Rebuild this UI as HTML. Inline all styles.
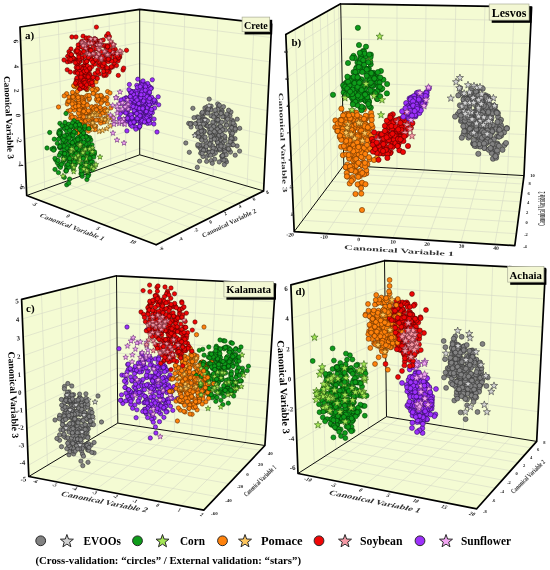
<!DOCTYPE html>
<html><head><meta charset="utf-8"><title>Canonical variable plots</title>
<style>
html,body{margin:0;padding:0;background:#fff}
svg{display:block}
text{font-family:"Liberation Serif",serif;font-weight:bold;fill:#000}
.w{fill:#f4fbd3;stroke:none}
.g{fill:none;stroke:#d5d9c6;stroke-width:.6}
.e{fill:none;stroke:#000;stroke-width:1.7;stroke-linecap:round}
.et{fill:none;stroke:#000;stroke-width:.95}
circle{stroke-width:.6}polygon{stroke-width:.6}
.gy{fill:#828282;stroke:#333}
.gn{fill:#0e9c1a;stroke:#023a05}
.or{fill:#ff820c;stroke:#663000}
.rd{fill:#f00606;stroke:#560000}
.pu{fill:#9d30fb;stroke:#2e0860}
.gys{fill:#d2d2d2;stroke:#3a3a3a}
.gns{fill:#a4e655;stroke:#2f5f12}
.ors{fill:#ffc65c;stroke:#7a4a08}
.rds{fill:#f79aa6;stroke:#7a2a38}
.pus{fill:#f2a6f2;stroke:#6a2a7a}
.pl{font-size:11px}
.ax{fill:#000}
.ax2{fill:#333}
.tk{fill:#222}
.L{stroke-width:1;stroke:#2a2a2a}
</style></head><body>
<svg width="550" height="570" viewBox="0 0 550 570">
<rect width="550" height="570" fill="#fff"/>
<polygon class="w" points="20,27 139.7,9.4 139.7,154.8 26.7,195.5"/>
<path class="g" d="M39 24.2L44.7 189M58.3 21.4L62.9 182.5M76 18.8L79.6 176.5M93 16.3L95.6 170.7M109.1 13.9L110.8 165.2M125 11.6L125.8 159.8M20.5 40.6L139.7 21.2M21.5 65.2L139.7 42.4M22.5 89.9L139.7 63.6M23.5 114.5L139.7 84.9M24.5 139.1L139.7 106.1M25.4 163.7L139.7 127.3M26.4 188.3L139.7 148.5"/>
<polygon class="w" points="139.7,9.4 271.6,24 263.6,190.9 139.7,154.8"/>
<path class="g" d="M153.9 11L153.1 158.7M184.7 14.4L181.9 167.1M217.8 18L213 176.2M254.1 22.1L247.1 186.1M139.7 21.2L271 37.5M139.7 42.4L269.8 61.9M139.7 63.6L268.6 86.3M139.7 84.9L267.4 110.6M139.7 106.1L266.3 135M139.7 127.3L265.1 159.4M139.7 148.5L263.9 183.7"/>
<polygon class="w" points="26.7,195.5 139.7,154.8 263.6,190.9 156.2,244.8"/>
<path class="g" d="M44.7 189L173.3 236.2M62.9 182.5L190.6 227.6M79.6 176.5L206.5 219.6M95.6 170.7L221.7 211.9M110.8 165.2L236.1 204.7M125.8 159.8L250.4 197.5M40.7 200.8L153.1 158.7M70.9 212.3L181.9 167.1M103.4 224.7L213 176.2M139 238.2L247.1 186.1"/>
<path class="et" d="M139.7 9.4L139.7 154.8M26.7 195.5L139.7 154.8M139.7 154.8L263.6 190.9"/>
<path class="e" d="M20 27L139.7 9.4M139.7 9.4L271.6 24M20 27L26.7 195.5M26.7 195.5L156.2 244.8M156.2 244.8L263.6 190.9M271.6 24L263.6 190.9"/>
<circle class="gy" cx="197.3" cy="167.4" r="2.15"/>
<circle class="gy" cx="200.4" cy="135.3" r="2.15"/>
<circle class="gy" cx="206.1" cy="125.5" r="2.15"/>
<circle class="gy" cx="231" cy="126.9" r="2.15"/>
<circle class="gy" cx="206" cy="150.9" r="2.15"/>
<circle class="gy" cx="188.7" cy="123.4" r="2.15"/>
<circle class="gy" cx="222.1" cy="127.7" r="2.15"/>
<circle class="gy" cx="201.3" cy="139.3" r="2.15"/>
<circle class="gy" cx="233.6" cy="125.2" r="2.15"/>
<circle class="gy" cx="228.2" cy="114.7" r="2.15"/>
<circle class="gy" cx="210.8" cy="142.4" r="2.15"/>
<circle class="gy" cx="237.1" cy="146" r="2.15"/>
<circle class="gy" cx="197.9" cy="146.1" r="2.15"/>
<circle class="gy" cx="221.7" cy="156" r="2.15"/>
<circle class="gy" cx="205.9" cy="121.7" r="2.15"/>
<circle class="gy" cx="201.6" cy="133.8" r="2.15"/>
<circle class="gy" cx="218.2" cy="144.3" r="2.15"/>
<circle class="gy" cx="206.6" cy="161.4" r="2.15"/>
<circle class="gy" cx="202.7" cy="144.8" r="2.15"/>
<circle class="gy" cx="218.6" cy="127.5" r="2.15"/>
<circle class="gy" cx="199.8" cy="126.9" r="2.15"/>
<circle class="gy" cx="230" cy="115.6" r="2.15"/>
<circle class="gy" cx="235.2" cy="155.2" r="2.15"/>
<circle class="gy" cx="204" cy="149.5" r="2.15"/>
<circle class="gy" cx="235" cy="138.7" r="2.15"/>
<circle class="gy" cx="235.1" cy="130.7" r="2.15"/>
<circle class="gy" cx="217" cy="120.9" r="2.15"/>
<circle class="gy" cx="217.9" cy="115.9" r="2.15"/>
<circle class="gy" cx="198.4" cy="136.6" r="2.15"/>
<circle class="gy" cx="191.2" cy="123.4" r="2.15"/>
<circle class="gy" cx="234.7" cy="125.1" r="2.15"/>
<circle class="gy" cx="231.1" cy="132.8" r="2.15"/>
<circle class="gy" cx="231.9" cy="141.1" r="2.15"/>
<circle class="gy" cx="214.5" cy="123.9" r="2.15"/>
<circle class="gy" cx="208.8" cy="152.2" r="2.15"/>
<circle class="gy" cx="222" cy="110.4" r="2.15"/>
<circle class="gy" cx="232.4" cy="138.8" r="2.15"/>
<circle class="gy" cx="212.2" cy="115.9" r="2.15"/>
<circle class="gy" cx="232.6" cy="144.8" r="2.15"/>
<circle class="gy" cx="219.8" cy="143.9" r="2.15"/>
<circle class="gy" cx="209.5" cy="133" r="2.15"/>
<circle class="gy" cx="223.5" cy="106.7" r="2.15"/>
<circle class="gy" cx="220.7" cy="145.8" r="2.15"/>
<circle class="gy" cx="222.8" cy="142.5" r="2.15"/>
<circle class="gy" cx="219.9" cy="141" r="2.15"/>
<circle class="gy" cx="204.5" cy="131.5" r="2.15"/>
<circle class="gy" cx="200.2" cy="147.9" r="2.15"/>
<circle class="gy" cx="224.2" cy="116.5" r="2.15"/>
<circle class="gy" cx="211.6" cy="138.2" r="2.15"/>
<circle class="gy" cx="220.4" cy="134.5" r="2.15"/>
<circle class="gy" cx="230.5" cy="152.1" r="2.15"/>
<circle class="gy" cx="202.6" cy="138.1" r="2.15"/>
<circle class="gy" cx="206.5" cy="156.6" r="2.15"/>
<circle class="gy" cx="226.8" cy="149.2" r="2.15"/>
<circle class="gy" cx="212.3" cy="134.7" r="2.15"/>
<circle class="gy" cx="218.4" cy="107.3" r="2.15"/>
<circle class="gy" cx="223.8" cy="155.4" r="2.15"/>
<circle class="gy" cx="216.3" cy="119.4" r="2.15"/>
<circle class="gy" cx="231.4" cy="135.3" r="2.15"/>
<circle class="gy" cx="205.6" cy="124.2" r="2.15"/>
<circle class="gy" cx="185.8" cy="143" r="2.15"/>
<circle class="gy" cx="204.9" cy="108" r="2.15"/>
<circle class="gy" cx="199.3" cy="145.3" r="2.15"/>
<circle class="gy" cx="220.3" cy="139.5" r="2.15"/>
<circle class="gy" cx="211.1" cy="106.1" r="2.15"/>
<circle class="gy" cx="226.2" cy="125.1" r="2.15"/>
<circle class="gy" cx="209.2" cy="99.1" r="2.15"/>
<circle class="gy" cx="230.8" cy="138" r="2.15"/>
<circle class="gy" cx="224.5" cy="152.2" r="2.15"/>
<circle class="gy" cx="218.1" cy="119.8" r="2.15"/>
<circle class="gy" cx="192.9" cy="108.3" r="2.15"/>
<circle class="gy" cx="231.8" cy="120" r="2.15"/>
<circle class="gy" cx="231.1" cy="144.5" r="2.15"/>
<circle class="gy" cx="219.1" cy="148.9" r="2.15"/>
<circle class="gy" cx="216.5" cy="127.8" r="2.15"/>
<circle class="gy" cx="225.4" cy="130.1" r="2.15"/>
<circle class="gy" cx="211" cy="115.8" r="2.15"/>
<circle class="gy" cx="214.3" cy="152.4" r="2.15"/>
<circle class="gy" cx="205.3" cy="112" r="2.15"/>
<circle class="gy" cx="226.5" cy="161.9" r="2.15"/>
<circle class="gy" cx="230.7" cy="139.4" r="2.15"/>
<circle class="gy" cx="226.1" cy="117.1" r="2.15"/>
<circle class="gy" cx="215.6" cy="129" r="2.15"/>
<circle class="gy" cx="210.3" cy="108.8" r="2.15"/>
<circle class="gy" cx="207" cy="107.1" r="2.15"/>
<circle class="gy" cx="200.7" cy="153.2" r="2.15"/>
<circle class="gy" cx="202.7" cy="116.8" r="2.15"/>
<circle class="gy" cx="216.2" cy="114.1" r="2.15"/>
<circle class="gy" cx="233.1" cy="121.5" r="2.15"/>
<circle class="gy" cx="218.1" cy="149.8" r="2.15"/>
<circle class="gy" cx="211" cy="110" r="2.15"/>
<circle class="gy" cx="198.7" cy="131.8" r="2.15"/>
<circle class="gy" cx="225.1" cy="140.7" r="2.15"/>
<circle class="gy" cx="209.1" cy="128.8" r="2.15"/>
<circle class="gy" cx="237.2" cy="119.2" r="2.15"/>
<circle class="gy" cx="202.4" cy="114" r="2.15"/>
<circle class="gy" cx="202.6" cy="129.9" r="2.15"/>
<circle class="gy" cx="228.1" cy="144.9" r="2.15"/>
<circle class="gy" cx="217.7" cy="129.1" r="2.15"/>
<circle class="gy" cx="202.1" cy="119.3" r="2.15"/>
<circle class="gy" cx="207.1" cy="112.5" r="2.15"/>
<circle class="gy" cx="191.1" cy="127" r="2.15"/>
<circle class="gy" cx="214.7" cy="159.2" r="2.15"/>
<circle class="gy" cx="218.2" cy="147.6" r="2.15"/>
<circle class="gy" cx="207.7" cy="110.3" r="2.15"/>
<circle class="gy" cx="229.8" cy="130.2" r="2.15"/>
<circle class="gy" cx="216.7" cy="148.2" r="2.15"/>
<circle class="gy" cx="215.5" cy="137.5" r="2.15"/>
<circle class="gy" cx="209.1" cy="107" r="2.15"/>
<circle class="gy" cx="217.8" cy="109.5" r="2.15"/>
<circle class="gy" cx="223.7" cy="149" r="2.15"/>
<circle class="gy" cx="196" cy="134.2" r="2.15"/>
<circle class="gy" cx="219.2" cy="147.3" r="2.15"/>
<circle class="gy" cx="205.5" cy="123" r="2.15"/>
<circle class="gy" cx="203.8" cy="131.1" r="2.15"/>
<circle class="gy" cx="231.8" cy="127.8" r="2.15"/>
<circle class="gy" cx="210.8" cy="146.3" r="2.15"/>
<circle class="gy" cx="211" cy="160.6" r="2.15"/>
<circle class="gy" cx="202.7" cy="120.2" r="2.15"/>
<circle class="gy" cx="214.2" cy="114.2" r="2.15"/>
<circle class="gy" cx="222.1" cy="111.9" r="2.15"/>
<circle class="gy" cx="215.5" cy="149" r="2.15"/>
<circle class="gy" cx="223.8" cy="148.7" r="2.15"/>
<circle class="gy" cx="219.9" cy="123.8" r="2.15"/>
<circle class="gy" cx="204.8" cy="113.1" r="2.15"/>
<circle class="gy" cx="199.1" cy="125.1" r="2.15"/>
<circle class="gy" cx="211" cy="139.5" r="2.15"/>
<circle class="gy" cx="215.4" cy="153.1" r="2.15"/>
<circle class="gy" cx="211" cy="151.6" r="2.15"/>
<circle class="gy" cx="212.7" cy="145.9" r="2.15"/>
<circle class="gy" cx="213.1" cy="154.3" r="2.15"/>
<circle class="gy" cx="201.7" cy="113.4" r="2.15"/>
<circle class="gy" cx="209.7" cy="144.1" r="2.15"/>
<circle class="gy" cx="210.1" cy="132.3" r="2.15"/>
<circle class="gy" cx="227.2" cy="116.2" r="2.15"/>
<circle class="gy" cx="231" cy="112" r="2.15"/>
<circle class="gy" cx="212.8" cy="122.1" r="2.15"/>
<circle class="gy" cx="225" cy="137.6" r="2.15"/>
<circle class="gy" cx="220.9" cy="132.7" r="2.15"/>
<circle class="gy" cx="216.6" cy="140.1" r="2.15"/>
<circle class="gy" cx="197.4" cy="122.9" r="2.15"/>
<circle class="gy" cx="228.6" cy="110.2" r="2.15"/>
<circle class="gy" cx="221.9" cy="147.1" r="2.15"/>
<circle class="gy" cx="205.2" cy="119.4" r="2.15"/>
<circle class="gy" cx="218.1" cy="133.9" r="2.15"/>
<circle class="gy" cx="231.7" cy="135.1" r="2.15"/>
<circle class="gy" cx="219.9" cy="136.9" r="2.15"/>
<circle class="gy" cx="230.9" cy="122.9" r="2.15"/>
<circle class="gy" cx="202.4" cy="112.3" r="2.15"/>
<circle class="gy" cx="217.8" cy="133.7" r="2.15"/>
<circle class="gy" cx="189.3" cy="152.3" r="2.15"/>
<circle class="gy" cx="217.5" cy="142.1" r="2.15"/>
<circle class="gy" cx="212.3" cy="163.3" r="2.15"/>
<circle class="gy" cx="212.1" cy="135.7" r="2.15"/>
<circle class="gy" cx="197.4" cy="116.9" r="2.15"/>
<circle class="gy" cx="198.2" cy="132.9" r="2.15"/>
<circle class="gy" cx="205.4" cy="148.2" r="2.15"/>
<circle class="gy" cx="205.2" cy="122.7" r="2.15"/>
<circle class="gy" cx="222.7" cy="116.8" r="2.15"/>
<circle class="gy" cx="215.5" cy="132.5" r="2.15"/>
<circle class="gy" cx="190.3" cy="124" r="2.15"/>
<circle class="gy" cx="223.9" cy="146.4" r="2.15"/>
<circle class="gy" cx="218.5" cy="146.7" r="2.15"/>
<circle class="gy" cx="203.4" cy="124.1" r="2.15"/>
<circle class="gy" cx="208.2" cy="109" r="2.15"/>
<circle class="gy" cx="200.3" cy="120" r="2.15"/>
<circle class="gy" cx="201.4" cy="128.7" r="2.15"/>
<circle class="gy" cx="225.6" cy="160.1" r="2.15"/>
<circle class="gy" cx="200.4" cy="120.7" r="2.15"/>
<circle class="gy" cx="218.9" cy="136.3" r="2.15"/>
<circle class="gy" cx="231.1" cy="132.8" r="2.15"/>
<circle class="gy" cx="208" cy="125.9" r="2.15"/>
<circle class="gy" cx="205.6" cy="149.5" r="2.15"/>
<circle class="gy" cx="201.1" cy="149.3" r="2.15"/>
<circle class="gy" cx="229.1" cy="149.6" r="2.15"/>
<circle class="gy" cx="235.4" cy="128.4" r="2.15"/>
<circle class="gy" cx="206.4" cy="142.1" r="2.15"/>
<circle class="gy" cx="216.8" cy="137.8" r="2.15"/>
<circle class="gy" cx="235.2" cy="129" r="2.15"/>
<circle class="gy" cx="232.5" cy="133.3" r="2.15"/>
<circle class="gy" cx="217.6" cy="142.3" r="2.15"/>
<circle class="gy" cx="218.1" cy="137.5" r="2.15"/>
<circle class="gy" cx="221.2" cy="112.6" r="2.15"/>
<circle class="gy" cx="204" cy="136.6" r="2.15"/>
<circle class="gy" cx="239.6" cy="151.1" r="2.15"/>
<circle class="gy" cx="198.6" cy="117.6" r="2.15"/>
<circle class="gy" cx="206.4" cy="146.5" r="2.15"/>
<circle class="gy" cx="211" cy="125.7" r="2.15"/>
<circle class="gy" cx="205.4" cy="140.2" r="2.15"/>
<circle class="gy" cx="225.1" cy="151.8" r="2.15"/>
<circle class="gy" cx="203" cy="156.5" r="2.15"/>
<circle class="gy" cx="231.3" cy="138.5" r="2.15"/>
<circle class="gy" cx="202.1" cy="151.8" r="2.15"/>
<circle class="gy" cx="216.3" cy="113.9" r="2.15"/>
<circle class="gy" cx="210.2" cy="126.7" r="2.15"/>
<circle class="gy" cx="220.2" cy="150.2" r="2.15"/>
<circle class="gy" cx="239.7" cy="128.3" r="2.15"/>
<circle class="gy" cx="224" cy="154.9" r="2.15"/>
<circle class="gy" cx="219.9" cy="148.8" r="2.15"/>
<circle class="gy" cx="220.8" cy="144.8" r="2.15"/>
<circle class="gy" cx="197.5" cy="127.1" r="2.15"/>
<circle class="gy" cx="226.6" cy="125.1" r="2.15"/>
<circle class="gy" cx="195.3" cy="123.6" r="2.15"/>
<circle class="gy" cx="210.7" cy="136.4" r="2.15"/>
<circle class="gy" cx="222" cy="160" r="2.15"/>
<circle class="gy" cx="207.4" cy="113.1" r="2.15"/>
<circle class="gy" cx="207.5" cy="120.8" r="2.15"/>
<circle class="gy" cx="213.6" cy="126.6" r="2.15"/>
<circle class="gy" cx="226.2" cy="154.8" r="2.15"/>
<circle class="gy" cx="201.8" cy="130.5" r="2.15"/>
<circle class="gy" cx="228.4" cy="148.8" r="2.15"/>
<circle class="gy" cx="216.6" cy="139" r="2.15"/>
<circle class="gy" cx="226.8" cy="114.1" r="2.15"/>
<circle class="gy" cx="221.1" cy="146.1" r="2.15"/>
<circle class="gy" cx="214.3" cy="131.6" r="2.15"/>
<circle class="gy" cx="194" cy="117.7" r="2.15"/>
<circle class="gy" cx="201.2" cy="131.1" r="2.15"/>
<circle class="gy" cx="203.5" cy="150.2" r="2.15"/>
<circle class="gy" cx="220.5" cy="126.6" r="2.15"/>
<circle class="gy" cx="197.8" cy="144.7" r="2.15"/>
<circle class="gy" cx="199.6" cy="161.2" r="2.15"/>
<circle class="gy" cx="202.2" cy="153.4" r="2.15"/>
<circle class="gy" cx="217.9" cy="119.8" r="2.15"/>
<circle class="gy" cx="226" cy="120.8" r="2.15"/>
<circle class="gy" cx="230.1" cy="141.8" r="2.15"/>
<circle class="gy" cx="217.7" cy="103.9" r="2.15"/>
<circle class="gy" cx="201.8" cy="140.1" r="2.15"/>
<circle class="gy" cx="208.9" cy="154.9" r="2.15"/>
<circle class="gy" cx="224.6" cy="136.2" r="2.15"/>
<circle class="gy" cx="213.7" cy="117" r="2.15"/>
<polygon class="gys" points="199.4,120.5 200.1,122.4 202.2,122.5 200.6,123.8 201.1,125.7 199.4,124.6 197.7,125.7 198.2,123.8 196.6,122.5 198.7,122.4"/>
<circle class="gy" cx="219.4" cy="105.2" r="2.15"/>
<circle class="gy" cx="222.5" cy="129.8" r="2.15"/>
<circle class="gy" cx="219" cy="135.2" r="2.15"/>
<circle class="gy" cx="211.2" cy="129" r="2.15"/>
<circle class="gy" cx="221" cy="113.5" r="2.15"/>
<polygon class="gys" points="209,102.9 209.7,104.8 211.8,104.9 210.2,106.2 210.7,108.1 209,107 207.3,108.1 207.8,106.2 206.2,104.9 208.3,104.8"/>
<circle class="gy" cx="222.1" cy="134.5" r="2.15"/>
<circle class="gy" cx="224.3" cy="164.7" r="2.15"/>
<circle class="gy" cx="219.9" cy="131.6" r="2.15"/>
<circle class="gy" cx="223.9" cy="160.1" r="2.15"/>
<circle class="gy" cx="215.2" cy="110.1" r="2.15"/>
<circle class="gy" cx="214.4" cy="139.1" r="2.15"/>
<circle class="gy" cx="209.6" cy="152.6" r="2.15"/>
<circle class="gy" cx="221.6" cy="122.2" r="2.15"/>
<circle class="gy" cx="200.4" cy="127.2" r="2.15"/>
<polygon class="gys" points="205,117.1 205.7,119 207.8,119.1 206.2,120.4 206.7,122.3 205,121.2 203.3,122.3 203.8,120.4 202.2,119.1 204.3,119"/>
<circle class="gy" cx="222.2" cy="156.3" r="2.15"/>
<circle class="gy" cx="213.2" cy="148.2" r="2.15"/>
<polygon class="gys" points="194.7,132.6 195.4,134.5 197.5,134.6 195.9,135.9 196.4,137.8 194.7,136.7 193,137.8 193.5,135.9 191.9,134.6 194,134.5"/>
<circle class="gy" cx="227.6" cy="119.1" r="2.15"/>
<circle class="gy" cx="219.2" cy="162" r="2.15"/>
<circle class="gy" cx="212.3" cy="151.8" r="2.15"/>
<circle class="gy" cx="222.6" cy="155.6" r="2.15"/>
<circle class="gy" cx="233.3" cy="144.7" r="2.15"/>
<circle class="gy" cx="210.7" cy="155.3" r="2.15"/>
<circle class="gy" cx="233.1" cy="123.1" r="2.15"/>
<circle class="gy" cx="205.2" cy="137.2" r="2.15"/>
<circle class="gy" cx="198.9" cy="121.1" r="2.15"/>
<circle class="or" cx="100.9" cy="102.1" r="2.15"/>
<circle class="or" cx="98.2" cy="113.4" r="2.15"/>
<circle class="or" cx="76.1" cy="124.1" r="2.15"/>
<circle class="or" cx="97" cy="114.6" r="2.15"/>
<circle class="or" cx="97.3" cy="89.4" r="2.15"/>
<circle class="or" cx="97.9" cy="99.1" r="2.15"/>
<circle class="or" cx="85.1" cy="113.2" r="2.15"/>
<circle class="or" cx="92" cy="119.2" r="2.15"/>
<circle class="or" cx="82.6" cy="111.2" r="2.15"/>
<circle class="or" cx="78.8" cy="109.2" r="2.15"/>
<circle class="or" cx="98.2" cy="120" r="2.15"/>
<circle class="or" cx="83.1" cy="100.1" r="2.15"/>
<circle class="or" cx="75.1" cy="96.2" r="2.15"/>
<circle class="or" cx="79.8" cy="100.8" r="2.15"/>
<circle class="or" cx="84.6" cy="97.3" r="2.15"/>
<circle class="or" cx="95.7" cy="126.6" r="2.15"/>
<circle class="or" cx="93.6" cy="88" r="2.15"/>
<circle class="or" cx="67.3" cy="104" r="2.15"/>
<circle class="or" cx="72.4" cy="96.2" r="2.15"/>
<circle class="or" cx="86.8" cy="89.7" r="2.15"/>
<circle class="or" cx="99.1" cy="107.8" r="2.15"/>
<circle class="or" cx="92" cy="119.2" r="2.15"/>
<circle class="or" cx="108.4" cy="116.6" r="2.15"/>
<circle class="or" cx="82.4" cy="118.2" r="2.15"/>
<circle class="or" cx="77.8" cy="128.4" r="2.15"/>
<circle class="or" cx="67.9" cy="101.4" r="2.15"/>
<circle class="or" cx="70" cy="100" r="2.15"/>
<circle class="or" cx="71.1" cy="101" r="2.15"/>
<circle class="or" cx="79" cy="105.6" r="2.15"/>
<circle class="or" cx="107.5" cy="103.9" r="2.15"/>
<circle class="or" cx="76" cy="129.8" r="2.15"/>
<circle class="or" cx="73.5" cy="97.5" r="2.15"/>
<circle class="or" cx="81.8" cy="117" r="2.15"/>
<circle class="or" cx="68.9" cy="101.1" r="2.15"/>
<circle class="or" cx="88.1" cy="128.2" r="2.15"/>
<circle class="or" cx="83.8" cy="101.1" r="2.15"/>
<circle class="or" cx="89" cy="99.6" r="2.15"/>
<circle class="or" cx="87.4" cy="111.8" r="2.15"/>
<circle class="or" cx="100" cy="114.9" r="2.15"/>
<circle class="or" cx="79.9" cy="87.9" r="2.15"/>
<circle class="or" cx="85.4" cy="120.7" r="2.15"/>
<circle class="or" cx="84.4" cy="128.7" r="2.15"/>
<circle class="or" cx="80.2" cy="104.6" r="2.15"/>
<circle class="or" cx="93.6" cy="93.1" r="2.15"/>
<circle class="or" cx="81.2" cy="100.4" r="2.15"/>
<circle class="or" cx="95.3" cy="129.5" r="2.15"/>
<circle class="or" cx="82.2" cy="106.7" r="2.15"/>
<circle class="or" cx="92.3" cy="124.5" r="2.15"/>
<circle class="or" cx="96.9" cy="89.1" r="2.15"/>
<circle class="or" cx="82.7" cy="122.6" r="2.15"/>
<circle class="or" cx="77.8" cy="109.2" r="2.15"/>
<circle class="or" cx="95.1" cy="90.9" r="2.15"/>
<circle class="or" cx="89.7" cy="114.7" r="2.15"/>
<circle class="or" cx="103" cy="101.2" r="2.15"/>
<circle class="or" cx="99.3" cy="95.8" r="2.15"/>
<circle class="or" cx="76.8" cy="107" r="2.15"/>
<circle class="or" cx="75.3" cy="125.5" r="2.15"/>
<circle class="or" cx="82.2" cy="110.6" r="2.15"/>
<circle class="or" cx="81.1" cy="106.7" r="2.15"/>
<circle class="or" cx="91.7" cy="127.8" r="2.15"/>
<circle class="or" cx="96.5" cy="99.5" r="2.15"/>
<circle class="or" cx="89.4" cy="98.3" r="2.15"/>
<circle class="or" cx="83.9" cy="123.8" r="2.15"/>
<circle class="or" cx="74" cy="121.3" r="2.15"/>
<circle class="or" cx="67.9" cy="111.2" r="2.15"/>
<circle class="or" cx="75.3" cy="94.3" r="2.15"/>
<circle class="or" cx="75.3" cy="95.9" r="2.15"/>
<circle class="or" cx="78.9" cy="119.3" r="2.15"/>
<circle class="or" cx="76.1" cy="119.3" r="2.15"/>
<circle class="or" cx="75.3" cy="105.5" r="2.15"/>
<circle class="or" cx="96.2" cy="120.1" r="2.15"/>
<circle class="or" cx="68.9" cy="96.9" r="2.15"/>
<circle class="or" cx="70.7" cy="117.9" r="2.15"/>
<circle class="or" cx="84.9" cy="125.2" r="2.15"/>
<circle class="or" cx="81" cy="121.8" r="2.15"/>
<circle class="or" cx="106.3" cy="100.3" r="2.15"/>
<circle class="or" cx="82.4" cy="115.1" r="2.15"/>
<circle class="or" cx="81.7" cy="125" r="2.15"/>
<circle class="or" cx="79.9" cy="130.6" r="2.15"/>
<circle class="or" cx="83.4" cy="104.3" r="2.15"/>
<circle class="or" cx="77.6" cy="103.1" r="2.15"/>
<circle class="or" cx="79.8" cy="115.6" r="2.15"/>
<circle class="or" cx="96.2" cy="106.2" r="2.15"/>
<circle class="or" cx="102.5" cy="97.8" r="2.15"/>
<circle class="or" cx="84.6" cy="106.3" r="2.15"/>
<circle class="or" cx="81.2" cy="112.3" r="2.15"/>
<circle class="or" cx="75" cy="102.9" r="2.15"/>
<circle class="or" cx="75" cy="117.5" r="2.15"/>
<circle class="or" cx="83.1" cy="99.6" r="2.15"/>
<circle class="or" cx="78.5" cy="113.2" r="2.15"/>
<circle class="or" cx="76.8" cy="86.9" r="2.15"/>
<circle class="or" cx="102.6" cy="111.9" r="2.15"/>
<circle class="or" cx="102.2" cy="100.9" r="2.15"/>
<circle class="or" cx="74.4" cy="110.1" r="2.15"/>
<circle class="or" cx="71.3" cy="115.2" r="2.15"/>
<circle class="or" cx="106.1" cy="109.8" r="2.15"/>
<circle class="or" cx="81.6" cy="100.4" r="2.15"/>
<circle class="or" cx="101.4" cy="96.3" r="2.15"/>
<circle class="or" cx="92.3" cy="110.2" r="2.15"/>
<circle class="or" cx="72.9" cy="107.7" r="2.15"/>
<circle class="or" cx="105.2" cy="113" r="2.15"/>
<circle class="or" cx="72.7" cy="97.2" r="2.15"/>
<circle class="or" cx="96.9" cy="96" r="2.15"/>
<circle class="or" cx="88.4" cy="131.1" r="2.15"/>
<circle class="or" cx="79.3" cy="109.9" r="2.15"/>
<circle class="or" cx="92.1" cy="107" r="2.15"/>
<circle class="or" cx="103.8" cy="122" r="2.15"/>
<circle class="or" cx="72.9" cy="101.4" r="2.15"/>
<circle class="or" cx="74" cy="98.3" r="2.15"/>
<circle class="or" cx="82.5" cy="105.1" r="2.15"/>
<circle class="or" cx="83.3" cy="105.2" r="2.15"/>
<circle class="or" cx="86.8" cy="104.2" r="2.15"/>
<circle class="or" cx="104.4" cy="109.8" r="2.15"/>
<circle class="or" cx="85.7" cy="121" r="2.15"/>
<circle class="or" cx="107.6" cy="91.6" r="2.15"/>
<circle class="or" cx="93.1" cy="108" r="2.15"/>
<circle class="or" cx="81.5" cy="97.8" r="2.15"/>
<circle class="or" cx="87" cy="89.5" r="2.15"/>
<circle class="or" cx="91.5" cy="106.9" r="2.15"/>
<circle class="or" cx="66.6" cy="93.7" r="2.15"/>
<circle class="or" cx="82.6" cy="125.7" r="2.15"/>
<circle class="or" cx="88.4" cy="86.2" r="2.15"/>
<circle class="or" cx="83.5" cy="112.4" r="2.15"/>
<circle class="or" cx="64.2" cy="95.9" r="2.15"/>
<circle class="or" cx="84.8" cy="109.9" r="2.15"/>
<circle class="or" cx="74.4" cy="86.5" r="2.15"/>
<circle class="or" cx="100.7" cy="123.1" r="2.15"/>
<circle class="or" cx="76.6" cy="123.4" r="2.15"/>
<circle class="or" cx="110.9" cy="107.9" r="2.15"/>
<circle class="or" cx="72.1" cy="117.1" r="2.15"/>
<circle class="or" cx="79.2" cy="97.8" r="2.15"/>
<circle class="or" cx="74.6" cy="103.9" r="2.15"/>
<circle class="or" cx="72.2" cy="103.9" r="2.15"/>
<circle class="or" cx="110" cy="93" r="2.15"/>
<circle class="or" cx="81.2" cy="97.2" r="2.15"/>
<circle class="or" cx="78.7" cy="101.5" r="2.15"/>
<circle class="or" cx="91.7" cy="118.5" r="2.15"/>
<circle class="or" cx="90.3" cy="118.5" r="2.15"/>
<circle class="or" cx="89.2" cy="120.8" r="2.15"/>
<circle class="or" cx="75.8" cy="130.4" r="2.15"/>
<circle class="or" cx="97.6" cy="101.1" r="2.15"/>
<circle class="or" cx="82" cy="98" r="2.15"/>
<circle class="or" cx="98.4" cy="99.1" r="2.15"/>
<circle class="or" cx="75.6" cy="106.6" r="2.15"/>
<circle class="or" cx="75.8" cy="127.8" r="2.15"/>
<circle class="or" cx="77.4" cy="91.4" r="2.15"/>
<circle class="or" cx="78.5" cy="133.6" r="2.15"/>
<circle class="or" cx="104.5" cy="119.2" r="2.15"/>
<circle class="or" cx="102.9" cy="113" r="2.15"/>
<circle class="or" cx="88.6" cy="126" r="2.15"/>
<circle class="or" cx="87.8" cy="112.8" r="2.15"/>
<circle class="or" cx="92.2" cy="89.6" r="2.15"/>
<circle class="or" cx="85.4" cy="110.3" r="2.15"/>
<circle class="or" cx="88.3" cy="112.7" r="2.15"/>
<circle class="or" cx="72.5" cy="92.4" r="2.15"/>
<circle class="or" cx="94.6" cy="125.8" r="2.15"/>
<circle class="or" cx="87.8" cy="125.8" r="2.15"/>
<circle class="or" cx="86" cy="112.6" r="2.15"/>
<circle class="or" cx="79.7" cy="100" r="2.15"/>
<circle class="or" cx="101.1" cy="103.1" r="2.15"/>
<circle class="or" cx="106.9" cy="97.5" r="2.15"/>
<circle class="or" cx="94.8" cy="107.2" r="2.15"/>
<circle class="or" cx="82.1" cy="99.9" r="2.15"/>
<circle class="or" cx="96" cy="81.9" r="2.15"/>
<circle class="or" cx="93.4" cy="108.7" r="2.15"/>
<circle class="or" cx="70.2" cy="110.4" r="2.15"/>
<circle class="or" cx="73.6" cy="85.7" r="2.15"/>
<circle class="or" cx="97.5" cy="112.3" r="2.15"/>
<circle class="or" cx="83" cy="116" r="2.15"/>
<circle class="or" cx="94.7" cy="110.4" r="2.15"/>
<circle class="or" cx="87.1" cy="95.6" r="2.15"/>
<circle class="or" cx="78" cy="82.2" r="2.15"/>
<circle class="or" cx="89.5" cy="111.5" r="2.15"/>
<circle class="or" cx="88.4" cy="110.8" r="2.15"/>
<circle class="or" cx="101.2" cy="109.1" r="2.15"/>
<circle class="or" cx="100" cy="107.5" r="2.15"/>
<circle class="or" cx="89.1" cy="95.4" r="2.15"/>
<circle class="or" cx="88.2" cy="119.3" r="2.15"/>
<circle class="or" cx="100.9" cy="95.4" r="2.15"/>
<circle class="or" cx="93.3" cy="93.4" r="2.15"/>
<circle class="or" cx="58.5" cy="107" r="2.15"/>
<circle class="or" cx="83.4" cy="131.8" r="2.15"/>
<circle class="or" cx="79.3" cy="102.7" r="2.15"/>
<circle class="or" cx="105" cy="99.5" r="2.15"/>
<circle class="or" cx="77.6" cy="96" r="2.15"/>
<polygon class="ors" points="106.7,125.9 107.4,127.8 109.5,127.9 107.9,129.1 108.4,131.1 106.7,130 105,131.1 105.6,129.1 104,127.9 106,127.8"/>
<circle class="or" cx="82.5" cy="101.7" r="2.15"/>
<polygon class="ors" points="88.6,113.6 89.3,115.5 91.3,115.6 89.7,116.9 90.3,118.9 88.6,117.7 86.8,118.9 87.4,116.9 85.8,115.6 87.8,115.5"/>
<circle class="or" cx="82.5" cy="132.2" r="2.15"/>
<circle class="or" cx="96.5" cy="109.8" r="2.15"/>
<polygon class="ors" points="94.8,122.8 95.5,124.8 97.6,124.8 96,126.1 96.5,128.1 94.8,127 93.1,128.1 93.7,126.1 92.1,124.8 94.1,124.8"/>
<polygon class="ors" points="99.2,128.6 99.9,130.5 102,130.6 100.4,131.9 100.9,133.8 99.2,132.7 97.5,133.8 98,131.9 96.4,130.6 98.5,130.5"/>
<circle class="or" cx="78.3" cy="99.7" r="2.15"/>
<polygon class="ors" points="92.5,126.8 93.3,128.7 95.3,128.8 93.7,130.1 94.3,132 92.5,130.9 90.8,132 91.4,130.1 89.8,128.8 91.8,128.7"/>
<polygon class="ors" points="104.8,116.2 105.5,118.1 107.6,118.2 106,119.5 106.5,121.5 104.8,120.3 103.1,121.5 103.7,119.5 102.1,118.2 104.1,118.1"/>
<circle class="or" cx="104.8" cy="108.6" r="2.15"/>
<circle class="or" cx="78.7" cy="105.9" r="2.15"/>
<circle class="or" cx="105.2" cy="110.8" r="2.15"/>
<circle class="or" cx="100.9" cy="120.3" r="2.15"/>
<circle class="or" cx="73" cy="96.9" r="2.15"/>
<circle class="or" cx="89.8" cy="116.3" r="2.15"/>
<polygon class="ors" points="112.8,116.7 113.5,118.6 115.6,118.7 114,120 114.5,122 112.8,120.8 111.1,122 111.6,120 110,118.7 112.1,118.6"/>
<polygon class="ors" points="112,114.2 112.7,116.1 114.8,116.2 113.2,117.5 113.7,119.4 112,118.3 110.3,119.4 110.9,117.5 109.3,116.2 111.3,116.1"/>
<polygon class="ors" points="89.5,114.2 90.2,116.1 92.2,116.2 90.6,117.5 91.2,119.5 89.5,118.3 87.7,119.5 88.3,117.5 86.7,116.2 88.7,116.1"/>
<circle class="or" cx="83.6" cy="116.9" r="2.15"/>
<circle class="or" cx="97.2" cy="96" r="2.15"/>
<polygon class="ors" points="107.1,118.7 107.8,120.7 109.8,120.8 108.2,122 108.8,124 107.1,122.9 105.4,124 105.9,122 104.3,120.8 106.4,120.7"/>
<circle class="or" cx="83.8" cy="102.7" r="2.15"/>
<polygon class="ors" points="102.5,127.5 103.2,129.5 105.3,129.6 103.7,130.8 104.2,132.8 102.5,131.7 100.8,132.8 101.4,130.8 99.8,129.6 101.8,129.5"/>
<polygon class="ors" points="94.3,109.9 95,111.8 97.1,111.9 95.5,113.2 96,115.1 94.3,114 92.6,115.1 93.2,113.2 91.6,111.9 93.6,111.8"/>
<circle class="or" cx="83.7" cy="111.3" r="2.15"/>
<polygon class="ors" points="97.1,111.6 97.8,113.5 99.9,113.6 98.3,114.9 98.8,116.9 97.1,115.7 95.4,116.9 95.9,114.9 94.3,113.6 96.4,113.5"/>
<polygon class="ors" points="94.8,112.2 95.5,114.1 97.6,114.2 96,115.4 96.5,117.4 94.8,116.3 93.1,117.4 93.7,115.4 92.1,114.2 94.1,114.1"/>
<polygon class="ors" points="107.3,107.8 108,109.7 110,109.8 108.4,111.1 109,113.1 107.3,111.9 105.5,113.1 106.1,111.1 104.5,109.8 106.5,109.7"/>
<polygon class="ors" points="102,115.8 102.8,117.7 104.8,117.8 103.2,119 103.7,121 102,119.9 100.3,121 100.9,119 99.3,117.8 101.3,117.7"/>
<polygon class="ors" points="105.1,116.7 105.8,118.6 107.9,118.7 106.3,120 106.8,121.9 105.1,120.8 103.4,121.9 103.9,120 102.3,118.7 104.4,118.6"/>
<polygon class="ors" points="110.3,123 111,124.9 113.1,125 111.5,126.3 112,128.3 110.3,127.1 108.6,128.3 109.1,126.3 107.5,125 109.6,124.9"/>
<circle class="or" cx="87.1" cy="89.1" r="2.15"/>
<polygon class="ors" points="92.4,119.8 93.1,121.7 95.1,121.8 93.5,123.1 94.1,125 92.4,123.9 90.7,125 91.2,123.1 89.6,121.8 91.6,121.7"/>
<polygon class="ors" points="108.6,114.7 109.3,116.6 111.4,116.7 109.8,118 110.3,120 108.6,118.9 106.9,120 107.4,118 105.8,116.7 107.9,116.6"/>
<polygon class="ors" points="92.6,120.2 93.3,122.1 95.4,122.2 93.8,123.5 94.3,125.4 92.6,124.3 90.9,125.4 91.5,123.5 89.9,122.2 91.9,122.1"/>
<circle class="or" cx="78.1" cy="97.4" r="2.15"/>
<polygon class="ors" points="92.5,112.4 93.2,114.3 95.2,114.4 93.6,115.7 94.2,117.7 92.5,116.5 90.8,117.7 91.3,115.7 89.7,114.4 91.8,114.3"/>
<circle class="or" cx="87.3" cy="105.2" r="2.15"/>
<circle class="rd" cx="99" cy="65.3" r="2.15"/>
<circle class="rd" cx="105" cy="57.6" r="2.15"/>
<circle class="rd" cx="78.6" cy="59.9" r="2.15"/>
<circle class="rd" cx="101.1" cy="56.3" r="2.15"/>
<circle class="rd" cx="71.2" cy="61.1" r="2.15"/>
<circle class="rd" cx="102.4" cy="45.4" r="2.15"/>
<circle class="rd" cx="85.8" cy="76.1" r="2.15"/>
<circle class="rd" cx="100" cy="63.2" r="2.15"/>
<circle class="rd" cx="90.1" cy="58.4" r="2.15"/>
<circle class="rd" cx="88.3" cy="78.8" r="2.15"/>
<circle class="rd" cx="82.5" cy="87.9" r="2.15"/>
<circle class="rd" cx="90.5" cy="49.5" r="2.15"/>
<circle class="rd" cx="98.5" cy="59.9" r="2.15"/>
<circle class="rd" cx="79.8" cy="88.5" r="2.15"/>
<circle class="rd" cx="70.9" cy="49" r="2.15"/>
<circle class="rd" cx="86.2" cy="88.5" r="2.15"/>
<circle class="rd" cx="77.6" cy="63.6" r="2.15"/>
<circle class="rd" cx="123" cy="70" r="2.15"/>
<circle class="rd" cx="82.4" cy="57.9" r="2.15"/>
<circle class="rd" cx="85.1" cy="56.4" r="2.15"/>
<circle class="rd" cx="98.5" cy="49.5" r="2.15"/>
<circle class="rd" cx="90.5" cy="84.2" r="2.15"/>
<circle class="rd" cx="80.8" cy="42.9" r="2.15"/>
<circle class="rd" cx="83.7" cy="75.4" r="2.15"/>
<circle class="rd" cx="112.7" cy="52.5" r="2.15"/>
<circle class="rd" cx="74.7" cy="59.2" r="2.15"/>
<circle class="rd" cx="94.9" cy="43.7" r="2.15"/>
<circle class="rd" cx="68.9" cy="61.3" r="2.15"/>
<circle class="rd" cx="103.6" cy="65.6" r="2.15"/>
<circle class="rd" cx="96.9" cy="41.2" r="2.15"/>
<circle class="rd" cx="89.7" cy="74.2" r="2.15"/>
<circle class="rd" cx="75.7" cy="50.9" r="2.15"/>
<circle class="rd" cx="83.6" cy="72.1" r="2.15"/>
<circle class="rd" cx="67.3" cy="61.8" r="2.15"/>
<circle class="rd" cx="106.2" cy="48.4" r="2.15"/>
<circle class="rd" cx="93.2" cy="42" r="2.15"/>
<circle class="rd" cx="107.7" cy="46.5" r="2.15"/>
<circle class="rd" cx="76.3" cy="80" r="2.15"/>
<circle class="rd" cx="88.1" cy="49" r="2.15"/>
<circle class="rd" cx="76.2" cy="52" r="2.15"/>
<circle class="rd" cx="94.6" cy="38.6" r="2.15"/>
<circle class="rd" cx="79.7" cy="71.6" r="2.15"/>
<circle class="rd" cx="114.7" cy="59.6" r="2.15"/>
<circle class="rd" cx="79.9" cy="89" r="2.15"/>
<circle class="rd" cx="75" cy="72.3" r="2.15"/>
<circle class="rd" cx="97" cy="46.7" r="2.15"/>
<circle class="rd" cx="85.3" cy="80.2" r="2.15"/>
<circle class="rd" cx="114.5" cy="53.5" r="2.15"/>
<circle class="rd" cx="106.5" cy="36" r="2.15"/>
<circle class="rd" cx="89.9" cy="38.9" r="2.15"/>
<circle class="rd" cx="76.9" cy="63.5" r="2.15"/>
<circle class="rd" cx="109.1" cy="71.1" r="2.15"/>
<circle class="rd" cx="67.7" cy="56.3" r="2.15"/>
<circle class="rd" cx="109.4" cy="36.5" r="2.15"/>
<circle class="rd" cx="104.8" cy="65.9" r="2.15"/>
<circle class="rd" cx="78.1" cy="60" r="2.15"/>
<circle class="rd" cx="105" cy="61.2" r="2.15"/>
<circle class="rd" cx="91.7" cy="77.1" r="2.15"/>
<circle class="rd" cx="108.8" cy="60.5" r="2.15"/>
<circle class="rd" cx="108.5" cy="57.2" r="2.15"/>
<circle class="rd" cx="85.6" cy="75.9" r="2.15"/>
<circle class="rd" cx="112.8" cy="66.7" r="2.15"/>
<circle class="rd" cx="98" cy="69.8" r="2.15"/>
<circle class="rd" cx="93" cy="42.7" r="2.15"/>
<circle class="rd" cx="91.8" cy="43.7" r="2.15"/>
<circle class="rd" cx="93.5" cy="54.6" r="2.15"/>
<circle class="rd" cx="89.8" cy="69.6" r="2.15"/>
<circle class="rd" cx="89.5" cy="53.6" r="2.15"/>
<circle class="rd" cx="81.4" cy="83.1" r="2.15"/>
<circle class="rd" cx="86" cy="41" r="2.15"/>
<circle class="rd" cx="87.1" cy="73.1" r="2.15"/>
<circle class="rd" cx="84" cy="67.7" r="2.15"/>
<circle class="rd" cx="97.3" cy="58" r="2.15"/>
<circle class="rd" cx="78.2" cy="45" r="2.15"/>
<circle class="rd" cx="89.1" cy="57.4" r="2.15"/>
<circle class="rd" cx="80" cy="61.1" r="2.15"/>
<circle class="rd" cx="123.7" cy="68.1" r="2.15"/>
<circle class="rd" cx="104.9" cy="45.7" r="2.15"/>
<circle class="rd" cx="81.7" cy="46.2" r="2.15"/>
<circle class="rd" cx="106.1" cy="75.3" r="2.15"/>
<circle class="rd" cx="106.7" cy="47.2" r="2.15"/>
<circle class="rd" cx="79.6" cy="79.7" r="2.15"/>
<circle class="rd" cx="81.6" cy="47" r="2.15"/>
<circle class="rd" cx="116.5" cy="65.5" r="2.15"/>
<circle class="rd" cx="71.5" cy="55.1" r="2.15"/>
<circle class="rd" cx="76.8" cy="71.8" r="2.15"/>
<circle class="rd" cx="95.6" cy="47.8" r="2.15"/>
<circle class="rd" cx="118.1" cy="60.8" r="2.15"/>
<circle class="rd" cx="71.9" cy="37" r="2.15"/>
<circle class="rd" cx="69" cy="51.7" r="2.15"/>
<circle class="rd" cx="103.8" cy="75.6" r="2.15"/>
<circle class="rd" cx="90.3" cy="51.8" r="2.15"/>
<circle class="rd" cx="113" cy="53.8" r="2.15"/>
<circle class="rd" cx="111.1" cy="43.1" r="2.15"/>
<circle class="rd" cx="69.8" cy="61" r="2.15"/>
<circle class="rd" cx="94.9" cy="60.2" r="2.15"/>
<circle class="rd" cx="94.7" cy="64.2" r="2.15"/>
<circle class="rd" cx="79.2" cy="59" r="2.15"/>
<circle class="rd" cx="103.7" cy="59.2" r="2.15"/>
<circle class="rd" cx="77.8" cy="48.5" r="2.15"/>
<circle class="rd" cx="109.1" cy="55.2" r="2.15"/>
<circle class="rd" cx="76.2" cy="84.2" r="2.15"/>
<circle class="rd" cx="85.3" cy="72.6" r="2.15"/>
<circle class="rd" cx="99.7" cy="44.5" r="2.15"/>
<circle class="rd" cx="81.9" cy="43.4" r="2.15"/>
<circle class="rd" cx="96.4" cy="77.7" r="2.15"/>
<circle class="rd" cx="77.3" cy="65.1" r="2.15"/>
<circle class="rd" cx="64" cy="60" r="2.15"/>
<circle class="rd" cx="91.7" cy="66.8" r="2.15"/>
<circle class="rd" cx="110.8" cy="67.7" r="2.15"/>
<circle class="rd" cx="107.5" cy="56.9" r="2.15"/>
<circle class="rd" cx="88.3" cy="69.7" r="2.15"/>
<circle class="rd" cx="105.8" cy="70" r="2.15"/>
<circle class="rd" cx="81.6" cy="58.1" r="2.15"/>
<circle class="rd" cx="87.1" cy="48.8" r="2.15"/>
<circle class="rd" cx="101.4" cy="51.8" r="2.15"/>
<circle class="rd" cx="96.1" cy="40.2" r="2.15"/>
<circle class="rd" cx="83.4" cy="46" r="2.15"/>
<circle class="rd" cx="83.1" cy="36.2" r="2.15"/>
<circle class="rd" cx="104.8" cy="58.7" r="2.15"/>
<circle class="rd" cx="107.7" cy="53.5" r="2.15"/>
<circle class="rd" cx="92.8" cy="49.7" r="2.15"/>
<circle class="rd" cx="90.1" cy="52.7" r="2.15"/>
<circle class="rd" cx="79.2" cy="76.4" r="2.15"/>
<circle class="rd" cx="107.4" cy="47.2" r="2.15"/>
<circle class="rd" cx="110.2" cy="45.7" r="2.15"/>
<circle class="rd" cx="89.3" cy="39.9" r="2.15"/>
<circle class="rd" cx="86.4" cy="50" r="2.15"/>
<circle class="rd" cx="84.7" cy="87.2" r="2.15"/>
<circle class="rd" cx="93.1" cy="47.4" r="2.15"/>
<circle class="rd" cx="83.6" cy="66" r="2.15"/>
<circle class="rd" cx="81.5" cy="66.8" r="2.15"/>
<circle class="rd" cx="95.1" cy="73.6" r="2.15"/>
<circle class="rd" cx="89.2" cy="75" r="2.15"/>
<circle class="rd" cx="107.1" cy="59.6" r="2.15"/>
<circle class="rd" cx="92.1" cy="80.8" r="2.15"/>
<circle class="rd" cx="90.7" cy="56.8" r="2.15"/>
<circle class="rd" cx="76.9" cy="77.9" r="2.15"/>
<circle class="rd" cx="83" cy="68.4" r="2.15"/>
<circle class="rd" cx="79.3" cy="61.9" r="2.15"/>
<circle class="rd" cx="108.8" cy="53.4" r="2.15"/>
<circle class="rd" cx="117" cy="58.8" r="2.15"/>
<circle class="rd" cx="90.2" cy="58.5" r="2.15"/>
<circle class="rd" cx="102" cy="67.5" r="2.15"/>
<circle class="rd" cx="96.7" cy="56.1" r="2.15"/>
<circle class="rd" cx="96.4" cy="27.1" r="2.15"/>
<circle class="rd" cx="79.9" cy="53.2" r="2.15"/>
<circle class="rd" cx="93.5" cy="42.4" r="2.15"/>
<circle class="rd" cx="114.2" cy="63" r="2.15"/>
<circle class="rd" cx="86" cy="62.8" r="2.15"/>
<circle class="rd" cx="71" cy="54.9" r="2.15"/>
<circle class="rd" cx="107" cy="54.3" r="2.15"/>
<circle class="rd" cx="79.4" cy="73" r="2.15"/>
<circle class="rd" cx="68.9" cy="58.9" r="2.15"/>
<circle class="rd" cx="98.8" cy="61.9" r="2.15"/>
<circle class="rd" cx="77.4" cy="69.6" r="2.15"/>
<circle class="rd" cx="79.4" cy="83.1" r="2.15"/>
<circle class="rd" cx="118.3" cy="75.4" r="2.15"/>
<circle class="rd" cx="115.2" cy="49.3" r="2.15"/>
<circle class="rd" cx="90.6" cy="52.3" r="2.15"/>
<circle class="rd" cx="102.5" cy="65.8" r="2.15"/>
<circle class="rd" cx="76" cy="37" r="2.15"/>
<circle class="rd" cx="78.6" cy="54.3" r="2.15"/>
<circle class="rd" cx="119.6" cy="57.5" r="2.15"/>
<circle class="rd" cx="67.2" cy="69.8" r="2.15"/>
<circle class="rd" cx="112.9" cy="50.1" r="2.15"/>
<circle class="rd" cx="100.6" cy="40.8" r="2.15"/>
<circle class="rd" cx="82.6" cy="86.7" r="2.15"/>
<circle class="rd" cx="69.6" cy="53.9" r="2.15"/>
<circle class="rd" cx="89.4" cy="43.6" r="2.15"/>
<circle class="rd" cx="87.9" cy="76.1" r="2.15"/>
<circle class="rd" cx="96.9" cy="60" r="2.15"/>
<circle class="rd" cx="108.1" cy="33.7" r="2.15"/>
<circle class="rd" cx="82.8" cy="78.4" r="2.15"/>
<circle class="rd" cx="98" cy="46.6" r="2.15"/>
<circle class="rd" cx="113.2" cy="53" r="2.15"/>
<circle class="rd" cx="81" cy="78.3" r="2.15"/>
<circle class="rd" cx="83.5" cy="47.8" r="2.15"/>
<circle class="rd" cx="93.1" cy="77.4" r="2.15"/>
<circle class="rd" cx="81.8" cy="53" r="2.15"/>
<circle class="rd" cx="119.8" cy="55.9" r="2.15"/>
<circle class="rd" cx="84" cy="71.4" r="2.15"/>
<circle class="rd" cx="85" cy="83.5" r="2.15"/>
<circle class="rd" cx="73.4" cy="58.4" r="2.15"/>
<circle class="rd" cx="81.3" cy="68.3" r="2.15"/>
<circle class="rd" cx="97.4" cy="78.4" r="2.15"/>
<circle class="rd" cx="108.9" cy="72.1" r="2.15"/>
<circle class="rd" cx="79.5" cy="71.3" r="2.15"/>
<circle class="rd" cx="107.3" cy="45.7" r="2.15"/>
<circle class="rd" cx="87" cy="46.2" r="2.15"/>
<circle class="rd" cx="115.3" cy="56.7" r="2.15"/>
<circle class="rd" cx="111.3" cy="66.7" r="2.15"/>
<circle class="rd" cx="85.4" cy="62.5" r="2.15"/>
<circle class="rd" cx="85.7" cy="68.5" r="2.15"/>
<circle class="rd" cx="84" cy="44" r="2.15"/>
<circle class="rd" cx="87.5" cy="65.9" r="2.15"/>
<circle class="rd" cx="106.9" cy="70.7" r="2.15"/>
<circle class="rd" cx="84" cy="80.4" r="2.15"/>
<circle class="rd" cx="79.7" cy="66.9" r="2.15"/>
<circle class="rd" cx="104.2" cy="74.3" r="2.15"/>
<circle class="rd" cx="86.7" cy="70.8" r="2.15"/>
<circle class="rd" cx="70.3" cy="72" r="2.15"/>
<circle class="rd" cx="107.1" cy="67.8" r="2.15"/>
<circle class="rd" cx="80.9" cy="73.7" r="2.15"/>
<circle class="rd" cx="96" cy="39.6" r="2.15"/>
<circle class="rd" cx="93.6" cy="61" r="2.15"/>
<circle class="rd" cx="95.5" cy="39.8" r="2.15"/>
<circle class="rd" cx="91.9" cy="51.5" r="2.15"/>
<circle class="rd" cx="89.4" cy="81.2" r="2.15"/>
<circle class="rd" cx="83.9" cy="83" r="2.15"/>
<circle class="rd" cx="79" cy="51.9" r="2.15"/>
<circle class="rd" cx="73" cy="58.2" r="2.15"/>
<circle class="rd" cx="103.6" cy="71.4" r="2.15"/>
<circle class="rd" cx="77.6" cy="73.1" r="2.15"/>
<circle class="rd" cx="86.2" cy="48.2" r="2.15"/>
<circle class="rd" cx="81.8" cy="41.5" r="2.15"/>
<circle class="rd" cx="77.7" cy="61.8" r="2.15"/>
<circle class="rd" cx="103.2" cy="40" r="2.15"/>
<circle class="rd" cx="85.3" cy="61.9" r="2.15"/>
<circle class="rd" cx="91" cy="51" r="2.15"/>
<circle class="rd" cx="99.4" cy="73.9" r="2.15"/>
<circle class="rd" cx="70.8" cy="59.4" r="2.15"/>
<circle class="rd" cx="83.4" cy="42" r="2.15"/>
<circle class="rd" cx="115.1" cy="60.2" r="2.15"/>
<circle class="rd" cx="84.9" cy="61.9" r="2.15"/>
<circle class="rd" cx="85.1" cy="82.7" r="2.15"/>
<circle class="rd" cx="102.3" cy="56.4" r="2.15"/>
<circle class="rd" cx="126.5" cy="50.3" r="2.15"/>
<circle class="rd" cx="87.1" cy="60.8" r="2.15"/>
<circle class="rd" cx="88.2" cy="77" r="2.15"/>
<circle class="rd" cx="90.5" cy="40.1" r="2.15"/>
<circle class="rd" cx="80.8" cy="85.1" r="2.15"/>
<circle class="rd" cx="76.3" cy="67.4" r="2.15"/>
<circle class="rd" cx="89.7" cy="68.2" r="2.15"/>
<circle class="rd" cx="106.7" cy="49.7" r="2.15"/>
<circle class="rd" cx="118.6" cy="57.7" r="2.15"/>
<circle class="rd" cx="110.3" cy="57.1" r="2.15"/>
<circle class="rd" cx="108.2" cy="61.7" r="2.15"/>
<circle class="rd" cx="79.2" cy="59" r="2.15"/>
<circle class="rd" cx="117.5" cy="56" r="2.15"/>
<circle class="rd" cx="71.3" cy="54.6" r="2.15"/>
<circle class="rd" cx="92.8" cy="52.7" r="2.15"/>
<circle class="rd" cx="75.3" cy="62.8" r="2.15"/>
<circle class="rd" cx="77.9" cy="67.8" r="2.15"/>
<circle class="rd" cx="104" cy="63.3" r="2.15"/>
<circle class="rd" cx="78.8" cy="57" r="2.15"/>
<circle class="rd" cx="94.8" cy="53.7" r="2.15"/>
<circle class="rd" cx="77.2" cy="51" r="2.15"/>
<circle class="rd" cx="91.5" cy="60" r="2.15"/>
<polygon class="rds" points="81.7,39.6 82.4,41.5 84.5,41.6 82.9,42.8 83.4,44.8 81.7,43.7 80,44.8 80.6,42.8 79,41.6 81,41.5"/>
<polygon class="rds" points="85.1,40.8 85.8,42.7 87.9,42.8 86.3,44.1 86.8,46.1 85.1,44.9 83.4,46.1 84,44.1 82.4,42.8 84.4,42.7"/>
<circle class="rd" cx="88.4" cy="57.4" r="2.15"/>
<polygon class="rds" points="88.7,40.5 89.5,42.4 91.5,42.5 89.9,43.8 90.5,45.7 88.7,44.6 87,45.7 87.6,43.8 86,42.5 88,42.4"/>
<circle class="rd" cx="111.7" cy="61.2" r="2.15"/>
<circle class="rd" cx="108.8" cy="59.2" r="2.15"/>
<circle class="rd" cx="89.9" cy="83.4" r="2.15"/>
<circle class="rd" cx="92.8" cy="85.1" r="2.15"/>
<polygon class="rds" points="84.8,38.3 85.5,40.2 87.6,40.3 86,41.5 86.5,43.5 84.8,42.4 83.1,43.5 83.7,41.5 82.1,40.3 84.1,40.2"/>
<polygon class="rds" points="98.6,51.4 99.4,53.3 101.4,53.4 99.8,54.7 100.3,56.6 98.6,55.5 96.9,56.6 97.5,54.7 95.9,53.4 97.9,53.3"/>
<polygon class="rds" points="121.3,49.5 122.1,51.4 124.1,51.5 122.5,52.7 123.1,54.7 121.3,53.6 119.6,54.7 120.2,52.7 118.6,51.5 120.6,51.4"/>
<polygon class="rds" points="120,48.1 120.7,50 122.8,50.1 121.2,51.4 121.7,53.3 120,52.2 118.3,53.3 118.9,51.4 117.3,50.1 119.3,50"/>
<circle class="rd" cx="81" cy="77.1" r="2.15"/>
<circle class="rd" cx="76.6" cy="81.8" r="2.15"/>
<circle class="rd" cx="108.3" cy="59.1" r="2.15"/>
<polygon class="rds" points="95,36.2 95.7,38.1 97.8,38.2 96.2,39.5 96.7,41.4 95,40.3 93.3,41.4 93.9,39.5 92.3,38.2 94.3,38.1"/>
<polygon class="rds" points="112.2,49.2 113,51.1 115,51.2 113.4,52.4 114,54.4 112.2,53.3 110.5,54.4 111.1,52.4 109.5,51.2 111.5,51.1"/>
<polygon class="rds" points="82.3,39.9 83,41.8 85,41.9 83.4,43.2 84,45.2 82.3,44 80.6,45.2 81.1,43.2 79.5,41.9 81.6,41.8"/>
<circle class="rd" cx="95.4" cy="59.5" r="2.15"/>
<circle class="rd" cx="86.2" cy="38" r="2.15"/>
<circle class="rd" cx="110" cy="50.6" r="2.15"/>
<polygon class="rds" points="96.6,54 97.4,56 99.4,56 97.8,57.3 98.4,59.3 96.6,58.2 94.9,59.3 95.5,57.3 93.9,56 95.9,56"/>
<polygon class="rds" points="84.7,48.6 85.5,50.5 87.5,50.6 85.9,51.9 86.5,53.9 84.7,52.7 83,53.9 83.6,51.9 82,50.6 84,50.5"/>
<polygon class="rds" points="85.6,45.5 86.3,47.4 88.4,47.5 86.8,48.8 87.3,50.7 85.6,49.6 83.9,50.7 84.5,48.8 82.9,47.5 84.9,47.4"/>
<polygon class="rds" points="93.8,50.5 94.5,52.5 96.5,52.6 94.9,53.8 95.5,55.8 93.8,54.7 92.1,55.8 92.6,53.8 91,52.6 93.1,52.5"/>
<polygon class="rds" points="84.3,41.2 85.1,43.2 87.1,43.2 85.5,44.5 86.1,46.5 84.3,45.4 82.6,46.5 83.2,44.5 81.6,43.2 83.6,43.2"/>
<circle class="rd" cx="88.9" cy="37.8" r="2.15"/>
<polygon class="rds" points="91.6,40.5 92.3,42.4 94.3,42.5 92.7,43.8 93.3,45.7 91.6,44.6 89.9,45.7 90.4,43.8 88.8,42.5 90.9,42.4"/>
<circle class="rd" cx="105.6" cy="53.8" r="2.15"/>
<circle class="rd" cx="96.3" cy="47.5" r="2.15"/>
<polygon class="rds" points="106.4,50.8 107.1,52.7 109.1,52.8 107.5,54 108.1,56 106.4,54.9 104.7,56 105.2,54 103.6,52.8 105.6,52.7"/>
<polygon class="rds" points="97.2,42 97.9,43.9 100,44 98.4,45.3 98.9,47.2 97.2,46.1 95.5,47.2 96,45.3 94.4,44 96.5,43.9"/>
<polygon class="rds" points="110.8,38.4 111.5,40.3 113.5,40.4 111.9,41.6 112.5,43.6 110.8,42.5 109.1,43.6 109.6,41.6 108,40.4 110.1,40.3"/>
<polygon class="rds" points="113.8,42 114.5,43.9 116.6,44 115,45.3 115.5,47.3 113.8,46.1 112.1,47.3 112.7,45.3 111.1,44 113.1,43.9"/>
<circle class="rd" cx="97.7" cy="71.9" r="2.15"/>
<polygon class="rds" points="90.9,36 91.6,37.9 93.6,38 92,39.2 92.6,41.2 90.9,40.1 89.2,41.2 89.7,39.2 88.1,38 90.1,37.9"/>
<polygon class="rds" points="84.8,42.3 85.5,44.2 87.6,44.3 86,45.6 86.5,47.6 84.8,46.4 83.1,47.6 83.6,45.6 82,44.3 84.1,44.2"/>
<circle class="rd" cx="75.4" cy="83.1" r="2.15"/>
<polygon class="rds" points="83,42.6 83.8,44.5 85.8,44.6 84.2,45.9 84.7,47.8 83,46.7 81.3,47.8 81.9,45.9 80.3,44.6 82.3,44.5"/>
<circle class="rd" cx="86.7" cy="61.4" r="2.15"/>
<circle class="rd" cx="83.8" cy="51.6" r="2.15"/>
<polygon class="rds" points="100.7,42.1 101.4,44 103.4,44.1 101.8,45.3 102.4,47.3 100.7,46.2 98.9,47.3 99.5,45.3 97.9,44.1 99.9,44"/>
<polygon class="rds" points="113.6,42.5 114.3,44.4 116.3,44.5 114.7,45.8 115.3,47.7 113.6,46.6 111.9,47.7 112.4,45.8 110.8,44.5 112.8,44.4"/>
<polygon class="rds" points="94.5,45.5 95.2,47.4 97.2,47.5 95.6,48.7 96.2,50.7 94.5,49.6 92.8,50.7 93.3,48.7 91.7,47.5 93.7,47.4"/>
<circle class="rd" cx="95.9" cy="48.5" r="2.15"/>
<polygon class="rds" points="101.5,56.3 102.2,58.2 104.2,58.3 102.6,59.6 103.2,61.6 101.5,60.4 99.7,61.6 100.3,59.6 98.7,58.3 100.7,58.2"/>
<polygon class="rds" points="105.1,48.4 105.8,50.3 107.9,50.4 106.3,51.7 106.8,53.7 105.1,52.5 103.4,53.7 104,51.7 102.4,50.4 104.4,50.3"/>
<polygon class="rds" points="87.6,50.7 88.3,52.6 90.4,52.7 88.8,54 89.3,55.9 87.6,54.8 85.9,55.9 86.4,54 84.8,52.7 86.9,52.6"/>
<polygon class="rds" points="92.6,50.5 93.3,52.4 95.4,52.5 93.8,53.8 94.3,55.7 92.6,54.6 90.9,55.7 91.5,53.8 89.9,52.5 91.9,52.4"/>
<polygon class="rds" points="108.3,51.9 109,53.8 111.1,53.9 109.5,55.2 110,57.1 108.3,56 106.6,57.1 107.2,55.2 105.6,53.9 107.6,53.8"/>
<circle class="rd" cx="91" cy="50.3" r="2.15"/>
<polygon class="rds" points="98,45.1 98.7,47 100.8,47.1 99.2,48.4 99.7,50.3 98,49.2 96.3,50.3 96.9,48.4 95.3,47.1 97.3,47"/>
<circle class="rd" cx="86.7" cy="84.9" r="2.15"/>
<polygon class="rds" points="117.2,50.9 117.9,52.8 119.9,52.9 118.3,54.2 118.9,56.2 117.2,55.1 115.4,56.2 116,54.2 114.4,52.9 116.4,52.8"/>
<circle class="rd" cx="107.6" cy="46.7" r="2.15"/>
<polygon class="rds" points="101.2,55.2 102,57.2 104,57.2 102.4,58.5 102.9,60.5 101.2,59.4 99.5,60.5 100.1,58.5 98.5,57.2 100.5,57.2"/>
<polygon class="rds" points="113.4,41.5 114.1,43.4 116.1,43.5 114.5,44.8 115.1,46.8 113.4,45.6 111.7,46.8 112.2,44.8 110.6,43.5 112.7,43.4"/>
<polygon class="rds" points="109,35.1 109.7,37 111.7,37.1 110.1,38.3 110.7,40.3 109,39.2 107.3,40.3 107.8,38.3 106.2,37.1 108.2,37"/>
<polygon class="rds" points="107.4,51.8 108.1,53.7 110.2,53.8 108.6,55.1 109.1,57.1 107.4,55.9 105.7,57.1 106.3,55.1 104.7,53.8 106.7,53.7"/>
<polygon class="rds" points="99.5,41.9 100.2,43.8 102.3,43.9 100.7,45.1 101.2,47.1 99.5,46 97.8,47.1 98.3,45.1 96.7,43.9 98.8,43.8"/>
<polygon class="rds" points="100.7,38.3 101.4,40.2 103.5,40.3 101.9,41.6 102.4,43.6 100.7,42.4 99,43.6 99.6,41.6 98,40.3 100,40.2"/>
<circle class="rd" cx="92.7" cy="62.2" r="2.15"/>
<circle class="rd" cx="91.8" cy="82.4" r="2.15"/>
<polygon class="rds" points="98.9,46.9 99.6,48.8 101.7,48.9 100.1,50.2 100.6,52.2 98.9,51.1 97.2,52.2 97.8,50.2 96.2,48.9 98.2,48.8"/>
<polygon class="rds" points="89.3,51.6 90,53.5 92.1,53.6 90.5,54.9 91,56.9 89.3,55.7 87.6,56.9 88.1,54.9 86.5,53.6 88.6,53.5"/>
<polygon class="rds" points="104.4,48.5 105.1,50.4 107.2,50.5 105.6,51.8 106.1,53.7 104.4,52.6 102.7,53.7 103.3,51.8 101.7,50.5 103.7,50.4"/>
<circle class="gn" cx="82.7" cy="155" r="2.15"/>
<circle class="gn" cx="94.5" cy="154" r="2.15"/>
<circle class="gn" cx="77.2" cy="153.3" r="2.15"/>
<circle class="gn" cx="69.7" cy="136.4" r="2.15"/>
<circle class="gn" cx="73.2" cy="168.8" r="2.15"/>
<circle class="gn" cx="82.2" cy="172.2" r="2.15"/>
<circle class="gn" cx="69.3" cy="158.7" r="2.15"/>
<circle class="gn" cx="84.8" cy="167.4" r="2.15"/>
<circle class="gn" cx="86.9" cy="179.6" r="2.15"/>
<circle class="gn" cx="87.1" cy="137.1" r="2.15"/>
<circle class="gn" cx="85.9" cy="136.1" r="2.15"/>
<circle class="gn" cx="87.7" cy="137.6" r="2.15"/>
<circle class="gn" cx="76.3" cy="142.7" r="2.15"/>
<circle class="gn" cx="72.3" cy="145.7" r="2.15"/>
<circle class="gn" cx="69.4" cy="162.5" r="2.15"/>
<circle class="gn" cx="63.9" cy="152.7" r="2.15"/>
<circle class="gn" cx="81.1" cy="144.3" r="2.15"/>
<circle class="gn" cx="72.9" cy="164.8" r="2.15"/>
<circle class="gn" cx="58.9" cy="165.4" r="2.15"/>
<circle class="gn" cx="73.8" cy="131.9" r="2.15"/>
<circle class="gn" cx="66.1" cy="139.7" r="2.15"/>
<circle class="gn" cx="66.6" cy="165.4" r="2.15"/>
<circle class="gn" cx="84.3" cy="128.6" r="2.15"/>
<circle class="gn" cx="81" cy="173.7" r="2.15"/>
<circle class="gn" cx="60.2" cy="137.7" r="2.15"/>
<circle class="gn" cx="73.7" cy="164.8" r="2.15"/>
<circle class="gn" cx="80.2" cy="144.9" r="2.15"/>
<circle class="gn" cx="86.6" cy="140.4" r="2.15"/>
<circle class="gn" cx="83.1" cy="133.5" r="2.15"/>
<circle class="gn" cx="79.8" cy="124.4" r="2.15"/>
<circle class="gn" cx="71" cy="126.5" r="2.15"/>
<circle class="gn" cx="64.7" cy="146.6" r="2.15"/>
<circle class="gn" cx="73" cy="153.3" r="2.15"/>
<circle class="gn" cx="88.1" cy="174.4" r="2.15"/>
<circle class="gn" cx="69.6" cy="151.4" r="2.15"/>
<circle class="gn" cx="72.8" cy="155.5" r="2.15"/>
<circle class="gn" cx="87.5" cy="147.6" r="2.15"/>
<circle class="gn" cx="65.2" cy="125.5" r="2.15"/>
<circle class="gn" cx="60" cy="134.3" r="2.15"/>
<circle class="gn" cx="88.9" cy="158.3" r="2.15"/>
<circle class="gn" cx="77.4" cy="122.4" r="2.15"/>
<circle class="gn" cx="58.7" cy="133.5" r="2.15"/>
<circle class="gn" cx="67.3" cy="148.1" r="2.15"/>
<circle class="gn" cx="87.9" cy="158" r="2.15"/>
<circle class="gn" cx="66.7" cy="184.8" r="2.15"/>
<circle class="gn" cx="60.8" cy="153" r="2.15"/>
<circle class="gn" cx="60.8" cy="147.4" r="2.15"/>
<circle class="gn" cx="66.4" cy="149.7" r="2.15"/>
<circle class="gn" cx="53.7" cy="148.1" r="2.15"/>
<circle class="gn" cx="73.8" cy="138.5" r="2.15"/>
<circle class="gn" cx="60.4" cy="167.3" r="2.15"/>
<circle class="gn" cx="72.9" cy="159.3" r="2.15"/>
<circle class="gn" cx="89.9" cy="150.8" r="2.15"/>
<circle class="gn" cx="70.4" cy="151.2" r="2.15"/>
<circle class="gn" cx="82.8" cy="135.3" r="2.15"/>
<circle class="gn" cx="52" cy="149" r="2.15"/>
<circle class="gn" cx="66.1" cy="170.2" r="2.15"/>
<circle class="gn" cx="71.5" cy="155.7" r="2.15"/>
<circle class="gn" cx="63.5" cy="127.5" r="2.15"/>
<circle class="gn" cx="71.5" cy="155.9" r="2.15"/>
<circle class="gn" cx="81.7" cy="166.2" r="2.15"/>
<circle class="gn" cx="81.6" cy="154.6" r="2.15"/>
<circle class="gn" cx="70.9" cy="143.9" r="2.15"/>
<circle class="gn" cx="59.9" cy="123.4" r="2.15"/>
<circle class="gn" cx="82.2" cy="176.3" r="2.15"/>
<circle class="gn" cx="67" cy="167.7" r="2.15"/>
<circle class="gn" cx="57.3" cy="162.7" r="2.15"/>
<circle class="gn" cx="89.4" cy="144.1" r="2.15"/>
<circle class="gn" cx="92.4" cy="169.9" r="2.15"/>
<circle class="gn" cx="69.6" cy="161.1" r="2.15"/>
<circle class="gn" cx="59.8" cy="147.6" r="2.15"/>
<circle class="gn" cx="92.5" cy="162" r="2.15"/>
<circle class="gn" cx="70.5" cy="165.5" r="2.15"/>
<circle class="gn" cx="85.6" cy="158.6" r="2.15"/>
<circle class="gn" cx="70.8" cy="134.2" r="2.15"/>
<circle class="gn" cx="86.3" cy="165.1" r="2.15"/>
<circle class="gn" cx="73" cy="142.1" r="2.15"/>
<circle class="gn" cx="66.9" cy="166.8" r="2.15"/>
<circle class="gn" cx="62.7" cy="137.4" r="2.15"/>
<circle class="gn" cx="82.2" cy="172" r="2.15"/>
<circle class="gn" cx="80.3" cy="157.1" r="2.15"/>
<circle class="gn" cx="83.8" cy="145.3" r="2.15"/>
<circle class="gn" cx="68.8" cy="167.3" r="2.15"/>
<circle class="gn" cx="68.6" cy="124.2" r="2.15"/>
<circle class="gn" cx="79.6" cy="151.4" r="2.15"/>
<circle class="gn" cx="72.7" cy="157.4" r="2.15"/>
<circle class="gn" cx="59.6" cy="134.5" r="2.15"/>
<circle class="gn" cx="75.4" cy="124.8" r="2.15"/>
<circle class="gn" cx="65.9" cy="171.1" r="2.15"/>
<circle class="gn" cx="92" cy="144.8" r="2.15"/>
<circle class="gn" cx="90.8" cy="140" r="2.15"/>
<circle class="gn" cx="57.3" cy="143.3" r="2.15"/>
<circle class="gn" cx="77.1" cy="153.9" r="2.15"/>
<circle class="gn" cx="79.2" cy="125.8" r="2.15"/>
<circle class="gn" cx="72.1" cy="144.1" r="2.15"/>
<circle class="gn" cx="80.9" cy="163" r="2.15"/>
<circle class="gn" cx="84.5" cy="143.3" r="2.15"/>
<circle class="gn" cx="74.3" cy="141" r="2.15"/>
<circle class="gn" cx="77.3" cy="149" r="2.15"/>
<circle class="gn" cx="72.4" cy="134.4" r="2.15"/>
<circle class="gn" cx="73.4" cy="127.1" r="2.15"/>
<circle class="gn" cx="74.4" cy="149.9" r="2.15"/>
<circle class="gn" cx="71.2" cy="159" r="2.15"/>
<circle class="gn" cx="89.6" cy="137.6" r="2.15"/>
<circle class="gn" cx="75.5" cy="133.1" r="2.15"/>
<circle class="gn" cx="66" cy="113.5" r="2.15"/>
<circle class="gn" cx="85.7" cy="154.1" r="2.15"/>
<circle class="gn" cx="87.8" cy="171.6" r="2.15"/>
<circle class="gn" cx="67.6" cy="156.2" r="2.15"/>
<circle class="gn" cx="76.3" cy="149.8" r="2.15"/>
<circle class="gn" cx="79.7" cy="136.8" r="2.15"/>
<circle class="gn" cx="77.9" cy="160" r="2.15"/>
<circle class="gn" cx="58.5" cy="139.2" r="2.15"/>
<circle class="gn" cx="85.4" cy="162.4" r="2.15"/>
<circle class="gn" cx="71.6" cy="145.9" r="2.15"/>
<circle class="gn" cx="85.4" cy="146.5" r="2.15"/>
<circle class="gn" cx="64.6" cy="160.2" r="2.15"/>
<circle class="gn" cx="90.9" cy="161.3" r="2.15"/>
<circle class="gn" cx="75" cy="141" r="2.15"/>
<circle class="gn" cx="64.3" cy="147.5" r="2.15"/>
<circle class="gn" cx="87.8" cy="160" r="2.15"/>
<circle class="gn" cx="92.6" cy="154.5" r="2.15"/>
<circle class="gn" cx="89.1" cy="166.4" r="2.15"/>
<circle class="gn" cx="47" cy="148" r="2.15"/>
<circle class="gn" cx="78.3" cy="150.8" r="2.15"/>
<circle class="gn" cx="80.3" cy="137.5" r="2.15"/>
<circle class="gn" cx="87.7" cy="156.8" r="2.15"/>
<circle class="gn" cx="55.6" cy="159.8" r="2.15"/>
<circle class="gn" cx="70.3" cy="150.8" r="2.15"/>
<circle class="gn" cx="63.4" cy="142.2" r="2.15"/>
<circle class="gn" cx="80.8" cy="167.8" r="2.15"/>
<circle class="gn" cx="66.3" cy="170.9" r="2.15"/>
<circle class="gn" cx="84.2" cy="146.8" r="2.15"/>
<circle class="gn" cx="70.2" cy="128" r="2.15"/>
<circle class="gn" cx="69.8" cy="141.3" r="2.15"/>
<circle class="gn" cx="62.8" cy="162.3" r="2.15"/>
<circle class="gn" cx="67.3" cy="135.4" r="2.15"/>
<circle class="gn" cx="63.3" cy="153.9" r="2.15"/>
<circle class="gn" cx="74.1" cy="120.7" r="2.15"/>
<circle class="gn" cx="64.7" cy="128.7" r="2.15"/>
<circle class="gn" cx="88.2" cy="151.4" r="2.15"/>
<circle class="gn" cx="60.3" cy="145.3" r="2.15"/>
<circle class="gn" cx="72.2" cy="154.7" r="2.15"/>
<circle class="gn" cx="55" cy="169.4" r="2.15"/>
<circle class="gn" cx="65.1" cy="142.5" r="2.15"/>
<circle class="gn" cx="89.8" cy="167.8" r="2.15"/>
<circle class="gn" cx="86.8" cy="153.1" r="2.15"/>
<circle class="gn" cx="80.5" cy="146.2" r="2.15"/>
<circle class="gn" cx="75" cy="164.8" r="2.15"/>
<circle class="gn" cx="93.8" cy="157.1" r="2.15"/>
<circle class="gn" cx="69.7" cy="162.1" r="2.15"/>
<circle class="gn" cx="84.7" cy="136" r="2.15"/>
<circle class="gn" cx="66.1" cy="140.5" r="2.15"/>
<circle class="gn" cx="62.1" cy="125.7" r="2.15"/>
<circle class="gn" cx="49.7" cy="132.5" r="2.15"/>
<circle class="gn" cx="70.2" cy="158.8" r="2.15"/>
<circle class="gn" cx="77.7" cy="144.6" r="2.15"/>
<circle class="gn" cx="72.4" cy="134.3" r="2.15"/>
<circle class="gn" cx="69.3" cy="136.2" r="2.15"/>
<circle class="gn" cx="86.8" cy="156.6" r="2.15"/>
<circle class="gn" cx="90.3" cy="167.8" r="2.15"/>
<circle class="gn" cx="72.5" cy="122.9" r="2.15"/>
<circle class="gn" cx="59.9" cy="147.2" r="2.15"/>
<circle class="gn" cx="90.1" cy="158.6" r="2.15"/>
<circle class="gn" cx="88.7" cy="138.7" r="2.15"/>
<circle class="gn" cx="66.5" cy="135.2" r="2.15"/>
<circle class="gn" cx="62.3" cy="152.9" r="2.15"/>
<circle class="gn" cx="77.6" cy="159.3" r="2.15"/>
<circle class="gn" cx="86.4" cy="161.4" r="2.15"/>
<circle class="gn" cx="58.4" cy="172.6" r="2.15"/>
<circle class="gn" cx="86" cy="144.1" r="2.15"/>
<circle class="gn" cx="60.7" cy="152.9" r="2.15"/>
<circle class="gn" cx="82" cy="174" r="2.15"/>
<circle class="gn" cx="76.2" cy="126.9" r="2.15"/>
<circle class="gn" cx="66.6" cy="131.1" r="2.15"/>
<circle class="gn" cx="66.9" cy="154.3" r="2.15"/>
<circle class="gn" cx="81.4" cy="130.2" r="2.15"/>
<circle class="gn" cx="82.8" cy="135" r="2.15"/>
<circle class="gn" cx="54.3" cy="149.3" r="2.15"/>
<circle class="gn" cx="72.9" cy="144.4" r="2.15"/>
<circle class="gn" cx="59.3" cy="155.4" r="2.15"/>
<circle class="gn" cx="81.2" cy="130.7" r="2.15"/>
<circle class="gn" cx="66.5" cy="137.9" r="2.15"/>
<circle class="gn" cx="87.9" cy="139.3" r="2.15"/>
<circle class="gn" cx="88.5" cy="153.8" r="2.15"/>
<circle class="gn" cx="67.2" cy="148.2" r="2.15"/>
<circle class="gn" cx="73" cy="135.2" r="2.15"/>
<circle class="gn" cx="79.5" cy="149.8" r="2.15"/>
<circle class="gn" cx="91.4" cy="166.3" r="2.15"/>
<circle class="gn" cx="78.8" cy="159.6" r="2.15"/>
<circle class="gn" cx="79.4" cy="155.6" r="2.15"/>
<circle class="gn" cx="77.9" cy="156.6" r="2.15"/>
<circle class="gn" cx="80.5" cy="126.3" r="2.15"/>
<circle class="gn" cx="81.4" cy="135.3" r="2.15"/>
<circle class="gn" cx="63.7" cy="157.8" r="2.15"/>
<circle class="gn" cx="68.9" cy="137.9" r="2.15"/>
<circle class="gn" cx="82.1" cy="150" r="2.15"/>
<circle class="gn" cx="67" cy="127.8" r="2.15"/>
<circle class="gn" cx="91.4" cy="153.7" r="2.15"/>
<circle class="gn" cx="78.6" cy="153.7" r="2.15"/>
<circle class="gn" cx="80.1" cy="154.5" r="2.15"/>
<circle class="gn" cx="65" cy="122.5" r="2.15"/>
<circle class="gn" cx="88.9" cy="151.2" r="2.15"/>
<circle class="gn" cx="89.4" cy="165.3" r="2.15"/>
<circle class="gn" cx="53.7" cy="150.2" r="2.15"/>
<circle class="gn" cx="74.4" cy="146" r="2.15"/>
<circle class="gn" cx="59.9" cy="130.5" r="2.15"/>
<circle class="gn" cx="86.4" cy="162.1" r="2.15"/>
<circle class="gn" cx="83.9" cy="155.1" r="2.15"/>
<circle class="gn" cx="81.3" cy="170.8" r="2.15"/>
<circle class="gn" cx="54.3" cy="139.2" r="2.15"/>
<circle class="gn" cx="79.4" cy="129.1" r="2.15"/>
<circle class="gn" cx="74" cy="131.9" r="2.15"/>
<circle class="gn" cx="59" cy="131.7" r="2.15"/>
<circle class="gn" cx="87.1" cy="170.2" r="2.15"/>
<circle class="gn" cx="79.3" cy="124.7" r="2.15"/>
<circle class="gn" cx="81" cy="141.4" r="2.15"/>
<circle class="gn" cx="75.1" cy="158.2" r="2.15"/>
<circle class="gn" cx="88.7" cy="174.8" r="2.15"/>
<circle class="gn" cx="89.6" cy="150.9" r="2.15"/>
<circle class="gn" cx="68" cy="164.3" r="2.15"/>
<circle class="gn" cx="75.4" cy="125.2" r="2.15"/>
<circle class="gn" cx="79.9" cy="139.5" r="2.15"/>
<circle class="gn" cx="81.5" cy="142.4" r="2.15"/>
<circle class="gn" cx="73.4" cy="145.6" r="2.15"/>
<circle class="gn" cx="69.6" cy="179.1" r="2.15"/>
<circle class="gn" cx="69.6" cy="148" r="2.15"/>
<circle class="gn" cx="55" cy="158.3" r="2.15"/>
<circle class="gn" cx="71" cy="126.2" r="2.15"/>
<circle class="gn" cx="68.9" cy="145.9" r="2.15"/>
<circle class="gn" cx="85.2" cy="159.6" r="2.15"/>
<circle class="gn" cx="64.6" cy="149.6" r="2.15"/>
<circle class="gn" cx="88.8" cy="128.7" r="2.15"/>
<circle class="gn" cx="84.8" cy="126.1" r="2.15"/>
<circle class="gn" cx="60.8" cy="132.6" r="2.15"/>
<circle class="gn" cx="69.7" cy="130.5" r="2.15"/>
<circle class="gn" cx="87.4" cy="152.5" r="2.15"/>
<circle class="gn" cx="62.7" cy="141.8" r="2.15"/>
<circle class="gn" cx="71.8" cy="147.2" r="2.15"/>
<circle class="gn" cx="82.5" cy="150.9" r="2.15"/>
<circle class="gn" cx="64.9" cy="157.8" r="2.15"/>
<circle class="gn" cx="64.5" cy="153.8" r="2.15"/>
<circle class="gn" cx="64.3" cy="135.8" r="2.15"/>
<circle class="gn" cx="64.3" cy="177.4" r="2.15"/>
<circle class="gn" cx="88.7" cy="166.3" r="2.15"/>
<circle class="gn" cx="72.4" cy="142.6" r="2.15"/>
<circle class="gn" cx="76.2" cy="153.8" r="2.15"/>
<circle class="gn" cx="94.6" cy="152" r="2.15"/>
<circle class="gn" cx="66" cy="145" r="2.15"/>
<circle class="gn" cx="77.2" cy="162.1" r="2.15"/>
<circle class="gn" cx="59.6" cy="133" r="2.15"/>
<circle class="gn" cx="90.4" cy="147.3" r="2.15"/>
<circle class="gn" cx="81.3" cy="154.8" r="2.15"/>
<circle class="gn" cx="77.7" cy="138" r="2.15"/>
<circle class="gn" cx="83.6" cy="133" r="2.15"/>
<circle class="gn" cx="85.5" cy="148.9" r="2.15"/>
<circle class="gn" cx="64" cy="159.6" r="2.15"/>
<circle class="gn" cx="86" cy="136.9" r="2.15"/>
<polygon class="gns" points="87,154.6 87.7,156.5 89.8,156.6 88.2,157.9 88.7,159.9 87,158.7 85.3,159.9 85.9,157.9 84.3,156.6 86.3,156.5"/>
<polygon class="gns" points="71,148.6 71.8,150.5 73.8,150.6 72.2,151.9 72.7,153.8 71,152.7 69.3,153.8 69.9,151.9 68.3,150.6 70.3,150.5"/>
<circle class="gn" cx="66.9" cy="148" r="2.15"/>
<circle class="gn" cx="74.2" cy="161.8" r="2.15"/>
<circle class="gn" cx="82.9" cy="137.4" r="2.15"/>
<circle class="gn" cx="74.1" cy="156.2" r="2.15"/>
<polygon class="gns" points="94.6,163.4 95.4,165.4 97.4,165.5 95.8,166.7 96.4,168.7 94.6,167.6 92.9,168.7 93.5,166.7 91.9,165.5 93.9,165.4"/>
<circle class="gn" cx="92.2" cy="149.3" r="2.15"/>
<polygon class="gns" points="87,168.6 87.8,170.5 89.8,170.6 88.2,171.9 88.7,173.8 87,172.7 85.3,173.8 85.9,171.9 84.3,170.6 86.3,170.5"/>
<polygon class="gns" points="63,173.1 63.7,175 65.8,175.1 64.2,176.4 64.7,178.3 63,177.2 61.3,178.3 61.8,176.4 60.2,175.1 62.3,175"/>
<circle class="gn" cx="64" cy="146" r="2.15"/>
<polygon class="gns" points="73.7,168.8 74.4,170.7 76.5,170.8 74.9,172.1 75.4,174 73.7,172.9 72,174 72.5,172.1 70.9,170.8 73,170.7"/>
<circle class="gn" cx="91.1" cy="151.4" r="2.15"/>
<polygon class="gns" points="86.2,156.1 86.9,158.1 88.9,158.1 87.3,159.4 87.9,161.4 86.2,160.3 84.5,161.4 85,159.4 83.4,158.1 85.5,158.1"/>
<polygon class="gns" points="71,154.9 71.7,156.8 73.7,156.9 72.1,158.2 72.7,160.2 71,159 69.3,160.2 69.8,158.2 68.2,156.9 70.3,156.8"/>
<polygon class="gns" points="96,161.7 96.7,163.6 98.7,163.7 97.1,165 97.7,166.9 96,165.8 94.2,166.9 94.8,165 93.2,163.7 95.2,163.6"/>
<polygon class="gns" points="75.7,154.8 76.4,156.7 78.5,156.8 76.9,158 77.4,160 75.7,158.9 74,160 74.6,158 73,156.8 75,156.7"/>
<circle class="gn" cx="74.5" cy="149.6" r="2.15"/>
<polygon class="gns" points="100,154.1 100.7,156 102.8,156.1 101.2,157.4 101.7,159.3 100,158.2 98.3,159.3 98.8,157.4 97.2,156.1 99.3,156"/>
<circle class="gn" cx="64.7" cy="153.7" r="2.15"/>
<polygon class="gns" points="80.6,142.3 81.4,144.2 83.4,144.3 81.8,145.6 82.3,147.6 80.6,146.4 78.9,147.6 79.5,145.6 77.9,144.3 79.9,144.2"/>
<polygon class="gns" points="86.6,167.6 87.4,169.5 89.4,169.6 87.8,170.9 88.3,172.8 86.6,171.7 84.9,172.8 85.5,170.9 83.9,169.6 85.9,169.5"/>
<circle class="gn" cx="65.1" cy="141" r="2.15"/>
<polygon class="gns" points="72.7,162.3 73.4,164.2 75.5,164.3 73.9,165.5 74.4,167.5 72.7,166.4 71,167.5 71.6,165.5 70,164.3 72,164.2"/>
<polygon class="gns" points="83.8,166.2 84.5,168.1 86.6,168.2 85,169.5 85.5,171.5 83.8,170.3 82.1,171.5 82.6,169.5 81,168.2 83.1,168.1"/>
<polygon class="gns" points="86,162.1 86.7,164 88.8,164.1 87.2,165.3 87.7,167.3 86,166.2 84.3,167.3 84.8,165.3 83.2,164.1 85.3,164"/>
<polygon class="gns" points="79.3,159 80.1,160.9 82.1,161 80.5,162.2 81.1,164.2 79.3,163.1 77.6,164.2 78.2,162.2 76.6,161 78.6,160.9"/>
<polygon class="gns" points="91.6,164.4 92.3,166.3 94.3,166.4 92.7,167.7 93.3,169.7 91.6,168.5 89.9,169.7 90.4,167.7 88.8,166.4 90.9,166.3"/>
<polygon class="gns" points="92.4,145.1 93.1,147 95.1,147.1 93.5,148.4 94.1,150.4 92.4,149.2 90.6,150.4 91.2,148.4 89.6,147.1 91.6,147"/>
<polygon class="gns" points="83.6,148.8 84.3,150.7 86.3,150.8 84.7,152.1 85.3,154.1 83.6,152.9 81.9,154.1 82.4,152.1 80.8,150.8 82.9,150.7"/>
<circle class="gn" cx="77.8" cy="139.6" r="2.15"/>
<circle class="gn" cx="69.6" cy="158.5" r="2.15"/>
<circle class="gn" cx="83.8" cy="142.3" r="2.15"/>
<polygon class="gns" points="78.2,152.5 78.9,154.4 80.9,154.5 79.3,155.8 79.9,157.7 78.2,156.6 76.5,157.7 77,155.8 75.4,154.5 77.5,154.4"/>
<polygon class="gns" points="73.6,146.3 74.3,148.2 76.3,148.3 74.7,149.5 75.3,151.5 73.6,150.4 71.9,151.5 72.4,149.5 70.8,148.3 72.9,148.2"/>
<polygon class="gns" points="89.5,146.2 90.2,148.1 92.3,148.2 90.7,149.5 91.2,151.4 89.5,150.3 87.8,151.4 88.3,149.5 86.7,148.2 88.8,148.1"/>
<polygon class="gns" points="73.9,164.5 74.6,166.4 76.7,166.5 75.1,167.7 75.6,169.7 73.9,168.6 72.2,169.7 72.7,167.7 71.1,166.5 73.2,166.4"/>
<polygon class="gns" points="71.7,146.1 72.4,148 74.4,148.1 72.8,149.4 73.4,151.4 71.7,150.2 70,151.4 70.5,149.4 68.9,148.1 70.9,148"/>
<polygon class="gns" points="93.5,166 94.2,167.9 96.3,168 94.7,169.2 95.2,171.2 93.5,170.1 91.8,171.2 92.3,169.2 90.7,168 92.8,167.9"/>
<polygon class="gns" points="82.9,149.9 83.6,151.8 85.7,151.9 84.1,153.1 84.6,155.1 82.9,154 81.2,155.1 81.7,153.1 80.1,151.9 82.2,151.8"/>
<polygon class="gns" points="63.6,156.2 64.3,158.1 66.3,158.2 64.7,159.5 65.3,161.4 63.6,160.3 61.9,161.4 62.4,159.5 60.8,158.2 62.9,158.1"/>
<polygon class="gns" points="79.5,143.2 80.2,145.1 82.2,145.2 80.6,146.5 81.2,148.5 79.5,147.3 77.8,148.5 78.3,146.5 76.7,145.2 78.8,145.1"/>
<circle class="gn" cx="87.8" cy="176.4" r="2.15"/>
<polygon class="gns" points="80.5,155.5 81.2,157.4 83.2,157.5 81.6,158.7 82.2,160.7 80.5,159.6 78.8,160.7 79.3,158.7 77.7,157.5 79.8,157.4"/>
<circle class="gn" cx="68.8" cy="183.2" r="2.15"/>
<polygon class="gns" points="85.4,146.4 86.1,148.3 88.1,148.4 86.5,149.7 87.1,151.7 85.4,150.5 83.7,151.7 84.2,149.7 82.6,148.4 84.6,148.3"/>
<polygon class="gns" points="92.4,149.1 93.1,151 95.2,151.1 93.6,152.4 94.1,154.3 92.4,153.2 90.7,154.3 91.3,152.4 89.7,151.1 91.7,151"/>
<polygon class="gns" points="80.1,156.6 80.8,158.5 82.9,158.6 81.3,159.8 81.8,161.8 80.1,160.7 78.4,161.8 79,159.8 77.4,158.6 79.4,158.5"/>
<circle class="gn" cx="76.5" cy="148.2" r="2.15"/>
<polygon class="gns" points="80.2,141.7 80.9,143.6 82.9,143.7 81.3,145 81.9,146.9 80.2,145.8 78.5,146.9 79,145 77.4,143.7 79.5,143.6"/>
<circle class="gn" cx="58.1" cy="160.4" r="2.15"/>
<circle class="gn" cx="63.4" cy="139.9" r="2.15"/>
<circle class="gn" cx="89.8" cy="158.1" r="2.15"/>
<circle class="gn" cx="61.5" cy="164.5" r="2.15"/>
<circle class="gn" cx="83.3" cy="158.4" r="2.15"/>
<circle class="gn" cx="60" cy="146.5" r="2.15"/>
<circle class="pu" cx="119.5" cy="118.4" r="2.15"/>
<circle class="pu" cx="141.8" cy="92.7" r="2.15"/>
<circle class="pu" cx="150.2" cy="116.4" r="2.15"/>
<circle class="pu" cx="146.1" cy="120.5" r="2.15"/>
<circle class="pu" cx="129.9" cy="103.9" r="2.15"/>
<circle class="pu" cx="152.4" cy="112.7" r="2.15"/>
<circle class="pu" cx="140" cy="122.2" r="2.15"/>
<circle class="pu" cx="142.4" cy="87" r="2.15"/>
<circle class="pu" cx="149.4" cy="115.6" r="2.15"/>
<circle class="pu" cx="135" cy="119.8" r="2.15"/>
<circle class="pu" cx="140.3" cy="124.2" r="2.15"/>
<circle class="pu" cx="152.3" cy="109.2" r="2.15"/>
<circle class="pu" cx="142.5" cy="96" r="2.15"/>
<circle class="pu" cx="137.9" cy="96.1" r="2.15"/>
<circle class="pu" cx="148.1" cy="113" r="2.15"/>
<circle class="pu" cx="128.2" cy="114.6" r="2.15"/>
<circle class="pu" cx="130.4" cy="124.7" r="2.15"/>
<circle class="pu" cx="145.8" cy="89.4" r="2.15"/>
<circle class="pu" cx="121" cy="103.3" r="2.15"/>
<circle class="pu" cx="129.8" cy="118.9" r="2.15"/>
<circle class="pu" cx="129.4" cy="84.5" r="2.15"/>
<circle class="pu" cx="146.4" cy="104" r="2.15"/>
<circle class="pu" cx="147.6" cy="94.8" r="2.15"/>
<circle class="pu" cx="143.2" cy="116.3" r="2.15"/>
<circle class="pu" cx="136.1" cy="96.2" r="2.15"/>
<circle class="pu" cx="137.8" cy="79.2" r="2.15"/>
<circle class="pu" cx="124.6" cy="106.5" r="2.15"/>
<circle class="pu" cx="136.9" cy="95.8" r="2.15"/>
<circle class="pu" cx="146.1" cy="113.3" r="2.15"/>
<circle class="pu" cx="148.2" cy="113.1" r="2.15"/>
<circle class="pu" cx="151.4" cy="103.1" r="2.15"/>
<circle class="pu" cx="140" cy="89.6" r="2.15"/>
<circle class="pu" cx="148.9" cy="121.4" r="2.15"/>
<circle class="pu" cx="126.2" cy="99.6" r="2.15"/>
<circle class="pu" cx="145.1" cy="121.9" r="2.15"/>
<circle class="pu" cx="149.9" cy="119.6" r="2.15"/>
<circle class="pu" cx="133" cy="94.7" r="2.15"/>
<circle class="pu" cx="148.7" cy="113.7" r="2.15"/>
<circle class="pu" cx="137.2" cy="100.2" r="2.15"/>
<circle class="pu" cx="155.4" cy="102.7" r="2.15"/>
<circle class="pu" cx="149.7" cy="87" r="2.15"/>
<circle class="pu" cx="129.7" cy="121.9" r="2.15"/>
<circle class="pu" cx="145.2" cy="84.1" r="2.15"/>
<circle class="pu" cx="131.5" cy="115.5" r="2.15"/>
<circle class="pu" cx="141.3" cy="89.5" r="2.15"/>
<circle class="pu" cx="146.6" cy="89.5" r="2.15"/>
<circle class="pu" cx="152.3" cy="79.8" r="2.15"/>
<circle class="pu" cx="134.8" cy="112.6" r="2.15"/>
<circle class="pu" cx="148.6" cy="85.9" r="2.15"/>
<circle class="pu" cx="144" cy="85.9" r="2.15"/>
<circle class="pu" cx="148.6" cy="120.9" r="2.15"/>
<circle class="pu" cx="141.8" cy="82.4" r="2.15"/>
<circle class="pu" cx="144.9" cy="94.6" r="2.15"/>
<circle class="pu" cx="132.5" cy="93" r="2.15"/>
<circle class="pu" cx="130.5" cy="91.5" r="2.15"/>
<circle class="pu" cx="140.1" cy="97.2" r="2.15"/>
<circle class="pu" cx="140.4" cy="94.8" r="2.15"/>
<circle class="pu" cx="135.6" cy="110.6" r="2.15"/>
<circle class="pu" cx="135.1" cy="112.3" r="2.15"/>
<circle class="pu" cx="127.1" cy="111.4" r="2.15"/>
<circle class="pu" cx="138" cy="89.9" r="2.15"/>
<circle class="pu" cx="136.7" cy="120.9" r="2.15"/>
<circle class="pu" cx="147.6" cy="83.5" r="2.15"/>
<circle class="pu" cx="149.4" cy="93" r="2.15"/>
<circle class="pu" cx="146" cy="112.5" r="2.15"/>
<circle class="pu" cx="126.1" cy="97.7" r="2.15"/>
<circle class="pu" cx="148" cy="89.3" r="2.15"/>
<circle class="pu" cx="134.2" cy="110.7" r="2.15"/>
<circle class="pu" cx="126.2" cy="99.6" r="2.15"/>
<circle class="pu" cx="131.6" cy="91.4" r="2.15"/>
<circle class="pu" cx="134.3" cy="100.8" r="2.15"/>
<circle class="pu" cx="141.1" cy="95.5" r="2.15"/>
<circle class="pu" cx="140.1" cy="114.4" r="2.15"/>
<circle class="pu" cx="136.5" cy="97.3" r="2.15"/>
<circle class="pu" cx="154" cy="100.4" r="2.15"/>
<circle class="pu" cx="144.5" cy="111.8" r="2.15"/>
<circle class="pu" cx="142.8" cy="105.8" r="2.15"/>
<circle class="pu" cx="140.9" cy="115.3" r="2.15"/>
<circle class="pu" cx="138.3" cy="98.6" r="2.15"/>
<circle class="pu" cx="145" cy="93.4" r="2.15"/>
<circle class="pu" cx="136.3" cy="118.5" r="2.15"/>
<circle class="pu" cx="144.9" cy="85.9" r="2.15"/>
<circle class="pu" cx="143.1" cy="110.1" r="2.15"/>
<circle class="pu" cx="147.5" cy="103.9" r="2.15"/>
<circle class="pu" cx="136.1" cy="127.7" r="2.15"/>
<circle class="pu" cx="137.4" cy="100.9" r="2.15"/>
<circle class="pu" cx="144" cy="121.7" r="2.15"/>
<circle class="pu" cx="133.9" cy="122.4" r="2.15"/>
<circle class="pu" cx="140.2" cy="100" r="2.15"/>
<circle class="pu" cx="141.7" cy="111.5" r="2.15"/>
<circle class="pu" cx="148.1" cy="108.5" r="2.15"/>
<circle class="pu" cx="131.8" cy="95.2" r="2.15"/>
<circle class="pu" cx="141.5" cy="113" r="2.15"/>
<circle class="pu" cx="136.5" cy="102.5" r="2.15"/>
<circle class="pu" cx="154.6" cy="108" r="2.15"/>
<circle class="pu" cx="137.7" cy="106.8" r="2.15"/>
<circle class="pu" cx="140.1" cy="110.6" r="2.15"/>
<circle class="pu" cx="143.3" cy="84.3" r="2.15"/>
<circle class="pu" cx="138.8" cy="107.8" r="2.15"/>
<circle class="pu" cx="137.4" cy="103.7" r="2.15"/>
<circle class="pu" cx="147.7" cy="95" r="2.15"/>
<circle class="pu" cx="147.6" cy="123.4" r="2.15"/>
<circle class="pu" cx="151.8" cy="103.5" r="2.15"/>
<circle class="pu" cx="144.8" cy="100.4" r="2.15"/>
<circle class="pu" cx="125.5" cy="119.3" r="2.15"/>
<circle class="pu" cx="128.7" cy="117.5" r="2.15"/>
<circle class="pu" cx="146.7" cy="120.8" r="2.15"/>
<circle class="pu" cx="140.5" cy="109.3" r="2.15"/>
<circle class="pu" cx="134" cy="122" r="2.15"/>
<circle class="pu" cx="126.1" cy="98.5" r="2.15"/>
<circle class="pu" cx="127.2" cy="106.1" r="2.15"/>
<circle class="pu" cx="146.1" cy="111.5" r="2.15"/>
<circle class="pu" cx="147.4" cy="109" r="2.15"/>
<circle class="pu" cx="138.7" cy="108.3" r="2.15"/>
<circle class="pu" cx="129.6" cy="97.6" r="2.15"/>
<circle class="pu" cx="136.9" cy="100.4" r="2.15"/>
<circle class="pu" cx="140.8" cy="84.7" r="2.15"/>
<circle class="pu" cx="123.7" cy="99" r="2.15"/>
<circle class="pu" cx="120.4" cy="113.5" r="2.15"/>
<circle class="pu" cx="138.4" cy="103.4" r="2.15"/>
<circle class="pu" cx="147.1" cy="116.4" r="2.15"/>
<circle class="pu" cx="155.2" cy="100.9" r="2.15"/>
<circle class="pu" cx="136" cy="91" r="2.15"/>
<circle class="pu" cx="136.7" cy="93.9" r="2.15"/>
<circle class="pu" cx="149.3" cy="104.8" r="2.15"/>
<circle class="pu" cx="126.9" cy="130.9" r="2.15"/>
<circle class="pu" cx="154.1" cy="119.1" r="2.15"/>
<circle class="pu" cx="147.7" cy="96.3" r="2.15"/>
<circle class="pu" cx="149.9" cy="123.1" r="2.15"/>
<circle class="pu" cx="157" cy="132" r="2.15"/>
<circle class="pu" cx="138.7" cy="127.8" r="2.15"/>
<circle class="pu" cx="139.6" cy="117.5" r="2.15"/>
<circle class="pu" cx="143.1" cy="105.2" r="2.15"/>
<circle class="pu" cx="150.8" cy="97.9" r="2.15"/>
<circle class="pu" cx="128.8" cy="117.3" r="2.15"/>
<circle class="pu" cx="131" cy="114.6" r="2.15"/>
<circle class="pu" cx="126.7" cy="112.6" r="2.15"/>
<circle class="pu" cx="134.8" cy="101.7" r="2.15"/>
<circle class="pu" cx="144.9" cy="117.9" r="2.15"/>
<circle class="pu" cx="132.5" cy="119.6" r="2.15"/>
<circle class="pu" cx="141.9" cy="85" r="2.15"/>
<circle class="pu" cx="143.1" cy="103.2" r="2.15"/>
<circle class="pu" cx="153.9" cy="124" r="2.15"/>
<circle class="pu" cx="133.8" cy="122.7" r="2.15"/>
<circle class="pu" cx="138.4" cy="113" r="2.15"/>
<circle class="pu" cx="139" cy="109.4" r="2.15"/>
<circle class="pu" cx="128.8" cy="104.7" r="2.15"/>
<circle class="pu" cx="140.5" cy="99" r="2.15"/>
<circle class="pu" cx="130.6" cy="103.8" r="2.15"/>
<circle class="pu" cx="131.1" cy="93.7" r="2.15"/>
<circle class="pu" cx="140.8" cy="119" r="2.15"/>
<circle class="pu" cx="133.2" cy="104.7" r="2.15"/>
<circle class="pu" cx="151.4" cy="88.1" r="2.15"/>
<circle class="pu" cx="140" cy="98.7" r="2.15"/>
<circle class="pu" cx="136.8" cy="85.3" r="2.15"/>
<circle class="pu" cx="137.4" cy="87.4" r="2.15"/>
<circle class="pu" cx="140.6" cy="120.2" r="2.15"/>
<circle class="pu" cx="140.3" cy="94.5" r="2.15"/>
<circle class="pu" cx="144.8" cy="105.8" r="2.15"/>
<circle class="pu" cx="135.3" cy="127.1" r="2.15"/>
<circle class="pu" cx="129.5" cy="99.3" r="2.15"/>
<circle class="pu" cx="153.7" cy="101.4" r="2.15"/>
<circle class="pu" cx="144.5" cy="97.9" r="2.15"/>
<circle class="pu" cx="126.8" cy="105.4" r="2.15"/>
<circle class="pu" cx="158.7" cy="104.8" r="2.15"/>
<circle class="pu" cx="150.8" cy="101.4" r="2.15"/>
<circle class="pu" cx="139" cy="118.3" r="2.15"/>
<circle class="pu" cx="147" cy="107.8" r="2.15"/>
<circle class="pu" cx="152.4" cy="99.1" r="2.15"/>
<circle class="pu" cx="123.8" cy="111.6" r="2.15"/>
<circle class="pu" cx="146.2" cy="111.5" r="2.15"/>
<circle class="pu" cx="133.4" cy="98.3" r="2.15"/>
<circle class="pu" cx="141.3" cy="121.6" r="2.15"/>
<circle class="pu" cx="140.3" cy="112.1" r="2.15"/>
<circle class="pu" cx="132.9" cy="91.6" r="2.15"/>
<circle class="pu" cx="131" cy="91.5" r="2.15"/>
<circle class="pu" cx="131.2" cy="100" r="2.15"/>
<circle class="pu" cx="143.4" cy="106.8" r="2.15"/>
<circle class="pu" cx="145.1" cy="85.3" r="2.15"/>
<circle class="pu" cx="150.8" cy="88.6" r="2.15"/>
<circle class="pu" cx="138.8" cy="103.5" r="2.15"/>
<circle class="pu" cx="135.9" cy="129.2" r="2.15"/>
<circle class="pu" cx="143.2" cy="107.6" r="2.15"/>
<circle class="pu" cx="146.5" cy="118.1" r="2.15"/>
<circle class="pu" cx="142.8" cy="109.7" r="2.15"/>
<circle class="pu" cx="127.1" cy="120.8" r="2.15"/>
<circle class="pu" cx="137" cy="113.8" r="2.15"/>
<circle class="pu" cx="140" cy="112.3" r="2.15"/>
<circle class="pu" cx="133.9" cy="122" r="2.15"/>
<circle class="pu" cx="131.3" cy="107.8" r="2.15"/>
<circle class="pu" cx="129.7" cy="106" r="2.15"/>
<circle class="pu" cx="133.2" cy="105.6" r="2.15"/>
<circle class="pu" cx="143" cy="107.3" r="2.15"/>
<circle class="pu" cx="133.5" cy="94.1" r="2.15"/>
<circle class="pu" cx="128.5" cy="119.3" r="2.15"/>
<circle class="pu" cx="121" cy="100" r="2.15"/>
<circle class="pu" cx="133.5" cy="94.5" r="2.15"/>
<circle class="pu" cx="131.9" cy="126.3" r="2.15"/>
<circle class="pu" cx="136.1" cy="107.3" r="2.15"/>
<circle class="pu" cx="139.9" cy="115.1" r="2.15"/>
<circle class="pu" cx="140.7" cy="97.5" r="2.15"/>
<circle class="pu" cx="127.1" cy="100.3" r="2.15"/>
<circle class="pu" cx="125.1" cy="112" r="2.15"/>
<circle class="pu" cx="139.4" cy="108.5" r="2.15"/>
<circle class="pu" cx="140.2" cy="86.7" r="2.15"/>
<circle class="pu" cx="149.6" cy="92.2" r="2.15"/>
<circle class="pu" cx="143.6" cy="101" r="2.15"/>
<circle class="pu" cx="130.7" cy="123" r="2.15"/>
<circle class="pu" cx="148.6" cy="120.5" r="2.15"/>
<circle class="pu" cx="131.9" cy="118.3" r="2.15"/>
<circle class="pu" cx="136.8" cy="113.6" r="2.15"/>
<circle class="pu" cx="149.2" cy="104.7" r="2.15"/>
<circle class="pu" cx="130.3" cy="96.5" r="2.15"/>
<circle class="pu" cx="125.9" cy="112.9" r="2.15"/>
<circle class="pu" cx="130.9" cy="92.3" r="2.15"/>
<circle class="pu" cx="130.6" cy="105" r="2.15"/>
<circle class="pu" cx="127.6" cy="118.8" r="2.15"/>
<circle class="pu" cx="122.7" cy="120.2" r="2.15"/>
<circle class="pu" cx="129.6" cy="102.3" r="2.15"/>
<circle class="pu" cx="135.1" cy="98.4" r="2.15"/>
<circle class="pu" cx="144.4" cy="121.5" r="2.15"/>
<circle class="pu" cx="141.9" cy="91.8" r="2.15"/>
<circle class="pu" cx="132" cy="117.7" r="2.15"/>
<circle class="pu" cx="127.5" cy="118.2" r="2.15"/>
<circle class="pu" cx="142.7" cy="108.5" r="2.15"/>
<circle class="pu" cx="131.2" cy="91.9" r="2.15"/>
<circle class="pu" cx="128.4" cy="109.6" r="2.15"/>
<circle class="pu" cx="151.6" cy="97.3" r="2.15"/>
<circle class="pu" cx="144.1" cy="120" r="2.15"/>
<circle class="pu" cx="158.2" cy="96.8" r="2.15"/>
<circle class="pu" cx="148.8" cy="101.3" r="2.15"/>
<circle class="pu" cx="150.8" cy="112.2" r="2.15"/>
<circle class="pu" cx="145.5" cy="86.8" r="2.15"/>
<polygon class="pus" points="112.7,102.5 113.5,104.4 115.5,104.5 113.9,105.8 114.4,107.8 112.7,106.6 111,107.8 111.6,105.8 110,104.5 112,104.4"/>
<polygon class="pus" points="119.1,120.7 119.9,122.6 121.9,122.7 120.3,124 120.8,125.9 119.1,124.8 117.4,125.9 118,124 116.4,122.7 118.4,122.6"/>
<circle class="pu" cx="145.3" cy="90.2" r="2.15"/>
<polygon class="pus" points="117,137.1 117.7,139 119.8,139.1 118.2,140.4 118.7,142.3 117,141.2 115.3,142.3 115.8,140.4 114.2,139.1 116.3,139"/>
<circle class="pu" cx="139.6" cy="126.6" r="2.15"/>
<polygon class="pus" points="124,140.1 124.7,142 126.8,142.1 125.2,143.4 125.7,145.3 124,144.2 122.3,145.3 122.8,143.4 121.2,142.1 123.3,142"/>
<circle class="pu" cx="129" cy="89.7" r="2.15"/>
<circle class="pu" cx="137.5" cy="118.5" r="2.15"/>
<circle class="pu" cx="133.9" cy="122.1" r="2.15"/>
<circle class="pu" cx="143.8" cy="94.4" r="2.15"/>
<circle class="pu" cx="135.6" cy="97.7" r="2.15"/>
<polygon class="pus" points="127.8,101.4 128.5,103.3 130.5,103.4 128.9,104.6 129.5,106.6 127.8,105.5 126.1,106.6 126.6,104.6 125,103.4 127.1,103.3"/>
<polygon class="pus" points="116.5,94.7 117.2,96.6 119.2,96.7 117.6,98 118.2,99.9 116.5,98.8 114.7,99.9 115.3,98 113.7,96.7 115.7,96.6"/>
<polygon class="pus" points="128.1,101.6 128.8,103.5 130.9,103.6 129.3,104.9 129.8,106.8 128.1,105.7 126.4,106.8 126.9,104.9 125.3,103.6 127.4,103.5"/>
<circle class="pu" cx="141.1" cy="94.7" r="2.15"/>
<circle class="pu" cx="142.1" cy="120.7" r="2.15"/>
<polygon class="pus" points="118.9,101 119.6,102.9 121.7,103 120.1,104.2 120.6,106.2 118.9,105.1 117.2,106.2 117.8,104.2 116.2,103 118.2,102.9"/>
<circle class="pu" cx="140" cy="115.8" r="2.15"/>
<polygon class="pus" points="119.9,106.9 120.6,108.8 122.6,108.9 121,110.2 121.6,112.1 119.9,111 118.2,112.1 118.7,110.2 117.1,108.9 119.2,108.8"/>
<circle class="pu" cx="154.3" cy="100" r="2.15"/>
<polygon class="pus" points="128.1,106.1 128.8,108 130.8,108.1 129.2,109.3 129.8,111.3 128.1,110.2 126.4,111.3 126.9,109.3 125.3,108.1 127.4,108"/>
<polygon class="pus" points="126.3,103.4 127,105.3 129.1,105.4 127.5,106.7 128,108.6 126.3,107.5 124.6,108.6 125.2,106.7 123.6,105.4 125.6,105.3"/>
<polygon class="pus" points="113,130.2 113.7,132.1 115.7,132.2 114.1,133.5 114.7,135.4 113,134.3 111.3,135.4 111.8,133.5 110.2,132.2 112.3,132.1"/>
<polygon class="pus" points="117.8,106.2 118.6,108.1 120.6,108.2 119,109.4 119.5,111.4 117.8,110.3 116.1,111.4 116.7,109.4 115.1,108.2 117.1,108.1"/>
<circle class="pu" cx="151.4" cy="109.4" r="2.15"/>
<circle class="pu" cx="144.4" cy="121.9" r="2.15"/>
<polygon class="pus" points="121.8,117.1 122.5,119 124.5,119.1 122.9,120.3 123.5,122.3 121.8,121.2 120.1,122.3 120.6,120.3 119,119.1 121.1,119"/>
<polygon class="pus" points="123.6,116.3 124.3,118.2 126.4,118.3 124.8,119.6 125.3,121.5 123.6,120.4 121.9,121.5 122.4,119.6 120.8,118.3 122.9,118.2"/>
<circle class="pu" cx="133.1" cy="106.5" r="2.15"/>
<circle class="pu" cx="147.1" cy="96.7" r="2.15"/>
<polygon class="pus" points="117.3,110.3 118,112.2 120,112.3 118.4,113.5 119,115.5 117.3,114.4 115.6,115.5 116.1,113.5 114.5,112.3 116.6,112.2"/>
<polygon class="pus" points="122.5,100.1 123.2,102 125.2,102.1 123.6,103.4 124.2,105.3 122.5,104.2 120.8,105.3 121.3,103.4 119.7,102.1 121.8,102"/>
<polygon class="pus" points="117.1,103.5 117.9,105.4 119.9,105.5 118.3,106.7 118.8,108.7 117.1,107.6 115.4,108.7 116,106.7 114.4,105.5 116.4,105.4"/>
<polygon class="pus" points="110.6,112.3 111.3,114.2 113.3,114.3 111.7,115.6 112.3,117.6 110.6,116.4 108.9,117.6 109.4,115.6 107.8,114.3 109.9,114.2"/>
<polygon class="pus" points="114.2,118.6 114.9,120.5 116.9,120.6 115.3,121.9 115.9,123.8 114.2,122.7 112.5,123.8 113,121.9 111.4,120.6 113.5,120.5"/>
<polygon class="pus" points="119.7,118.8 120.4,120.7 122.4,120.8 120.8,122.1 121.4,124 119.7,122.9 118,124 118.5,122.1 116.9,120.8 118.9,120.7"/>
<circle class="pu" cx="137" cy="100" r="2.15"/>
<circle class="pu" cx="143" cy="80.9" r="2.15"/>
<polygon class="pus" points="120,89.1 120.7,91 122.8,91.1 121.2,92.4 121.7,94.3 120,93.2 118.3,94.3 118.8,92.4 117.2,91.1 119.3,91"/>
<circle class="pu" cx="139.7" cy="126.3" r="2.15"/>
<polygon class="pus" points="127.5,97.2 128.3,99.1 130.3,99.2 128.7,100.4 129.2,102.4 127.5,101.3 125.8,102.4 126.4,100.4 124.8,99.2 126.8,99.1"/>
<polygon class="pus" points="123.9,120.9 124.6,122.8 126.6,122.9 125,124.2 125.6,126.1 123.9,125 122.2,126.1 122.7,124.2 121.1,122.9 123.1,122.8"/>
<polygon class="pus" points="122.2,118.7 123,120.6 125,120.7 123.4,122 123.9,124 122.2,122.8 120.5,124 121.1,122 119.5,120.7 121.5,120.6"/>
<polygon class="pus" points="113.6,115.2 114.3,117.1 116.4,117.2 114.8,118.5 115.3,120.5 113.6,119.3 111.9,120.5 112.5,118.5 110.9,117.2 112.9,117.1"/>
<polygon class="pus" points="124.8,121.3 125.5,123.2 127.6,123.3 126,124.6 126.5,126.6 124.8,125.5 123.1,126.6 123.7,124.6 122.1,123.3 124.1,123.2"/>
<polygon class="pus" points="115.9,94.8 116.6,96.7 118.6,96.8 117,98.1 117.6,100.1 115.9,98.9 114.2,100.1 114.7,98.1 113.1,96.8 115.1,96.7"/>
<polygon class="pus" points="125,104 125.8,105.9 127.8,106 126.2,107.3 126.8,109.2 125,108.1 123.3,109.2 123.9,107.3 122.3,106 124.3,105.9"/>
<circle class="pu" cx="149.6" cy="98.4" r="2.15"/>
<polygon class="pus" points="114,121.4 114.7,123.3 116.8,123.4 115.2,124.7 115.7,126.6 114,125.5 112.3,126.6 112.8,124.7 111.2,123.4 113.3,123.3"/>
<polygon class="pus" points="122.3,106.3 123.1,108.2 125.1,108.3 123.5,109.6 124.1,111.6 122.3,110.4 120.6,111.6 121.2,109.6 119.6,108.3 121.6,108.2"/>
<rect x="244.6" y="19.8" width="27.6" height="14.6" fill="#000"/>
<rect x="242.1" y="17.1" width="27.6" height="14.6" fill="#f3f7d3" stroke="#a9ac96" stroke-width="0.7"/>
<text x="255.9" y="28.5" font-size="10.5" text-anchor="middle" textLength="23.9" lengthAdjust="spacingAndGlyphs">Crete</text>
<text class="pl" x="25" y="39">a)</text>
<text class="ax" transform="translate(5.9,117.6) rotate(87.3)" font-size="8.9" text-anchor="middle" textLength="83" lengthAdjust="spacingAndGlyphs">Canonical Variable 3</text>
<text class="tk" transform="translate(13.6,41.5) rotate(87)" font-size="7" text-anchor="middle">6</text>
<text class="tk" transform="translate(14.2,66.4) rotate(87)" font-size="7" text-anchor="middle">4</text>
<text class="tk" transform="translate(14.4,90.8) rotate(87)" font-size="7" text-anchor="middle">2</text>
<text class="tk" transform="translate(15.8,115.4) rotate(87)" font-size="7" text-anchor="middle">0</text>
<text class="tk" transform="translate(16.7,139.8) rotate(87)" font-size="7" text-anchor="middle">-2</text>
<text class="tk" transform="translate(18.5,163.8) rotate(87)" font-size="7" text-anchor="middle">-4</text>
<text class="tk" transform="translate(19.7,186.6) rotate(87)" font-size="7" text-anchor="middle">-6</text>
<text class="tk" transform="translate(33,205.5) rotate(21) skewX(-25)" font-size="5.5" text-anchor="middle">-5</text>
<text class="tk" transform="translate(66.7,217.5) rotate(21) skewX(-25)" font-size="5.5" text-anchor="middle">0</text>
<text class="tk" transform="translate(96.7,229.8) rotate(21) skewX(-25)" font-size="5.5" text-anchor="middle">5</text>
<text class="tk" transform="translate(131.8,243.3) rotate(21) skewX(-25)" font-size="5.5" text-anchor="middle">10</text>
<text class="ax2" transform="translate(70.5,228.5) rotate(20.8) skewX(-25)" font-size="6.5" text-anchor="middle" textLength="68" lengthAdjust="spacingAndGlyphs">Canonical Variable 1</text>
<text class="tk" transform="translate(161.8,250) rotate(-26)" font-size="5" text-anchor="middle">-6</text>
<text class="tk" transform="translate(181,240.5) rotate(-26)" font-size="5" text-anchor="middle">-4</text>
<text class="tk" transform="translate(196.7,231.6) rotate(-26)" font-size="5" text-anchor="middle">-2</text>
<text class="tk" transform="translate(211.4,223.4) rotate(-26)" font-size="5" text-anchor="middle">0</text>
<text class="tk" transform="translate(226,215) rotate(-26)" font-size="5" text-anchor="middle">2</text>
<text class="tk" transform="translate(240.7,207.6) rotate(-26)" font-size="5" text-anchor="middle">4</text>
<text class="tk" transform="translate(254.7,200.5) rotate(-26)" font-size="5" text-anchor="middle">6</text>
<text class="tk" transform="translate(268,193.7) rotate(-26)" font-size="5" text-anchor="middle">8</text>
<text class="ax2" transform="translate(230,225) rotate(-25.4)" font-size="6.5" text-anchor="middle" textLength="59" lengthAdjust="spacingAndGlyphs">Canonical Variable 2</text>
<polygon class="w" points="285.8,34.4 340.7,3.8 343.8,165.4 294.2,231.6"/>
<path class="g" d="M295.1 29.2L302.6 220.3M304.2 24.1L310.9 209.4M312.4 19.6L318.3 199.5M320.2 15.2L325.2 190.2M327.4 11.2L331.7 181.5M334.1 7.5L337.8 173.3M338.5 5L341.8 168M286.5 50.6L341 17.1M287.6 77.2L341.4 38.9M288.8 103.8L341.8 60.7M289.9 130.4L342.2 82.5M291 157.1L342.6 104.3M292.2 183.7L343 126.1M293.3 210.3L343.5 147.9"/>
<polygon class="w" points="340.7,3.8 531.6,7 524,175.6 343.8,165.4"/>
<path class="g" d="M368.6 4.3L370.1 166.9M397 4.7L397 168.4M426 5.2L424.3 170M455.8 5.7L452.5 171.6M485 6.2L480 173.1M514.2 6.7L507.6 174.7M341 17.1L531 20.8M341.4 38.9L530 43.6M341.8 60.7L528.9 66.3M342.2 82.5L527.9 89.1M342.6 104.3L526.9 111.9M343 126.1L525.8 134.6M343.5 147.9L524.8 157.4"/>
<polygon class="w" points="294.2,231.6 343.8,165.4 524,175.6 514.8,245.6"/>
<path class="g" d="M302.6 220.3L516.4 233.7M310.9 209.4L517.9 222.1M318.3 199.5L519.3 211.7M325.2 190.2L520.6 201.8M331.7 181.5L521.8 192.6M337.8 173.3L522.9 184M341.8 168L523.6 178.4M326.4 233.6L370.1 166.9M359.3 235.7L397 168.4M392.8 237.9L424.3 170M427.2 240L452.5 171.6M461 242.2L480 173.1M494.7 244.3L507.6 174.7"/>
<path class="et" d="M340.7 3.8L343.8 165.4M294.2 231.6L343.8 165.4M343.8 165.4L524 175.6"/>
<path class="e" d="M285.8 34.4L340.7 3.8M340.7 3.8L531.6 7M285.8 34.4L294.2 231.6M294.2 231.6L514.8 245.6M514.8 245.6L524 175.6M531.6 7L524 175.6"/>
<circle class="gy" cx="470" cy="122.8" r="2.6"/>
<circle class="gy" cx="488.7" cy="103.8" r="2.6"/>
<circle class="gy" cx="491.2" cy="139.7" r="2.6"/>
<circle class="gy" cx="477.5" cy="136.2" r="2.6"/>
<circle class="gy" cx="488.2" cy="133.1" r="2.6"/>
<circle class="gy" cx="484.8" cy="115.8" r="2.6"/>
<circle class="gy" cx="491.1" cy="148.6" r="2.6"/>
<circle class="gy" cx="488.1" cy="96.6" r="2.6"/>
<circle class="gy" cx="478.8" cy="108.6" r="2.6"/>
<circle class="gy" cx="490.7" cy="113.6" r="2.6"/>
<circle class="gy" cx="499.1" cy="124.9" r="2.6"/>
<circle class="gy" cx="481.8" cy="125.8" r="2.6"/>
<circle class="gy" cx="480.6" cy="103.3" r="2.6"/>
<circle class="gy" cx="483.2" cy="112.8" r="2.6"/>
<circle class="gy" cx="470.7" cy="123.4" r="2.6"/>
<circle class="gy" cx="461" cy="121" r="2.6"/>
<circle class="gy" cx="465.8" cy="101.7" r="2.6"/>
<circle class="gy" cx="497.3" cy="143.6" r="2.6"/>
<circle class="gy" cx="497" cy="136.3" r="2.6"/>
<circle class="gy" cx="478.8" cy="123.7" r="2.6"/>
<circle class="gy" cx="475.5" cy="116.5" r="2.6"/>
<circle class="gy" cx="488.1" cy="110.8" r="2.6"/>
<circle class="gy" cx="471.5" cy="132.4" r="2.6"/>
<circle class="gy" cx="485.3" cy="136.5" r="2.6"/>
<circle class="gy" cx="494.6" cy="127.1" r="2.6"/>
<circle class="gy" cx="482.3" cy="113.1" r="2.6"/>
<circle class="gy" cx="462.1" cy="105.6" r="2.6"/>
<circle class="gy" cx="482.6" cy="124.3" r="2.6"/>
<circle class="gy" cx="464.7" cy="103.5" r="2.6"/>
<circle class="gy" cx="478.3" cy="125.8" r="2.6"/>
<circle class="gy" cx="479.7" cy="115.1" r="2.6"/>
<circle class="gy" cx="493.8" cy="139.4" r="2.6"/>
<circle class="gy" cx="483.9" cy="137.3" r="2.6"/>
<circle class="gy" cx="474.6" cy="113.5" r="2.6"/>
<circle class="gy" cx="486.6" cy="134.7" r="2.6"/>
<circle class="gy" cx="466" cy="131.8" r="2.6"/>
<circle class="gy" cx="476.6" cy="113.6" r="2.6"/>
<circle class="gy" cx="464.6" cy="110.1" r="2.6"/>
<circle class="gy" cx="506.8" cy="128.1" r="2.6"/>
<circle class="gy" cx="488" cy="121.9" r="2.6"/>
<circle class="gy" cx="476.5" cy="122.2" r="2.6"/>
<circle class="gy" cx="475.5" cy="100.1" r="2.6"/>
<circle class="gy" cx="485.5" cy="95.4" r="2.6"/>
<circle class="gy" cx="467.2" cy="124.4" r="2.6"/>
<circle class="gy" cx="469.7" cy="96" r="2.6"/>
<circle class="gy" cx="470.8" cy="134.7" r="2.6"/>
<circle class="gy" cx="473.1" cy="143.5" r="2.6"/>
<circle class="gy" cx="493.2" cy="110.6" r="2.6"/>
<circle class="gy" cx="472" cy="94" r="2.6"/>
<circle class="gy" cx="482.4" cy="111.6" r="2.6"/>
<circle class="gy" cx="487.2" cy="102.4" r="2.6"/>
<circle class="gy" cx="463.5" cy="134.6" r="2.6"/>
<circle class="gy" cx="465.2" cy="97.4" r="2.6"/>
<circle class="gy" cx="488.7" cy="133.5" r="2.6"/>
<circle class="gy" cx="463.8" cy="105.5" r="2.6"/>
<circle class="gy" cx="477.1" cy="129.9" r="2.6"/>
<circle class="gy" cx="499" cy="130.7" r="2.6"/>
<circle class="gy" cx="484.6" cy="147.9" r="2.6"/>
<circle class="gy" cx="495.1" cy="150.5" r="2.6"/>
<circle class="gy" cx="483.1" cy="120.1" r="2.6"/>
<circle class="gy" cx="478.9" cy="137" r="2.6"/>
<circle class="gy" cx="478.3" cy="153.8" r="2.6"/>
<circle class="gy" cx="485.1" cy="123.6" r="2.6"/>
<circle class="gy" cx="477.5" cy="120.2" r="2.6"/>
<circle class="gy" cx="478.8" cy="141.5" r="2.6"/>
<circle class="gy" cx="482.6" cy="102.1" r="2.6"/>
<circle class="gy" cx="484.5" cy="136.6" r="2.6"/>
<circle class="gy" cx="498.1" cy="116.8" r="2.6"/>
<circle class="gy" cx="471.1" cy="128.4" r="2.6"/>
<circle class="gy" cx="484.5" cy="119" r="2.6"/>
<circle class="gy" cx="489.2" cy="118.6" r="2.6"/>
<circle class="gy" cx="464.6" cy="109.3" r="2.6"/>
<circle class="gy" cx="501" cy="125.3" r="2.6"/>
<circle class="gy" cx="493.9" cy="105.7" r="2.6"/>
<circle class="gy" cx="484.3" cy="147.9" r="2.6"/>
<circle class="gy" cx="496.3" cy="111.8" r="2.6"/>
<circle class="gy" cx="471.8" cy="121.2" r="2.6"/>
<circle class="gy" cx="497" cy="153" r="2.6"/>
<circle class="gy" cx="485" cy="96.4" r="2.6"/>
<circle class="gy" cx="464.4" cy="125.6" r="2.6"/>
<circle class="gy" cx="480.1" cy="146.2" r="2.6"/>
<circle class="gy" cx="502.5" cy="149.8" r="2.6"/>
<circle class="gy" cx="476" cy="105.5" r="2.6"/>
<circle class="gy" cx="485" cy="96.8" r="2.6"/>
<circle class="gy" cx="494.9" cy="126.5" r="2.6"/>
<circle class="gy" cx="469.2" cy="131" r="2.6"/>
<circle class="gy" cx="457.9" cy="114.1" r="2.6"/>
<circle class="gy" cx="482.7" cy="88.7" r="2.6"/>
<circle class="gy" cx="490.4" cy="106.3" r="2.6"/>
<circle class="gy" cx="476.1" cy="130.7" r="2.6"/>
<circle class="gy" cx="487.7" cy="119" r="2.6"/>
<circle class="gy" cx="491.6" cy="152.9" r="2.6"/>
<circle class="gy" cx="482.1" cy="96" r="2.6"/>
<circle class="gy" cx="480" cy="118.2" r="2.6"/>
<circle class="gy" cx="471" cy="117.5" r="2.6"/>
<circle class="gy" cx="492.7" cy="124.9" r="2.6"/>
<circle class="gy" cx="465.8" cy="116.9" r="2.6"/>
<circle class="gy" cx="483.2" cy="101.8" r="2.6"/>
<circle class="gy" cx="464" cy="98.7" r="2.6"/>
<circle class="gy" cx="477.4" cy="90.8" r="2.6"/>
<circle class="gy" cx="484" cy="106.3" r="2.6"/>
<circle class="gy" cx="475.2" cy="130.3" r="2.6"/>
<circle class="gy" cx="504" cy="132.4" r="2.6"/>
<circle class="gy" cx="495.6" cy="156.6" r="2.6"/>
<circle class="gy" cx="460.7" cy="93.4" r="2.6"/>
<circle class="gy" cx="486.2" cy="109.1" r="2.6"/>
<circle class="gy" cx="487.4" cy="118.7" r="2.6"/>
<circle class="gy" cx="488.5" cy="118.1" r="2.6"/>
<circle class="gy" cx="489.4" cy="132.5" r="2.6"/>
<circle class="gy" cx="485.2" cy="132.4" r="2.6"/>
<circle class="gy" cx="476.9" cy="125.3" r="2.6"/>
<circle class="gy" cx="477.7" cy="106.5" r="2.6"/>
<circle class="gy" cx="486.1" cy="122.3" r="2.6"/>
<circle class="gy" cx="493.8" cy="148.5" r="2.6"/>
<circle class="gy" cx="476.3" cy="129.5" r="2.6"/>
<circle class="gy" cx="492.4" cy="113.4" r="2.6"/>
<circle class="gy" cx="488.4" cy="98.6" r="2.6"/>
<circle class="gy" cx="488.2" cy="135.8" r="2.6"/>
<circle class="gy" cx="489.2" cy="125.7" r="2.6"/>
<circle class="gy" cx="463.9" cy="100.1" r="2.6"/>
<circle class="gy" cx="488.1" cy="131.1" r="2.6"/>
<circle class="gy" cx="488.8" cy="149.7" r="2.6"/>
<circle class="gy" cx="473.8" cy="143.9" r="2.6"/>
<circle class="gy" cx="487.5" cy="139.6" r="2.6"/>
<circle class="gy" cx="493" cy="158.7" r="2.6"/>
<circle class="gy" cx="495.6" cy="129.4" r="2.6"/>
<circle class="gy" cx="473.4" cy="133.5" r="2.6"/>
<circle class="gy" cx="475.7" cy="121" r="2.6"/>
<circle class="gy" cx="490.8" cy="131" r="2.6"/>
<circle class="gy" cx="501.1" cy="135.6" r="2.6"/>
<circle class="gy" cx="476.6" cy="116.3" r="2.6"/>
<circle class="gy" cx="484.9" cy="122.8" r="2.6"/>
<circle class="gy" cx="486.4" cy="100.7" r="2.6"/>
<circle class="gy" cx="487.6" cy="100.7" r="2.6"/>
<circle class="gy" cx="496.4" cy="112.1" r="2.6"/>
<circle class="gy" cx="461.7" cy="119.8" r="2.6"/>
<circle class="gy" cx="455.1" cy="116.6" r="2.6"/>
<circle class="gy" cx="468.4" cy="137.6" r="2.6"/>
<circle class="gy" cx="483.3" cy="120" r="2.6"/>
<circle class="gy" cx="473.6" cy="119.1" r="2.6"/>
<circle class="gy" cx="471.2" cy="88.5" r="2.6"/>
<circle class="gy" cx="458.3" cy="95.4" r="2.6"/>
<circle class="gy" cx="497.9" cy="113.2" r="2.6"/>
<circle class="gy" cx="482.1" cy="127.1" r="2.6"/>
<circle class="gy" cx="481.3" cy="128.6" r="2.6"/>
<circle class="gy" cx="483" cy="130.4" r="2.6"/>
<circle class="gy" cx="496.1" cy="157.7" r="2.6"/>
<circle class="gy" cx="489.7" cy="133.8" r="2.6"/>
<circle class="gy" cx="466.3" cy="115" r="2.6"/>
<circle class="gy" cx="485.9" cy="122.7" r="2.6"/>
<circle class="gy" cx="459.7" cy="111.6" r="2.6"/>
<circle class="gy" cx="465.6" cy="126.4" r="2.6"/>
<circle class="gy" cx="495.5" cy="156.2" r="2.6"/>
<circle class="gy" cx="480.9" cy="133" r="2.6"/>
<circle class="gy" cx="491" cy="131.8" r="2.6"/>
<circle class="gy" cx="497.1" cy="144.7" r="2.6"/>
<circle class="gy" cx="501" cy="119.9" r="2.6"/>
<circle class="gy" cx="483.1" cy="130" r="2.6"/>
<circle class="gy" cx="461.4" cy="117.7" r="2.6"/>
<circle class="gy" cx="481.2" cy="141.3" r="2.6"/>
<circle class="gy" cx="483.3" cy="105.1" r="2.6"/>
<circle class="gy" cx="498.7" cy="136.6" r="2.6"/>
<circle class="gy" cx="469.6" cy="105.7" r="2.6"/>
<circle class="gy" cx="474.4" cy="124.4" r="2.6"/>
<circle class="gy" cx="486.1" cy="132.1" r="2.6"/>
<circle class="gy" cx="475" cy="143.9" r="2.6"/>
<circle class="gy" cx="465.3" cy="124.7" r="2.6"/>
<circle class="gy" cx="477.7" cy="117.2" r="2.6"/>
<circle class="gy" cx="480.8" cy="125.1" r="2.6"/>
<circle class="gy" cx="469.6" cy="136" r="2.6"/>
<circle class="gy" cx="504.4" cy="145" r="2.6"/>
<circle class="gy" cx="487" cy="97.9" r="2.6"/>
<circle class="gy" cx="470.5" cy="119.7" r="2.6"/>
<circle class="gy" cx="475.8" cy="110.8" r="2.6"/>
<circle class="gy" cx="491.5" cy="117.9" r="2.6"/>
<circle class="gy" cx="482.8" cy="112.4" r="2.6"/>
<circle class="gy" cx="488.3" cy="107.9" r="2.6"/>
<circle class="gy" cx="475.7" cy="97" r="2.6"/>
<circle class="gy" cx="486.3" cy="143.2" r="2.6"/>
<circle class="gy" cx="476" cy="120.1" r="2.6"/>
<circle class="gy" cx="486.8" cy="104.1" r="2.6"/>
<circle class="gy" cx="479.6" cy="122.5" r="2.6"/>
<circle class="gy" cx="499.7" cy="122" r="2.6"/>
<circle class="gy" cx="490.5" cy="141.5" r="2.6"/>
<circle class="gy" cx="467.4" cy="117.6" r="2.6"/>
<circle class="gy" cx="476.9" cy="101.2" r="2.6"/>
<circle class="gy" cx="491.6" cy="107.1" r="2.6"/>
<circle class="gy" cx="479.9" cy="146.5" r="2.6"/>
<circle class="gy" cx="469.8" cy="128.9" r="2.6"/>
<circle class="gy" cx="475.8" cy="92" r="2.6"/>
<circle class="gy" cx="482.3" cy="130.7" r="2.6"/>
<circle class="gy" cx="464.6" cy="115.5" r="2.6"/>
<circle class="gy" cx="476" cy="141.7" r="2.6"/>
<circle class="gy" cx="469.8" cy="94.1" r="2.6"/>
<circle class="gy" cx="488.8" cy="104.8" r="2.6"/>
<circle class="gy" cx="477.6" cy="117.2" r="2.6"/>
<circle class="gy" cx="476.2" cy="146" r="2.6"/>
<circle class="gy" cx="479.3" cy="135.6" r="2.6"/>
<circle class="gy" cx="481.1" cy="116.8" r="2.6"/>
<circle class="gy" cx="486.2" cy="106.8" r="2.6"/>
<circle class="gy" cx="501.3" cy="128.3" r="2.6"/>
<circle class="gy" cx="498.9" cy="130.7" r="2.6"/>
<circle class="gy" cx="492.4" cy="144.2" r="2.6"/>
<circle class="gy" cx="471" cy="96.5" r="2.6"/>
<circle class="gy" cx="490.1" cy="120.9" r="2.6"/>
<circle class="gy" cx="480.4" cy="114.9" r="2.6"/>
<circle class="gy" cx="466.6" cy="108.9" r="2.6"/>
<circle class="gy" cx="492" cy="130.3" r="2.6"/>
<circle class="gy" cx="476.2" cy="93.8" r="2.6"/>
<circle class="gy" cx="486.1" cy="126.3" r="2.6"/>
<circle class="gy" cx="491.9" cy="132.3" r="2.6"/>
<circle class="gy" cx="468.7" cy="123" r="2.6"/>
<circle class="gy" cx="475.7" cy="135.2" r="2.6"/>
<circle class="gy" cx="499.3" cy="136.5" r="2.6"/>
<circle class="gy" cx="495" cy="106.7" r="2.6"/>
<circle class="gy" cx="475.4" cy="121.8" r="2.6"/>
<circle class="gy" cx="464.6" cy="111.5" r="2.6"/>
<circle class="gy" cx="497.1" cy="150.5" r="2.6"/>
<circle class="gy" cx="500.8" cy="133.6" r="2.6"/>
<circle class="gy" cx="471.7" cy="133.3" r="2.6"/>
<circle class="gy" cx="465.6" cy="126" r="2.6"/>
<circle class="gy" cx="506.8" cy="128.5" r="2.6"/>
<circle class="gy" cx="490.2" cy="134.7" r="2.6"/>
<circle class="gy" cx="496.8" cy="112.9" r="2.6"/>
<circle class="gy" cx="464.9" cy="131.4" r="2.6"/>
<circle class="gy" cx="459.9" cy="105.3" r="2.6"/>
<circle class="gy" cx="492" cy="131.4" r="2.6"/>
<circle class="gy" cx="462.2" cy="114.6" r="2.6"/>
<circle class="gy" cx="476.1" cy="91.6" r="2.6"/>
<circle class="gy" cx="460" cy="88" r="2.6"/>
<circle class="gy" cx="468.4" cy="99.6" r="2.6"/>
<circle class="gy" cx="473.5" cy="119.7" r="2.6"/>
<circle class="gy" cx="465.1" cy="106.8" r="2.6"/>
<circle class="gy" cx="461.8" cy="137.7" r="2.6"/>
<circle class="gy" cx="476.9" cy="100.4" r="2.6"/>
<circle class="gy" cx="487.4" cy="118.1" r="2.6"/>
<circle class="gy" cx="463.5" cy="99.6" r="2.6"/>
<circle class="gy" cx="464.2" cy="131.2" r="2.6"/>
<circle class="gy" cx="476.2" cy="111.6" r="2.6"/>
<circle class="gy" cx="499.5" cy="129.7" r="2.6"/>
<circle class="gy" cx="491.2" cy="148.6" r="2.6"/>
<circle class="gy" cx="487.5" cy="130.5" r="2.6"/>
<circle class="gy" cx="485.8" cy="142.1" r="2.6"/>
<circle class="gy" cx="471.9" cy="102" r="2.6"/>
<circle class="gy" cx="479.9" cy="116.8" r="2.6"/>
<circle class="gy" cx="482" cy="137.8" r="2.6"/>
<circle class="gy" cx="461" cy="115.5" r="2.6"/>
<circle class="gy" cx="506" cy="143" r="2.6"/>
<circle class="gy" cx="485.4" cy="97.1" r="2.6"/>
<circle class="gy" cx="466.5" cy="98.8" r="2.6"/>
<circle class="gy" cx="497.5" cy="121.9" r="2.6"/>
<circle class="gy" cx="464.9" cy="120.6" r="2.6"/>
<circle class="gy" cx="476.1" cy="125.6" r="2.6"/>
<circle class="gy" cx="482" cy="116.7" r="2.6"/>
<circle class="gy" cx="479.2" cy="144.1" r="2.6"/>
<circle class="gy" cx="474.6" cy="145.8" r="2.6"/>
<circle class="gy" cx="465.3" cy="113.2" r="2.6"/>
<circle class="gy" cx="480.7" cy="114.7" r="2.6"/>
<circle class="gy" cx="484" cy="143.5" r="2.6"/>
<circle class="gy" cx="478.4" cy="95.5" r="2.6"/>
<circle class="gy" cx="483.8" cy="105.9" r="2.6"/>
<circle class="gy" cx="471.4" cy="118" r="2.6"/>
<circle class="gy" cx="467.8" cy="99.7" r="2.6"/>
<circle class="gy" cx="470.1" cy="115.7" r="2.6"/>
<circle class="gy" cx="473.7" cy="140.1" r="2.6"/>
<circle class="gy" cx="487.9" cy="133.5" r="2.6"/>
<circle class="gy" cx="474.6" cy="144.2" r="2.6"/>
<circle class="gy" cx="484.9" cy="135.6" r="2.6"/>
<circle class="gy" cx="490.5" cy="148.1" r="2.6"/>
<circle class="gy" cx="490.4" cy="135.5" r="2.6"/>
<circle class="gy" cx="472.7" cy="98.2" r="2.6"/>
<circle class="gy" cx="484" cy="132.3" r="2.6"/>
<circle class="gy" cx="488.3" cy="112.1" r="2.6"/>
<circle class="gy" cx="477.8" cy="111.2" r="2.6"/>
<circle class="gy" cx="469.6" cy="120" r="2.6"/>
<circle class="gy" cx="463.3" cy="126.2" r="2.6"/>
<circle class="gy" cx="498.9" cy="145.9" r="2.6"/>
<circle class="gy" cx="465.4" cy="117.6" r="2.6"/>
<circle class="gy" cx="468.8" cy="117" r="2.6"/>
<polygon class="gys" points="478.5,105.7 479.4,108.2 482.1,108.3 480,110 480.7,112.5 478.5,111.1 476.3,112.5 477,110 474.9,108.3 477.6,108.2"/>
<polygon class="gys" points="490.3,117.9 491.2,120.4 493.9,120.5 491.8,122.1 492.5,124.7 490.3,123.2 488,124.7 488.7,122.1 486.7,120.5 489.3,120.4"/>
<polygon class="gys" points="467.5,98.8 468.4,101.3 471.1,101.4 469,103.1 469.7,105.7 467.5,104.2 465.2,105.7 466,103.1 463.9,101.4 466.5,101.3"/>
<polygon class="gys" points="469.6,88.6 470.5,91.1 473.2,91.2 471.1,92.9 471.8,95.5 469.6,94 467.3,95.5 468,92.9 465.9,91.2 468.6,91.1"/>
<polygon class="gys" points="494.5,102 495.5,104.5 498.1,104.6 496.1,106.2 496.8,108.8 494.5,107.3 492.3,108.8 493,106.2 490.9,104.6 493.6,104.5"/>
<polygon class="gys" points="487.4,95.8 488.3,98.3 491,98.4 488.9,100.1 489.6,102.7 487.4,101.2 485.2,102.7 485.9,100.1 483.8,98.4 486.5,98.3"/>
<polygon class="gys" points="450.8,94.5 451.7,97 454.4,97.1 452.3,98.8 453,101.4 450.8,99.9 448.6,101.4 449.3,98.8 447.2,97.1 449.9,97"/>
<polygon class="gys" points="462.1,102.5 463,105 465.7,105.1 463.6,106.8 464.3,109.4 462.1,107.9 459.8,109.4 460.6,106.8 458.5,105.1 461.1,105"/>
<polygon class="gys" points="465,99.3 466,101.8 468.7,101.9 466.6,103.6 467.3,106.2 465,104.7 462.8,106.2 463.5,103.6 461.4,101.9 464.1,101.8"/>
<polygon class="gys" points="467.5,111.3 468.4,113.8 471.1,114 469,115.6 469.7,118.2 467.5,116.7 465.3,118.2 466,115.6 463.9,114 466.5,113.8"/>
<polygon class="gys" points="468,81.2 468.9,83.7 471.6,83.8 469.5,85.5 470.2,88.1 468,86.6 465.8,88.1 466.5,85.5 464.4,83.8 467.1,83.7"/>
<polygon class="gys" points="493.4,94.3 494.3,96.8 497,96.9 494.9,98.6 495.6,101.1 493.4,99.7 491.1,101.1 491.8,98.6 489.7,96.9 492.4,96.8"/>
<polygon class="gys" points="473.2,94.1 474.1,96.6 476.8,96.7 474.7,98.4 475.4,101 473.2,99.5 470.9,101 471.6,98.4 469.5,96.7 472.2,96.6"/>
<polygon class="gys" points="486.2,118.9 487.2,121.4 489.8,121.6 487.7,123.2 488.5,125.8 486.2,124.3 484,125.8 484.7,123.2 482.6,121.6 485.3,121.4"/>
<polygon class="gys" points="480.7,97.4 481.6,99.9 484.3,100 482.2,101.7 482.9,104.3 480.7,102.8 478.4,104.3 479.1,101.7 477,100 479.7,99.9"/>
<polygon class="gys" points="481.4,98.5 482.4,101 485,101.1 482.9,102.8 483.7,105.4 481.4,103.9 479.2,105.4 479.9,102.8 477.8,101.1 480.5,101"/>
<polygon class="gys" points="464.2,107.5 465.2,110 467.8,110.1 465.7,111.8 466.5,114.3 464.2,112.9 462,114.3 462.7,111.8 460.6,110.1 463.3,110"/>
<polygon class="gys" points="470.7,107.4 471.6,109.9 474.3,110 472.2,111.7 472.9,114.3 470.7,112.8 468.4,114.3 469.1,111.7 467,110 469.7,109.9"/>
<polygon class="gys" points="481,94.5 481.9,97.1 484.6,97.2 482.5,98.8 483.2,101.4 481,99.9 478.8,101.4 479.5,98.8 477.4,97.2 480,97.1"/>
<polygon class="gys" points="480.3,116.9 481.2,119.4 483.9,119.6 481.8,121.2 482.5,123.8 480.3,122.3 478.1,123.8 478.8,121.2 476.7,119.6 479.4,119.4"/>
<polygon class="gys" points="483.8,113.5 484.7,116 487.4,116.1 485.3,117.8 486,120.4 483.8,118.9 481.6,120.4 482.3,117.8 480.2,116.1 482.9,116"/>
<polygon class="gys" points="477.7,110.3 478.6,112.8 481.3,112.9 479.2,114.6 479.9,117.1 477.7,115.7 475.5,117.1 476.2,114.6 474.1,112.9 476.8,112.8"/>
<polygon class="gys" points="490,114.1 491,116.6 493.6,116.7 491.5,118.4 492.3,121 490,119.5 487.8,121 488.5,118.4 486.4,116.7 489.1,116.6"/>
<polygon class="gys" points="459.3,84.3 460.2,86.8 462.9,86.9 460.8,88.6 461.5,91.2 459.3,89.7 457,91.2 457.8,88.6 455.7,86.9 458.3,86.8"/>
<polygon class="gys" points="474,82.2 474.9,84.7 477.6,84.8 475.5,86.5 476.2,89.1 474,87.6 471.8,89.1 472.5,86.5 470.4,84.8 473.1,84.7"/>
<polygon class="gys" points="480.1,99.2 481.1,101.7 483.7,101.8 481.6,103.5 482.3,106.1 480.1,104.6 477.9,106.1 478.6,103.5 476.5,101.8 479.2,101.7"/>
<polygon class="gys" points="488.7,117.2 489.7,119.7 492.3,119.9 490.2,121.5 491,124.1 488.7,122.6 486.5,124.1 487.2,121.5 485.1,119.9 487.8,119.7"/>
<polygon class="gys" points="483.4,121.1 484.3,123.7 487,123.8 484.9,125.4 485.6,128 483.4,126.5 481.2,128 481.9,125.4 479.8,123.8 482.5,123.7"/>
<polygon class="gys" points="470,98.9 470.9,101.4 473.6,101.5 471.5,103.2 472.2,105.8 470,104.3 467.7,105.8 468.5,103.2 466.4,101.5 469,101.4"/>
<polygon class="gys" points="478.5,96.3 479.4,98.8 482.1,99 480,100.6 480.7,103.2 478.5,101.7 476.2,103.2 477,100.6 474.9,99 477.5,98.8"/>
<polygon class="gys" points="472,115.5 473,118 475.7,118.1 473.6,119.8 474.3,122.4 472,120.9 469.8,122.4 470.5,119.8 468.4,118.1 471.1,118"/>
<polygon class="gys" points="471.6,108.5 472.5,111 475.2,111.1 473.1,112.8 473.8,115.3 471.6,113.9 469.3,115.3 470.1,112.8 468,111.1 470.6,111"/>
<polygon class="gys" points="481.8,90.4 482.7,92.9 485.4,93 483.3,94.7 484,97.3 481.8,95.8 479.5,97.3 480.2,94.7 478.2,93 480.8,92.9"/>
<polygon class="gys" points="459.9,74 460.8,76.5 463.5,76.6 461.4,78.3 462.1,80.9 459.9,79.4 457.7,80.9 458.4,78.3 456.3,76.6 459,76.5"/>
<polygon class="gys" points="478.6,112.7 479.5,115.2 482.2,115.4 480.1,117 480.8,119.6 478.6,118.1 476.4,119.6 477.1,117 475,115.4 477.7,115.2"/>
<polygon class="gys" points="477.1,83.7 478,86.2 480.7,86.3 478.6,88 479.3,90.6 477.1,89.1 474.9,90.6 475.6,88 473.5,86.3 476.1,86.2"/>
<polygon class="gys" points="464.1,89.7 465.1,92.2 467.7,92.4 465.6,94 466.4,96.6 464.1,95.1 461.9,96.6 462.6,94 460.5,92.4 463.2,92.2"/>
<polygon class="gys" points="468.4,108.6 469.4,111.1 472,111.2 469.9,112.8 470.7,115.4 468.4,114 466.2,115.4 466.9,112.8 464.8,111.2 467.5,111.1"/>
<polygon class="gys" points="487.1,130.3 488.1,132.8 490.7,132.9 488.6,134.6 489.4,137.2 487.1,135.7 484.9,137.2 485.6,134.6 483.5,132.9 486.2,132.8"/>
<polygon class="gys" points="476.4,119.6 477.4,122.2 480.1,122.3 478,123.9 478.7,126.5 476.4,125 474.2,126.5 474.9,123.9 472.8,122.3 475.5,122.2"/>
<polygon class="gys" points="478.5,103.9 479.4,106.4 482.1,106.5 480,108.2 480.7,110.8 478.5,109.3 476.2,110.8 477,108.2 474.9,106.5 477.5,106.4"/>
<polygon class="gys" points="480,83.2 480.9,85.7 483.6,85.8 481.5,87.5 482.2,90.1 480,88.6 477.8,90.1 478.5,87.5 476.4,85.8 479.1,85.7"/>
<polygon class="gys" points="481.3,100.2 482.2,102.7 484.9,102.9 482.8,104.5 483.5,107.1 481.3,105.6 479,107.1 479.7,104.5 477.6,102.9 480.3,102.7"/>
<polygon class="gys" points="465.2,110.1 466.2,112.6 468.9,112.8 466.8,114.4 467.5,117 465.2,115.5 463,117 463.7,114.4 461.6,112.8 464.3,112.6"/>
<polygon class="gys" points="473.7,98.9 474.6,101.4 477.3,101.5 475.2,103.2 475.9,105.7 473.7,104.3 471.4,105.7 472.1,103.2 470,101.5 472.7,101.4"/>
<polygon class="gys" points="473.7,128.9 474.6,131.4 477.3,131.5 475.2,133.2 475.9,135.7 473.7,134.3 471.4,135.7 472.2,133.2 470.1,131.5 472.7,131.4"/>
<polygon class="gys" points="489.4,96.4 490.3,98.9 493,99 490.9,100.7 491.6,103.3 489.4,101.8 487.1,103.3 487.9,100.7 485.8,99 488.4,98.9"/>
<polygon class="gys" points="456,78.2 456.9,80.7 459.6,80.8 457.5,82.5 458.2,85.1 456,83.6 453.8,85.1 454.5,82.5 452.4,80.8 455.1,80.7"/>
<circle class="or" cx="343.5" cy="132.5" r="2.6"/>
<circle class="or" cx="341.8" cy="132.8" r="2.6"/>
<circle class="or" cx="353" cy="112.2" r="2.6"/>
<circle class="or" cx="352.7" cy="112.8" r="2.6"/>
<circle class="or" cx="366.3" cy="173.4" r="2.6"/>
<circle class="or" cx="358.8" cy="184.7" r="2.6"/>
<circle class="or" cx="354.8" cy="144.6" r="2.6"/>
<circle class="or" cx="349.2" cy="156.1" r="2.6"/>
<circle class="or" cx="369.8" cy="149.4" r="2.6"/>
<circle class="or" cx="346.9" cy="113.8" r="2.6"/>
<circle class="or" cx="365.9" cy="132.8" r="2.6"/>
<circle class="or" cx="366.9" cy="116.3" r="2.6"/>
<circle class="or" cx="359.9" cy="176.1" r="2.6"/>
<circle class="or" cx="371.1" cy="112.8" r="2.6"/>
<circle class="or" cx="354.5" cy="146.6" r="2.6"/>
<circle class="or" cx="361.6" cy="142.6" r="2.6"/>
<circle class="or" cx="360.8" cy="150.4" r="2.6"/>
<circle class="or" cx="364.2" cy="153.7" r="2.6"/>
<circle class="or" cx="362.1" cy="165.3" r="2.6"/>
<circle class="or" cx="354.5" cy="136.3" r="2.6"/>
<circle class="or" cx="356.2" cy="112.6" r="2.6"/>
<circle class="or" cx="367.9" cy="128.7" r="2.6"/>
<circle class="or" cx="351.6" cy="148.4" r="2.6"/>
<circle class="or" cx="345.6" cy="130.9" r="2.6"/>
<circle class="or" cx="342.5" cy="128.8" r="2.6"/>
<circle class="or" cx="361.5" cy="132.8" r="2.6"/>
<circle class="or" cx="335.3" cy="127.2" r="2.6"/>
<circle class="or" cx="371.3" cy="138.6" r="2.6"/>
<circle class="or" cx="372.5" cy="140.4" r="2.6"/>
<circle class="or" cx="354.3" cy="121.4" r="2.6"/>
<circle class="or" cx="347.3" cy="164.5" r="2.6"/>
<circle class="or" cx="351.8" cy="125.7" r="2.6"/>
<circle class="or" cx="361.4" cy="147.3" r="2.6"/>
<circle class="or" cx="350.4" cy="142.6" r="2.6"/>
<circle class="or" cx="356" cy="164" r="2.6"/>
<circle class="or" cx="361" cy="183.8" r="2.6"/>
<circle class="or" cx="347.4" cy="148.3" r="2.6"/>
<circle class="or" cx="369.4" cy="128.5" r="2.6"/>
<circle class="or" cx="356.4" cy="161.3" r="2.6"/>
<circle class="or" cx="359.3" cy="124.5" r="2.6"/>
<circle class="or" cx="341.1" cy="146.7" r="2.6"/>
<circle class="or" cx="361.7" cy="157" r="2.6"/>
<circle class="or" cx="365.8" cy="119" r="2.6"/>
<circle class="or" cx="363.9" cy="129.9" r="2.6"/>
<circle class="or" cx="354.8" cy="144.6" r="2.6"/>
<circle class="or" cx="360.9" cy="122.9" r="2.6"/>
<circle class="or" cx="371.7" cy="116.2" r="2.6"/>
<circle class="or" cx="353.7" cy="128.9" r="2.6"/>
<circle class="or" cx="374.7" cy="148.1" r="2.6"/>
<circle class="or" cx="352.7" cy="140.2" r="2.6"/>
<circle class="or" cx="356.4" cy="155.6" r="2.6"/>
<circle class="or" cx="352.2" cy="111" r="2.6"/>
<circle class="or" cx="350.2" cy="157.3" r="2.6"/>
<circle class="or" cx="346.4" cy="126.2" r="2.6"/>
<circle class="or" cx="345.2" cy="147.9" r="2.6"/>
<circle class="or" cx="349.7" cy="183.5" r="2.6"/>
<circle class="or" cx="340.6" cy="119.9" r="2.6"/>
<circle class="or" cx="350.1" cy="170" r="2.6"/>
<circle class="or" cx="363.1" cy="152.3" r="2.6"/>
<circle class="or" cx="353.5" cy="134.2" r="2.6"/>
<circle class="or" cx="354.9" cy="167.3" r="2.6"/>
<circle class="or" cx="351.1" cy="154.9" r="2.6"/>
<circle class="or" cx="347.5" cy="176.6" r="2.6"/>
<circle class="or" cx="360.2" cy="131.2" r="2.6"/>
<circle class="or" cx="342" cy="120.2" r="2.6"/>
<circle class="or" cx="355.2" cy="163.8" r="2.6"/>
<circle class="or" cx="356" cy="136.4" r="2.6"/>
<circle class="or" cx="363" cy="157.8" r="2.6"/>
<circle class="or" cx="359.9" cy="125.5" r="2.6"/>
<circle class="or" cx="354.7" cy="142.1" r="2.6"/>
<circle class="or" cx="371.2" cy="137.6" r="2.6"/>
<circle class="or" cx="354.6" cy="135.1" r="2.6"/>
<circle class="or" cx="356.7" cy="119.3" r="2.6"/>
<circle class="or" cx="352.5" cy="177.2" r="2.6"/>
<circle class="or" cx="363.8" cy="121.7" r="2.6"/>
<circle class="or" cx="361.5" cy="148.2" r="2.6"/>
<circle class="or" cx="335.4" cy="120.4" r="2.6"/>
<circle class="or" cx="372.5" cy="127.1" r="2.6"/>
<circle class="or" cx="346.9" cy="141.6" r="2.6"/>
<circle class="or" cx="363.9" cy="138.5" r="2.6"/>
<circle class="or" cx="353.7" cy="140.2" r="2.6"/>
<circle class="or" cx="340.3" cy="137.2" r="2.6"/>
<circle class="or" cx="348" cy="131" r="2.6"/>
<circle class="or" cx="347.8" cy="146.3" r="2.6"/>
<circle class="or" cx="362.2" cy="163.3" r="2.6"/>
<circle class="or" cx="342.9" cy="155.2" r="2.6"/>
<circle class="or" cx="369.4" cy="126" r="2.6"/>
<circle class="or" cx="350.1" cy="130.4" r="2.6"/>
<circle class="or" cx="348.3" cy="138.5" r="2.6"/>
<circle class="or" cx="364" cy="109.2" r="2.6"/>
<circle class="or" cx="352.9" cy="126" r="2.6"/>
<circle class="or" cx="348.8" cy="143" r="2.6"/>
<circle class="or" cx="377" cy="158" r="2.6"/>
<circle class="or" cx="357.6" cy="184.3" r="2.6"/>
<circle class="or" cx="349.3" cy="158.6" r="2.6"/>
<circle class="or" cx="353.7" cy="169.5" r="2.6"/>
<circle class="or" cx="371.5" cy="124.7" r="2.6"/>
<circle class="or" cx="355.2" cy="121.3" r="2.6"/>
<circle class="or" cx="349.4" cy="158.5" r="2.6"/>
<circle class="or" cx="357.3" cy="127.6" r="2.6"/>
<circle class="or" cx="346.7" cy="172.9" r="2.6"/>
<circle class="or" cx="362.1" cy="182.7" r="2.6"/>
<circle class="or" cx="348.9" cy="113.8" r="2.6"/>
<circle class="or" cx="354.5" cy="127.6" r="2.6"/>
<circle class="or" cx="350" cy="118.4" r="2.6"/>
<circle class="or" cx="363.5" cy="147.5" r="2.6"/>
<circle class="or" cx="363.3" cy="124.8" r="2.6"/>
<circle class="or" cx="351.6" cy="116.3" r="2.6"/>
<circle class="or" cx="345.8" cy="145" r="2.6"/>
<circle class="or" cx="338.7" cy="127.1" r="2.6"/>
<circle class="or" cx="352.6" cy="131.9" r="2.6"/>
<circle class="or" cx="359.9" cy="117.1" r="2.6"/>
<circle class="or" cx="369.6" cy="159.2" r="2.6"/>
<circle class="or" cx="371.7" cy="119.9" r="2.6"/>
<circle class="or" cx="353.2" cy="119.6" r="2.6"/>
<circle class="or" cx="348.1" cy="116.4" r="2.6"/>
<circle class="or" cx="346.3" cy="154.4" r="2.6"/>
<circle class="or" cx="366.1" cy="124.7" r="2.6"/>
<circle class="or" cx="352.3" cy="170.3" r="2.6"/>
<circle class="or" cx="343.4" cy="125.3" r="2.6"/>
<circle class="or" cx="346.9" cy="176.4" r="2.6"/>
<circle class="or" cx="343.3" cy="135.5" r="2.6"/>
<circle class="or" cx="353.1" cy="179.3" r="2.6"/>
<circle class="or" cx="356.2" cy="165.6" r="2.6"/>
<circle class="or" cx="355.9" cy="116.6" r="2.6"/>
<circle class="or" cx="371.8" cy="138.4" r="2.6"/>
<circle class="or" cx="362" cy="128.1" r="2.6"/>
<circle class="or" cx="347.2" cy="124.3" r="2.6"/>
<circle class="or" cx="363.4" cy="163.3" r="2.6"/>
<circle class="or" cx="365.5" cy="118.5" r="2.6"/>
<circle class="or" cx="345.9" cy="132.5" r="2.6"/>
<circle class="or" cx="357.7" cy="125.2" r="2.6"/>
<circle class="or" cx="361.3" cy="193.6" r="2.6"/>
<circle class="or" cx="357.6" cy="173.6" r="2.6"/>
<circle class="or" cx="351.1" cy="131.2" r="2.6"/>
<circle class="or" cx="344.9" cy="128.7" r="2.6"/>
<circle class="or" cx="360.3" cy="170.9" r="2.6"/>
<circle class="or" cx="366.7" cy="150.2" r="2.6"/>
<circle class="or" cx="373.8" cy="146.7" r="2.6"/>
<circle class="or" cx="346" cy="167.4" r="2.6"/>
<circle class="or" cx="353.4" cy="133.8" r="2.6"/>
<circle class="or" cx="360.4" cy="119.9" r="2.6"/>
<circle class="or" cx="356.1" cy="124.4" r="2.6"/>
<circle class="or" cx="342.6" cy="136.5" r="2.6"/>
<circle class="or" cx="361.8" cy="137.1" r="2.6"/>
<circle class="or" cx="355.1" cy="153.5" r="2.6"/>
<circle class="or" cx="342.9" cy="128.8" r="2.6"/>
<circle class="or" cx="351.9" cy="165.9" r="2.6"/>
<circle class="or" cx="352.5" cy="114.7" r="2.6"/>
<circle class="or" cx="364.8" cy="129.9" r="2.6"/>
<circle class="or" cx="350.7" cy="148.1" r="2.6"/>
<circle class="or" cx="362.4" cy="149.6" r="2.6"/>
<circle class="or" cx="355.9" cy="171.5" r="2.6"/>
<circle class="or" cx="362.3" cy="165.1" r="2.6"/>
<circle class="or" cx="367.2" cy="164.2" r="2.6"/>
<circle class="or" cx="366.3" cy="170.3" r="2.6"/>
<circle class="or" cx="363.7" cy="135.3" r="2.6"/>
<circle class="or" cx="349.6" cy="140.5" r="2.6"/>
<circle class="or" cx="352.9" cy="130.2" r="2.6"/>
<circle class="or" cx="365.5" cy="117.2" r="2.6"/>
<circle class="or" cx="361.2" cy="139.2" r="2.6"/>
<circle class="or" cx="365.1" cy="166.5" r="2.6"/>
<circle class="or" cx="352.1" cy="168.8" r="2.6"/>
<circle class="or" cx="345.6" cy="167.1" r="2.6"/>
<circle class="or" cx="365" cy="124.3" r="2.6"/>
<circle class="or" cx="354.9" cy="157.4" r="2.6"/>
<circle class="or" cx="365.5" cy="184.2" r="2.6"/>
<circle class="or" cx="369.5" cy="134" r="2.6"/>
<circle class="or" cx="344.4" cy="114.5" r="2.6"/>
<circle class="or" cx="364" cy="174.4" r="2.6"/>
<circle class="or" cx="354.7" cy="149.9" r="2.6"/>
<circle class="or" cx="341" cy="137.6" r="2.6"/>
<circle class="or" cx="367.1" cy="130.7" r="2.6"/>
<circle class="or" cx="351.3" cy="148.7" r="2.6"/>
<circle class="or" cx="346.2" cy="138.5" r="2.6"/>
<circle class="or" cx="344.3" cy="135.3" r="2.6"/>
<circle class="or" cx="362.9" cy="129.8" r="2.6"/>
<circle class="or" cx="361.1" cy="188.1" r="2.6"/>
<circle class="or" cx="347.5" cy="119.3" r="2.6"/>
<circle class="or" cx="368.9" cy="157.2" r="2.6"/>
<circle class="or" cx="348.7" cy="122.4" r="2.6"/>
<circle class="or" cx="360.3" cy="140" r="2.6"/>
<circle class="or" cx="353.3" cy="160.5" r="2.6"/>
<circle class="or" cx="357.8" cy="120.8" r="2.6"/>
<circle class="or" cx="359.8" cy="155" r="2.6"/>
<circle class="or" cx="344.3" cy="118.4" r="2.6"/>
<circle class="or" cx="365.4" cy="131.9" r="2.6"/>
<circle class="or" cx="341.1" cy="119.7" r="2.6"/>
<circle class="or" cx="355.4" cy="142.4" r="2.6"/>
<circle class="or" cx="343.9" cy="146" r="2.6"/>
<circle class="or" cx="344.9" cy="119.2" r="2.6"/>
<circle class="or" cx="360.6" cy="174.3" r="2.6"/>
<circle class="or" cx="351.7" cy="132.6" r="2.6"/>
<circle class="or" cx="374" cy="160" r="2.6"/>
<circle class="or" cx="341.4" cy="108.7" r="2.6"/>
<circle class="or" cx="355.1" cy="171.5" r="2.6"/>
<circle class="or" cx="338.1" cy="123.6" r="2.6"/>
<circle class="or" cx="354.9" cy="159.4" r="2.6"/>
<circle class="or" cx="363" cy="129.3" r="2.6"/>
<circle class="or" cx="367.9" cy="132.9" r="2.6"/>
<circle class="or" cx="358.8" cy="154.5" r="2.6"/>
<circle class="or" cx="360.5" cy="147.2" r="2.6"/>
<circle class="or" cx="347" cy="126.7" r="2.6"/>
<circle class="or" cx="357.6" cy="134.8" r="2.6"/>
<circle class="or" cx="364.6" cy="126.2" r="2.6"/>
<circle class="or" cx="365.7" cy="115.7" r="2.6"/>
<circle class="or" cx="358.9" cy="140" r="2.6"/>
<circle class="or" cx="353.4" cy="145.2" r="2.6"/>
<circle class="or" cx="361.3" cy="156.9" r="2.6"/>
<circle class="or" cx="358.9" cy="136.3" r="2.6"/>
<circle class="or" cx="358.2" cy="176.9" r="2.6"/>
<circle class="or" cx="364" cy="147.9" r="2.6"/>
<circle class="or" cx="353.1" cy="132.1" r="2.6"/>
<circle class="or" cx="348" cy="126.5" r="2.6"/>
<circle class="or" cx="355.5" cy="194" r="2.6"/>
<circle class="or" cx="361.4" cy="152.2" r="2.6"/>
<circle class="or" cx="357.6" cy="136.5" r="2.6"/>
<circle class="or" cx="351.3" cy="126.4" r="2.6"/>
<circle class="or" cx="345.5" cy="141.9" r="2.6"/>
<circle class="or" cx="351.1" cy="131.8" r="2.6"/>
<circle class="or" cx="351.4" cy="180.9" r="2.6"/>
<circle class="or" cx="365.2" cy="154" r="2.6"/>
<circle class="or" cx="343.1" cy="115.5" r="2.6"/>
<circle class="or" cx="354.8" cy="148.5" r="2.6"/>
<circle class="or" cx="371.2" cy="135.4" r="2.6"/>
<circle class="or" cx="368.8" cy="141.5" r="2.6"/>
<circle class="or" cx="364.9" cy="162.9" r="2.6"/>
<circle class="or" cx="356.2" cy="159" r="2.6"/>
<circle class="or" cx="358.5" cy="162.8" r="2.6"/>
<circle class="or" cx="367.8" cy="127.4" r="2.6"/>
<circle class="or" cx="337.4" cy="127.4" r="2.6"/>
<circle class="or" cx="366" cy="138.6" r="2.6"/>
<circle class="or" cx="359.2" cy="149.7" r="2.6"/>
<circle class="or" cx="361.1" cy="130.6" r="2.6"/>
<circle class="or" cx="357.2" cy="115.2" r="2.6"/>
<circle class="or" cx="344.9" cy="124" r="2.6"/>
<circle class="or" cx="339.8" cy="136.9" r="2.6"/>
<circle class="or" cx="351.4" cy="129.7" r="2.6"/>
<circle class="or" cx="350" cy="166.5" r="2.6"/>
<circle class="or" cx="356.8" cy="150.2" r="2.6"/>
<circle class="or" cx="346.2" cy="141" r="2.6"/>
<circle class="or" cx="358.2" cy="146" r="2.6"/>
<circle class="or" cx="351.4" cy="170.1" r="2.6"/>
<circle class="or" cx="370.2" cy="148.4" r="2.6"/>
<circle class="or" cx="367.1" cy="140.1" r="2.6"/>
<circle class="or" cx="362" cy="210" r="2.6"/>
<circle class="or" cx="337.7" cy="123.6" r="2.6"/>
<circle class="or" cx="364" cy="118.9" r="2.6"/>
<circle class="or" cx="353.3" cy="151.3" r="2.6"/>
<circle class="or" cx="348.9" cy="126.4" r="2.6"/>
<polygon class="ors" points="358.5,118.7 359.5,121.2 362.1,121.4 360,123 360.7,125.6 358.5,124.1 356.3,125.6 357,123 354.9,121.4 357.6,121.2"/>
<circle class="or" cx="337.3" cy="131.1" r="2.6"/>
<circle class="or" cx="350.2" cy="133.3" r="2.6"/>
<circle class="or" cx="349.7" cy="149" r="2.6"/>
<circle class="or" cx="337.7" cy="131" r="2.6"/>
<circle class="or" cx="345.9" cy="122.5" r="2.6"/>
<circle class="or" cx="362.3" cy="172.9" r="2.6"/>
<polygon class="ors" points="347.8,120.6 348.7,123.1 351.4,123.2 349.3,124.9 350,127.5 347.8,126 345.6,127.5 346.3,124.9 344.2,123.2 346.9,123.1"/>
<polygon class="ors" points="364.8,129.4 365.7,131.9 368.4,132 366.3,133.6 367,136.2 364.8,134.8 362.6,136.2 363.3,133.6 361.2,132 363.8,131.9"/>
<polygon class="ors" points="362.5,136.9 363.4,139.4 366.1,139.5 364,141.2 364.7,143.8 362.5,142.3 360.2,143.8 361,141.2 358.9,139.5 361.5,139.4"/>
<circle class="or" cx="350.9" cy="118.5" r="2.6"/>
<polygon class="ors" points="354.7,134.7 355.6,137.2 358.3,137.3 356.2,139 356.9,141.6 354.7,140.1 352.4,141.6 353.1,139 351.1,137.3 353.7,137.2"/>
<circle class="or" cx="374.2" cy="151.5" r="2.6"/>
<polygon class="ors" points="360.6,119.4 361.5,121.9 364.2,122 362.1,123.7 362.8,126.2 360.6,124.8 358.4,126.2 359.1,123.7 357,122 359.7,121.9"/>
<circle class="or" cx="341.3" cy="139.8" r="2.6"/>
<polygon class="ors" points="347.2,131.2 348.1,133.7 350.8,133.8 348.7,135.5 349.4,138 347.2,136.6 345,138 345.7,135.5 343.6,133.8 346.3,133.7"/>
<circle class="or" cx="357.2" cy="142.5" r="2.6"/>
<circle class="or" cx="367" cy="144.9" r="2.6"/>
<circle class="or" cx="340.6" cy="123" r="2.6"/>
<polygon class="ors" points="358.6,119 359.6,121.5 362.3,121.6 360.2,123.3 360.9,125.9 358.6,124.4 356.4,125.9 357.1,123.3 355,121.6 357.7,121.5"/>
<circle class="or" cx="342.5" cy="132" r="2.6"/>
<circle class="or" cx="350.1" cy="118.3" r="2.6"/>
<polygon class="ors" points="347.4,124.6 348.4,127.1 351,127.2 349,128.9 349.7,131.5 347.4,130 345.2,131.5 345.9,128.9 343.8,127.2 346.5,127.1"/>
<circle class="or" cx="358.5" cy="147" r="2.6"/>
<circle class="or" cx="340" cy="135.6" r="2.6"/>
<circle class="or" cx="342.4" cy="120.3" r="2.6"/>
<polygon class="ors" points="347.1,124 348,126.5 350.7,126.6 348.6,128.3 349.3,130.8 347.1,129.4 344.9,130.8 345.6,128.3 343.5,126.6 346.2,126.5"/>
<circle class="or" cx="348.6" cy="155" r="2.6"/>
<polygon class="ors" points="351.3,130.6 352.2,133.1 354.9,133.2 352.8,134.9 353.5,137.5 351.3,136 349.1,137.5 349.8,134.9 347.7,133.2 350.4,133.1"/>
<circle class="or" cx="341.3" cy="120.3" r="2.6"/>
<polygon class="ors" points="346.1,129 347,131.5 349.7,131.6 347.6,133.3 348.3,135.9 346.1,134.4 343.9,135.9 344.6,133.3 342.5,131.6 345.2,131.5"/>
<circle class="or" cx="348.9" cy="115.3" r="2.6"/>
<circle class="gn" cx="367.9" cy="85.4" r="2.6"/>
<circle class="gn" cx="353.6" cy="72" r="2.6"/>
<circle class="gn" cx="362.9" cy="85.4" r="2.6"/>
<circle class="gn" cx="362.1" cy="86.8" r="2.6"/>
<circle class="gn" cx="356.6" cy="67.6" r="2.6"/>
<circle class="gn" cx="378.9" cy="86.8" r="2.6"/>
<circle class="gn" cx="351.7" cy="80.9" r="2.6"/>
<circle class="gn" cx="362.5" cy="97.9" r="2.6"/>
<circle class="gn" cx="361" cy="93" r="2.6"/>
<circle class="gn" cx="355.5" cy="95" r="2.6"/>
<circle class="gn" cx="387.1" cy="84" r="2.6"/>
<circle class="gn" cx="363.8" cy="60" r="2.6"/>
<circle class="gn" cx="376.5" cy="77.2" r="2.6"/>
<circle class="gn" cx="364.4" cy="86" r="2.6"/>
<circle class="gn" cx="352" cy="81.8" r="2.6"/>
<circle class="gn" cx="376" cy="84.5" r="2.6"/>
<circle class="gn" cx="372.5" cy="91.9" r="2.6"/>
<circle class="gn" cx="375.1" cy="95.1" r="2.6"/>
<circle class="gn" cx="356.4" cy="87.7" r="2.6"/>
<circle class="gn" cx="345.4" cy="83.5" r="2.6"/>
<circle class="gn" cx="359.5" cy="89.6" r="2.6"/>
<circle class="gn" cx="350" cy="92.1" r="2.6"/>
<circle class="gn" cx="376.9" cy="95.5" r="2.6"/>
<circle class="gn" cx="373.6" cy="79.6" r="2.6"/>
<circle class="gn" cx="380.9" cy="71" r="2.6"/>
<circle class="gn" cx="373.3" cy="91.3" r="2.6"/>
<circle class="gn" cx="354.5" cy="98.8" r="2.6"/>
<circle class="gn" cx="362.7" cy="58.6" r="2.6"/>
<circle class="gn" cx="346.7" cy="82.3" r="2.6"/>
<circle class="gn" cx="349.2" cy="87.5" r="2.6"/>
<circle class="gn" cx="383.4" cy="79.7" r="2.6"/>
<circle class="gn" cx="378.9" cy="97.8" r="2.6"/>
<circle class="gn" cx="367.3" cy="69.1" r="2.6"/>
<circle class="gn" cx="343.7" cy="92.4" r="2.6"/>
<circle class="gn" cx="357.5" cy="62.6" r="2.6"/>
<circle class="gn" cx="361.5" cy="79.4" r="2.6"/>
<circle class="gn" cx="378.7" cy="82.5" r="2.6"/>
<circle class="gn" cx="357.2" cy="78.1" r="2.6"/>
<circle class="gn" cx="368.8" cy="68.7" r="2.6"/>
<circle class="gn" cx="377.8" cy="81.9" r="2.6"/>
<circle class="gn" cx="360.6" cy="107.6" r="2.6"/>
<circle class="gn" cx="367.9" cy="69.9" r="2.6"/>
<circle class="gn" cx="354.8" cy="78.3" r="2.6"/>
<circle class="gn" cx="371.6" cy="85" r="2.6"/>
<circle class="gn" cx="358.2" cy="78.1" r="2.6"/>
<circle class="gn" cx="379.3" cy="88.9" r="2.6"/>
<circle class="gn" cx="370.1" cy="92.1" r="2.6"/>
<circle class="gn" cx="374.2" cy="73.5" r="2.6"/>
<circle class="gn" cx="344.2" cy="87.9" r="2.6"/>
<circle class="gn" cx="356.6" cy="74" r="2.6"/>
<circle class="gn" cx="350.9" cy="93.3" r="2.6"/>
<circle class="gn" cx="359.9" cy="60.2" r="2.6"/>
<circle class="gn" cx="362.7" cy="85.9" r="2.6"/>
<circle class="gn" cx="353.2" cy="102.6" r="2.6"/>
<circle class="gn" cx="353.6" cy="90.8" r="2.6"/>
<circle class="gn" cx="351.1" cy="77.8" r="2.6"/>
<circle class="gn" cx="369" cy="101.2" r="2.6"/>
<circle class="gn" cx="363.1" cy="53" r="2.6"/>
<circle class="gn" cx="363" cy="51" r="2.6"/>
<circle class="gn" cx="371" cy="72.8" r="2.6"/>
<circle class="gn" cx="367.2" cy="73" r="2.6"/>
<circle class="gn" cx="353.7" cy="85.6" r="2.6"/>
<circle class="gn" cx="352.6" cy="93.1" r="2.6"/>
<circle class="gn" cx="353" cy="99.3" r="2.6"/>
<circle class="gn" cx="364.1" cy="95.5" r="2.6"/>
<circle class="gn" cx="356.5" cy="90.3" r="2.6"/>
<circle class="gn" cx="370.8" cy="107.5" r="2.6"/>
<circle class="gn" cx="365.7" cy="87.2" r="2.6"/>
<circle class="gn" cx="357.1" cy="82.8" r="2.6"/>
<circle class="gn" cx="377.1" cy="98.9" r="2.6"/>
<circle class="gn" cx="370.8" cy="54.7" r="2.6"/>
<circle class="gn" cx="377.6" cy="82.4" r="2.6"/>
<circle class="gn" cx="359" cy="45" r="2.6"/>
<circle class="gn" cx="348.2" cy="78.4" r="2.6"/>
<circle class="gn" cx="378.3" cy="78.4" r="2.6"/>
<circle class="gn" cx="372.6" cy="74.3" r="2.6"/>
<circle class="gn" cx="365.8" cy="56.5" r="2.6"/>
<circle class="gn" cx="374.4" cy="75.6" r="2.6"/>
<circle class="gn" cx="361" cy="89.3" r="2.6"/>
<circle class="gn" cx="365.3" cy="100.6" r="2.6"/>
<circle class="gn" cx="372" cy="73.8" r="2.6"/>
<circle class="gn" cx="364.1" cy="51.6" r="2.6"/>
<circle class="gn" cx="368.1" cy="79.4" r="2.6"/>
<circle class="gn" cx="373.1" cy="72.8" r="2.6"/>
<circle class="gn" cx="373" cy="74.5" r="2.6"/>
<circle class="gn" cx="358.1" cy="94.1" r="2.6"/>
<circle class="gn" cx="374.4" cy="78.7" r="2.6"/>
<circle class="gn" cx="367" cy="82.6" r="2.6"/>
<circle class="gn" cx="361.4" cy="93.4" r="2.6"/>
<circle class="gn" cx="381" cy="89.3" r="2.6"/>
<circle class="gn" cx="351.5" cy="79.2" r="2.6"/>
<circle class="gn" cx="368" cy="79.1" r="2.6"/>
<circle class="gn" cx="361.6" cy="67.7" r="2.6"/>
<circle class="gn" cx="343.2" cy="85.3" r="2.6"/>
<circle class="gn" cx="357" cy="100.1" r="2.6"/>
<circle class="gn" cx="345.2" cy="86.7" r="2.6"/>
<circle class="gn" cx="356.8" cy="96" r="2.6"/>
<circle class="gn" cx="354.2" cy="92.5" r="2.6"/>
<circle class="gn" cx="352.5" cy="89.7" r="2.6"/>
<circle class="gn" cx="366" cy="46.7" r="2.6"/>
<circle class="gn" cx="369.9" cy="76.5" r="2.6"/>
<circle class="gn" cx="363.2" cy="107.7" r="2.6"/>
<circle class="gn" cx="357.3" cy="88.3" r="2.6"/>
<circle class="gn" cx="369.5" cy="78.3" r="2.6"/>
<circle class="gn" cx="349.5" cy="85.3" r="2.6"/>
<circle class="gn" cx="364.5" cy="53.6" r="2.6"/>
<circle class="gn" cx="358.6" cy="69.3" r="2.6"/>
<circle class="gn" cx="362" cy="98.7" r="2.6"/>
<circle class="gn" cx="380.2" cy="77.4" r="2.6"/>
<circle class="gn" cx="349.7" cy="80.6" r="2.6"/>
<circle class="gn" cx="364" cy="62.6" r="2.6"/>
<circle class="gn" cx="372.3" cy="74" r="2.6"/>
<circle class="gn" cx="363.7" cy="89.7" r="2.6"/>
<circle class="gn" cx="360.6" cy="55.7" r="2.6"/>
<circle class="gn" cx="365" cy="68" r="2.6"/>
<circle class="gn" cx="333" cy="94.8" r="2.6"/>
<circle class="gn" cx="364.1" cy="64.6" r="2.6"/>
<circle class="gn" cx="367.6" cy="98.6" r="2.6"/>
<circle class="gn" cx="367" cy="93.6" r="2.6"/>
<circle class="gn" cx="348" cy="63" r="2.6"/>
<circle class="gn" cx="356.9" cy="96.6" r="2.6"/>
<circle class="gn" cx="366.9" cy="79.8" r="2.6"/>
<circle class="gn" cx="380.3" cy="89.6" r="2.6"/>
<circle class="gn" cx="377.3" cy="91" r="2.6"/>
<circle class="gn" cx="363.9" cy="99.2" r="2.6"/>
<circle class="gn" cx="356.2" cy="68.6" r="2.6"/>
<circle class="gn" cx="353.5" cy="55.9" r="2.6"/>
<circle class="gn" cx="367.1" cy="96.7" r="2.6"/>
<circle class="gn" cx="366.2" cy="86.6" r="2.6"/>
<circle class="gn" cx="357.9" cy="27.8" r="2.6"/>
<circle class="gn" cx="361.3" cy="83.2" r="2.6"/>
<circle class="gn" cx="347.6" cy="90.3" r="2.6"/>
<circle class="gn" cx="357.7" cy="71.2" r="2.6"/>
<circle class="gn" cx="360.5" cy="92.4" r="2.6"/>
<circle class="gn" cx="359.4" cy="63.1" r="2.6"/>
<circle class="gn" cx="379.6" cy="82.7" r="2.6"/>
<circle class="gn" cx="378.8" cy="96.2" r="2.6"/>
<circle class="gn" cx="348" cy="81.7" r="2.6"/>
<circle class="gn" cx="377.4" cy="99" r="2.6"/>
<circle class="gn" cx="359.9" cy="99.8" r="2.6"/>
<circle class="gn" cx="378.4" cy="86.6" r="2.6"/>
<circle class="gn" cx="347.2" cy="94.8" r="2.6"/>
<circle class="gn" cx="361.1" cy="58.9" r="2.6"/>
<circle class="gn" cx="355.3" cy="72.1" r="2.6"/>
<circle class="gn" cx="347.4" cy="76.7" r="2.6"/>
<circle class="gn" cx="366" cy="101.1" r="2.6"/>
<circle class="gn" cx="372.9" cy="85.9" r="2.6"/>
<circle class="gn" cx="358.3" cy="80.3" r="2.6"/>
<circle class="gn" cx="347.8" cy="92.9" r="2.6"/>
<circle class="gn" cx="347.9" cy="94.9" r="2.6"/>
<circle class="gn" cx="361.5" cy="110.2" r="2.6"/>
<circle class="gn" cx="345.9" cy="94.4" r="2.6"/>
<circle class="gn" cx="371.7" cy="85.3" r="2.6"/>
<circle class="gn" cx="361.6" cy="106.5" r="2.6"/>
<circle class="gn" cx="354.9" cy="58.1" r="2.6"/>
<circle class="gn" cx="382.2" cy="88.5" r="2.6"/>
<circle class="gn" cx="372.4" cy="75.1" r="2.6"/>
<circle class="gn" cx="367.8" cy="101.5" r="2.6"/>
<circle class="gn" cx="359.4" cy="81.6" r="2.6"/>
<circle class="gn" cx="364" cy="95.6" r="2.6"/>
<circle class="gn" cx="364.8" cy="88.7" r="2.6"/>
<circle class="gn" cx="362.9" cy="87.1" r="2.6"/>
<circle class="gn" cx="357.5" cy="105.2" r="2.6"/>
<circle class="gn" cx="363.2" cy="60.1" r="2.6"/>
<circle class="gn" cx="370.7" cy="64.3" r="2.6"/>
<circle class="gn" cx="366.7" cy="69.5" r="2.6"/>
<circle class="gn" cx="370.3" cy="61.8" r="2.6"/>
<circle class="gn" cx="362.2" cy="96.2" r="2.6"/>
<circle class="gn" cx="370.6" cy="57" r="2.6"/>
<circle class="gn" cx="357" cy="100.3" r="2.6"/>
<circle class="gn" cx="369.2" cy="106.2" r="2.6"/>
<circle class="gn" cx="375.3" cy="93.3" r="2.6"/>
<circle class="gn" cx="358.4" cy="98" r="2.6"/>
<circle class="gn" cx="360.7" cy="97.2" r="2.6"/>
<circle class="gn" cx="374.2" cy="78" r="2.6"/>
<circle class="gn" cx="369" cy="102.2" r="2.6"/>
<circle class="gn" cx="363.2" cy="86.5" r="2.6"/>
<circle class="gn" cx="348.5" cy="94.7" r="2.6"/>
<circle class="gn" cx="365.4" cy="94.5" r="2.6"/>
<circle class="gn" cx="386.9" cy="93.4" r="2.6"/>
<circle class="gn" cx="353.7" cy="76.8" r="2.6"/>
<circle class="gn" cx="352.2" cy="57.9" r="2.6"/>
<circle class="gn" cx="360.5" cy="88.2" r="2.6"/>
<circle class="gn" cx="369.9" cy="83.6" r="2.6"/>
<circle class="gn" cx="367.3" cy="97.2" r="2.6"/>
<circle class="gn" cx="369.2" cy="54.5" r="2.6"/>
<circle class="gn" cx="369.8" cy="80.4" r="2.6"/>
<circle class="gn" cx="365.1" cy="94.5" r="2.6"/>
<circle class="gn" cx="370.5" cy="90.6" r="2.6"/>
<circle class="gn" cx="355.2" cy="101.6" r="2.6"/>
<circle class="gn" cx="347.2" cy="88.5" r="2.6"/>
<circle class="gn" cx="360.3" cy="81.7" r="2.6"/>
<circle class="gn" cx="370.8" cy="82.6" r="2.6"/>
<circle class="gn" cx="352.9" cy="104.4" r="2.6"/>
<circle class="gn" cx="362.3" cy="72" r="2.6"/>
<circle class="gn" cx="380.2" cy="96.4" r="2.6"/>
<circle class="gn" cx="358.8" cy="67" r="2.6"/>
<circle class="gn" cx="374.4" cy="78.4" r="2.6"/>
<polygon class="gns" points="379.7,32.7 380.6,35.2 383.3,35.3 381.2,37 381.9,39.6 379.7,38.1 377.5,39.6 378.2,37 376.1,35.3 378.8,35.2"/>
<polygon class="gns" points="382,96.2 382.9,98.7 385.6,98.8 383.5,100.5 384.2,103.1 382,101.6 379.8,103.1 380.5,100.5 378.4,98.8 381.1,98.7"/>
<circle class="gn" cx="351.9" cy="97.7" r="2.6"/>
<polygon class="gns" points="352,106.2 352.9,108.7 355.6,108.8 353.5,110.5 354.2,113.1 352,111.6 349.8,113.1 350.5,110.5 348.4,108.8 351.1,108.7"/>
<circle class="gn" cx="353.2" cy="97.4" r="2.6"/>
<polygon class="gns" points="381,111.2 381.9,113.7 384.6,113.8 382.5,115.5 383.2,118.1 381,116.6 378.8,118.1 379.5,115.5 377.4,113.8 380.1,113.7"/>
<circle class="gn" cx="368.3" cy="104" r="2.6"/>
<circle class="gn" cx="357.6" cy="86.8" r="2.6"/>
<polygon class="gns" points="366,80.2 366.9,82.7 369.6,82.8 367.5,84.5 368.2,87.1 366,85.6 363.8,87.1 364.5,84.5 362.4,82.8 365.1,82.7"/>
<polygon class="gns" points="345,94.2 345.9,96.7 348.6,96.8 346.5,98.5 347.2,101.1 345,99.6 342.8,101.1 343.5,98.5 341.4,96.8 344.1,96.7"/>
<circle class="gn" cx="352.1" cy="94.1" r="2.6"/>
<circle class="gn" cx="350.1" cy="91.7" r="2.6"/>
<circle class="gn" cx="359.8" cy="52.9" r="2.6"/>
<circle class="gn" cx="366.6" cy="75.7" r="2.6"/>
<polygon class="gns" points="369,57.2 369.9,59.7 372.6,59.8 370.5,61.5 371.2,64.1 369,62.6 366.8,64.1 367.5,61.5 365.4,59.8 368.1,59.7"/>
<circle class="gn" cx="368.3" cy="62.2" r="2.6"/>
<circle class="gn" cx="357.5" cy="77.3" r="2.6"/>
<polygon class="gns" points="374,92.2 374.9,94.7 377.6,94.8 375.5,96.5 376.2,99.1 374,97.6 371.8,99.1 372.5,96.5 370.4,94.8 373.1,94.7"/>
<circle class="gn" cx="354.5" cy="83.1" r="2.6"/>
<circle class="gn" cx="377.8" cy="72.2" r="2.6"/>
<circle class="gn" cx="379.9" cy="86.8" r="2.6"/>
<circle class="gn" cx="371.3" cy="73.1" r="2.6"/>
<circle class="gn" cx="361.6" cy="90.1" r="2.6"/>
<circle class="gn" cx="359.3" cy="82.7" r="2.6"/>
<circle class="gn" cx="357.9" cy="95.4" r="2.6"/>
<circle class="rd" cx="394.3" cy="129.9" r="2.6"/>
<circle class="rd" cx="395.2" cy="142.2" r="2.6"/>
<circle class="rd" cx="404.2" cy="130.6" r="2.6"/>
<circle class="rd" cx="397.8" cy="145.5" r="2.6"/>
<circle class="rd" cx="394.5" cy="145" r="2.6"/>
<circle class="rd" cx="390.7" cy="152.3" r="2.6"/>
<circle class="rd" cx="397.6" cy="144.2" r="2.6"/>
<circle class="rd" cx="381.6" cy="141.3" r="2.6"/>
<circle class="rd" cx="391" cy="142.6" r="2.6"/>
<circle class="rd" cx="385" cy="134.6" r="2.6"/>
<circle class="rd" cx="385.2" cy="142.8" r="2.6"/>
<circle class="rd" cx="401.8" cy="132.5" r="2.6"/>
<circle class="rd" cx="392" cy="119.3" r="2.6"/>
<circle class="rd" cx="378.8" cy="133.8" r="2.6"/>
<circle class="rd" cx="392" cy="141.4" r="2.6"/>
<circle class="rd" cx="380.9" cy="139.8" r="2.6"/>
<circle class="rd" cx="396.1" cy="122.8" r="2.6"/>
<circle class="rd" cx="399" cy="142.8" r="2.6"/>
<circle class="rd" cx="394.6" cy="138.4" r="2.6"/>
<circle class="rd" cx="385.3" cy="137.5" r="2.6"/>
<circle class="rd" cx="405.5" cy="127.1" r="2.6"/>
<circle class="rd" cx="398.4" cy="124.9" r="2.6"/>
<circle class="rd" cx="387.4" cy="128.6" r="2.6"/>
<circle class="rd" cx="385.6" cy="137.6" r="2.6"/>
<circle class="rd" cx="383.2" cy="153.6" r="2.6"/>
<circle class="rd" cx="405.3" cy="129.2" r="2.6"/>
<circle class="rd" cx="372.7" cy="141" r="2.6"/>
<circle class="rd" cx="396.2" cy="125.7" r="2.6"/>
<circle class="rd" cx="379.9" cy="153.5" r="2.6"/>
<circle class="rd" cx="404" cy="129.4" r="2.6"/>
<circle class="rd" cx="383.4" cy="147.7" r="2.6"/>
<circle class="rd" cx="375" cy="141.9" r="2.6"/>
<circle class="rd" cx="386.5" cy="147.7" r="2.6"/>
<circle class="rd" cx="398.2" cy="140.2" r="2.6"/>
<circle class="rd" cx="380.4" cy="140.5" r="2.6"/>
<circle class="rd" cx="375.4" cy="140.3" r="2.6"/>
<circle class="rd" cx="380.2" cy="148.5" r="2.6"/>
<circle class="rd" cx="377.4" cy="143.8" r="2.6"/>
<circle class="rd" cx="384.6" cy="151.3" r="2.6"/>
<circle class="rd" cx="372" cy="138.9" r="2.6"/>
<circle class="rd" cx="380.5" cy="149.9" r="2.6"/>
<circle class="rd" cx="381.3" cy="139.1" r="2.6"/>
<circle class="rd" cx="403.4" cy="141" r="2.6"/>
<circle class="rd" cx="394" cy="134.8" r="2.6"/>
<circle class="rd" cx="412.4" cy="123.2" r="2.6"/>
<circle class="rd" cx="399.2" cy="120.8" r="2.6"/>
<circle class="rd" cx="385.7" cy="134.2" r="2.6"/>
<circle class="rd" cx="403.1" cy="134.1" r="2.6"/>
<circle class="rd" cx="393.5" cy="133.9" r="2.6"/>
<circle class="rd" cx="399.4" cy="150.3" r="2.6"/>
<circle class="rd" cx="403.2" cy="126.6" r="2.6"/>
<circle class="rd" cx="393.5" cy="139.2" r="2.6"/>
<circle class="rd" cx="391.4" cy="125.6" r="2.6"/>
<circle class="rd" cx="396" cy="133.8" r="2.6"/>
<circle class="rd" cx="393.4" cy="133.4" r="2.6"/>
<circle class="rd" cx="397.2" cy="130.9" r="2.6"/>
<circle class="rd" cx="399.6" cy="123.4" r="2.6"/>
<circle class="rd" cx="400.5" cy="136" r="2.6"/>
<circle class="rd" cx="389.9" cy="153.3" r="2.6"/>
<circle class="rd" cx="399.8" cy="119" r="2.6"/>
<circle class="rd" cx="374.1" cy="132.3" r="2.6"/>
<circle class="rd" cx="389.5" cy="139.9" r="2.6"/>
<circle class="rd" cx="399.4" cy="136.1" r="2.6"/>
<circle class="rd" cx="375" cy="142.2" r="2.6"/>
<circle class="rd" cx="387" cy="130.2" r="2.6"/>
<circle class="rd" cx="388.9" cy="135.1" r="2.6"/>
<circle class="rd" cx="385.7" cy="137.9" r="2.6"/>
<circle class="rd" cx="405.4" cy="126.9" r="2.6"/>
<circle class="rd" cx="384.9" cy="125.9" r="2.6"/>
<circle class="rd" cx="388.9" cy="134.4" r="2.6"/>
<circle class="rd" cx="375.8" cy="148.2" r="2.6"/>
<circle class="rd" cx="410.8" cy="127.9" r="2.6"/>
<circle class="rd" cx="379.7" cy="144.5" r="2.6"/>
<circle class="rd" cx="390.6" cy="124.9" r="2.6"/>
<circle class="rd" cx="385.3" cy="136.7" r="2.6"/>
<circle class="rd" cx="408.1" cy="122.6" r="2.6"/>
<circle class="rd" cx="399.9" cy="137.4" r="2.6"/>
<circle class="rd" cx="396.3" cy="135.7" r="2.6"/>
<circle class="rd" cx="399.1" cy="130.9" r="2.6"/>
<circle class="rd" cx="385.4" cy="135.8" r="2.6"/>
<circle class="rd" cx="378.1" cy="138.7" r="2.6"/>
<circle class="rd" cx="392.8" cy="114.3" r="2.6"/>
<circle class="rd" cx="375" cy="148" r="2.6"/>
<circle class="rd" cx="393.7" cy="125.6" r="2.6"/>
<circle class="rd" cx="385.2" cy="133.1" r="2.6"/>
<circle class="rd" cx="376.8" cy="152.9" r="2.6"/>
<circle class="rd" cx="381.9" cy="137.8" r="2.6"/>
<circle class="rd" cx="405.6" cy="132" r="2.6"/>
<circle class="rd" cx="396.1" cy="122.9" r="2.6"/>
<circle class="rd" cx="408" cy="146" r="2.6"/>
<circle class="rd" cx="389.1" cy="123" r="2.6"/>
<circle class="rd" cx="389.5" cy="127.1" r="2.6"/>
<circle class="rd" cx="397.9" cy="145.6" r="2.6"/>
<circle class="rd" cx="405.9" cy="134.9" r="2.6"/>
<circle class="rd" cx="389.5" cy="137" r="2.6"/>
<circle class="rd" cx="376.7" cy="137.3" r="2.6"/>
<circle class="rd" cx="392.7" cy="125.5" r="2.6"/>
<circle class="rd" cx="386.8" cy="120.7" r="2.6"/>
<circle class="rd" cx="404.4" cy="120.5" r="2.6"/>
<circle class="rd" cx="395.3" cy="124.9" r="2.6"/>
<circle class="rd" cx="388.2" cy="151.6" r="2.6"/>
<circle class="rd" cx="387.4" cy="140" r="2.6"/>
<circle class="rd" cx="394.9" cy="133.8" r="2.6"/>
<circle class="rd" cx="383.6" cy="152.8" r="2.6"/>
<circle class="rd" cx="390.5" cy="115.6" r="2.6"/>
<circle class="rd" cx="392.2" cy="128.6" r="2.6"/>
<circle class="rd" cx="385.2" cy="134.9" r="2.6"/>
<circle class="rd" cx="385.7" cy="135.8" r="2.6"/>
<circle class="rd" cx="383.3" cy="134.7" r="2.6"/>
<circle class="rd" cx="386.7" cy="135.4" r="2.6"/>
<circle class="rd" cx="392.5" cy="147" r="2.6"/>
<circle class="rd" cx="373" cy="151.6" r="2.6"/>
<circle class="rd" cx="388.9" cy="140" r="2.6"/>
<circle class="rd" cx="387.5" cy="154" r="2.6"/>
<circle class="rd" cx="391.4" cy="134.4" r="2.6"/>
<circle class="rd" cx="381.2" cy="134.7" r="2.6"/>
<circle class="rd" cx="382.3" cy="135.1" r="2.6"/>
<circle class="rd" cx="398.7" cy="125.1" r="2.6"/>
<circle class="rd" cx="404.3" cy="111.9" r="2.6"/>
<circle class="rd" cx="375.2" cy="149" r="2.6"/>
<circle class="rd" cx="388.8" cy="136.7" r="2.6"/>
<circle class="rd" cx="378.5" cy="159.8" r="2.6"/>
<circle class="rd" cx="400.4" cy="137.2" r="2.6"/>
<circle class="rd" cx="373.7" cy="141.9" r="2.6"/>
<circle class="rd" cx="401" cy="138.8" r="2.6"/>
<circle class="rd" cx="394" cy="139.7" r="2.6"/>
<circle class="rd" cx="386.5" cy="149.6" r="2.6"/>
<circle class="rd" cx="378.9" cy="145.8" r="2.6"/>
<circle class="rd" cx="395.5" cy="143.2" r="2.6"/>
<circle class="rd" cx="386.6" cy="135.2" r="2.6"/>
<circle class="rd" cx="381.3" cy="134.7" r="2.6"/>
<circle class="rd" cx="399.6" cy="139.5" r="2.6"/>
<circle class="rd" cx="387.4" cy="157.9" r="2.6"/>
<circle class="rd" cx="390.2" cy="117.5" r="2.6"/>
<circle class="rd" cx="394.5" cy="135.6" r="2.6"/>
<circle class="rd" cx="385.9" cy="149.8" r="2.6"/>
<circle class="rd" cx="398.7" cy="140.5" r="2.6"/>
<circle class="rd" cx="401.5" cy="127.4" r="2.6"/>
<circle class="rd" cx="386.4" cy="135.1" r="2.6"/>
<circle class="rd" cx="398.5" cy="119.6" r="2.6"/>
<circle class="rd" cx="383" cy="151" r="2.6"/>
<circle class="rd" cx="384" cy="135.5" r="2.6"/>
<circle class="rd" cx="390.6" cy="135.1" r="2.6"/>
<circle class="rd" cx="401.3" cy="130" r="2.6"/>
<circle class="rd" cx="383.5" cy="138.5" r="2.6"/>
<circle class="rd" cx="392.6" cy="133.4" r="2.6"/>
<circle class="rd" cx="377" cy="143.3" r="2.6"/>
<circle class="rd" cx="395.3" cy="126.2" r="2.6"/>
<circle class="rd" cx="398" cy="139" r="2.6"/>
<circle class="rd" cx="393.5" cy="122.2" r="2.6"/>
<circle class="rd" cx="400.4" cy="139.4" r="2.6"/>
<circle class="rd" cx="381.8" cy="134.2" r="2.6"/>
<circle class="rd" cx="396" cy="120.3" r="2.6"/>
<circle class="rd" cx="392.4" cy="133.8" r="2.6"/>
<polygon class="rds" points="407,121.2 407.9,123.7 410.6,123.8 408.5,125.5 409.2,128.1 407,126.6 404.8,128.1 405.5,125.5 403.4,123.8 406.1,123.7"/>
<circle class="rd" cx="402.8" cy="118.6" r="2.6"/>
<circle class="rd" cx="408.2" cy="128.6" r="2.6"/>
<polygon class="rds" points="378,136.2 378.9,138.7 381.6,138.8 379.5,140.5 380.2,143.1 378,141.6 375.8,143.1 376.5,140.5 374.4,138.8 377.1,138.7"/>
<polygon class="rds" points="410,125.2 410.9,127.7 413.6,127.8 411.5,129.5 412.2,132.1 410,130.6 407.8,132.1 408.5,129.5 406.4,127.8 409.1,127.7"/>
<circle class="rd" cx="398.3" cy="129.4" r="2.6"/>
<circle class="rd" cx="397.6" cy="146" r="2.6"/>
<circle class="rd" cx="372.8" cy="144.7" r="2.6"/>
<polygon class="rds" points="398,118.2 398.9,120.7 401.6,120.8 399.5,122.5 400.2,125.1 398,123.6 395.8,125.1 396.5,122.5 394.4,120.8 397.1,120.7"/>
<circle class="rd" cx="376.7" cy="142.5" r="2.6"/>
<circle class="rd" cx="383.4" cy="144.1" r="2.6"/>
<circle class="rd" cx="403" cy="152" r="2.6"/>
<circle class="rd" cx="390.6" cy="146.4" r="2.6"/>
<circle class="rd" cx="384.8" cy="131" r="2.6"/>
<circle class="rd" cx="386.6" cy="137.4" r="2.6"/>
<polygon class="rds" points="405,129.2 405.9,131.7 408.6,131.8 406.5,133.5 407.2,136.1 405,134.6 402.8,136.1 403.5,133.5 401.4,131.8 404.1,131.7"/>
<circle class="rd" cx="391.3" cy="126" r="2.6"/>
<circle class="rd" cx="404.3" cy="136.2" r="2.6"/>
<circle class="rd" cx="400.4" cy="122.8" r="2.6"/>
<polygon class="rds" points="412,132.2 412.9,134.7 415.6,134.8 413.5,136.5 414.2,139.1 412,137.6 409.8,139.1 410.5,136.5 408.4,134.8 411.1,134.7"/>
<circle class="pu" cx="417" cy="105.4" r="2.6"/>
<circle class="pu" cx="402.2" cy="111.3" r="2.6"/>
<circle class="pu" cx="424.5" cy="103.6" r="2.6"/>
<circle class="pu" cx="413.5" cy="113.3" r="2.6"/>
<circle class="pu" cx="411.3" cy="114.5" r="2.6"/>
<circle class="pu" cx="423.8" cy="105.3" r="2.6"/>
<circle class="pu" cx="409.5" cy="111.1" r="2.6"/>
<circle class="pu" cx="418.2" cy="94.7" r="2.6"/>
<circle class="pu" cx="415.2" cy="105.1" r="2.6"/>
<circle class="pu" cx="423.2" cy="96.8" r="2.6"/>
<circle class="pu" cx="412.3" cy="98.1" r="2.6"/>
<circle class="pu" cx="426.7" cy="92.1" r="2.6"/>
<circle class="pu" cx="409.7" cy="114" r="2.6"/>
<circle class="pu" cx="408.3" cy="117.2" r="2.6"/>
<circle class="pu" cx="420.2" cy="106.9" r="2.6"/>
<circle class="pu" cx="406.2" cy="103.1" r="2.6"/>
<circle class="pu" cx="408.2" cy="106.2" r="2.6"/>
<circle class="pu" cx="411.5" cy="102.2" r="2.6"/>
<circle class="pu" cx="416.6" cy="107.5" r="2.6"/>
<circle class="pu" cx="411.7" cy="105.4" r="2.6"/>
<circle class="pu" cx="409.1" cy="118.4" r="2.6"/>
<circle class="pu" cx="423.8" cy="100.8" r="2.6"/>
<circle class="pu" cx="415.4" cy="116.3" r="2.6"/>
<circle class="pu" cx="412.6" cy="105" r="2.6"/>
<circle class="pu" cx="421" cy="97" r="2.6"/>
<circle class="pu" cx="421.7" cy="98.6" r="2.6"/>
<circle class="pu" cx="412" cy="97.4" r="2.6"/>
<circle class="pu" cx="418.8" cy="109.2" r="2.6"/>
<circle class="pu" cx="412.8" cy="104.7" r="2.6"/>
<circle class="pu" cx="416.8" cy="94.6" r="2.6"/>
<circle class="pu" cx="403.3" cy="116.7" r="2.6"/>
<circle class="pu" cx="420.7" cy="94.4" r="2.6"/>
<circle class="pu" cx="416.9" cy="93" r="2.6"/>
<circle class="pu" cx="415.8" cy="96.6" r="2.6"/>
<circle class="pu" cx="412.1" cy="100.3" r="2.6"/>
<circle class="pu" cx="418.1" cy="105.4" r="2.6"/>
<circle class="pu" cx="410.2" cy="110.5" r="2.6"/>
<circle class="pu" cx="419" cy="102.9" r="2.6"/>
<circle class="pu" cx="419.3" cy="94.5" r="2.6"/>
<circle class="pu" cx="407.3" cy="107.4" r="2.6"/>
<circle class="pu" cx="415.5" cy="115.1" r="2.6"/>
<circle class="pu" cx="425.2" cy="94.4" r="2.6"/>
<circle class="pu" cx="415.3" cy="99.9" r="2.6"/>
<circle class="pu" cx="423.8" cy="98.9" r="2.6"/>
<circle class="pu" cx="410.8" cy="101.6" r="2.6"/>
<circle class="pu" cx="414.8" cy="99.4" r="2.6"/>
<circle class="pu" cx="416.5" cy="103.7" r="2.6"/>
<circle class="pu" cx="423.6" cy="102.4" r="2.6"/>
<circle class="pu" cx="420.7" cy="100.4" r="2.6"/>
<circle class="pu" cx="421.1" cy="97.3" r="2.6"/>
<circle class="pu" cx="414.1" cy="96.1" r="2.6"/>
<circle class="pu" cx="414.4" cy="99.4" r="2.6"/>
<circle class="pu" cx="419.3" cy="113" r="2.6"/>
<circle class="pu" cx="419" cy="97.6" r="2.6"/>
<circle class="pu" cx="411.3" cy="109.9" r="2.6"/>
<circle class="pu" cx="414.3" cy="99" r="2.6"/>
<circle class="pu" cx="411.2" cy="116.4" r="2.6"/>
<circle class="pu" cx="419.9" cy="107.6" r="2.6"/>
<circle class="pu" cx="409.6" cy="98.5" r="2.6"/>
<circle class="pu" cx="410.8" cy="98.4" r="2.6"/>
<circle class="pu" cx="409.3" cy="108.1" r="2.6"/>
<circle class="pu" cx="405.5" cy="108.2" r="2.6"/>
<circle class="pu" cx="416.4" cy="104.9" r="2.6"/>
<circle class="pu" cx="426.6" cy="95.5" r="2.6"/>
<circle class="pu" cx="419.2" cy="109.6" r="2.6"/>
<circle class="pu" cx="426.3" cy="93.1" r="2.6"/>
<circle class="pu" cx="415" cy="110.3" r="2.6"/>
<circle class="pu" cx="421.2" cy="102.9" r="2.6"/>
<circle class="pu" cx="422.3" cy="95.8" r="2.6"/>
<circle class="pu" cx="425.6" cy="96.1" r="2.6"/>
<circle class="pu" cx="422.3" cy="104.2" r="2.6"/>
<circle class="pu" cx="410.7" cy="99.5" r="2.6"/>
<circle class="pu" cx="410.3" cy="111" r="2.6"/>
<circle class="pu" cx="418.4" cy="92.5" r="2.6"/>
<circle class="pu" cx="413" cy="101.4" r="2.6"/>
<circle class="pu" cx="418.8" cy="99.5" r="2.6"/>
<circle class="pu" cx="407.9" cy="112.8" r="2.6"/>
<circle class="pu" cx="422.7" cy="104.3" r="2.6"/>
<circle class="pu" cx="428.8" cy="88.2" r="2.6"/>
<circle class="pu" cx="413" cy="105.5" r="2.6"/>
<circle class="pu" cx="417.5" cy="109.3" r="2.6"/>
<circle class="pu" cx="413.2" cy="105.7" r="2.6"/>
<polygon class="pus" points="424,102.2 424.9,104.7 427.6,104.8 425.5,106.5 426.2,109.1 424,107.6 421.8,109.1 422.5,106.5 420.4,104.8 423.1,104.7"/>
<polygon class="pus" points="407,108.2 407.9,110.7 410.6,110.8 408.5,112.5 409.2,115.1 407,113.6 404.8,115.1 405.5,112.5 403.4,110.8 406.1,110.7"/>
<circle class="pu" cx="414.9" cy="115" r="2.6"/>
<polygon class="pus" points="420,89.2 420.9,91.7 423.6,91.8 421.5,93.5 422.2,96.1 420,94.6 417.8,96.1 418.5,93.5 416.4,91.8 419.1,91.7"/>
<circle class="pu" cx="417.1" cy="107.2" r="2.6"/>
<polygon class="pus" points="411,116.2 411.9,118.7 414.6,118.8 412.5,120.5 413.2,123.1 411,121.6 408.8,123.1 409.5,120.5 407.4,118.8 410.1,118.7"/>
<polygon class="pus" points="428.5,83.7 429.4,86.2 432.1,86.3 430,88 430.7,90.6 428.5,89.1 426.3,90.6 427,88 424.9,86.3 427.6,86.2"/>
<circle class="pu" cx="420.8" cy="110.3" r="2.6"/>
<circle class="pu" cx="412" cy="115.5" r="2.6"/>
<polygon class="pus" points="426,96.2 426.9,98.7 429.6,98.8 427.5,100.5 428.2,103.1 426,101.6 423.8,103.1 424.5,100.5 422.4,98.8 425.1,98.7"/>
<circle class="pu" cx="417.1" cy="108.9" r="2.6"/>
<circle class="pu" cx="414.6" cy="111.1" r="2.6"/>
<rect x="491.7" y="6.7" width="39.8" height="16.1" fill="#000"/>
<rect x="489.2" y="4" width="39.8" height="16.1" fill="#f3f7d3" stroke="#a9ac96" stroke-width="0.7"/>
<text x="509.1" y="16.5" font-size="12" text-anchor="middle" textLength="34.6" lengthAdjust="spacingAndGlyphs">Lesvos</text>
<text class="pl" x="291.5" y="45.5">b)</text>
<text class="ax2" transform="translate(280.8,142.6) rotate(87.6)" font-size="6.5" text-anchor="middle" textLength="100" lengthAdjust="spacingAndGlyphs">Canonical Variable 3</text>
<text class="tk" transform="translate(284.3,52) rotate(87)" font-size="5" text-anchor="middle">8</text>
<text class="tk" transform="translate(285.3,79) rotate(87)" font-size="5" text-anchor="middle">6</text>
<text class="tk" transform="translate(286.3,106) rotate(87)" font-size="5" text-anchor="middle">4</text>
<text class="tk" transform="translate(287.5,133) rotate(87)" font-size="5" text-anchor="middle">2</text>
<text class="tk" transform="translate(288.6,160) rotate(87)" font-size="5" text-anchor="middle">0</text>
<text class="tk" transform="translate(289.7,187) rotate(87)" font-size="5" text-anchor="middle">-2</text>
<text class="tk" transform="translate(290.8,214) rotate(87)" font-size="5" text-anchor="middle">-4</text>
<text class="tk" transform="translate(290,236.5) rotate(3)" font-size="5.5" text-anchor="middle">-20</text>
<text class="tk" transform="translate(324,238.8) rotate(3)" font-size="5.5" text-anchor="middle">-10</text>
<text class="tk" transform="translate(358.5,241.2) rotate(3)" font-size="5.5" text-anchor="middle">0</text>
<text class="tk" transform="translate(393,243.7) rotate(3)" font-size="5.5" text-anchor="middle">10</text>
<text class="tk" transform="translate(427,246) rotate(3)" font-size="5.5" text-anchor="middle">20</text>
<text class="tk" transform="translate(461.6,248) rotate(3)" font-size="5.5" text-anchor="middle">30</text>
<text class="tk" transform="translate(496,250) rotate(3)" font-size="5.5" text-anchor="middle">40</text>
<text class="ax2" transform="translate(399,252.8) rotate(3.6)" font-size="6.5" text-anchor="middle" textLength="110" lengthAdjust="spacingAndGlyphs">Canonical Variable 1</text>
<text class="tk" transform="translate(532.5,177.3)" font-size="4.5" text-anchor="middle">10</text>
<text class="tk" transform="translate(529.5,185.2)" font-size="4.5" text-anchor="middle">8</text>
<text class="tk" transform="translate(528.5,194.5)" font-size="4.5" text-anchor="middle">6</text>
<text class="tk" transform="translate(528,204)" font-size="4.5" text-anchor="middle">4</text>
<text class="tk" transform="translate(527.2,213.8)" font-size="4.5" text-anchor="middle">2</text>
<text class="tk" transform="translate(526.5,224.3)" font-size="4.5" text-anchor="middle">0</text>
<text class="tk" transform="translate(526,236)" font-size="4.5" text-anchor="middle">-2</text>
<text class="tk" transform="translate(525,248)" font-size="4.5" text-anchor="middle">-4</text>
<text class="ax2" transform="translate(545,208.7) rotate(-90)" font-size="9.5" text-anchor="middle" textLength="34" lengthAdjust="spacingAndGlyphs">Canonical Variable 2</text>
<polygon class="w" points="21.6,299.4 116.5,275.8 117.8,423.1 28.8,476.5"/>
<path class="g" d="M41.5 294.4L47.5 465.3M60.5 289.7L65.3 454.6M77.6 285.5L81.3 445M94.7 281.2L97.3 435.4M109.5 277.5L111.2 427.1M22.4 318.9L116.6 292M23.1 337.2L116.8 307.3M23.9 355.5L116.9 322.5M24.6 373.8L117 337.7M25.4 392.1L117.2 352.9M26.1 410.4L117.3 368.1M26.9 428.7L117.4 383.3M27.6 447L117.6 398.6M28.3 465.3L117.7 413.8"/>
<polygon class="w" points="116.5,275.8 275.5,284 264.9,445.5 117.8,423.1"/>
<path class="g" d="M140 277L139.6 426.4M158.8 278L156.9 429.1M177.6 278.9L174.3 431.7M196.5 279.9L191.8 434.4M215.6 280.9L209.4 437.1M234.5 281.9L226.9 439.7M254.5 282.9L245.5 442.5M116.6 292L274.3 301.8M116.8 307.3L273.2 318.5M116.9 322.5L272.1 335.2M117 337.7L271 351.9M117.2 352.9L270 368.5M117.3 368.1L268.9 385.2M117.4 383.3L267.8 401.9M117.6 398.6L266.7 418.6M117.7 413.8L265.6 435.3"/>
<polygon class="w" points="28.8,476.5 117.8,423.1 264.9,445.5 203.8,510.1"/>
<path class="g" d="M47.5 465.3L216.6 496.5M65.3 454.6L228.9 483.6M81.3 445L239.8 472M97.3 435.4L250.8 460.4M111.2 427.1L260.4 450.3M54.7 481.5L139.6 426.4M75.4 485.4L156.9 429.1M96 489.4L174.3 431.7M116.8 493.4L191.8 434.4M137.8 497.4L209.4 437.1M158.7 501.4L226.9 439.7M180.7 505.7L245.5 442.5"/>
<path class="et" d="M116.5 275.8L117.8 423.1M28.8 476.5L117.8 423.1M117.8 423.1L264.9 445.5"/>
<path class="e" d="M21.6 299.4L116.5 275.8M116.5 275.8L275.5 284M21.6 299.4L28.8 476.5M28.8 476.5L203.8 510.1M203.8 510.1L264.9 445.5M275.5 284L264.9 445.5"/>
<circle class="gy" cx="64.1" cy="413.7" r="2.15"/>
<circle class="gy" cx="70.1" cy="411" r="2.15"/>
<circle class="gy" cx="78.7" cy="444.6" r="2.15"/>
<circle class="gy" cx="83.2" cy="412.5" r="2.15"/>
<circle class="gy" cx="69.1" cy="445.8" r="2.15"/>
<circle class="gy" cx="72.6" cy="412.3" r="2.15"/>
<circle class="gy" cx="85.2" cy="445.8" r="2.15"/>
<circle class="gy" cx="81.3" cy="428.9" r="2.15"/>
<circle class="gy" cx="87.1" cy="432.7" r="2.15"/>
<circle class="gy" cx="91.2" cy="412.3" r="2.15"/>
<circle class="gy" cx="78.6" cy="420.2" r="2.15"/>
<circle class="gy" cx="63.9" cy="407.6" r="2.15"/>
<circle class="gy" cx="76" cy="405.2" r="2.15"/>
<circle class="gy" cx="69" cy="454.8" r="2.15"/>
<circle class="gy" cx="67.5" cy="401.7" r="2.15"/>
<circle class="gy" cx="89.6" cy="413.3" r="2.15"/>
<circle class="gy" cx="87.9" cy="428.4" r="2.15"/>
<circle class="gy" cx="69.9" cy="451.6" r="2.15"/>
<circle class="gy" cx="74.2" cy="411.3" r="2.15"/>
<circle class="gy" cx="71.2" cy="417.5" r="2.15"/>
<circle class="gy" cx="59.6" cy="440.3" r="2.15"/>
<circle class="gy" cx="81.4" cy="402.5" r="2.15"/>
<circle class="gy" cx="74.5" cy="402.4" r="2.15"/>
<circle class="gy" cx="81.7" cy="451.1" r="2.15"/>
<circle class="gy" cx="85.7" cy="404.9" r="2.15"/>
<circle class="gy" cx="71.9" cy="428.7" r="2.15"/>
<circle class="gy" cx="88" cy="436.7" r="2.15"/>
<circle class="gy" cx="89.4" cy="424.9" r="2.15"/>
<circle class="gy" cx="88" cy="462.3" r="2.15"/>
<circle class="gy" cx="79.1" cy="410.9" r="2.15"/>
<circle class="gy" cx="56.9" cy="438.5" r="2.15"/>
<circle class="gy" cx="83.1" cy="445.7" r="2.15"/>
<circle class="gy" cx="76.9" cy="439.8" r="2.15"/>
<circle class="gy" cx="78.4" cy="400.4" r="2.15"/>
<circle class="gy" cx="70.5" cy="398.6" r="2.15"/>
<circle class="gy" cx="77.4" cy="443" r="2.15"/>
<circle class="gy" cx="60.8" cy="429.8" r="2.15"/>
<circle class="gy" cx="63.3" cy="430" r="2.15"/>
<circle class="gy" cx="75.4" cy="440.4" r="2.15"/>
<circle class="gy" cx="82.1" cy="410.7" r="2.15"/>
<circle class="gy" cx="63.9" cy="435" r="2.15"/>
<circle class="gy" cx="85.2" cy="432.2" r="2.15"/>
<circle class="gy" cx="87.6" cy="449.9" r="2.15"/>
<circle class="gy" cx="80.9" cy="461.1" r="2.15"/>
<circle class="gy" cx="78.3" cy="443.6" r="2.15"/>
<circle class="gy" cx="65.6" cy="415.2" r="2.15"/>
<circle class="gy" cx="82.7" cy="420.4" r="2.15"/>
<circle class="gy" cx="82.5" cy="454.2" r="2.15"/>
<circle class="gy" cx="69" cy="391.9" r="2.15"/>
<circle class="gy" cx="87.1" cy="419.5" r="2.15"/>
<circle class="gy" cx="77" cy="402.9" r="2.15"/>
<circle class="gy" cx="86.5" cy="444.4" r="2.15"/>
<circle class="gy" cx="62.5" cy="421.4" r="2.15"/>
<circle class="gy" cx="70.9" cy="404.2" r="2.15"/>
<circle class="gy" cx="64.2" cy="402.8" r="2.15"/>
<circle class="gy" cx="90.4" cy="421.8" r="2.15"/>
<circle class="gy" cx="59.6" cy="416.4" r="2.15"/>
<circle class="gy" cx="70.9" cy="447.6" r="2.15"/>
<circle class="gy" cx="63.7" cy="419.4" r="2.15"/>
<circle class="gy" cx="67.1" cy="397.2" r="2.15"/>
<circle class="gy" cx="75.8" cy="445.1" r="2.15"/>
<circle class="gy" cx="79.5" cy="399" r="2.15"/>
<circle class="gy" cx="73.7" cy="453.9" r="2.15"/>
<circle class="gy" cx="66.6" cy="395.3" r="2.15"/>
<circle class="gy" cx="85.1" cy="401.4" r="2.15"/>
<circle class="gy" cx="87.3" cy="447.7" r="2.15"/>
<circle class="gy" cx="87.8" cy="446.5" r="2.15"/>
<circle class="gy" cx="78.9" cy="438.5" r="2.15"/>
<circle class="gy" cx="82.3" cy="426.5" r="2.15"/>
<circle class="gy" cx="91" cy="409.4" r="2.15"/>
<circle class="gy" cx="71.3" cy="404.6" r="2.15"/>
<circle class="gy" cx="77.1" cy="403.3" r="2.15"/>
<circle class="gy" cx="78.6" cy="409.2" r="2.15"/>
<circle class="gy" cx="73.6" cy="451" r="2.15"/>
<circle class="gy" cx="84.4" cy="437" r="2.15"/>
<circle class="gy" cx="86" cy="398.4" r="2.15"/>
<circle class="gy" cx="74.8" cy="431.8" r="2.15"/>
<circle class="gy" cx="76.5" cy="445.9" r="2.15"/>
<circle class="gy" cx="71.3" cy="422.7" r="2.15"/>
<circle class="gy" cx="75.7" cy="411.6" r="2.15"/>
<circle class="gy" cx="65.5" cy="399.3" r="2.15"/>
<circle class="gy" cx="70.6" cy="447.7" r="2.15"/>
<circle class="gy" cx="64.4" cy="415.9" r="2.15"/>
<circle class="gy" cx="86.1" cy="402.9" r="2.15"/>
<circle class="gy" cx="83.5" cy="456.2" r="2.15"/>
<circle class="gy" cx="71.9" cy="443.7" r="2.15"/>
<circle class="gy" cx="79.5" cy="397.6" r="2.15"/>
<circle class="gy" cx="66.5" cy="398.6" r="2.15"/>
<circle class="gy" cx="74.3" cy="428.5" r="2.15"/>
<circle class="gy" cx="73.8" cy="433.6" r="2.15"/>
<circle class="gy" cx="66.8" cy="448.6" r="2.15"/>
<circle class="gy" cx="87.2" cy="444" r="2.15"/>
<circle class="gy" cx="85.3" cy="405" r="2.15"/>
<circle class="gy" cx="77.9" cy="422.8" r="2.15"/>
<circle class="gy" cx="79.9" cy="408.1" r="2.15"/>
<circle class="gy" cx="88.1" cy="417.9" r="2.15"/>
<circle class="gy" cx="73.8" cy="424.1" r="2.15"/>
<circle class="gy" cx="101.5" cy="422" r="2.15"/>
<circle class="gy" cx="80.8" cy="406.3" r="2.15"/>
<circle class="gy" cx="73.7" cy="404.3" r="2.15"/>
<circle class="gy" cx="78.2" cy="433" r="2.15"/>
<circle class="gy" cx="67.7" cy="401.4" r="2.15"/>
<circle class="gy" cx="67.8" cy="383.5" r="2.15"/>
<circle class="gy" cx="80.2" cy="397.9" r="2.15"/>
<circle class="gy" cx="83.8" cy="405.6" r="2.15"/>
<circle class="gy" cx="91.9" cy="424.5" r="2.15"/>
<circle class="gy" cx="84.7" cy="414.4" r="2.15"/>
<circle class="gy" cx="73.9" cy="448.8" r="2.15"/>
<circle class="gy" cx="74.8" cy="414.1" r="2.15"/>
<circle class="gy" cx="91.1" cy="445.1" r="2.15"/>
<circle class="gy" cx="75.4" cy="429.8" r="2.15"/>
<circle class="gy" cx="67.5" cy="392.3" r="2.15"/>
<circle class="gy" cx="71.7" cy="433.2" r="2.15"/>
<circle class="gy" cx="65.6" cy="407.4" r="2.15"/>
<circle class="gy" cx="61.5" cy="446.7" r="2.15"/>
<circle class="gy" cx="81.2" cy="441.5" r="2.15"/>
<circle class="gy" cx="67.9" cy="417.6" r="2.15"/>
<circle class="gy" cx="77.6" cy="421.8" r="2.15"/>
<circle class="gy" cx="72.4" cy="427.7" r="2.15"/>
<circle class="gy" cx="72.9" cy="424.6" r="2.15"/>
<circle class="gy" cx="67" cy="400.1" r="2.15"/>
<circle class="gy" cx="72.1" cy="407.3" r="2.15"/>
<circle class="gy" cx="82.4" cy="427" r="2.15"/>
<circle class="gy" cx="63.3" cy="420.4" r="2.15"/>
<circle class="gy" cx="65.9" cy="412.4" r="2.15"/>
<circle class="gy" cx="82.2" cy="437.8" r="2.15"/>
<circle class="gy" cx="84.8" cy="424.9" r="2.15"/>
<circle class="gy" cx="59.7" cy="415.4" r="2.15"/>
<circle class="gy" cx="72.1" cy="426.6" r="2.15"/>
<circle class="gy" cx="71.8" cy="405.6" r="2.15"/>
<circle class="gy" cx="69.4" cy="396.5" r="2.15"/>
<circle class="gy" cx="67.6" cy="410.1" r="2.15"/>
<circle class="gy" cx="76.9" cy="411.7" r="2.15"/>
<circle class="gy" cx="82" cy="405.4" r="2.15"/>
<circle class="gy" cx="82.7" cy="433.5" r="2.15"/>
<circle class="gy" cx="82.5" cy="448.3" r="2.15"/>
<circle class="gy" cx="64.5" cy="386.5" r="2.15"/>
<circle class="gy" cx="79.6" cy="448.9" r="2.15"/>
<circle class="gy" cx="65.7" cy="437.6" r="2.15"/>
<circle class="gy" cx="69.2" cy="432.1" r="2.15"/>
<circle class="gy" cx="79.8" cy="414.5" r="2.15"/>
<circle class="gy" cx="66.8" cy="407.6" r="2.15"/>
<circle class="gy" cx="87.9" cy="447" r="2.15"/>
<circle class="gy" cx="82.8" cy="431.4" r="2.15"/>
<circle class="gy" cx="63" cy="425.4" r="2.15"/>
<circle class="gy" cx="72.6" cy="408.4" r="2.15"/>
<circle class="gy" cx="82.1" cy="425.9" r="2.15"/>
<circle class="gy" cx="77.6" cy="426.3" r="2.15"/>
<circle class="gy" cx="71.8" cy="410.9" r="2.15"/>
<circle class="gy" cx="68.5" cy="411.9" r="2.15"/>
<circle class="gy" cx="72.5" cy="441.4" r="2.15"/>
<circle class="gy" cx="68.5" cy="442.8" r="2.15"/>
<circle class="gy" cx="82.8" cy="465.7" r="2.15"/>
<circle class="gy" cx="88.5" cy="443.8" r="2.15"/>
<circle class="gy" cx="72.9" cy="414.9" r="2.15"/>
<circle class="gy" cx="59.6" cy="434.8" r="2.15"/>
<circle class="gy" cx="89.8" cy="411.8" r="2.15"/>
<circle class="gy" cx="63.8" cy="436.3" r="2.15"/>
<circle class="gy" cx="74.2" cy="438.8" r="2.15"/>
<circle class="gy" cx="94.1" cy="452.9" r="2.15"/>
<circle class="gy" cx="61.4" cy="399.5" r="2.15"/>
<circle class="gy" cx="98" cy="396" r="2.15"/>
<circle class="gy" cx="78.1" cy="422.8" r="2.15"/>
<circle class="gy" cx="67.9" cy="425.7" r="2.15"/>
<circle class="gy" cx="65.2" cy="409.5" r="2.15"/>
<circle class="gy" cx="72.1" cy="417.1" r="2.15"/>
<circle class="gy" cx="68.1" cy="437.8" r="2.15"/>
<circle class="gy" cx="76.4" cy="414.5" r="2.15"/>
<circle class="gy" cx="72.8" cy="443.4" r="2.15"/>
<circle class="gy" cx="84.7" cy="412.7" r="2.15"/>
<circle class="gy" cx="71.5" cy="437.9" r="2.15"/>
<circle class="gy" cx="80.5" cy="413.8" r="2.15"/>
<circle class="gy" cx="73" cy="432.6" r="2.15"/>
<circle class="gy" cx="80.6" cy="432.7" r="2.15"/>
<circle class="gy" cx="85.3" cy="404.4" r="2.15"/>
<circle class="gy" cx="76.4" cy="435.4" r="2.15"/>
<circle class="gy" cx="72.9" cy="435.2" r="2.15"/>
<circle class="gy" cx="88.1" cy="429.2" r="2.15"/>
<circle class="gy" cx="74.5" cy="431.1" r="2.15"/>
<circle class="gy" cx="76.2" cy="400.5" r="2.15"/>
<circle class="gy" cx="81.7" cy="399.1" r="2.15"/>
<circle class="gy" cx="65.9" cy="400.3" r="2.15"/>
<circle class="gy" cx="82.2" cy="411.2" r="2.15"/>
<circle class="gy" cx="74" cy="405" r="2.15"/>
<circle class="gy" cx="85.9" cy="393.8" r="2.15"/>
<circle class="gy" cx="71.8" cy="386" r="2.15"/>
<circle class="gy" cx="74.9" cy="418" r="2.15"/>
<circle class="gy" cx="77.1" cy="413.7" r="2.15"/>
<circle class="gy" cx="81.9" cy="435.7" r="2.15"/>
<circle class="gy" cx="87.1" cy="445.5" r="2.15"/>
<circle class="gy" cx="85.3" cy="414.7" r="2.15"/>
<circle class="gy" cx="93.5" cy="424.6" r="2.15"/>
<circle class="gy" cx="82.7" cy="429.7" r="2.15"/>
<circle class="gy" cx="62.8" cy="408.8" r="2.15"/>
<circle class="gy" cx="86.2" cy="418.3" r="2.15"/>
<circle class="gy" cx="63.9" cy="426" r="2.15"/>
<circle class="gy" cx="67.8" cy="414.1" r="2.15"/>
<circle class="gy" cx="79.9" cy="438.1" r="2.15"/>
<circle class="gy" cx="65.6" cy="419.5" r="2.15"/>
<circle class="gy" cx="81.1" cy="410.8" r="2.15"/>
<circle class="gy" cx="55" cy="420" r="2.15"/>
<circle class="gy" cx="74.4" cy="414.2" r="2.15"/>
<circle class="gy" cx="72.6" cy="423.5" r="2.15"/>
<circle class="gy" cx="90.8" cy="417.1" r="2.15"/>
<circle class="gy" cx="70.1" cy="400.7" r="2.15"/>
<circle class="gy" cx="84.5" cy="412.5" r="2.15"/>
<circle class="gy" cx="79.8" cy="428.3" r="2.15"/>
<circle class="gy" cx="68.2" cy="412.7" r="2.15"/>
<circle class="gy" cx="78.2" cy="430.9" r="2.15"/>
<circle class="gy" cx="64.1" cy="434.2" r="2.15"/>
<circle class="gy" cx="94.1" cy="442.5" r="2.15"/>
<circle class="gy" cx="85.7" cy="407.5" r="2.15"/>
<circle class="gy" cx="64.9" cy="407" r="2.15"/>
<circle class="gy" cx="86.6" cy="429.9" r="2.15"/>
<circle class="gy" cx="85.1" cy="424.7" r="2.15"/>
<circle class="gy" cx="73.7" cy="419.8" r="2.15"/>
<circle class="gy" cx="74.4" cy="405.8" r="2.15"/>
<circle class="gy" cx="73.6" cy="394.7" r="2.15"/>
<circle class="gy" cx="88.9" cy="450.4" r="2.15"/>
<circle class="gy" cx="59.4" cy="418.7" r="2.15"/>
<circle class="gy" cx="72" cy="395.2" r="2.15"/>
<circle class="gy" cx="78.5" cy="408.1" r="2.15"/>
<circle class="gy" cx="62.4" cy="424.7" r="2.15"/>
<circle class="gy" cx="87.6" cy="407" r="2.15"/>
<circle class="gy" cx="91.8" cy="452.4" r="2.15"/>
<circle class="gy" cx="68.7" cy="394.3" r="2.15"/>
<circle class="gy" cx="75.3" cy="451.1" r="2.15"/>
<circle class="gy" cx="79.6" cy="394.1" r="2.15"/>
<circle class="gy" cx="89" cy="447.4" r="2.15"/>
<circle class="gy" cx="77.7" cy="429.7" r="2.15"/>
<circle class="gy" cx="79" cy="431.1" r="2.15"/>
<circle class="gy" cx="87.7" cy="437.6" r="2.15"/>
<circle class="gy" cx="77.9" cy="448.9" r="2.15"/>
<circle class="gy" cx="70.2" cy="400.3" r="2.15"/>
<circle class="gy" cx="89.2" cy="416.5" r="2.15"/>
<circle class="gy" cx="78.1" cy="399.9" r="2.15"/>
<circle class="gy" cx="74.3" cy="419.2" r="2.15"/>
<circle class="gy" cx="66.4" cy="428.9" r="2.15"/>
<circle class="gy" cx="64.4" cy="388.8" r="2.15"/>
<circle class="gy" cx="71.4" cy="429.5" r="2.15"/>
<circle class="gy" cx="71.7" cy="414.7" r="2.15"/>
<circle class="gy" cx="74.8" cy="418.9" r="2.15"/>
<circle class="gy" cx="72.4" cy="432.8" r="2.15"/>
<circle class="gy" cx="68.5" cy="442.2" r="2.15"/>
<circle class="gy" cx="61.7" cy="405.2" r="2.15"/>
<polygon class="gys" points="92.7,416.9 93.4,418.8 95.5,418.9 93.9,420.2 94.4,422.1 92.7,421 91,422.1 91.5,420.2 89.9,418.9 92,418.8"/>
<circle class="gy" cx="70.1" cy="409.6" r="2.15"/>
<circle class="gy" cx="78.7" cy="432.6" r="2.15"/>
<circle class="gy" cx="90.3" cy="421.2" r="2.15"/>
<circle class="gy" cx="77.7" cy="439" r="2.15"/>
<circle class="gy" cx="84.5" cy="415.7" r="2.15"/>
<polygon class="gys" points="82,429.1 82.7,431 84.8,431.1 83.2,432.4 83.7,434.3 82,433.2 80.3,434.3 80.8,432.4 79.2,431.1 81.3,431"/>
<circle class="gy" cx="83.2" cy="420.5" r="2.15"/>
<circle class="gy" cx="68.9" cy="445.5" r="2.15"/>
<polygon class="gys" points="67,392.1 67.7,394 69.8,394.1 68.2,395.4 68.7,397.3 67,396.2 65.3,397.3 65.8,395.4 64.2,394.1 66.3,394"/>
<circle class="gy" cx="72" cy="395.1" r="2.15"/>
<circle class="gy" cx="77.5" cy="439.2" r="2.15"/>
<polygon class="gys" points="70,407.1 70.7,409 72.8,409.1 71.2,410.4 71.7,412.3 70,411.2 68.3,412.3 68.8,410.4 67.2,409.1 69.3,409"/>
<polygon class="gys" points="95,399.1 95.7,401 97.8,401.1 96.2,402.4 96.7,404.3 95,403.2 93.3,404.3 93.8,402.4 92.2,401.1 94.3,401"/>
<circle class="gy" cx="80.7" cy="439.7" r="2.15"/>
<polygon class="gys" points="84,412.1 84.7,414 86.8,414.1 85.2,415.4 85.7,417.3 84,416.2 82.3,417.3 82.8,415.4 81.2,414.1 83.3,414"/>
<circle class="gy" cx="73" cy="428.6" r="2.15"/>
<circle class="gy" cx="92" cy="412.6" r="2.15"/>
<circle class="gy" cx="67.7" cy="443.2" r="2.15"/>
<circle class="gy" cx="68.9" cy="415.6" r="2.15"/>
<circle class="gy" cx="85.2" cy="429.3" r="2.15"/>
<circle class="gy" cx="69.6" cy="423.8" r="2.15"/>
<circle class="gy" cx="87.9" cy="404.3" r="2.15"/>
<circle class="gy" cx="77.3" cy="432.7" r="2.15"/>
<circle class="gy" cx="92.8" cy="416.6" r="2.15"/>
<polygon class="gys" points="88.4,397.1 89.1,399 91.2,399.1 89.6,400.4 90.1,402.3 88.4,401.2 86.7,402.3 87.2,400.4 85.6,399.1 87.7,399"/>
<circle class="gy" cx="81.8" cy="409.3" r="2.15"/>
<circle class="gy" cx="72.5" cy="399" r="2.15"/>
<polygon class="gys" points="66,425.1 66.7,427 68.8,427.1 67.2,428.4 67.7,430.3 66,429.2 64.3,430.3 64.8,428.4 63.2,427.1 65.3,427"/>
<polygon class="gys" points="80,442.1 80.7,444 82.8,444.1 81.2,445.4 81.7,447.3 80,446.2 78.3,447.3 78.8,445.4 77.2,444.1 79.3,444"/>
<circle class="gy" cx="86.8" cy="401.1" r="2.15"/>
<polygon class="gys" points="76,402.1 76.7,404 78.8,404.1 77.2,405.4 77.7,407.3 76,406.2 74.3,407.3 74.8,405.4 73.2,404.1 75.3,404"/>
<circle class="pu" cx="121" cy="400.2" r="2.15"/>
<circle class="pu" cx="158.9" cy="387.4" r="2.15"/>
<circle class="pu" cx="160.7" cy="413.9" r="2.15"/>
<circle class="pu" cx="164.9" cy="383.7" r="2.15"/>
<circle class="pu" cx="139.6" cy="398.1" r="2.15"/>
<circle class="pu" cx="172.2" cy="398.5" r="2.15"/>
<circle class="pu" cx="151.3" cy="359.8" r="2.15"/>
<circle class="pu" cx="131.4" cy="370.1" r="2.15"/>
<circle class="pu" cx="170.1" cy="374.8" r="2.15"/>
<circle class="pu" cx="125.3" cy="387.6" r="2.15"/>
<circle class="pu" cx="158.3" cy="402.1" r="2.15"/>
<circle class="pu" cx="165.6" cy="403.9" r="2.15"/>
<circle class="pu" cx="147.6" cy="358.2" r="2.15"/>
<circle class="pu" cx="122.8" cy="403.5" r="2.15"/>
<circle class="pu" cx="151.9" cy="386.5" r="2.15"/>
<circle class="pu" cx="168.6" cy="388.3" r="2.15"/>
<circle class="pu" cx="138.1" cy="392.3" r="2.15"/>
<circle class="pu" cx="151.4" cy="364.4" r="2.15"/>
<circle class="pu" cx="145.6" cy="396.6" r="2.15"/>
<circle class="pu" cx="141.2" cy="385.8" r="2.15"/>
<circle class="pu" cx="144.4" cy="385.5" r="2.15"/>
<circle class="pu" cx="149.6" cy="356.9" r="2.15"/>
<circle class="pu" cx="167.3" cy="400.4" r="2.15"/>
<circle class="pu" cx="138.9" cy="402.3" r="2.15"/>
<circle class="pu" cx="159.8" cy="395.9" r="2.15"/>
<circle class="pu" cx="155.4" cy="426.9" r="2.15"/>
<circle class="pu" cx="124.9" cy="387.4" r="2.15"/>
<circle class="pu" cx="158.8" cy="376.2" r="2.15"/>
<circle class="pu" cx="142" cy="369.1" r="2.15"/>
<circle class="pu" cx="127.5" cy="400.5" r="2.15"/>
<circle class="pu" cx="136.2" cy="371.7" r="2.15"/>
<circle class="pu" cx="166.9" cy="370.5" r="2.15"/>
<circle class="pu" cx="148.3" cy="406.2" r="2.15"/>
<circle class="pu" cx="158.7" cy="403" r="2.15"/>
<circle class="pu" cx="160.2" cy="398.5" r="2.15"/>
<circle class="pu" cx="130.4" cy="394.8" r="2.15"/>
<circle class="pu" cx="140" cy="362.7" r="2.15"/>
<circle class="pu" cx="143.1" cy="394.9" r="2.15"/>
<circle class="pu" cx="141.5" cy="371.7" r="2.15"/>
<circle class="pu" cx="169" cy="377.2" r="2.15"/>
<circle class="pu" cx="138.9" cy="380.9" r="2.15"/>
<circle class="pu" cx="167.1" cy="411.6" r="2.15"/>
<circle class="pu" cx="170.5" cy="406.2" r="2.15"/>
<circle class="pu" cx="160.5" cy="400.3" r="2.15"/>
<circle class="pu" cx="171.6" cy="389.4" r="2.15"/>
<circle class="pu" cx="133.9" cy="387.1" r="2.15"/>
<circle class="pu" cx="157" cy="403.3" r="2.15"/>
<circle class="pu" cx="144.6" cy="402" r="2.15"/>
<circle class="pu" cx="141.5" cy="381.6" r="2.15"/>
<circle class="pu" cx="145.4" cy="412.2" r="2.15"/>
<circle class="pu" cx="135.7" cy="378.9" r="2.15"/>
<circle class="pu" cx="132.4" cy="398.6" r="2.15"/>
<circle class="pu" cx="146.3" cy="413.7" r="2.15"/>
<circle class="pu" cx="130.8" cy="391.5" r="2.15"/>
<circle class="pu" cx="127.7" cy="394.9" r="2.15"/>
<circle class="pu" cx="154.7" cy="383.1" r="2.15"/>
<circle class="pu" cx="154" cy="387.6" r="2.15"/>
<circle class="pu" cx="158.9" cy="412" r="2.15"/>
<circle class="pu" cx="163.5" cy="368.8" r="2.15"/>
<circle class="pu" cx="154.5" cy="375.6" r="2.15"/>
<circle class="pu" cx="133.6" cy="393.5" r="2.15"/>
<circle class="pu" cx="125.8" cy="401" r="2.15"/>
<circle class="pu" cx="154.6" cy="391.1" r="2.15"/>
<circle class="pu" cx="148.3" cy="371.2" r="2.15"/>
<circle class="pu" cx="143.4" cy="364" r="2.15"/>
<circle class="pu" cx="120.5" cy="400.4" r="2.15"/>
<circle class="pu" cx="134.9" cy="404.9" r="2.15"/>
<circle class="pu" cx="163.9" cy="417.4" r="2.15"/>
<circle class="pu" cx="156.4" cy="386" r="2.15"/>
<circle class="pu" cx="149.6" cy="387.7" r="2.15"/>
<circle class="pu" cx="132.6" cy="408.3" r="2.15"/>
<circle class="pu" cx="164.2" cy="407.5" r="2.15"/>
<circle class="pu" cx="127" cy="327" r="2.15"/>
<circle class="pu" cx="151.7" cy="390.7" r="2.15"/>
<circle class="pu" cx="147" cy="330" r="2.15"/>
<circle class="pu" cx="147.9" cy="402.4" r="2.15"/>
<circle class="pu" cx="158.3" cy="404.4" r="2.15"/>
<circle class="pu" cx="153.5" cy="388.8" r="2.15"/>
<circle class="pu" cx="126.1" cy="382.7" r="2.15"/>
<circle class="pu" cx="143.3" cy="368.6" r="2.15"/>
<circle class="pu" cx="165" cy="378" r="2.15"/>
<circle class="pu" cx="134.3" cy="369.5" r="2.15"/>
<circle class="pu" cx="160.4" cy="395.9" r="2.15"/>
<circle class="pu" cx="154.1" cy="417.8" r="2.15"/>
<circle class="pu" cx="144" cy="402.9" r="2.15"/>
<circle class="pu" cx="158.8" cy="373.5" r="2.15"/>
<circle class="pu" cx="136.9" cy="409.8" r="2.15"/>
<circle class="pu" cx="134.5" cy="373.6" r="2.15"/>
<circle class="pu" cx="127.5" cy="396.3" r="2.15"/>
<circle class="pu" cx="146.2" cy="398.8" r="2.15"/>
<circle class="pu" cx="164.4" cy="386.1" r="2.15"/>
<circle class="pu" cx="125.9" cy="393.1" r="2.15"/>
<circle class="pu" cx="163.3" cy="400.4" r="2.15"/>
<circle class="pu" cx="160.7" cy="367.1" r="2.15"/>
<circle class="pu" cx="128.3" cy="369.5" r="2.15"/>
<circle class="pu" cx="138.5" cy="366.7" r="2.15"/>
<circle class="pu" cx="147.9" cy="386.2" r="2.15"/>
<circle class="pu" cx="138.4" cy="363" r="2.15"/>
<circle class="pu" cx="130.7" cy="404.4" r="2.15"/>
<circle class="pu" cx="144.7" cy="409.1" r="2.15"/>
<circle class="pu" cx="147.4" cy="399.8" r="2.15"/>
<circle class="pu" cx="159.1" cy="381.9" r="2.15"/>
<circle class="pu" cx="161.4" cy="394" r="2.15"/>
<circle class="pu" cx="168.5" cy="384.8" r="2.15"/>
<circle class="pu" cx="126" cy="379.4" r="2.15"/>
<circle class="pu" cx="151.7" cy="405.9" r="2.15"/>
<circle class="pu" cx="146.2" cy="411.9" r="2.15"/>
<circle class="pu" cx="140.9" cy="391.8" r="2.15"/>
<circle class="pu" cx="160.5" cy="372.7" r="2.15"/>
<circle class="pu" cx="155.9" cy="433" r="2.15"/>
<circle class="pu" cx="164.5" cy="405.9" r="2.15"/>
<circle class="pu" cx="174" cy="386.5" r="2.15"/>
<circle class="pu" cx="155.9" cy="374.5" r="2.15"/>
<circle class="pu" cx="139.6" cy="380.7" r="2.15"/>
<circle class="pu" cx="161.5" cy="395.7" r="2.15"/>
<circle class="pu" cx="130.2" cy="368.6" r="2.15"/>
<circle class="pu" cx="164" cy="409.1" r="2.15"/>
<circle class="pu" cx="156.9" cy="379.3" r="2.15"/>
<circle class="pu" cx="151.8" cy="419.3" r="2.15"/>
<circle class="pu" cx="152.3" cy="397.2" r="2.15"/>
<circle class="pu" cx="159.5" cy="421.7" r="2.15"/>
<circle class="pu" cx="148.6" cy="406.5" r="2.15"/>
<circle class="pu" cx="160.6" cy="405.5" r="2.15"/>
<circle class="pu" cx="139.5" cy="368" r="2.15"/>
<circle class="pu" cx="160.5" cy="384.8" r="2.15"/>
<circle class="pu" cx="154.4" cy="366.6" r="2.15"/>
<circle class="pu" cx="166.2" cy="412" r="2.15"/>
<circle class="pu" cx="153.3" cy="407" r="2.15"/>
<circle class="pu" cx="165" cy="366.7" r="2.15"/>
<circle class="pu" cx="130.7" cy="377" r="2.15"/>
<circle class="pu" cx="146.4" cy="399.9" r="2.15"/>
<circle class="pu" cx="170.1" cy="378.5" r="2.15"/>
<circle class="pu" cx="135.5" cy="388.1" r="2.15"/>
<circle class="pu" cx="148" cy="384.3" r="2.15"/>
<circle class="pu" cx="159.5" cy="367.8" r="2.15"/>
<circle class="pu" cx="146.8" cy="377.5" r="2.15"/>
<circle class="pu" cx="147.4" cy="408.4" r="2.15"/>
<circle class="pu" cx="157" cy="370.9" r="2.15"/>
<circle class="pu" cx="153" cy="368.7" r="2.15"/>
<circle class="pu" cx="136.1" cy="417.7" r="2.15"/>
<circle class="pu" cx="151.3" cy="403.9" r="2.15"/>
<circle class="pu" cx="162.1" cy="366.6" r="2.15"/>
<circle class="pu" cx="128.4" cy="389.9" r="2.15"/>
<circle class="pu" cx="157.6" cy="367.1" r="2.15"/>
<circle class="pu" cx="135.3" cy="367.2" r="2.15"/>
<circle class="pu" cx="136.1" cy="391.2" r="2.15"/>
<circle class="pu" cx="158.9" cy="373.2" r="2.15"/>
<circle class="pu" cx="143.1" cy="379.3" r="2.15"/>
<circle class="pu" cx="143" cy="389.8" r="2.15"/>
<circle class="pu" cx="165.7" cy="358.3" r="2.15"/>
<circle class="pu" cx="166.9" cy="392.6" r="2.15"/>
<circle class="pu" cx="150.3" cy="377.4" r="2.15"/>
<circle class="pu" cx="124.4" cy="381.1" r="2.15"/>
<circle class="pu" cx="146.6" cy="401.6" r="2.15"/>
<circle class="pu" cx="137.2" cy="393.1" r="2.15"/>
<circle class="pu" cx="130" cy="399.4" r="2.15"/>
<circle class="pu" cx="132" cy="381.2" r="2.15"/>
<circle class="pu" cx="146.1" cy="367.6" r="2.15"/>
<circle class="pu" cx="165.8" cy="388.6" r="2.15"/>
<circle class="pu" cx="121.9" cy="375.1" r="2.15"/>
<circle class="pu" cx="158.7" cy="395.7" r="2.15"/>
<circle class="pu" cx="155.7" cy="385.8" r="2.15"/>
<circle class="pu" cx="166.2" cy="369.4" r="2.15"/>
<circle class="pu" cx="135.3" cy="366.3" r="2.15"/>
<circle class="pu" cx="143.8" cy="361.6" r="2.15"/>
<circle class="pu" cx="167.7" cy="399.1" r="2.15"/>
<circle class="pu" cx="160.1" cy="384.3" r="2.15"/>
<circle class="pu" cx="143.7" cy="364.5" r="2.15"/>
<circle class="pu" cx="121.5" cy="394.9" r="2.15"/>
<circle class="pu" cx="159.8" cy="364.4" r="2.15"/>
<circle class="pu" cx="138.4" cy="382.1" r="2.15"/>
<circle class="pu" cx="144.1" cy="359.3" r="2.15"/>
<circle class="pu" cx="159.3" cy="409.2" r="2.15"/>
<circle class="pu" cx="164.5" cy="366.9" r="2.15"/>
<circle class="pu" cx="139.6" cy="372" r="2.15"/>
<circle class="pu" cx="153.2" cy="376.3" r="2.15"/>
<circle class="pu" cx="170.5" cy="394.7" r="2.15"/>
<circle class="pu" cx="151.8" cy="398.2" r="2.15"/>
<circle class="pu" cx="142.2" cy="365.1" r="2.15"/>
<circle class="pu" cx="150.2" cy="358" r="2.15"/>
<circle class="pu" cx="164.7" cy="371.7" r="2.15"/>
<circle class="pu" cx="156.2" cy="401" r="2.15"/>
<circle class="pu" cx="169.4" cy="386.8" r="2.15"/>
<circle class="pu" cx="153.3" cy="422.2" r="2.15"/>
<circle class="pu" cx="152.9" cy="386.4" r="2.15"/>
<circle class="pu" cx="144.9" cy="409.8" r="2.15"/>
<circle class="pu" cx="140.6" cy="366.1" r="2.15"/>
<circle class="pu" cx="135.1" cy="392.8" r="2.15"/>
<circle class="pu" cx="151.4" cy="376.1" r="2.15"/>
<circle class="pu" cx="136.6" cy="370.2" r="2.15"/>
<circle class="pu" cx="163.1" cy="390.4" r="2.15"/>
<circle class="pu" cx="169" cy="398.9" r="2.15"/>
<circle class="pu" cx="125.8" cy="375.6" r="2.15"/>
<circle class="pu" cx="119" cy="348.7" r="2.15"/>
<circle class="pu" cx="151.9" cy="414.5" r="2.15"/>
<circle class="pu" cx="146.1" cy="358.6" r="2.15"/>
<circle class="pu" cx="147.6" cy="417.6" r="2.15"/>
<circle class="pu" cx="138.5" cy="394.1" r="2.15"/>
<circle class="pu" cx="127.7" cy="364.6" r="2.15"/>
<circle class="pu" cx="128.2" cy="364.1" r="2.15"/>
<circle class="pu" cx="124.2" cy="375.3" r="2.15"/>
<circle class="pu" cx="138.1" cy="401" r="2.15"/>
<circle class="pu" cx="166.3" cy="380.4" r="2.15"/>
<circle class="pu" cx="144.9" cy="396.4" r="2.15"/>
<circle class="pu" cx="142.7" cy="411.4" r="2.15"/>
<circle class="pu" cx="145.2" cy="402.5" r="2.15"/>
<circle class="pu" cx="152.3" cy="380.5" r="2.15"/>
<circle class="pu" cx="150.8" cy="411.9" r="2.15"/>
<circle class="pu" cx="147.2" cy="372" r="2.15"/>
<circle class="pu" cx="158.1" cy="374.6" r="2.15"/>
<circle class="pu" cx="156.4" cy="378.6" r="2.15"/>
<circle class="pu" cx="151.8" cy="392.4" r="2.15"/>
<circle class="pu" cx="165.7" cy="406.4" r="2.15"/>
<circle class="pu" cx="156.5" cy="410.9" r="2.15"/>
<circle class="pu" cx="163.8" cy="365.3" r="2.15"/>
<circle class="pu" cx="135.2" cy="377.8" r="2.15"/>
<circle class="pu" cx="155.3" cy="358.9" r="2.15"/>
<circle class="pu" cx="144.5" cy="389.7" r="2.15"/>
<circle class="pu" cx="147" cy="403" r="2.15"/>
<circle class="pu" cx="162.5" cy="399.5" r="2.15"/>
<circle class="pu" cx="153.3" cy="401" r="2.15"/>
<circle class="pu" cx="152.4" cy="415.3" r="2.15"/>
<circle class="pu" cx="142.3" cy="355.4" r="2.15"/>
<circle class="pu" cx="155.5" cy="372.3" r="2.15"/>
<circle class="pu" cx="150" cy="376.1" r="2.15"/>
<circle class="pu" cx="128.7" cy="389.6" r="2.15"/>
<circle class="pu" cx="162.6" cy="365.5" r="2.15"/>
<circle class="pu" cx="158.2" cy="362.8" r="2.15"/>
<circle class="pu" cx="163.3" cy="399.9" r="2.15"/>
<circle class="pu" cx="130.9" cy="401.3" r="2.15"/>
<circle class="pu" cx="161" cy="406" r="2.15"/>
<circle class="pu" cx="158.3" cy="392.1" r="2.15"/>
<circle class="pu" cx="150.8" cy="396.9" r="2.15"/>
<circle class="pu" cx="145.3" cy="411.7" r="2.15"/>
<circle class="pu" cx="140.8" cy="362.8" r="2.15"/>
<circle class="pu" cx="131.8" cy="380.4" r="2.15"/>
<circle class="pu" cx="172.8" cy="410.4" r="2.15"/>
<circle class="pu" cx="158.2" cy="385.7" r="2.15"/>
<circle class="pu" cx="157.2" cy="408.4" r="2.15"/>
<circle class="pu" cx="135.4" cy="393.1" r="2.15"/>
<circle class="pu" cx="163.8" cy="381.2" r="2.15"/>
<circle class="pu" cx="158.7" cy="357.5" r="2.15"/>
<circle class="pu" cx="153.1" cy="381.9" r="2.15"/>
<circle class="pu" cx="149.6" cy="386.3" r="2.15"/>
<circle class="pu" cx="163.5" cy="367.6" r="2.15"/>
<circle class="pu" cx="154.1" cy="396.5" r="2.15"/>
<circle class="pu" cx="138.4" cy="386.7" r="2.15"/>
<circle class="pu" cx="151.3" cy="388.3" r="2.15"/>
<circle class="pu" cx="142.5" cy="361.1" r="2.15"/>
<circle class="pu" cx="141.7" cy="353.3" r="2.15"/>
<circle class="pu" cx="150.1" cy="365" r="2.15"/>
<polygon class="pus" points="132.1,358.9 132.8,360.8 134.8,360.9 133.2,362.2 133.8,364.1 132.1,363 130.4,364.1 130.9,362.2 129.3,360.9 131.4,360.8"/>
<polygon class="pus" points="147.9,347.1 148.7,349.1 150.7,349.2 149.1,350.4 149.6,352.4 147.9,351.3 146.2,352.4 146.8,350.4 145.2,349.2 147.2,349.1"/>
<circle class="pu" cx="146.3" cy="375.3" r="2.15"/>
<circle class="pu" cx="169.1" cy="392.1" r="2.15"/>
<circle class="pu" cx="135.5" cy="384.1" r="2.15"/>
<circle class="pu" cx="127.1" cy="372.1" r="2.15"/>
<circle class="pu" cx="140" cy="369" r="2.15"/>
<circle class="pu" cx="152.6" cy="381" r="2.15"/>
<polygon class="pus" points="126.5,372.1 127.2,374 129.3,374.1 127.7,375.4 128.2,377.3 126.5,376.2 124.8,377.3 125.3,375.4 123.7,374.1 125.8,374"/>
<circle class="pu" cx="163.8" cy="407.6" r="2.15"/>
<circle class="pu" cx="159.6" cy="392.5" r="2.15"/>
<circle class="pu" cx="150.3" cy="438" r="2.15"/>
<circle class="pu" cx="177.4" cy="398.5" r="2.15"/>
<circle class="pu" cx="148.7" cy="360.2" r="2.15"/>
<circle class="pu" cx="158.7" cy="359.1" r="2.15"/>
<circle class="pu" cx="155.1" cy="377.7" r="2.15"/>
<polygon class="pus" points="146.5,354.9 147.2,356.8 149.2,356.9 147.6,358.2 148.2,360.1 146.5,359 144.8,360.1 145.3,358.2 143.7,356.9 145.8,356.8"/>
<polygon class="pus" points="140.4,354.5 141.1,356.4 143.2,356.5 141.6,357.7 142.1,359.7 140.4,358.6 138.7,359.7 139.2,357.7 137.6,356.5 139.7,356.4"/>
<circle class="pu" cx="167.3" cy="388.7" r="2.15"/>
<polygon class="pus" points="157.8,379.4 158.5,381.3 160.6,381.4 159,382.7 159.5,384.6 157.8,383.5 156.1,384.6 156.6,382.7 155,381.4 157.1,381.3"/>
<circle class="pu" cx="172.8" cy="390.5" r="2.15"/>
<polygon class="pus" points="137,340.1 137.7,342 139.8,342.1 138.2,343.4 138.7,345.3 137,344.2 135.3,345.3 135.8,343.4 134.2,342.1 136.3,342"/>
<polygon class="pus" points="127.5,343.1 128.2,345 130.3,345.1 128.7,346.4 129.2,348.4 127.5,347.2 125.8,348.4 126.3,346.4 124.7,345.1 126.8,345"/>
<polygon class="pus" points="160,397.1 160.7,399 162.8,399.1 161.2,400.4 161.7,402.3 160,401.2 158.3,402.3 158.8,400.4 157.2,399.1 159.3,399"/>
<polygon class="pus" points="171,395 171.7,397 173.8,397 172.2,398.3 172.7,400.3 171,399.2 169.3,400.3 169.8,398.3 168.2,397 170.3,397"/>
<circle class="pu" cx="132.5" cy="396" r="2.15"/>
<circle class="pu" cx="162.9" cy="391.5" r="2.15"/>
<polygon class="pus" points="153.8,366.1 154.5,368 156.6,368.1 155,369.4 155.5,371.4 153.8,370.2 152.1,371.4 152.7,369.4 151.1,368.1 153.1,368"/>
<polygon class="pus" points="135.4,346.2 136.1,348.2 138.2,348.2 136.6,349.5 137.1,351.5 135.4,350.4 133.7,351.5 134.3,349.5 132.7,348.2 134.7,348.2"/>
<polygon class="pus" points="132.4,352 133.1,353.9 135.2,354 133.6,355.3 134.1,357.3 132.4,356.1 130.7,357.3 131.2,355.3 129.6,354 131.7,353.9"/>
<polygon class="pus" points="143.5,359.8 144.2,361.7 146.3,361.8 144.7,363.1 145.2,365.1 143.5,363.9 141.8,365.1 142.4,363.1 140.8,361.8 142.8,361.7"/>
<polygon class="pus" points="150.1,388.9 150.8,390.8 152.9,390.9 151.3,392.2 151.8,394.1 150.1,393 148.4,394.1 149,392.2 147.4,390.9 149.4,390.8"/>
<circle class="pu" cx="157" cy="380.6" r="2.15"/>
<polygon class="pus" points="134.8,392.4 135.5,394.3 137.5,394.4 135.9,395.6 136.5,397.6 134.8,396.5 133.1,397.6 133.6,395.6 132,394.4 134.1,394.3"/>
<polygon class="pus" points="149.2,352.5 149.9,354.5 151.9,354.6 150.3,355.8 150.9,357.8 149.2,356.7 147.5,357.8 148,355.8 146.4,354.6 148.5,354.5"/>
<circle class="pu" cx="146.6" cy="384.9" r="2.15"/>
<circle class="pu" cx="168.6" cy="402.2" r="2.15"/>
<circle class="pu" cx="139.2" cy="392.5" r="2.15"/>
<circle class="pu" cx="164.2" cy="377.1" r="2.15"/>
<polygon class="pus" points="163.2,387.5 163.9,389.4 165.9,389.5 164.3,390.8 164.9,392.8 163.2,391.6 161.5,392.8 162,390.8 160.4,389.5 162.5,389.4"/>
<circle class="pu" cx="155.1" cy="403" r="2.15"/>
<polygon class="pus" points="158.2,377 158.9,378.9 160.9,379 159.3,380.3 159.9,382.2 158.2,381.1 156.5,382.2 157,380.3 155.4,379 157.4,378.9"/>
<polygon class="pus" points="142.2,349.7 142.9,351.6 144.9,351.7 143.3,353 143.9,355 142.2,353.8 140.5,355 141,353 139.4,351.7 141.5,351.6"/>
<polygon class="pus" points="125.7,354.4 126.4,356.3 128.4,356.4 126.8,357.7 127.4,359.6 125.7,358.5 124,359.6 124.5,357.7 122.9,356.4 125,356.3"/>
<polygon class="pus" points="146.6,343 147.3,344.9 149.4,345 147.8,346.3 148.3,348.2 146.6,347.1 144.9,348.2 145.4,346.3 143.8,345 145.9,344.9"/>
<polygon class="pus" points="153.4,406 154.1,407.9 156.1,408 154.5,409.3 155.1,411.3 153.4,410.1 151.7,411.3 152.2,409.3 150.6,408 152.7,407.9"/>
<polygon class="pus" points="140.4,339 141.1,341 143.1,341 141.5,342.3 142.1,344.3 140.4,343.2 138.7,344.3 139.2,342.3 137.6,341 139.6,341"/>
<polygon class="pus" points="133.3,334.9 134,336.8 136,336.9 134.4,338.1 135,340.1 133.3,339 131.6,340.1 132.1,338.1 130.5,336.9 132.6,336.8"/>
<polygon class="pus" points="131,338.1 131.7,340 133.8,340.1 132.2,341.4 132.7,343.3 131,342.2 129.3,343.3 129.8,341.4 128.2,340.1 130.3,340"/>
<polygon class="pus" points="139,364.1 139.7,366 141.7,366.1 140.1,367.4 140.7,369.4 139,368.2 137.3,369.4 137.8,367.4 136.2,366.1 138.3,366"/>
<circle class="pu" cx="162.5" cy="378.1" r="2.15"/>
<polygon class="pus" points="146.6,339.6 147.4,341.5 149.4,341.6 147.8,342.9 148.4,344.8 146.6,343.7 144.9,344.8 145.5,342.9 143.9,341.6 145.9,341.5"/>
<polygon class="pus" points="142.4,356.5 143.1,358.4 145.1,358.5 143.5,359.7 144.1,361.7 142.4,360.6 140.7,361.7 141.2,359.7 139.6,358.5 141.7,358.4"/>
<polygon class="pus" points="137.2,376.8 137.9,378.7 139.9,378.8 138.3,380 138.9,382 137.2,380.9 135.5,382 136,380 134.4,378.8 136.5,378.7"/>
<polygon class="pus" points="146,352.6 146.8,354.5 148.8,354.6 147.2,355.8 147.7,357.8 146,356.7 144.3,357.8 144.9,355.8 143.3,354.6 145.3,354.5"/>
<polygon class="pus" points="160.2,433.8 160.9,435.7 163,435.8 161.4,437.1 161.9,439 160.2,437.9 158.5,439 159,437.1 157.4,435.8 159.5,435.7"/>
<polygon class="pus" points="170,392.1 170.7,394 172.8,394.1 171.2,395.4 171.7,397.3 170,396.2 168.3,397.3 168.8,395.4 167.2,394.1 169.3,394"/>
<polygon class="pus" points="153.1,411.2 153.8,413.1 155.9,413.2 154.3,414.5 154.8,416.5 153.1,415.3 151.4,416.5 152,414.5 150.4,413.2 152.4,413.1"/>
<circle class="gn" cx="211.6" cy="359.9" r="2.15"/>
<circle class="gn" cx="232.2" cy="351.9" r="2.15"/>
<circle class="gn" cx="212.8" cy="367.5" r="2.15"/>
<circle class="gn" cx="237.6" cy="369.9" r="2.15"/>
<circle class="gn" cx="222.3" cy="391.8" r="2.15"/>
<circle class="or" cx="193.6" cy="378.9" r="2.15"/>
<circle class="gn" cx="219.8" cy="368.2" r="2.15"/>
<circle class="gn" cx="214.8" cy="396.2" r="2.15"/>
<circle class="gn" cx="214.7" cy="381.3" r="2.15"/>
<circle class="gn" cx="222.3" cy="393.4" r="2.15"/>
<circle class="or" cx="186.6" cy="392.4" r="2.15"/>
<circle class="or" cx="195.8" cy="402.6" r="2.15"/>
<circle class="or" cx="188.6" cy="381.4" r="2.15"/>
<circle class="gn" cx="220.6" cy="379.9" r="2.15"/>
<circle class="gn" cx="239" cy="381.3" r="2.15"/>
<circle class="gn" cx="231.7" cy="381.6" r="2.15"/>
<circle class="or" cx="192.9" cy="397.9" r="2.15"/>
<circle class="or" cx="195.3" cy="380.6" r="2.15"/>
<circle class="or" cx="198.3" cy="396.8" r="2.15"/>
<circle class="gn" cx="209.8" cy="383.8" r="2.15"/>
<circle class="or" cx="187" cy="365.1" r="2.15"/>
<circle class="or" cx="178.7" cy="367.3" r="2.15"/>
<circle class="or" cx="173.4" cy="378.2" r="2.15"/>
<circle class="gn" cx="216.9" cy="384" r="2.15"/>
<circle class="gn" cx="201" cy="362.5" r="2.15"/>
<circle class="gn" cx="208.5" cy="379.5" r="2.15"/>
<circle class="gn" cx="232.1" cy="355.3" r="2.15"/>
<circle class="or" cx="195.3" cy="399.9" r="2.15"/>
<circle class="gn" cx="220.7" cy="362.4" r="2.15"/>
<circle class="gn" cx="201.9" cy="362.4" r="2.15"/>
<circle class="or" cx="183.1" cy="361.4" r="2.15"/>
<circle class="gn" cx="242.5" cy="368.3" r="2.15"/>
<circle class="gn" cx="217.9" cy="348.1" r="2.15"/>
<circle class="or" cx="188.6" cy="377.8" r="2.15"/>
<circle class="gn" cx="222.8" cy="367" r="2.15"/>
<circle class="or" cx="190.9" cy="387.6" r="2.15"/>
<circle class="gn" cx="228.8" cy="351.5" r="2.15"/>
<circle class="gn" cx="221.9" cy="378.2" r="2.15"/>
<circle class="or" cx="194.7" cy="374.3" r="2.15"/>
<circle class="or" cx="202.4" cy="361.8" r="2.15"/>
<circle class="gn" cx="217.2" cy="360.8" r="2.15"/>
<circle class="gn" cx="237.6" cy="387.1" r="2.15"/>
<circle class="or" cx="188.1" cy="395.5" r="2.15"/>
<circle class="gn" cx="224.5" cy="368.5" r="2.15"/>
<circle class="gn" cx="205.7" cy="384.8" r="2.15"/>
<circle class="or" cx="180.7" cy="389.3" r="2.15"/>
<circle class="or" cx="192.4" cy="354.4" r="2.15"/>
<circle class="or" cx="176.1" cy="401.2" r="2.15"/>
<circle class="gn" cx="207.8" cy="373.1" r="2.15"/>
<circle class="gn" cx="231.4" cy="359" r="2.15"/>
<circle class="gn" cx="230.6" cy="373.6" r="2.15"/>
<circle class="or" cx="191" cy="359.7" r="2.15"/>
<circle class="gn" cx="216.7" cy="360.6" r="2.15"/>
<circle class="or" cx="185.6" cy="359.5" r="2.15"/>
<circle class="or" cx="189.3" cy="404.4" r="2.15"/>
<circle class="or" cx="196.3" cy="381" r="2.15"/>
<circle class="gn" cx="219.7" cy="356.5" r="2.15"/>
<circle class="or" cx="191.5" cy="364.1" r="2.15"/>
<circle class="gn" cx="235.9" cy="348.6" r="2.15"/>
<circle class="or" cx="204.6" cy="391.3" r="2.15"/>
<circle class="gn" cx="206.9" cy="366" r="2.15"/>
<circle class="gn" cx="231.4" cy="371.7" r="2.15"/>
<circle class="or" cx="178.7" cy="356.1" r="2.15"/>
<circle class="or" cx="186.4" cy="397.2" r="2.15"/>
<circle class="or" cx="183.7" cy="384.1" r="2.15"/>
<circle class="or" cx="205.9" cy="384.5" r="2.15"/>
<circle class="or" cx="196.8" cy="358.2" r="2.15"/>
<circle class="or" cx="179.9" cy="401.5" r="2.15"/>
<circle class="or" cx="204" cy="327" r="2.15"/>
<circle class="or" cx="194.9" cy="385.5" r="2.15"/>
<circle class="gn" cx="217" cy="379.1" r="2.15"/>
<circle class="gn" cx="231.3" cy="350.7" r="2.15"/>
<circle class="gn" cx="216.7" cy="368" r="2.15"/>
<circle class="gn" cx="207.1" cy="377" r="2.15"/>
<circle class="gn" cx="217.5" cy="369.3" r="2.15"/>
<circle class="or" cx="197.5" cy="402.2" r="2.15"/>
<circle class="or" cx="204.5" cy="380.9" r="2.15"/>
<circle class="or" cx="194.9" cy="376.1" r="2.15"/>
<circle class="or" cx="178.3" cy="378.3" r="2.15"/>
<circle class="gn" cx="228.3" cy="360.4" r="2.15"/>
<circle class="or" cx="202.1" cy="363.4" r="2.15"/>
<circle class="or" cx="205.1" cy="364.9" r="2.15"/>
<circle class="or" cx="182.8" cy="376.1" r="2.15"/>
<circle class="gn" cx="201.6" cy="383.9" r="2.15"/>
<circle class="or" cx="188.8" cy="408.3" r="2.15"/>
<circle class="or" cx="180.9" cy="393" r="2.15"/>
<circle class="or" cx="197.1" cy="409.9" r="2.15"/>
<circle class="or" cx="199.6" cy="401" r="2.15"/>
<circle class="gn" cx="231.5" cy="393.7" r="2.15"/>
<circle class="gn" cx="212.2" cy="375.5" r="2.15"/>
<circle class="gn" cx="220.1" cy="393.3" r="2.15"/>
<circle class="or" cx="180.7" cy="375.5" r="2.15"/>
<circle class="gn" cx="224.1" cy="372.4" r="2.15"/>
<circle class="or" cx="187.3" cy="367.9" r="2.15"/>
<circle class="gn" cx="215.8" cy="401.4" r="2.15"/>
<circle class="or" cx="202.3" cy="382.7" r="2.15"/>
<circle class="or" cx="191.6" cy="393" r="2.15"/>
<circle class="gn" cx="214.9" cy="378.4" r="2.15"/>
<circle class="gn" cx="230.8" cy="375.9" r="2.15"/>
<circle class="or" cx="177" cy="384.7" r="2.15"/>
<circle class="gn" cx="231.4" cy="374.1" r="2.15"/>
<circle class="or" cx="183" cy="402.4" r="2.15"/>
<circle class="gn" cx="220.8" cy="389.3" r="2.15"/>
<circle class="gn" cx="223.8" cy="396.6" r="2.15"/>
<circle class="or" cx="188.7" cy="384.8" r="2.15"/>
<circle class="gn" cx="218.6" cy="379.6" r="2.15"/>
<circle class="gn" cx="220.3" cy="357.2" r="2.15"/>
<circle class="gn" cx="228.9" cy="392.1" r="2.15"/>
<circle class="or" cx="181.2" cy="399.6" r="2.15"/>
<circle class="gn" cx="227.2" cy="389.4" r="2.15"/>
<circle class="or" cx="178.7" cy="372.7" r="2.15"/>
<circle class="gn" cx="217.3" cy="379.5" r="2.15"/>
<circle class="gn" cx="216.5" cy="391.2" r="2.15"/>
<circle class="or" cx="182.7" cy="362.9" r="2.15"/>
<circle class="or" cx="202.2" cy="380.9" r="2.15"/>
<circle class="or" cx="195.3" cy="366.3" r="2.15"/>
<circle class="or" cx="199.4" cy="400.3" r="2.15"/>
<circle class="gn" cx="225.7" cy="372.9" r="2.15"/>
<circle class="or" cx="182" cy="390" r="2.15"/>
<circle class="or" cx="188.2" cy="395.7" r="2.15"/>
<circle class="gn" cx="206.8" cy="372.5" r="2.15"/>
<circle class="or" cx="185.1" cy="375" r="2.15"/>
<circle class="or" cx="197" cy="356.2" r="2.15"/>
<circle class="gn" cx="206.6" cy="387.1" r="2.15"/>
<circle class="gn" cx="223.5" cy="340.7" r="2.15"/>
<circle class="or" cx="184.9" cy="377.9" r="2.15"/>
<circle class="or" cx="206.4" cy="393.1" r="2.15"/>
<circle class="gn" cx="217.4" cy="359.3" r="2.15"/>
<circle class="gn" cx="235.5" cy="358.3" r="2.15"/>
<circle class="gn" cx="235.5" cy="360.1" r="2.15"/>
<circle class="gn" cx="200.8" cy="363.4" r="2.15"/>
<circle class="gn" cx="234.5" cy="391.3" r="2.15"/>
<circle class="gn" cx="206.9" cy="385.7" r="2.15"/>
<circle class="or" cx="180" cy="390.3" r="2.15"/>
<circle class="or" cx="199.5" cy="392.8" r="2.15"/>
<circle class="gn" cx="220" cy="340" r="2.15"/>
<circle class="gn" cx="210.7" cy="389.6" r="2.15"/>
<circle class="or" cx="187.1" cy="358.7" r="2.15"/>
<circle class="or" cx="198.7" cy="374.4" r="2.15"/>
<circle class="gn" cx="224.4" cy="388.3" r="2.15"/>
<circle class="gn" cx="212.3" cy="397.7" r="2.15"/>
<circle class="gn" cx="213.6" cy="364.6" r="2.15"/>
<circle class="or" cx="181.2" cy="401.7" r="2.15"/>
<circle class="gn" cx="215" cy="363" r="2.15"/>
<circle class="or" cx="205.2" cy="363.9" r="2.15"/>
<circle class="gn" cx="202.8" cy="349.3" r="2.15"/>
<circle class="gn" cx="219.2" cy="351.7" r="2.15"/>
<circle class="or" cx="202.4" cy="384.5" r="2.15"/>
<circle class="or" cx="185.8" cy="394.9" r="2.15"/>
<circle class="gn" cx="225.6" cy="390.7" r="2.15"/>
<circle class="or" cx="182.9" cy="363.7" r="2.15"/>
<circle class="or" cx="196.5" cy="334.7" r="2.15"/>
<circle class="or" cx="207.1" cy="391.7" r="2.15"/>
<circle class="or" cx="180.3" cy="410.2" r="2.15"/>
<circle class="or" cx="177.6" cy="379.1" r="2.15"/>
<circle class="gn" cx="232" cy="381.3" r="2.15"/>
<circle class="gn" cx="222.9" cy="404.6" r="2.15"/>
<circle class="or" cx="182.9" cy="379" r="2.15"/>
<circle class="or" cx="192.7" cy="403.5" r="2.15"/>
<circle class="or" cx="206.7" cy="383.4" r="2.15"/>
<circle class="or" cx="189" cy="390.9" r="2.15"/>
<circle class="or" cx="182.7" cy="376.8" r="2.15"/>
<circle class="gn" cx="231.5" cy="361.9" r="2.15"/>
<circle class="or" cx="199.3" cy="397.4" r="2.15"/>
<circle class="or" cx="193.5" cy="356.6" r="2.15"/>
<circle class="gn" cx="233.7" cy="396" r="2.15"/>
<circle class="gn" cx="238.6" cy="367.6" r="2.15"/>
<circle class="or" cx="191.2" cy="397.5" r="2.15"/>
<circle class="gn" cx="228.4" cy="367.9" r="2.15"/>
<circle class="or" cx="189.6" cy="367.8" r="2.15"/>
<circle class="gn" cx="219.8" cy="391.9" r="2.15"/>
<circle class="gn" cx="212.6" cy="368.5" r="2.15"/>
<circle class="gn" cx="232.7" cy="382.2" r="2.15"/>
<circle class="or" cx="198.4" cy="383.7" r="2.15"/>
<circle class="or" cx="181.1" cy="385.9" r="2.15"/>
<circle class="or" cx="187.5" cy="398.3" r="2.15"/>
<circle class="gn" cx="228.4" cy="366.4" r="2.15"/>
<circle class="or" cx="178.4" cy="399" r="2.15"/>
<circle class="or" cx="195" cy="390.6" r="2.15"/>
<circle class="or" cx="185.7" cy="373.2" r="2.15"/>
<circle class="gn" cx="204.1" cy="390.5" r="2.15"/>
<circle class="gn" cx="235.4" cy="384.6" r="2.15"/>
<circle class="or" cx="191.8" cy="405.6" r="2.15"/>
<circle class="or" cx="188.7" cy="402.1" r="2.15"/>
<circle class="gn" cx="226.6" cy="346.9" r="2.15"/>
<circle class="gn" cx="217.1" cy="374.1" r="2.15"/>
<circle class="gn" cx="230.5" cy="359" r="2.15"/>
<circle class="or" cx="198.1" cy="395.4" r="2.15"/>
<circle class="or" cx="191.4" cy="392.2" r="2.15"/>
<circle class="or" cx="171.1" cy="379.1" r="2.15"/>
<circle class="gn" cx="232.3" cy="364.8" r="2.15"/>
<circle class="gn" cx="235.8" cy="354.3" r="2.15"/>
<circle class="gn" cx="242.7" cy="371.9" r="2.15"/>
<circle class="gn" cx="210.8" cy="393.3" r="2.15"/>
<circle class="gn" cx="207.5" cy="366.7" r="2.15"/>
<circle class="or" cx="190.5" cy="365.6" r="2.15"/>
<circle class="gn" cx="218.6" cy="367" r="2.15"/>
<circle class="or" cx="180.9" cy="384.4" r="2.15"/>
<circle class="gn" cx="217" cy="397.5" r="2.15"/>
<circle class="gn" cx="195.8" cy="372.1" r="2.15"/>
<circle class="or" cx="195.3" cy="385.8" r="2.15"/>
<circle class="or" cx="193.7" cy="372.8" r="2.15"/>
<circle class="or" cx="180.4" cy="394.3" r="2.15"/>
<circle class="or" cx="182.3" cy="379.6" r="2.15"/>
<circle class="or" cx="205.8" cy="401.8" r="2.15"/>
<circle class="or" cx="202.8" cy="395.7" r="2.15"/>
<circle class="or" cx="195.7" cy="402.5" r="2.15"/>
<circle class="or" cx="183.2" cy="382.4" r="2.15"/>
<circle class="gn" cx="221.2" cy="377" r="2.15"/>
<circle class="or" cx="186.1" cy="380.5" r="2.15"/>
<circle class="or" cx="197.5" cy="370.9" r="2.15"/>
<circle class="or" cx="177.4" cy="421" r="2.15"/>
<circle class="or" cx="178.4" cy="407.9" r="2.15"/>
<circle class="or" cx="194.8" cy="355.1" r="2.15"/>
<circle class="or" cx="204.9" cy="383.9" r="2.15"/>
<circle class="gn" cx="213.6" cy="386.7" r="2.15"/>
<circle class="or" cx="186.8" cy="392.1" r="2.15"/>
<circle class="gn" cx="221.5" cy="371.3" r="2.15"/>
<circle class="or" cx="202" cy="373.8" r="2.15"/>
<circle class="or" cx="186" cy="376.9" r="2.15"/>
<circle class="gn" cx="224.8" cy="365.6" r="2.15"/>
<circle class="or" cx="187.4" cy="370.2" r="2.15"/>
<circle class="or" cx="195" cy="377.7" r="2.15"/>
<circle class="gn" cx="217.5" cy="374.9" r="2.15"/>
<circle class="or" cx="187.7" cy="393.7" r="2.15"/>
<circle class="or" cx="189.9" cy="405.1" r="2.15"/>
<circle class="gn" cx="233.5" cy="384.9" r="2.15"/>
<circle class="gn" cx="217.1" cy="373.8" r="2.15"/>
<circle class="or" cx="209.4" cy="392.2" r="2.15"/>
<circle class="or" cx="195.4" cy="384.8" r="2.15"/>
<circle class="gn" cx="210" cy="353.7" r="2.15"/>
<circle class="or" cx="185" cy="412" r="2.15"/>
<circle class="or" cx="179.3" cy="391" r="2.15"/>
<circle class="or" cx="203.7" cy="389.1" r="2.15"/>
<circle class="gn" cx="216.6" cy="377.8" r="2.15"/>
<circle class="or" cx="198" cy="393" r="2.15"/>
<circle class="or" cx="191.9" cy="360.4" r="2.15"/>
<circle class="gn" cx="227.1" cy="357.1" r="2.15"/>
<circle class="or" cx="180.4" cy="373.5" r="2.15"/>
<circle class="gn" cx="208" cy="390.8" r="2.15"/>
<circle class="or" cx="197.3" cy="385.2" r="2.15"/>
<circle class="gn" cx="230.1" cy="361.7" r="2.15"/>
<circle class="gn" cx="196.1" cy="375.7" r="2.15"/>
<circle class="or" cx="201.4" cy="364.7" r="2.15"/>
<circle class="gn" cx="204.8" cy="364.5" r="2.15"/>
<circle class="or" cx="204.3" cy="363.3" r="2.15"/>
<circle class="gn" cx="212.6" cy="358.8" r="2.15"/>
<circle class="or" cx="184.6" cy="405.3" r="2.15"/>
<circle class="gn" cx="218.4" cy="382.7" r="2.15"/>
<circle class="or" cx="186.6" cy="372.7" r="2.15"/>
<circle class="gn" cx="236.3" cy="387.8" r="2.15"/>
<circle class="gn" cx="218.8" cy="356.1" r="2.15"/>
<circle class="gn" cx="221.5" cy="360.8" r="2.15"/>
<circle class="or" cx="201.2" cy="380.6" r="2.15"/>
<circle class="or" cx="197.8" cy="392.8" r="2.15"/>
<circle class="gn" cx="202.3" cy="366.4" r="2.15"/>
<circle class="or" cx="189.2" cy="382.4" r="2.15"/>
<circle class="gn" cx="233.2" cy="384.9" r="2.15"/>
<circle class="or" cx="200.6" cy="372.8" r="2.15"/>
<circle class="or" cx="190.9" cy="354.7" r="2.15"/>
<circle class="or" cx="191.4" cy="350.8" r="2.15"/>
<circle class="gn" cx="199.9" cy="386.4" r="2.15"/>
<circle class="gn" cx="213.1" cy="356.7" r="2.15"/>
<circle class="or" cx="203" cy="398.9" r="2.15"/>
<circle class="gn" cx="230.6" cy="382.3" r="2.15"/>
<circle class="gn" cx="212.2" cy="363.4" r="2.15"/>
<circle class="gn" cx="230.2" cy="388.8" r="2.15"/>
<circle class="or" cx="191" cy="383" r="2.15"/>
<circle class="or" cx="193.7" cy="354.8" r="2.15"/>
<circle class="or" cx="192.1" cy="414.3" r="2.15"/>
<circle class="or" cx="182" cy="401.5" r="2.15"/>
<circle class="gn" cx="233" cy="366.5" r="2.15"/>
<circle class="or" cx="182.2" cy="382.1" r="2.15"/>
<circle class="or" cx="183.5" cy="376.4" r="2.15"/>
<circle class="gn" cx="223.8" cy="348" r="2.15"/>
<circle class="or" cx="208.7" cy="384.2" r="2.15"/>
<circle class="gn" cx="214.2" cy="382.9" r="2.15"/>
<circle class="or" cx="206.6" cy="367.4" r="2.15"/>
<circle class="or" cx="195.5" cy="384.1" r="2.15"/>
<circle class="or" cx="185" cy="356.5" r="2.15"/>
<circle class="or" cx="171.9" cy="391.4" r="2.15"/>
<circle class="gn" cx="235.7" cy="381.9" r="2.15"/>
<circle class="gn" cx="218.6" cy="364.4" r="2.15"/>
<circle class="gn" cx="208.8" cy="363.7" r="2.15"/>
<circle class="or" cx="193.6" cy="407.6" r="2.15"/>
<circle class="gn" cx="215.9" cy="356.1" r="2.15"/>
<circle class="or" cx="189.1" cy="398.2" r="2.15"/>
<circle class="gn" cx="229.9" cy="360.1" r="2.15"/>
<circle class="gn" cx="226.7" cy="362.1" r="2.15"/>
<circle class="or" cx="202.2" cy="404" r="2.15"/>
<circle class="gn" cx="227.3" cy="363.6" r="2.15"/>
<circle class="gn" cx="215.6" cy="372.2" r="2.15"/>
<circle class="or" cx="182.6" cy="381.4" r="2.15"/>
<circle class="gn" cx="216" cy="374.9" r="2.15"/>
<circle class="or" cx="184.5" cy="389.8" r="2.15"/>
<circle class="gn" cx="216.7" cy="370.9" r="2.15"/>
<circle class="or" cx="197.3" cy="389" r="2.15"/>
<circle class="or" cx="195.9" cy="367.6" r="2.15"/>
<circle class="gn" cx="209.2" cy="395.6" r="2.15"/>
<circle class="gn" cx="208.4" cy="393.2" r="2.15"/>
<circle class="or" cx="180.8" cy="398.9" r="2.15"/>
<circle class="gn" cx="223.7" cy="367.2" r="2.15"/>
<circle class="or" cx="175.5" cy="366" r="2.15"/>
<circle class="gn" cx="227.6" cy="386.6" r="2.15"/>
<circle class="gn" cx="217.5" cy="358.7" r="2.15"/>
<circle class="gn" cx="213.9" cy="379.2" r="2.15"/>
<circle class="gn" cx="221" cy="376.9" r="2.15"/>
<circle class="or" cx="189.2" cy="367.4" r="2.15"/>
<circle class="gn" cx="236.7" cy="364.2" r="2.15"/>
<circle class="or" cx="183.9" cy="411.3" r="2.15"/>
<circle class="or" cx="187.1" cy="363.4" r="2.15"/>
<circle class="gn" cx="236.5" cy="361" r="2.15"/>
<circle class="gn" cx="209.6" cy="376.1" r="2.15"/>
<circle class="or" cx="202.2" cy="390.2" r="2.15"/>
<circle class="gn" cx="231" cy="342.6" r="2.15"/>
<circle class="gn" cx="242.1" cy="373.5" r="2.15"/>
<circle class="gn" cx="222.9" cy="374.1" r="2.15"/>
<circle class="gn" cx="208.8" cy="347" r="2.15"/>
<circle class="gn" cx="232.1" cy="355.7" r="2.15"/>
<circle class="or" cx="182.8" cy="399.5" r="2.15"/>
<circle class="or" cx="204.1" cy="363.4" r="2.15"/>
<circle class="gn" cx="220.9" cy="400.3" r="2.15"/>
<circle class="gn" cx="210.9" cy="378.7" r="2.15"/>
<circle class="or" cx="211.5" cy="362.5" r="2.15"/>
<circle class="or" cx="199.5" cy="399.1" r="2.15"/>
<circle class="gn" cx="213.2" cy="353.6" r="2.15"/>
<circle class="or" cx="191.2" cy="393.4" r="2.15"/>
<circle class="gn" cx="208.4" cy="357.2" r="2.15"/>
<circle class="or" cx="191.6" cy="396.5" r="2.15"/>
<circle class="or" cx="196.3" cy="382.1" r="2.15"/>
<circle class="gn" cx="203.6" cy="362.5" r="2.15"/>
<circle class="or" cx="191.3" cy="376.7" r="2.15"/>
<circle class="or" cx="180" cy="400.5" r="2.15"/>
<circle class="or" cx="181.6" cy="389.4" r="2.15"/>
<circle class="or" cx="185.8" cy="398.1" r="2.15"/>
<circle class="gn" cx="231.6" cy="378.4" r="2.15"/>
<circle class="gn" cx="201.1" cy="384.9" r="2.15"/>
<circle class="or" cx="203.9" cy="366.5" r="2.15"/>
<circle class="gn" cx="212.8" cy="376" r="2.15"/>
<circle class="or" cx="197.4" cy="382.2" r="2.15"/>
<circle class="gn" cx="207.7" cy="382.1" r="2.15"/>
<circle class="or" cx="198.1" cy="401.9" r="2.15"/>
<circle class="or" cx="187.4" cy="401.6" r="2.15"/>
<circle class="or" cx="176.1" cy="368.7" r="2.15"/>
<circle class="gn" cx="231.4" cy="391.5" r="2.15"/>
<circle class="gn" cx="237" cy="375.5" r="2.15"/>
<circle class="gn" cx="203.8" cy="362.5" r="2.15"/>
<circle class="gn" cx="228.7" cy="347.9" r="2.15"/>
<circle class="gn" cx="209.8" cy="363.5" r="2.15"/>
<circle class="or" cx="193.3" cy="361.4" r="2.15"/>
<circle class="gn" cx="217.5" cy="375.6" r="2.15"/>
<circle class="gn" cx="200.1" cy="376.6" r="2.15"/>
<circle class="or" cx="186.9" cy="366.2" r="2.15"/>
<circle class="or" cx="184.2" cy="368.6" r="2.15"/>
<circle class="or" cx="181.7" cy="370.7" r="2.15"/>
<circle class="gn" cx="217.4" cy="378.9" r="2.15"/>
<circle class="or" cx="182.5" cy="375.7" r="2.15"/>
<circle class="or" cx="195" cy="380.8" r="2.15"/>
<circle class="gn" cx="208.3" cy="380.2" r="2.15"/>
<circle class="or" cx="194" cy="404.4" r="2.15"/>
<circle class="gn" cx="213.5" cy="364.5" r="2.15"/>
<circle class="gn" cx="237.6" cy="373.6" r="2.15"/>
<circle class="or" cx="207.5" cy="384.2" r="2.15"/>
<circle class="or" cx="193.2" cy="389.7" r="2.15"/>
<circle class="or" cx="188.6" cy="369.6" r="2.15"/>
<circle class="gn" cx="236.1" cy="377.3" r="2.15"/>
<circle class="gn" cx="228" cy="384.7" r="2.15"/>
<circle class="or" cx="202.8" cy="376.8" r="2.15"/>
<circle class="gn" cx="219.5" cy="372.3" r="2.15"/>
<circle class="gn" cx="216.3" cy="346.2" r="2.15"/>
<circle class="gn" cx="224.3" cy="348.8" r="2.15"/>
<circle class="or" cx="190.1" cy="390.6" r="2.15"/>
<circle class="gn" cx="227.4" cy="356.6" r="2.15"/>
<circle class="gn" cx="212.9" cy="367.7" r="2.15"/>
<circle class="or" cx="188.8" cy="364.9" r="2.15"/>
<circle class="or" cx="202.1" cy="382.9" r="2.15"/>
<circle class="or" cx="190.5" cy="377.7" r="2.15"/>
<circle class="gn" cx="207.4" cy="374.4" r="2.15"/>
<circle class="gn" cx="213.5" cy="373.8" r="2.15"/>
<circle class="gn" cx="235.6" cy="349.3" r="2.15"/>
<circle class="gn" cx="239" cy="361.1" r="2.15"/>
<circle class="gn" cx="234.8" cy="355.2" r="2.15"/>
<circle class="or" cx="195.2" cy="361.2" r="2.15"/>
<circle class="gn" cx="201.5" cy="376.5" r="2.15"/>
<circle class="or" cx="194.9" cy="387.6" r="2.15"/>
<circle class="or" cx="208.6" cy="398.3" r="2.15"/>
<circle class="gn" cx="207" cy="388.8" r="2.15"/>
<circle class="or" cx="191.7" cy="355.7" r="2.15"/>
<circle class="or" cx="197.3" cy="378.2" r="2.15"/>
<circle class="or" cx="176.1" cy="388.6" r="2.15"/>
<circle class="or" cx="189.2" cy="408.4" r="2.15"/>
<circle class="or" cx="213.5" cy="383.7" r="2.15"/>
<circle class="gn" cx="204.1" cy="355.2" r="2.15"/>
<circle class="or" cx="189.3" cy="373.3" r="2.15"/>
<circle class="gn" cx="229.2" cy="361.8" r="2.15"/>
<circle class="gn" cx="230.1" cy="349.4" r="2.15"/>
<circle class="or" cx="208.2" cy="391" r="2.15"/>
<circle class="or" cx="206.5" cy="377" r="2.15"/>
<circle class="or" cx="178.4" cy="367.9" r="2.15"/>
<circle class="or" cx="182.4" cy="361.5" r="2.15"/>
<circle class="or" cx="199.1" cy="401.3" r="2.15"/>
<circle class="gn" cx="225.8" cy="384.1" r="2.15"/>
<circle class="or" cx="199.5" cy="365.6" r="2.15"/>
<circle class="gn" cx="232.4" cy="343.3" r="2.15"/>
<circle class="or" cx="206.3" cy="373.1" r="2.15"/>
<circle class="or" cx="185.3" cy="379" r="2.15"/>
<circle class="gn" cx="215.5" cy="353.4" r="2.15"/>
<circle class="gn" cx="228.2" cy="379.6" r="2.15"/>
<circle class="gn" cx="225" cy="341" r="2.15"/>
<circle class="or" cx="194.4" cy="377.9" r="2.15"/>
<circle class="gn" cx="218.5" cy="392.6" r="2.15"/>
<circle class="or" cx="198.6" cy="369.3" r="2.15"/>
<circle class="or" cx="187.1" cy="383.2" r="2.15"/>
<circle class="gn" cx="201.7" cy="367.2" r="2.15"/>
<circle class="or" cx="199.7" cy="365.3" r="2.15"/>
<circle class="gn" cx="248.4" cy="366.2" r="2.15"/>
<circle class="gn" cx="205" cy="373.3" r="2.15"/>
<circle class="gn" cx="220.4" cy="348.9" r="2.15"/>
<circle class="gn" cx="222" cy="379.6" r="2.15"/>
<circle class="or" cx="195.6" cy="386.8" r="2.15"/>
<circle class="or" cx="195.9" cy="379.6" r="2.15"/>
<circle class="gn" cx="241.4" cy="381" r="2.15"/>
<circle class="or" cx="199.7" cy="369.8" r="2.15"/>
<circle class="gn" cx="232.8" cy="356.7" r="2.15"/>
<circle class="or" cx="194.9" cy="385.7" r="2.15"/>
<circle class="or" cx="172.5" cy="379.1" r="2.15"/>
<circle class="or" cx="175" cy="373.5" r="2.15"/>
<circle class="gn" cx="211.2" cy="394.6" r="2.15"/>
<circle class="gn" cx="219.6" cy="372.2" r="2.15"/>
<circle class="gn" cx="215.8" cy="347.8" r="2.15"/>
<circle class="or" cx="192.9" cy="391.8" r="2.15"/>
<circle class="or" cx="189.5" cy="371.8" r="2.15"/>
<circle class="gn" cx="241" cy="347" r="2.15"/>
<circle class="gn" cx="247.2" cy="370.7" r="2.15"/>
<circle class="gn" cx="226.2" cy="380.4" r="2.15"/>
<circle class="or" cx="201.9" cy="391.2" r="2.15"/>
<circle class="or" cx="189.9" cy="367.8" r="2.15"/>
<circle class="gn" cx="227.6" cy="392.6" r="2.15"/>
<circle class="gn" cx="228.5" cy="366.1" r="2.15"/>
<circle class="gn" cx="215.1" cy="356" r="2.15"/>
<circle class="gn" cx="203.1" cy="364.6" r="2.15"/>
<circle class="or" cx="187.6" cy="357.8" r="2.15"/>
<circle class="gn" cx="217.3" cy="384.2" r="2.15"/>
<circle class="gn" cx="210.8" cy="364.1" r="2.15"/>
<circle class="gn" cx="219.9" cy="353.7" r="2.15"/>
<circle class="gn" cx="228.3" cy="403.2" r="2.15"/>
<circle class="gn" cx="223.1" cy="361.9" r="2.15"/>
<circle class="gn" cx="239.6" cy="375.5" r="2.15"/>
<circle class="gn" cx="227.6" cy="384.4" r="2.15"/>
<circle class="gn" cx="224.6" cy="363.7" r="2.15"/>
<circle class="gn" cx="225.4" cy="347.4" r="2.15"/>
<circle class="gn" cx="224.8" cy="369.1" r="2.15"/>
<polygon class="gns" points="225.8,380.6 226.5,382.5 228.6,382.6 227,383.9 227.5,385.8 225.8,384.7 224.1,385.8 224.6,383.9 223,382.6 225.1,382.5"/>
<polygon class="gns" points="201.1,391.9 201.8,393.8 203.8,393.9 202.2,395.1 202.8,397.1 201.1,396 199.4,397.1 199.9,395.1 198.3,393.9 200.4,393.8"/>
<circle class="gn" cx="199.3" cy="350.3" r="2.15"/>
<circle class="or" cx="202.7" cy="374.4" r="2.15"/>
<circle class="or" cx="195.4" cy="406.8" r="2.15"/>
<circle class="or" cx="205.3" cy="378.8" r="2.15"/>
<circle class="gn" cx="235.6" cy="388.7" r="2.15"/>
<polygon class="ors" points="188.5,383.3 189.2,385.2 191.2,385.3 189.6,386.5 190.2,388.5 188.5,387.4 186.8,388.5 187.3,386.5 185.7,385.3 187.8,385.2"/>
<circle class="or" cx="175.5" cy="365.4" r="2.15"/>
<circle class="or" cx="207.7" cy="392.6" r="2.15"/>
<circle class="gn" cx="209.1" cy="388.5" r="2.15"/>
<circle class="gn" cx="236.8" cy="371.5" r="2.15"/>
<circle class="or" cx="181.5" cy="396.7" r="2.15"/>
<polygon class="ors" points="180.9,386.4 181.6,388.4 183.6,388.4 182,389.7 182.6,391.7 180.9,390.6 179.1,391.7 179.7,389.7 178.1,388.4 180.1,388.4"/>
<circle class="or" cx="205.1" cy="375.8" r="2.15"/>
<polygon class="gns" points="231.1,390.9 231.8,392.9 233.8,393 232.2,394.2 232.8,396.2 231.1,395.1 229.4,396.2 229.9,394.2 228.3,393 230.3,392.9"/>
<circle class="or" cx="185.4" cy="359.7" r="2.15"/>
<polygon class="gns" points="220.7,404.1 221.4,406 223.5,406.1 221.9,407.4 222.4,409.3 220.7,408.2 219,409.3 219.5,407.4 217.9,406.1 220,406"/>
<polygon class="gns" points="201.1,381.6 201.8,383.5 203.9,383.6 202.3,384.8 202.8,386.8 201.1,385.7 199.4,386.8 200,384.8 198.4,383.6 200.4,383.5"/>
<circle class="gn" cx="239.1" cy="350.5" r="2.15"/>
<circle class="gn" cx="206.3" cy="372.5" r="2.15"/>
<polygon class="ors" points="194.7,384.9 195.4,386.8 197.5,386.9 195.9,388.2 196.4,390.2 194.7,389 193,390.2 193.5,388.2 191.9,386.9 194,386.8"/>
<polygon class="gns" points="234.7,385.8 235.4,387.7 237.5,387.8 235.9,389.1 236.4,391 234.7,389.9 233,391 233.6,389.1 232,387.8 234,387.7"/>
<circle class="gn" cx="231" cy="390.3" r="2.15"/>
<circle class="gn" cx="213.3" cy="357" r="2.15"/>
<circle class="gn" cx="211.6" cy="367" r="2.15"/>
<polygon class="gns" points="217.5,389.7 218.2,391.7 220.3,391.8 218.7,393 219.2,395 217.5,393.9 215.8,395 216.4,393 214.8,391.8 216.8,391.7"/>
<polygon class="ors" points="198.2,376.9 198.9,378.8 200.9,378.9 199.3,380.2 199.9,382.1 198.2,381 196.5,382.1 197,380.2 195.4,378.9 197.4,378.8"/>
<polygon class="ors" points="200.1,377.5 200.8,379.4 202.8,379.5 201.2,380.8 201.8,382.8 200.1,381.7 198.4,382.8 198.9,380.8 197.3,379.5 199.3,379.4"/>
<polygon class="gns" points="217.6,369.4 218.3,371.3 220.3,371.4 218.7,372.7 219.3,374.6 217.6,373.5 215.8,374.6 216.4,372.7 214.8,371.4 216.8,371.3"/>
<polygon class="gns" points="241.4,383.8 242.1,385.7 244.1,385.8 242.5,387 243.1,389 241.4,387.9 239.7,389 240.2,387 238.6,385.8 240.6,385.7"/>
<circle class="or" cx="190" cy="414" r="2.15"/>
<polygon class="gns" points="201.1,365.5 201.9,367.5 203.9,367.5 202.3,368.8 202.9,370.8 201.1,369.7 199.4,370.8 200,368.8 198.4,367.5 200.4,367.5"/>
<circle class="gn" cx="214.6" cy="366.1" r="2.15"/>
<polygon class="gns" points="243.6,372.5 244.3,374.4 246.4,374.5 244.8,375.8 245.3,377.7 243.6,376.6 241.9,377.7 242.4,375.8 240.8,374.5 242.9,374.4"/>
<polygon class="ors" points="185.8,363.1 186.5,365 188.6,365.1 187,366.3 187.5,368.3 185.8,367.2 184.1,368.3 184.6,366.3 183,365.1 185.1,365"/>
<circle class="or" cx="207.8" cy="377.5" r="2.15"/>
<polygon class="gns" points="212.8,387.2 213.5,389.1 215.5,389.2 213.9,390.5 214.5,392.5 212.8,391.3 211.1,392.5 211.6,390.5 210,389.2 212.1,389.1"/>
<circle class="gn" cx="206.4" cy="368.3" r="2.15"/>
<polygon class="gns" points="214.6,373.8 215.4,375.7 217.4,375.8 215.8,377.1 216.3,379 214.6,377.9 212.9,379 213.5,377.1 211.9,375.8 213.9,375.7"/>
<circle class="gn" cx="240.4" cy="380.6" r="2.15"/>
<circle class="or" cx="179.3" cy="389.6" r="2.15"/>
<polygon class="ors" points="193.4,357.5 194.1,359.5 196.1,359.5 194.5,360.8 195.1,362.8 193.4,361.7 191.7,362.8 192.2,360.8 190.6,359.5 192.7,359.5"/>
<polygon class="gns" points="204.5,370.6 205.2,372.5 207.3,372.6 205.7,373.9 206.2,375.8 204.5,374.7 202.8,375.8 203.3,373.9 201.7,372.6 203.8,372.5"/>
<polygon class="gns" points="200.6,380.4 201.3,382.3 203.3,382.4 201.7,383.7 202.3,385.7 200.6,384.5 198.9,385.7 199.4,383.7 197.8,382.4 199.9,382.3"/>
<polygon class="gns" points="235.6,379.7 236.3,381.6 238.4,381.7 236.8,382.9 237.3,384.9 235.6,383.8 233.9,384.9 234.5,382.9 232.9,381.7 234.9,381.6"/>
<polygon class="gns" points="216.3,381.6 217,383.5 219,383.6 217.4,384.9 218,386.8 216.3,385.7 214.6,386.8 215.1,384.9 213.5,383.6 215.6,383.5"/>
<circle class="or" cx="190.4" cy="348.5" r="2.15"/>
<circle class="gn" cx="226.2" cy="358.2" r="2.15"/>
<polygon class="ors" points="186,385.7 186.7,387.6 188.8,387.7 187.2,389 187.7,390.9 186,389.8 184.3,390.9 184.9,389 183.3,387.7 185.3,387.6"/>
<polygon class="gns" points="221,374.9 221.7,376.9 223.8,376.9 222.2,378.2 222.7,380.2 221,379.1 219.3,380.2 219.9,378.2 218.3,376.9 220.3,376.9"/>
<circle class="gn" cx="214.8" cy="369.5" r="2.15"/>
<polygon class="ors" points="185.3,381.2 186,383.1 188.1,383.2 186.5,384.5 187,386.4 185.3,385.3 183.6,386.4 184.1,384.5 182.5,383.2 184.6,383.1"/>
<polygon class="gns" points="208,405.6 208.7,407.5 210.8,407.6 209.2,408.9 209.7,410.8 208,409.7 206.3,410.8 206.8,408.9 205.2,407.6 207.3,407.5"/>
<circle class="or" cx="195.7" cy="401.7" r="2.15"/>
<circle class="or" cx="205.4" cy="387.7" r="2.15"/>
<polygon class="ors" points="179.6,374.8 180.4,376.7 182.4,376.8 180.8,378.1 181.3,380 179.6,378.9 177.9,380 178.5,378.1 176.9,376.8 178.9,376.7"/>
<circle class="gn" cx="216.6" cy="379.2" r="2.15"/>
<circle class="or" cx="184.7" cy="363.3" r="2.15"/>
<circle class="or" cx="192.4" cy="361.6" r="2.15"/>
<polygon class="ors" points="180.7,385.5 181.5,387.4 183.5,387.5 181.9,388.8 182.5,390.7 180.7,389.6 179,390.7 179.6,388.8 178,387.5 180,387.4"/>
<polygon class="gns" points="228,392.1 228.7,394 230.8,394.1 229.2,395.4 229.7,397.3 228,396.2 226.3,397.3 226.9,395.4 225.3,394.1 227.3,394"/>
<polygon class="gns" points="236.7,385.7 237.4,387.6 239.4,387.7 237.8,389 238.4,390.9 236.7,389.8 235,390.9 235.5,389 233.9,387.7 235.9,387.6"/>
<circle class="gn" cx="209.8" cy="357.9" r="2.15"/>
<polygon class="ors" points="195.9,383.6 196.6,385.5 198.7,385.6 197.1,386.9 197.6,388.8 195.9,387.7 194.2,388.8 194.8,386.9 193.2,385.6 195.2,385.5"/>
<polygon class="ors" points="181.6,354.3 182.3,356.3 184.3,356.3 182.7,357.6 183.3,359.6 181.6,358.5 179.9,359.6 180.4,357.6 178.8,356.3 180.9,356.3"/>
<circle class="or" cx="171.3" cy="391.3" r="2.15"/>
<circle class="gn" cx="228.9" cy="384.1" r="2.15"/>
<polygon class="gns" points="217.2,383.9 217.9,385.8 220,385.9 218.4,387.1 218.9,389.1 217.2,388 215.5,389.1 216.1,387.1 214.5,385.9 216.5,385.8"/>
<circle class="gn" cx="239" cy="357" r="2.15"/>
<circle class="gn" cx="223.7" cy="385.7" r="2.15"/>
<polygon class="ors" points="184.4,371.4 185.1,373.3 187.1,373.4 185.5,374.7 186.1,376.6 184.4,375.5 182.7,376.6 183.2,374.7 181.6,373.4 183.7,373.3"/>
<polygon class="gns" points="209.2,379.8 210,381.7 212,381.8 210.4,383 211,385 209.2,383.9 207.5,385 208.1,383 206.5,381.8 208.5,381.7"/>
<polygon class="ors" points="196.2,355.4 197,357.3 199,357.4 197.4,358.7 197.9,360.7 196.2,359.6 194.5,360.7 195.1,358.7 193.5,357.4 195.5,357.3"/>
<polygon class="gns" points="224.3,369.9 225,371.9 227.1,372 225.5,373.2 226,375.2 224.3,374.1 222.6,375.2 223.2,373.2 221.6,372 223.6,371.9"/>
<polygon class="ors" points="197.5,362.8 198.2,364.7 200.3,364.8 198.7,366 199.2,368 197.5,366.9 195.8,368 196.4,366 194.8,364.8 196.8,364.7"/>
<circle class="or" cx="169.6" cy="391.3" r="2.15"/>
<circle class="gn" cx="224.2" cy="367.5" r="2.15"/>
<circle class="gn" cx="215.7" cy="350.8" r="2.15"/>
<polygon class="gns" points="242,352.1 242.7,354 244.8,354.1 243.2,355.4 243.7,357.3 242,356.2 240.3,357.3 240.8,355.4 239.2,354.1 241.3,354"/>
<circle class="gn" cx="211.5" cy="354.1" r="2.15"/>
<circle class="gn" cx="225.2" cy="390.4" r="2.15"/>
<circle class="gn" cx="229.5" cy="352.3" r="2.15"/>
<circle class="or" cx="203.7" cy="370.9" r="2.15"/>
<polygon class="gns" points="222,369.5 222.7,371.5 224.8,371.5 223.2,372.8 223.7,374.8 222,373.7 220.3,374.8 220.8,372.8 219.2,371.5 221.3,371.5"/>
<polygon class="gns" points="214.5,385.2 215.2,387.1 217.2,387.2 215.6,388.5 216.2,390.5 214.5,389.3 212.8,390.5 213.3,388.5 211.7,387.2 213.7,387.1"/>
<polygon class="gns" points="228.8,379.2 229.5,381.2 231.5,381.2 229.9,382.5 230.5,384.5 228.8,383.4 227.1,384.5 227.6,382.5 226,381.2 228.1,381.2"/>
<circle class="gn" cx="223" cy="361.4" r="2.15"/>
<circle class="rd" cx="164.1" cy="351.8" r="2.15"/>
<circle class="rd" cx="171.1" cy="314.3" r="2.15"/>
<circle class="rd" cx="185.7" cy="348.1" r="2.15"/>
<circle class="rd" cx="149.8" cy="309.4" r="2.15"/>
<circle class="rd" cx="174.7" cy="305.5" r="2.15"/>
<circle class="rd" cx="162.1" cy="345.6" r="2.15"/>
<circle class="rd" cx="178.5" cy="353.3" r="2.15"/>
<circle class="rd" cx="161.8" cy="334.8" r="2.15"/>
<circle class="rd" cx="173.6" cy="306.9" r="2.15"/>
<circle class="rd" cx="162.8" cy="339.1" r="2.15"/>
<circle class="rd" cx="179.5" cy="313.6" r="2.15"/>
<circle class="rd" cx="170.9" cy="344.4" r="2.15"/>
<circle class="rd" cx="165.9" cy="319.6" r="2.15"/>
<circle class="rd" cx="179.7" cy="310.9" r="2.15"/>
<circle class="rd" cx="163.9" cy="309.3" r="2.15"/>
<circle class="rd" cx="182.9" cy="333.5" r="2.15"/>
<circle class="rd" cx="167.2" cy="357.1" r="2.15"/>
<circle class="rd" cx="161.3" cy="309.1" r="2.15"/>
<circle class="rd" cx="149.1" cy="306" r="2.15"/>
<circle class="rd" cx="159.2" cy="330.8" r="2.15"/>
<circle class="rd" cx="169.5" cy="327.6" r="2.15"/>
<circle class="rd" cx="165" cy="309.3" r="2.15"/>
<circle class="rd" cx="184" cy="327" r="2.15"/>
<circle class="rd" cx="167.2" cy="308.6" r="2.15"/>
<circle class="rd" cx="145.4" cy="321.7" r="2.15"/>
<circle class="rd" cx="167.1" cy="326.8" r="2.15"/>
<circle class="rd" cx="158.9" cy="334.4" r="2.15"/>
<circle class="rd" cx="155.2" cy="295.6" r="2.15"/>
<circle class="rd" cx="179.8" cy="309.3" r="2.15"/>
<circle class="rd" cx="173.6" cy="330.8" r="2.15"/>
<circle class="rd" cx="183.6" cy="339.3" r="2.15"/>
<circle class="rd" cx="180.6" cy="351" r="2.15"/>
<circle class="rd" cx="167.7" cy="352.6" r="2.15"/>
<circle class="rd" cx="162.4" cy="351" r="2.15"/>
<circle class="rd" cx="171.1" cy="339.6" r="2.15"/>
<circle class="rd" cx="170.3" cy="329.8" r="2.15"/>
<circle class="rd" cx="162.3" cy="355.1" r="2.15"/>
<circle class="rd" cx="168.1" cy="329.3" r="2.15"/>
<circle class="rd" cx="176.2" cy="328.4" r="2.15"/>
<circle class="rd" cx="151.8" cy="323.7" r="2.15"/>
<circle class="rd" cx="179.4" cy="309.4" r="2.15"/>
<circle class="rd" cx="169.9" cy="352" r="2.15"/>
<circle class="rd" cx="187.6" cy="332.7" r="2.15"/>
<circle class="rd" cx="171.4" cy="335" r="2.15"/>
<circle class="rd" cx="168.3" cy="308.2" r="2.15"/>
<circle class="rd" cx="155.7" cy="331" r="2.15"/>
<circle class="rd" cx="176.9" cy="346.7" r="2.15"/>
<circle class="rd" cx="163.5" cy="313.4" r="2.15"/>
<circle class="rd" cx="152.8" cy="314.1" r="2.15"/>
<circle class="rd" cx="173.4" cy="320.3" r="2.15"/>
<circle class="rd" cx="160" cy="320.2" r="2.15"/>
<circle class="rd" cx="169.9" cy="306.8" r="2.15"/>
<circle class="rd" cx="180.7" cy="356.8" r="2.15"/>
<circle class="rd" cx="151.1" cy="324.2" r="2.15"/>
<circle class="rd" cx="151.1" cy="304.4" r="2.15"/>
<circle class="rd" cx="154.2" cy="331.7" r="2.15"/>
<circle class="rd" cx="162.5" cy="330.7" r="2.15"/>
<circle class="rd" cx="157.7" cy="337.4" r="2.15"/>
<circle class="rd" cx="175.1" cy="330.5" r="2.15"/>
<circle class="rd" cx="149.7" cy="317.2" r="2.15"/>
<circle class="rd" cx="174.8" cy="330.8" r="2.15"/>
<circle class="rd" cx="162.6" cy="299.8" r="2.15"/>
<circle class="rd" cx="182.9" cy="314.8" r="2.15"/>
<circle class="rd" cx="174.1" cy="335.6" r="2.15"/>
<circle class="rd" cx="177.7" cy="330.9" r="2.15"/>
<circle class="rd" cx="147.8" cy="307.7" r="2.15"/>
<circle class="rd" cx="180.8" cy="324.1" r="2.15"/>
<circle class="rd" cx="149.5" cy="330.1" r="2.15"/>
<circle class="rd" cx="167.8" cy="353.4" r="2.15"/>
<circle class="rd" cx="185.8" cy="336.4" r="2.15"/>
<circle class="rd" cx="151.6" cy="334.4" r="2.15"/>
<circle class="rd" cx="160.3" cy="305.1" r="2.15"/>
<circle class="rd" cx="176.8" cy="321.2" r="2.15"/>
<circle class="rd" cx="186.8" cy="335.9" r="2.15"/>
<circle class="rd" cx="183.5" cy="349.7" r="2.15"/>
<circle class="rd" cx="164.9" cy="352.2" r="2.15"/>
<circle class="rd" cx="148" cy="313.2" r="2.15"/>
<circle class="rd" cx="176.6" cy="343.3" r="2.15"/>
<circle class="rd" cx="167.5" cy="291.3" r="2.15"/>
<circle class="rd" cx="169.4" cy="324.4" r="2.15"/>
<circle class="rd" cx="172.9" cy="353.7" r="2.15"/>
<circle class="rd" cx="169.3" cy="317.5" r="2.15"/>
<circle class="rd" cx="167.5" cy="332.3" r="2.15"/>
<circle class="rd" cx="168.2" cy="343.5" r="2.15"/>
<circle class="rd" cx="171.9" cy="321.9" r="2.15"/>
<circle class="rd" cx="163.4" cy="303.6" r="2.15"/>
<circle class="rd" cx="171" cy="288" r="2.15"/>
<circle class="rd" cx="169.8" cy="307.2" r="2.15"/>
<circle class="rd" cx="149.8" cy="320.8" r="2.15"/>
<circle class="rd" cx="165.7" cy="353.1" r="2.15"/>
<circle class="rd" cx="159.7" cy="329.5" r="2.15"/>
<circle class="rd" cx="155.6" cy="330.4" r="2.15"/>
<circle class="rd" cx="177" cy="345.2" r="2.15"/>
<circle class="rd" cx="177.4" cy="350.6" r="2.15"/>
<circle class="rd" cx="170.9" cy="360.9" r="2.15"/>
<circle class="rd" cx="160.4" cy="321.3" r="2.15"/>
<circle class="rd" cx="178.2" cy="347.5" r="2.15"/>
<circle class="rd" cx="184.2" cy="348.8" r="2.15"/>
<circle class="rd" cx="158.4" cy="315.4" r="2.15"/>
<circle class="rd" cx="170.8" cy="298.3" r="2.15"/>
<circle class="rd" cx="158.3" cy="303.3" r="2.15"/>
<circle class="rd" cx="167.6" cy="293" r="2.15"/>
<circle class="rd" cx="164.7" cy="316.9" r="2.15"/>
<circle class="rd" cx="157.4" cy="291.2" r="2.15"/>
<circle class="rd" cx="150.4" cy="304.3" r="2.15"/>
<circle class="rd" cx="175.6" cy="306.7" r="2.15"/>
<circle class="rd" cx="173.8" cy="333.9" r="2.15"/>
<circle class="rd" cx="158.5" cy="317.9" r="2.15"/>
<circle class="rd" cx="157.4" cy="326.5" r="2.15"/>
<circle class="rd" cx="183" cy="336.9" r="2.15"/>
<circle class="rd" cx="149.4" cy="331.2" r="2.15"/>
<circle class="rd" cx="171" cy="369.7" r="2.15"/>
<circle class="rd" cx="182.5" cy="346" r="2.15"/>
<circle class="rd" cx="174.2" cy="316.5" r="2.15"/>
<circle class="rd" cx="159.2" cy="345.2" r="2.15"/>
<circle class="rd" cx="167.3" cy="316.9" r="2.15"/>
<circle class="rd" cx="181.3" cy="317.8" r="2.15"/>
<circle class="rd" cx="162.5" cy="306" r="2.15"/>
<circle class="rd" cx="173.3" cy="348.1" r="2.15"/>
<circle class="rd" cx="149.6" cy="285.1" r="2.15"/>
<circle class="rd" cx="153.4" cy="331.7" r="2.15"/>
<circle class="rd" cx="177.8" cy="342.2" r="2.15"/>
<circle class="rd" cx="157.1" cy="301" r="2.15"/>
<circle class="rd" cx="166.4" cy="294" r="2.15"/>
<circle class="rd" cx="169.4" cy="357.5" r="2.15"/>
<circle class="rd" cx="141" cy="312" r="2.15"/>
<circle class="rd" cx="148.8" cy="309.9" r="2.15"/>
<circle class="rd" cx="175.7" cy="323.5" r="2.15"/>
<circle class="rd" cx="164.5" cy="296.6" r="2.15"/>
<circle class="rd" cx="174.1" cy="327.2" r="2.15"/>
<circle class="rd" cx="180.8" cy="354.5" r="2.15"/>
<circle class="rd" cx="176.2" cy="319.1" r="2.15"/>
<circle class="rd" cx="177.7" cy="327.3" r="2.15"/>
<circle class="rd" cx="148" cy="314.2" r="2.15"/>
<circle class="rd" cx="155.6" cy="312" r="2.15"/>
<circle class="rd" cx="179.4" cy="330.9" r="2.15"/>
<circle class="rd" cx="176.7" cy="337.6" r="2.15"/>
<circle class="rd" cx="151" cy="304.4" r="2.15"/>
<circle class="rd" cx="185.8" cy="350.6" r="2.15"/>
<circle class="rd" cx="154.4" cy="299.8" r="2.15"/>
<circle class="rd" cx="171.5" cy="320.8" r="2.15"/>
<circle class="rd" cx="170.7" cy="328.3" r="2.15"/>
<circle class="rd" cx="157" cy="287.3" r="2.15"/>
<circle class="rd" cx="163.6" cy="360.9" r="2.15"/>
<circle class="rd" cx="166.5" cy="339.5" r="2.15"/>
<circle class="rd" cx="187.5" cy="343.4" r="2.15"/>
<circle class="rd" cx="149.3" cy="310" r="2.15"/>
<circle class="rd" cx="192.3" cy="330.1" r="2.15"/>
<circle class="rd" cx="173.3" cy="326.7" r="2.15"/>
<circle class="rd" cx="164.3" cy="301.1" r="2.15"/>
<circle class="rd" cx="172.3" cy="333.2" r="2.15"/>
<circle class="rd" cx="165" cy="287" r="2.15"/>
<circle class="rd" cx="161.7" cy="319" r="2.15"/>
<circle class="rd" cx="182.4" cy="308.4" r="2.15"/>
<circle class="rd" cx="151.1" cy="306" r="2.15"/>
<circle class="rd" cx="167" cy="321.3" r="2.15"/>
<circle class="rd" cx="177.5" cy="317.1" r="2.15"/>
<circle class="rd" cx="168" cy="302" r="2.15"/>
<circle class="rd" cx="157.9" cy="297.4" r="2.15"/>
<circle class="rd" cx="174.2" cy="335.5" r="2.15"/>
<circle class="rd" cx="166.1" cy="302.9" r="2.15"/>
<circle class="rd" cx="191.9" cy="351.2" r="2.15"/>
<circle class="rd" cx="168.9" cy="295.1" r="2.15"/>
<circle class="rd" cx="180.6" cy="332.9" r="2.15"/>
<circle class="rd" cx="168.9" cy="361.9" r="2.15"/>
<circle class="rd" cx="167.9" cy="345.9" r="2.15"/>
<circle class="rd" cx="175.6" cy="340.4" r="2.15"/>
<circle class="rd" cx="158.8" cy="311.3" r="2.15"/>
<circle class="rd" cx="181.9" cy="329.4" r="2.15"/>
<circle class="rd" cx="169.9" cy="308.6" r="2.15"/>
<circle class="rd" cx="143.6" cy="314.4" r="2.15"/>
<circle class="rd" cx="173.4" cy="356.8" r="2.15"/>
<circle class="rd" cx="170.1" cy="322.7" r="2.15"/>
<circle class="rd" cx="162.5" cy="318.4" r="2.15"/>
<circle class="rd" cx="185.4" cy="327.4" r="2.15"/>
<circle class="rd" cx="170.8" cy="351.6" r="2.15"/>
<circle class="rd" cx="185.4" cy="342.4" r="2.15"/>
<circle class="rd" cx="176.7" cy="361.5" r="2.15"/>
<circle class="rd" cx="182.7" cy="365.8" r="2.15"/>
<circle class="rd" cx="174.6" cy="303.4" r="2.15"/>
<circle class="rd" cx="155.3" cy="314.4" r="2.15"/>
<circle class="rd" cx="164.4" cy="360.1" r="2.15"/>
<circle class="rd" cx="169.1" cy="331.7" r="2.15"/>
<circle class="rd" cx="150.3" cy="327.9" r="2.15"/>
<circle class="rd" cx="159.1" cy="314" r="2.15"/>
<circle class="rd" cx="169.5" cy="338.7" r="2.15"/>
<circle class="rd" cx="146.3" cy="330.8" r="2.15"/>
<circle class="rd" cx="168.4" cy="331.7" r="2.15"/>
<circle class="rd" cx="149" cy="322.5" r="2.15"/>
<circle class="rd" cx="167.5" cy="359.6" r="2.15"/>
<circle class="rd" cx="161.3" cy="332.4" r="2.15"/>
<circle class="rd" cx="153.1" cy="329" r="2.15"/>
<circle class="rd" cx="186.3" cy="338.6" r="2.15"/>
<circle class="rd" cx="159.4" cy="315.3" r="2.15"/>
<circle class="rd" cx="181.7" cy="301.8" r="2.15"/>
<circle class="rd" cx="168.6" cy="340.4" r="2.15"/>
<circle class="rd" cx="174.5" cy="293.8" r="2.15"/>
<circle class="rd" cx="184" cy="307" r="2.15"/>
<circle class="rd" cx="188.9" cy="346.5" r="2.15"/>
<circle class="rd" cx="156.7" cy="335.4" r="2.15"/>
<circle class="rd" cx="171.7" cy="348.2" r="2.15"/>
<circle class="rd" cx="152.9" cy="302.4" r="2.15"/>
<circle class="rd" cx="156.8" cy="319.3" r="2.15"/>
<circle class="rd" cx="150.1" cy="302.4" r="2.15"/>
<circle class="rd" cx="181.9" cy="353.1" r="2.15"/>
<circle class="rd" cx="157.4" cy="347.1" r="2.15"/>
<circle class="rd" cx="169.3" cy="353.4" r="2.15"/>
<circle class="rd" cx="152.7" cy="310.3" r="2.15"/>
<circle class="rd" cx="170" cy="331.3" r="2.15"/>
<circle class="rd" cx="171.5" cy="341.2" r="2.15"/>
<circle class="rd" cx="167" cy="318.4" r="2.15"/>
<circle class="rd" cx="180.2" cy="342.9" r="2.15"/>
<circle class="rd" cx="168.3" cy="335" r="2.15"/>
<circle class="rd" cx="177.5" cy="331.7" r="2.15"/>
<circle class="rd" cx="155.7" cy="336.2" r="2.15"/>
<circle class="rd" cx="179.3" cy="339.4" r="2.15"/>
<circle class="rd" cx="176.1" cy="345.9" r="2.15"/>
<circle class="rd" cx="185.2" cy="321.5" r="2.15"/>
<circle class="rd" cx="173.3" cy="340" r="2.15"/>
<circle class="rd" cx="167.8" cy="339.4" r="2.15"/>
<circle class="rd" cx="180.9" cy="342" r="2.15"/>
<circle class="rd" cx="151.9" cy="336.6" r="2.15"/>
<circle class="rd" cx="160.8" cy="363.4" r="2.15"/>
<circle class="rd" cx="163" cy="312.7" r="2.15"/>
<circle class="rd" cx="187.9" cy="348.3" r="2.15"/>
<circle class="rd" cx="180" cy="352.8" r="2.15"/>
<circle class="rd" cx="183.8" cy="338.6" r="2.15"/>
<circle class="rd" cx="177.8" cy="318.1" r="2.15"/>
<circle class="rd" cx="156" cy="345.4" r="2.15"/>
<circle class="rd" cx="186.4" cy="313.1" r="2.15"/>
<circle class="rd" cx="168" cy="314.8" r="2.15"/>
<circle class="rd" cx="159.2" cy="345.1" r="2.15"/>
<circle class="rd" cx="155.9" cy="324.9" r="2.15"/>
<circle class="rd" cx="173.1" cy="312.9" r="2.15"/>
<circle class="rd" cx="161.8" cy="330.4" r="2.15"/>
<circle class="rd" cx="173.6" cy="316.2" r="2.15"/>
<circle class="rd" cx="154" cy="326.8" r="2.15"/>
<circle class="rd" cx="166.2" cy="308.8" r="2.15"/>
<circle class="rd" cx="163.2" cy="341.7" r="2.15"/>
<circle class="rd" cx="158" cy="286" r="2.15"/>
<circle class="rd" cx="195" cy="322" r="2.15"/>
<circle class="rd" cx="149.9" cy="291.7" r="2.15"/>
<circle class="rd" cx="181.8" cy="333.3" r="2.15"/>
<circle class="rd" cx="156.5" cy="316.1" r="2.15"/>
<circle class="rd" cx="177.5" cy="352.3" r="2.15"/>
<circle class="rd" cx="184.8" cy="339.2" r="2.15"/>
<circle class="rd" cx="160.3" cy="339.9" r="2.15"/>
<circle class="rd" cx="172" cy="340" r="2.15"/>
<circle class="rd" cx="160.3" cy="348.5" r="2.15"/>
<circle class="rd" cx="171.1" cy="304.4" r="2.15"/>
<circle class="rd" cx="149.8" cy="301.2" r="2.15"/>
<circle class="rd" cx="175" cy="347" r="2.15"/>
<circle class="rd" cx="184.4" cy="350.7" r="2.15"/>
<circle class="rd" cx="170.2" cy="332.2" r="2.15"/>
<circle class="rd" cx="154.3" cy="321.5" r="2.15"/>
<circle class="rd" cx="166.2" cy="314.7" r="2.15"/>
<circle class="rd" cx="168.1" cy="347.9" r="2.15"/>
<circle class="rd" cx="155.4" cy="328.5" r="2.15"/>
<circle class="rd" cx="178.9" cy="351.6" r="2.15"/>
<circle class="rd" cx="169.9" cy="335.1" r="2.15"/>
<circle class="rd" cx="152.8" cy="300.3" r="2.15"/>
<circle class="rd" cx="182" cy="303" r="2.15"/>
<circle class="rd" cx="166.3" cy="330.6" r="2.15"/>
<circle class="rd" cx="157.6" cy="305.4" r="2.15"/>
<circle class="rd" cx="164.5" cy="343.3" r="2.15"/>
<circle class="rd" cx="159.7" cy="301.6" r="2.15"/>
<circle class="rd" cx="168.4" cy="350.7" r="2.15"/>
<circle class="rd" cx="176.4" cy="344.8" r="2.15"/>
<circle class="rd" cx="156.5" cy="295.6" r="2.15"/>
<circle class="rd" cx="169.1" cy="316.1" r="2.15"/>
<circle class="rd" cx="171.8" cy="356.1" r="2.15"/>
<circle class="rd" cx="177.1" cy="326.8" r="2.15"/>
<circle class="rd" cx="174.6" cy="346.9" r="2.15"/>
<circle class="rd" cx="165.4" cy="330.7" r="2.15"/>
<circle class="rd" cx="166.3" cy="340.7" r="2.15"/>
<circle class="rd" cx="153.8" cy="317.2" r="2.15"/>
<circle class="rd" cx="159.8" cy="328" r="2.15"/>
<circle class="rd" cx="148.9" cy="329.1" r="2.15"/>
<circle class="rd" cx="158.7" cy="322.4" r="2.15"/>
<circle class="rd" cx="167.2" cy="350" r="2.15"/>
<circle class="rd" cx="143.1" cy="290.6" r="2.15"/>
<circle class="rd" cx="168.9" cy="310.8" r="2.15"/>
<circle class="rd" cx="155.5" cy="296" r="2.15"/>
<circle class="rd" cx="159.5" cy="300.5" r="2.15"/>
<polygon class="rds" points="166.7,340.9 167.4,342.8 169.4,342.9 167.8,344.2 168.4,346.1 166.7,345 165,346.1 165.5,344.2 163.9,342.9 166,342.8"/>
<polygon class="rds" points="146,315.1 146.7,317 148.8,317.1 147.2,318.4 147.7,320.3 146,319.2 144.3,320.3 144.8,318.4 143.2,317.1 145.3,317"/>
<circle class="rd" cx="155.3" cy="307.5" r="2.15"/>
<circle class="rd" cx="184.5" cy="349" r="2.15"/>
<circle class="rd" cx="184" cy="332.4" r="2.15"/>
<circle class="rd" cx="174" cy="360.3" r="2.15"/>
<polygon class="rds" points="167.4,317.9 168.2,319.8 170.2,319.9 168.6,321.2 169.2,323.1 167.4,322 165.7,323.1 166.3,321.2 164.7,319.9 166.7,319.8"/>
<circle class="rd" cx="165.7" cy="339.6" r="2.15"/>
<polygon class="rds" points="156.1,320.8 156.8,322.7 158.9,322.8 157.3,324 157.8,326 156.1,324.9 154.4,326 155,324 153.4,322.8 155.4,322.7"/>
<circle class="rd" cx="157.3" cy="348.4" r="2.15"/>
<polygon class="rds" points="157.5,329.6 158.2,331.6 160.3,331.6 158.7,332.9 159.2,334.9 157.5,333.8 155.8,334.9 156.3,332.9 154.7,331.6 156.8,331.6"/>
<circle class="rd" cx="162.6" cy="329.8" r="2.15"/>
<circle class="rd" cx="144.5" cy="317.5" r="2.15"/>
<circle class="rd" cx="176.4" cy="307.8" r="2.15"/>
<polygon class="rds" points="161.2,341.7 161.9,343.7 163.9,343.7 162.3,345 162.9,347 161.2,345.9 159.5,347 160,345 158.4,343.7 160.5,343.7"/>
<polygon class="rds" points="162.1,348.6 162.9,350.5 164.9,350.6 163.3,351.8 163.8,353.8 162.1,352.7 160.4,353.8 161,351.8 159.4,350.6 161.4,350.5"/>
<polygon class="rds" points="169.5,354.6 170.2,356.5 172.2,356.6 170.6,357.9 171.2,359.9 169.5,358.7 167.8,359.9 168.3,357.9 166.7,356.6 168.7,356.5"/>
<polygon class="rds" points="155.6,324.3 156.3,326.2 158.4,326.3 156.8,327.6 157.3,329.6 155.6,328.4 153.9,329.6 154.4,327.6 152.8,326.3 154.9,326.2"/>
<polygon class="rds" points="184,317.1 184.7,319 186.8,319.1 185.2,320.4 185.7,322.3 184,321.2 182.3,322.3 182.8,320.4 181.2,319.1 183.3,319"/>
<polygon class="rds" points="164.8,348.8 165.5,350.7 167.6,350.8 166,352.1 166.5,354.1 164.8,352.9 163.1,354.1 163.6,352.1 162,350.8 164.1,350.7"/>
<polygon class="rds" points="148,322.3 148.7,324.2 150.7,324.3 149.1,325.6 149.7,327.6 148,326.4 146.3,327.6 146.8,325.6 145.2,324.3 147.3,324.2"/>
<polygon class="rds" points="160.1,314.7 160.8,316.6 162.9,316.7 161.3,318 161.8,319.9 160.1,318.8 158.4,319.9 158.9,318 157.3,316.7 159.4,316.6"/>
<polygon class="rds" points="171.8,346.4 172.5,348.3 174.5,348.4 172.9,349.7 173.5,351.6 171.8,350.5 170.1,351.6 170.6,349.7 169,348.4 171,348.3"/>
<circle class="rd" cx="182.7" cy="347.1" r="2.15"/>
<polygon class="rds" points="153.3,337.8 154,339.7 156.1,339.8 154.5,341.1 155,343.1 153.3,341.9 151.6,343.1 152.2,341.1 150.6,339.8 152.6,339.7"/>
<polygon class="rds" points="170.2,344 170.9,345.9 172.9,346 171.3,347.2 171.9,349.2 170.2,348.1 168.5,349.2 169,347.2 167.4,346 169.5,345.9"/>
<polygon class="rds" points="163.9,321.6 164.7,323.6 166.7,323.6 165.1,324.9 165.7,326.9 163.9,325.8 162.2,326.9 162.8,324.9 161.2,323.6 163.2,323.6"/>
<circle class="rd" cx="157.3" cy="298.8" r="2.15"/>
<polygon class="rds" points="160.8,350 161.5,352 163.6,352 162,353.3 162.5,355.3 160.8,354.2 159.1,355.3 159.6,353.3 158,352 160.1,352"/>
<circle class="rd" cx="171.2" cy="333.4" r="2.15"/>
<polygon class="rds" points="172.6,351.8 173.3,353.7 175.4,353.8 173.8,355.1 174.3,357.1 172.6,355.9 170.9,357.1 171.5,355.1 169.9,353.8 171.9,353.7"/>
<polygon class="rds" points="161,316.5 161.8,318.4 163.8,318.5 162.2,319.8 162.7,321.8 161,320.6 159.3,321.8 159.9,319.8 158.3,318.5 160.3,318.4"/>
<polygon class="rds" points="148.6,337 149.4,339 151.4,339 149.8,340.3 150.3,342.3 148.6,341.2 146.9,342.3 147.5,340.3 145.9,339 147.9,339"/>
<polygon class="rds" points="149.9,320.7 150.6,322.6 152.7,322.7 151.1,323.9 151.6,325.9 149.9,324.8 148.2,325.9 148.8,323.9 147.2,322.7 149.2,322.6"/>
<polygon class="rds" points="152.4,329.6 153.1,331.5 155.2,331.6 153.6,332.9 154.1,334.9 152.4,333.7 150.7,334.9 151.3,332.9 149.7,331.6 151.7,331.5"/>
<polygon class="rds" points="146.5,341.7 147.3,343.7 149.3,343.7 147.7,345 148.3,347 146.5,345.9 144.8,347 145.4,345 143.8,343.7 145.8,343.7"/>
<polygon class="rds" points="178,342.1 178.7,344 180.8,344.1 179.2,345.4 179.7,347.3 178,346.2 176.3,347.3 176.8,345.4 175.2,344.1 177.3,344"/>
<polygon class="rds" points="160.5,322.4 161.3,324.3 163.3,324.4 161.7,325.6 162.3,327.6 160.5,326.5 158.8,327.6 159.4,325.6 157.8,324.4 159.8,324.3"/>
<polygon class="rds" points="152.8,319.1 153.5,321 155.5,321.1 153.9,322.3 154.5,324.3 152.8,323.2 151.1,324.3 151.6,322.3 150,321.1 152.1,321"/>
<polygon class="rds" points="153.6,322.5 154.3,324.4 156.4,324.5 154.8,325.8 155.3,327.7 153.6,326.6 151.9,327.7 152.5,325.8 150.9,324.5 152.9,324.4"/>
<polygon class="rds" points="164.8,343.8 165.5,345.7 167.6,345.8 166,347 166.5,349 164.8,347.9 163.1,349 163.6,347 162,345.8 164.1,345.7"/>
<polygon class="rds" points="162.5,314.1 163.3,316 165.3,316.1 163.7,317.4 164.2,319.3 162.5,318.2 160.8,319.3 161.4,317.4 159.8,316.1 161.8,316"/>
<polygon class="rds" points="160,349.8 160.7,351.7 162.7,351.8 161.1,353 161.7,355 160,353.9 158.3,355 158.8,353 157.2,351.8 159.3,351.7"/>
<polygon class="rds" points="163.6,347 164.3,349 166.3,349 164.7,350.3 165.3,352.3 163.6,351.2 161.9,352.3 162.4,350.3 160.8,349 162.9,349"/>
<polygon class="rds" points="167.6,349.1 168.3,351 170.3,351.1 168.7,352.3 169.3,354.3 167.6,353.2 165.9,354.3 166.4,352.3 164.8,351.1 166.9,351"/>
<polygon class="rds" points="173.7,336.7 174.4,338.7 176.5,338.8 174.9,340 175.4,342 173.7,340.9 172,342 172.5,340 170.9,338.8 173,338.7"/>
<polygon class="rds" points="164.2,323.1 164.9,325 167,325.1 165.4,326.3 165.9,328.3 164.2,327.2 162.5,328.3 163,326.3 161.4,325.1 163.5,325"/>
<polygon class="rds" points="150.1,331.7 150.8,333.6 152.8,333.7 151.2,335 151.8,336.9 150.1,335.8 148.3,336.9 148.9,335 147.3,333.7 149.3,333.6"/>
<polygon class="rds" points="158,331.1 158.7,333 160.7,333.1 159.1,334.4 159.7,336.3 158,335.2 156.3,336.3 156.8,334.4 155.2,333.1 157.2,333"/>
<polygon class="rds" points="160.5,320.5 161.2,322.4 163.3,322.5 161.7,323.8 162.2,325.7 160.5,324.6 158.8,325.7 159.4,323.8 157.8,322.5 159.8,322.4"/>
<polygon class="rds" points="153.3,347.8 154.1,349.7 156.1,349.8 154.5,351.1 155,353.1 153.3,351.9 151.6,353.1 152.2,351.1 150.6,349.8 152.6,349.7"/>
<polygon class="rds" points="161.3,326.6 162,328.5 164.1,328.6 162.5,329.9 163,331.8 161.3,330.7 159.6,331.8 160.1,329.9 158.5,328.6 160.6,328.5"/>
<polygon class="rds" points="154.6,340.5 155.3,342.4 157.3,342.5 155.7,343.7 156.3,345.7 154.6,344.6 152.9,345.7 153.4,343.7 151.8,342.5 153.9,342.4"/>
<circle class="rd" cx="163.5" cy="346.5" r="2.15"/>
<circle class="rd" cx="158.9" cy="339.3" r="2.15"/>
<circle class="rd" cx="181.9" cy="317.1" r="2.15"/>
<circle class="rd" cx="185.7" cy="327.3" r="2.15"/>
<polygon class="rds" points="152.6,314 153.3,315.9 155.4,316 153.8,317.3 154.3,319.2 152.6,318.1 150.9,319.2 151.4,317.3 149.8,316 151.9,315.9"/>
<circle class="rd" cx="164.9" cy="357.3" r="2.15"/>
<polygon class="rds" points="152.9,322.1 153.6,324 155.7,324.1 154.1,325.4 154.6,327.3 152.9,326.2 151.2,327.3 151.8,325.4 150.2,324.1 152.2,324"/>
<polygon class="rds" points="157.7,312.3 158.5,314.2 160.5,314.3 158.9,315.5 159.4,317.5 157.7,316.4 156,317.5 156.6,315.5 155,314.3 157,314.2"/>
<circle class="rd" cx="181.7" cy="341.8" r="2.15"/>
<circle class="rd" cx="171.9" cy="328.8" r="2.15"/>
<polygon class="rds" points="165.1,318.7 165.8,320.6 167.8,320.7 166.2,321.9 166.8,323.9 165.1,322.8 163.4,323.9 163.9,321.9 162.3,320.7 164.4,320.6"/>
<polygon class="rds" points="159.6,318.1 160.3,320 162.3,320.1 160.7,321.4 161.3,323.4 159.6,322.2 157.9,323.4 158.4,321.4 156.8,320.1 158.8,320"/>
<polygon class="rds" points="159.6,323.1 160.3,325 162.3,325.1 160.7,326.3 161.3,328.3 159.6,327.2 157.9,328.3 158.4,326.3 156.8,325.1 158.8,325"/>
<circle class="rd" cx="180.7" cy="358" r="2.15"/>
<rect x="226.4" y="284.4" width="49.6" height="15.3" fill="#000"/>
<rect x="223.9" y="281.7" width="49.6" height="15.3" fill="#f3f7d3" stroke="#a9ac96" stroke-width="0.7"/>
<text x="248.7" y="293.3" font-size="10.6" text-anchor="middle" textLength="44.8" lengthAdjust="spacingAndGlyphs">Kalamata</text>
<text class="pl" x="26" y="311.5">c)</text>
<text class="ax" transform="translate(10.3,395) rotate(87.3)" font-size="9.5" text-anchor="middle" textLength="86.6" lengthAdjust="spacingAndGlyphs">Canonical Variable 3</text>
<text class="tk" transform="translate(17.3,303.5) rotate(-4)" font-size="6.8" text-anchor="middle">5</text>
<text class="tk" transform="translate(17.8,322) rotate(-4)" font-size="6.8" text-anchor="middle">4</text>
<text class="tk" transform="translate(18.4,340.5) rotate(-4)" font-size="6.8" text-anchor="middle">3</text>
<text class="tk" transform="translate(19,359) rotate(-4)" font-size="6.8" text-anchor="middle">2</text>
<text class="tk" transform="translate(19.5,377) rotate(-4)" font-size="6.8" text-anchor="middle">1</text>
<text class="tk" transform="translate(20,395) rotate(-4)" font-size="6.8" text-anchor="middle">0</text>
<text class="tk" transform="translate(20.3,412.5) rotate(-4)" font-size="6.8" text-anchor="middle">-1</text>
<text class="tk" transform="translate(21,430) rotate(-4)" font-size="6.8" text-anchor="middle">-2</text>
<text class="tk" transform="translate(21.5,447.5) rotate(-4)" font-size="6.8" text-anchor="middle">-3</text>
<text class="tk" transform="translate(22.5,465) rotate(-4)" font-size="6.8" text-anchor="middle">-4</text>
<text class="tk" transform="translate(23.5,481.5) rotate(-4)" font-size="6.8" text-anchor="middle">-5</text>
<text class="tk" transform="translate(34.5,482.8) rotate(11) skewX(-25)" font-size="5" text-anchor="middle">-6</text>
<text class="tk" transform="translate(53.6,486.4) rotate(11) skewX(-25)" font-size="5" text-anchor="middle">-5</text>
<text class="tk" transform="translate(73.6,490.1) rotate(11) skewX(-25)" font-size="5" text-anchor="middle">-4</text>
<text class="tk" transform="translate(93.6,494.1) rotate(11) skewX(-25)" font-size="5" text-anchor="middle">-3</text>
<text class="tk" transform="translate(114.5,497.8) rotate(11) skewX(-25)" font-size="5" text-anchor="middle">-2</text>
<text class="tk" transform="translate(133.8,502.5) rotate(11) skewX(-25)" font-size="5" text-anchor="middle">-1</text>
<text class="tk" transform="translate(156.7,506.8) rotate(11) skewX(-25)" font-size="5" text-anchor="middle">0</text>
<text class="tk" transform="translate(178.3,511.4) rotate(11) skewX(-25)" font-size="5" text-anchor="middle">1</text>
<text class="tk" transform="translate(200.7,516) rotate(11) skewX(-25)" font-size="5" text-anchor="middle">2</text>
<text class="ax2" transform="translate(103,504) rotate(11.2) skewX(-25)" font-size="7.3" text-anchor="middle" textLength="87.6" lengthAdjust="spacingAndGlyphs">Canonical Variable 2</text>
<text class="tk" transform="translate(214.3,515)" font-size="5" text-anchor="middle">-60</text>
<text class="tk" transform="translate(228.5,501.5)" font-size="5" text-anchor="middle">-40</text>
<text class="tk" transform="translate(240,488)" font-size="5" text-anchor="middle">-20</text>
<text class="tk" transform="translate(247.4,475.7)" font-size="5" text-anchor="middle">0</text>
<text class="tk" transform="translate(260.5,465.5)" font-size="5" text-anchor="middle">20</text>
<text class="tk" transform="translate(270.3,455.2)" font-size="5" text-anchor="middle">40</text>
<text class="ax2" transform="translate(261.5,482.5) rotate(-44)" font-size="7" text-anchor="middle" textLength="42" lengthAdjust="spacingAndGlyphs">Canonical Variable 1</text>
<polygon class="w" points="290.9,284.9 384.5,260.7 386.5,416.7 298,473.5"/>
<path class="g" d="M308 280.5L314.2 463.1M319.6 277.5L325.2 456.1M331 274.5L335.9 449.2M343.8 271.2L348 441.4M355 268.3L358.6 434.6M365.4 265.6L368.4 428.3M375.6 263L378.1 422.1M292.1 318.1L384.9 288.2M293.3 348.8L385.2 313.6M294.5 379.6L385.5 339M295.6 410.3L385.8 364.4M296.8 441.1L386.2 389.9"/>
<polygon class="w" points="384.5,260.7 545.5,268.5 536.7,441.4 386.5,416.7"/>
<path class="g" d="M397.5 261.3L398.7 418.7M419.9 262.4L419.5 422.1M442.9 263.5L441 425.7M466.9 264.7L463.4 429.3M492.7 265.9L487.4 433.3M518 267.2L511 437.2M384.9 288.2L544 298.9M385.2 313.6L542.5 327.1M385.5 339L541.1 355.3M385.8 364.4L539.6 383.5M386.2 389.9L538.2 411.7"/>
<polygon class="w" points="298,473.5 386.5,416.7 536.7,441.4 476.7,508.8"/>
<path class="g" d="M314.2 463.1L487.7 496.5M325.2 456.1L495.1 488.1M335.9 449.2L502.4 480M348 441.4L510.6 470.7M358.6 434.6L517.8 462.6M368.4 428.3L524.5 455.1M378.1 422.1L531 447.8M312.5 476.4L398.7 418.7M337.3 481.3L419.5 422.1M362.9 486.3L441 425.7M389.5 491.6L463.4 429.3M418.1 497.2L487.4 433.3M446.1 502.8L511 437.2"/>
<path class="et" d="M384.5 260.7L386.5 416.7M298 473.5L386.5 416.7M386.5 416.7L536.7 441.4"/>
<path class="e" d="M290.9 284.9L384.5 260.7M384.5 260.7L545.5 268.5M290.9 284.9L298 473.5M298 473.5L476.7 508.8M476.7 508.8L536.7 441.4M545.5 268.5L536.7 441.4"/>
<circle class="gy" cx="487.7" cy="377.5" r="2.45"/>
<circle class="gy" cx="477.7" cy="375.9" r="2.45"/>
<circle class="gy" cx="457.4" cy="385.4" r="2.45"/>
<circle class="gy" cx="470.9" cy="358.3" r="2.45"/>
<circle class="gy" cx="458.8" cy="394.9" r="2.45"/>
<circle class="gy" cx="466.4" cy="385.2" r="2.45"/>
<circle class="gy" cx="472" cy="382" r="2.45"/>
<circle class="gy" cx="474" cy="352.3" r="2.45"/>
<circle class="gy" cx="462.2" cy="366.4" r="2.45"/>
<circle class="gy" cx="456.9" cy="367.9" r="2.45"/>
<circle class="gy" cx="461.8" cy="348.2" r="2.45"/>
<circle class="gy" cx="473.4" cy="387.1" r="2.45"/>
<circle class="gy" cx="454.3" cy="400.5" r="2.45"/>
<circle class="gy" cx="454.5" cy="341.3" r="2.45"/>
<circle class="gy" cx="478.6" cy="368.9" r="2.45"/>
<circle class="gy" cx="478.7" cy="381.2" r="2.45"/>
<circle class="gy" cx="481.3" cy="373.4" r="2.45"/>
<circle class="gy" cx="456.9" cy="363.8" r="2.45"/>
<circle class="gy" cx="477.6" cy="390.2" r="2.45"/>
<circle class="gy" cx="454.3" cy="381.6" r="2.45"/>
<circle class="gy" cx="471.1" cy="365.6" r="2.45"/>
<circle class="gy" cx="467.1" cy="405.4" r="2.45"/>
<circle class="gy" cx="470.4" cy="382.4" r="2.45"/>
<circle class="gy" cx="456.5" cy="385.8" r="2.45"/>
<circle class="gy" cx="467" cy="399.5" r="2.45"/>
<circle class="gy" cx="467.7" cy="370.5" r="2.45"/>
<circle class="gy" cx="474.1" cy="393.8" r="2.45"/>
<circle class="gy" cx="452.5" cy="351.9" r="2.45"/>
<circle class="gy" cx="454.3" cy="363.5" r="2.45"/>
<circle class="gy" cx="459.4" cy="390.5" r="2.45"/>
<circle class="gy" cx="466.6" cy="360.9" r="2.45"/>
<circle class="gy" cx="460.3" cy="367.5" r="2.45"/>
<circle class="gy" cx="476.1" cy="391.3" r="2.45"/>
<circle class="gy" cx="462.6" cy="383.8" r="2.45"/>
<circle class="gy" cx="480.4" cy="368.9" r="2.45"/>
<circle class="gy" cx="469.4" cy="382.3" r="2.45"/>
<circle class="gy" cx="459.5" cy="374.1" r="2.45"/>
<circle class="gy" cx="473" cy="392.3" r="2.45"/>
<circle class="gy" cx="478.8" cy="390.4" r="2.45"/>
<circle class="gy" cx="479.5" cy="387.7" r="2.45"/>
<circle class="gy" cx="457.8" cy="380.2" r="2.45"/>
<circle class="gy" cx="479" cy="365.7" r="2.45"/>
<circle class="gy" cx="460.6" cy="412.4" r="2.45"/>
<circle class="gy" cx="452" cy="347.2" r="2.45"/>
<circle class="gy" cx="472.4" cy="350.4" r="2.45"/>
<circle class="gy" cx="450.4" cy="362.7" r="2.45"/>
<circle class="gy" cx="460.3" cy="357.5" r="2.45"/>
<circle class="gy" cx="445" cy="359.2" r="2.45"/>
<circle class="gy" cx="460.6" cy="364.9" r="2.45"/>
<circle class="gy" cx="447.7" cy="368.2" r="2.45"/>
<circle class="gy" cx="456.5" cy="395.2" r="2.45"/>
<circle class="gy" cx="452.6" cy="384.1" r="2.45"/>
<circle class="gy" cx="481.1" cy="371.3" r="2.45"/>
<circle class="gy" cx="454.8" cy="375.4" r="2.45"/>
<circle class="gy" cx="463.4" cy="382.4" r="2.45"/>
<circle class="gy" cx="449.3" cy="368.7" r="2.45"/>
<circle class="gy" cx="473.8" cy="397.7" r="2.45"/>
<circle class="gy" cx="455.6" cy="359" r="2.45"/>
<circle class="gy" cx="471.9" cy="381.3" r="2.45"/>
<circle class="gy" cx="481.1" cy="378.8" r="2.45"/>
<circle class="gy" cx="456.7" cy="392" r="2.45"/>
<circle class="gy" cx="448.4" cy="374.7" r="2.45"/>
<circle class="gy" cx="450.6" cy="360.2" r="2.45"/>
<circle class="gy" cx="471.7" cy="382.1" r="2.45"/>
<circle class="gy" cx="464" cy="370.1" r="2.45"/>
<circle class="gy" cx="465.6" cy="419.2" r="2.45"/>
<circle class="gy" cx="474.7" cy="394.2" r="2.45"/>
<circle class="gy" cx="472.4" cy="353.2" r="2.45"/>
<circle class="gy" cx="479.1" cy="391.8" r="2.45"/>
<circle class="gy" cx="453.8" cy="369.6" r="2.45"/>
<circle class="gy" cx="460.1" cy="361.3" r="2.45"/>
<circle class="gy" cx="454.9" cy="385.9" r="2.45"/>
<circle class="gy" cx="463.6" cy="367.3" r="2.45"/>
<circle class="gy" cx="473.9" cy="365.3" r="2.45"/>
<circle class="gy" cx="479.1" cy="368.7" r="2.45"/>
<circle class="gy" cx="458.6" cy="364.7" r="2.45"/>
<circle class="gy" cx="478.3" cy="374.1" r="2.45"/>
<circle class="gy" cx="465.4" cy="359.5" r="2.45"/>
<circle class="gy" cx="481" cy="384.4" r="2.45"/>
<circle class="gy" cx="451.8" cy="354.4" r="2.45"/>
<circle class="gy" cx="478.7" cy="372.4" r="2.45"/>
<circle class="gy" cx="456.7" cy="366.3" r="2.45"/>
<circle class="gy" cx="455.3" cy="344.8" r="2.45"/>
<circle class="gy" cx="472.8" cy="395.2" r="2.45"/>
<circle class="gy" cx="475.4" cy="396.1" r="2.45"/>
<circle class="gy" cx="474.8" cy="378" r="2.45"/>
<circle class="gy" cx="471.3" cy="357.4" r="2.45"/>
<circle class="gy" cx="465.8" cy="390.4" r="2.45"/>
<circle class="gy" cx="460.8" cy="352" r="2.45"/>
<circle class="gy" cx="451.7" cy="378.2" r="2.45"/>
<circle class="gy" cx="455" cy="370.3" r="2.45"/>
<circle class="gy" cx="468" cy="393.1" r="2.45"/>
<circle class="gy" cx="463.3" cy="370" r="2.45"/>
<circle class="gy" cx="476.3" cy="397.4" r="2.45"/>
<circle class="gy" cx="445.4" cy="347.2" r="2.45"/>
<circle class="gy" cx="454.6" cy="354.2" r="2.45"/>
<circle class="gy" cx="448.5" cy="375" r="2.45"/>
<circle class="gy" cx="467" cy="356" r="2.45"/>
<circle class="gy" cx="443.7" cy="341" r="2.45"/>
<circle class="gy" cx="486.4" cy="386" r="2.45"/>
<circle class="gy" cx="461.3" cy="369.3" r="2.45"/>
<circle class="gy" cx="469.5" cy="377" r="2.45"/>
<circle class="gy" cx="455.5" cy="363.2" r="2.45"/>
<circle class="gy" cx="473.9" cy="384.8" r="2.45"/>
<circle class="gy" cx="471" cy="368" r="2.45"/>
<circle class="gy" cx="468.9" cy="385.3" r="2.45"/>
<circle class="gy" cx="453.3" cy="374.6" r="2.45"/>
<circle class="gy" cx="476.9" cy="374.8" r="2.45"/>
<circle class="gy" cx="471.7" cy="379.4" r="2.45"/>
<circle class="gy" cx="463.9" cy="370.7" r="2.45"/>
<circle class="gy" cx="448.8" cy="373.3" r="2.45"/>
<circle class="gy" cx="477.5" cy="412" r="2.45"/>
<circle class="gy" cx="465.1" cy="350.1" r="2.45"/>
<circle class="gy" cx="450.1" cy="366.7" r="2.45"/>
<circle class="gy" cx="471.7" cy="397" r="2.45"/>
<circle class="gy" cx="458.5" cy="389.6" r="2.45"/>
<circle class="gy" cx="480.1" cy="384.6" r="2.45"/>
<circle class="gy" cx="457.3" cy="398.6" r="2.45"/>
<circle class="gy" cx="459.6" cy="355.1" r="2.45"/>
<circle class="gy" cx="467.9" cy="377.7" r="2.45"/>
<circle class="gy" cx="452.3" cy="362.4" r="2.45"/>
<circle class="gy" cx="450.9" cy="382.8" r="2.45"/>
<circle class="gy" cx="466.5" cy="386.3" r="2.45"/>
<circle class="gy" cx="476.9" cy="382.9" r="2.45"/>
<circle class="gy" cx="476" cy="360.5" r="2.45"/>
<circle class="gy" cx="465.4" cy="380.4" r="2.45"/>
<circle class="gy" cx="473.3" cy="390.3" r="2.45"/>
<circle class="gy" cx="464" cy="397.1" r="2.45"/>
<circle class="gy" cx="460" cy="377.5" r="2.45"/>
<circle class="gy" cx="473.9" cy="399.4" r="2.45"/>
<circle class="gy" cx="467.3" cy="377.5" r="2.45"/>
<circle class="gy" cx="473.4" cy="382.7" r="2.45"/>
<circle class="gy" cx="463.9" cy="346.3" r="2.45"/>
<circle class="gy" cx="472.9" cy="360.3" r="2.45"/>
<circle class="gy" cx="461" cy="373.4" r="2.45"/>
<circle class="gy" cx="463.8" cy="378.9" r="2.45"/>
<circle class="gy" cx="471.3" cy="351" r="2.45"/>
<circle class="gy" cx="451.9" cy="366.5" r="2.45"/>
<circle class="gy" cx="455.7" cy="354.5" r="2.45"/>
<circle class="gy" cx="466.1" cy="388.7" r="2.45"/>
<circle class="gy" cx="482.4" cy="380.2" r="2.45"/>
<circle class="gy" cx="473.8" cy="395.4" r="2.45"/>
<circle class="gy" cx="469.1" cy="356.6" r="2.45"/>
<circle class="gy" cx="457" cy="367.4" r="2.45"/>
<circle class="gy" cx="472.3" cy="383.5" r="2.45"/>
<circle class="gy" cx="464.4" cy="380.8" r="2.45"/>
<circle class="gy" cx="468.4" cy="364.8" r="2.45"/>
<circle class="gy" cx="464.3" cy="360.7" r="2.45"/>
<circle class="gy" cx="460.4" cy="362.3" r="2.45"/>
<circle class="gy" cx="480.3" cy="377.9" r="2.45"/>
<circle class="gy" cx="465" cy="374.8" r="2.45"/>
<circle class="gy" cx="475.3" cy="360.3" r="2.45"/>
<circle class="gy" cx="477.4" cy="369.4" r="2.45"/>
<circle class="gy" cx="452.6" cy="365.8" r="2.45"/>
<circle class="gy" cx="462.3" cy="360.5" r="2.45"/>
<circle class="gy" cx="468.6" cy="383.7" r="2.45"/>
<circle class="gy" cx="476.4" cy="359.6" r="2.45"/>
<circle class="gy" cx="471.3" cy="351" r="2.45"/>
<circle class="gy" cx="482.5" cy="344" r="2.45"/>
<circle class="gy" cx="464.5" cy="368.1" r="2.45"/>
<circle class="gy" cx="470.9" cy="389.6" r="2.45"/>
<circle class="gy" cx="481.9" cy="382.4" r="2.45"/>
<circle class="gy" cx="472.8" cy="375" r="2.45"/>
<circle class="gy" cx="456.9" cy="354.1" r="2.45"/>
<circle class="gy" cx="458.4" cy="345.2" r="2.45"/>
<circle class="gy" cx="474.9" cy="386.2" r="2.45"/>
<circle class="gy" cx="470.4" cy="353.6" r="2.45"/>
<circle class="gy" cx="458.9" cy="381.5" r="2.45"/>
<circle class="gy" cx="460.7" cy="378.9" r="2.45"/>
<circle class="gy" cx="474.2" cy="360.4" r="2.45"/>
<circle class="gy" cx="469.1" cy="361.4" r="2.45"/>
<circle class="gy" cx="466.4" cy="380.2" r="2.45"/>
<circle class="gy" cx="463.6" cy="395.5" r="2.45"/>
<circle class="gy" cx="452.4" cy="384.3" r="2.45"/>
<circle class="gy" cx="481.5" cy="368.2" r="2.45"/>
<circle class="gy" cx="460.3" cy="377.8" r="2.45"/>
<circle class="gy" cx="451.7" cy="348.1" r="2.45"/>
<circle class="gy" cx="475.9" cy="374.4" r="2.45"/>
<circle class="gy" cx="450.7" cy="373.1" r="2.45"/>
<circle class="gy" cx="461.7" cy="336.8" r="2.45"/>
<circle class="gy" cx="457" cy="381.7" r="2.45"/>
<circle class="gy" cx="454.4" cy="375.5" r="2.45"/>
<circle class="gy" cx="461.1" cy="392.4" r="2.45"/>
<circle class="gy" cx="470" cy="373.6" r="2.45"/>
<circle class="gy" cx="457.4" cy="356.2" r="2.45"/>
<circle class="gy" cx="462.9" cy="352" r="2.45"/>
<circle class="gy" cx="470.7" cy="357.1" r="2.45"/>
<circle class="gy" cx="457.1" cy="388.8" r="2.45"/>
<circle class="gy" cx="458.8" cy="347.4" r="2.45"/>
<circle class="gy" cx="468.5" cy="379.1" r="2.45"/>
<circle class="gy" cx="450.9" cy="364.6" r="2.45"/>
<circle class="gy" cx="456.9" cy="359.1" r="2.45"/>
<circle class="gy" cx="467.1" cy="379.7" r="2.45"/>
<circle class="gy" cx="471.8" cy="356.5" r="2.45"/>
<circle class="gy" cx="471.2" cy="362.7" r="2.45"/>
<circle class="gy" cx="452.5" cy="368.2" r="2.45"/>
<circle class="gy" cx="463.2" cy="359.4" r="2.45"/>
<circle class="gy" cx="463.3" cy="391.4" r="2.45"/>
<circle class="gy" cx="451.4" cy="362.7" r="2.45"/>
<circle class="gy" cx="452.6" cy="342.7" r="2.45"/>
<circle class="gy" cx="467.7" cy="393.9" r="2.45"/>
<circle class="gy" cx="475.9" cy="393.1" r="2.45"/>
<circle class="gy" cx="472.5" cy="352.8" r="2.45"/>
<circle class="gy" cx="467.9" cy="363.5" r="2.45"/>
<circle class="gy" cx="466.4" cy="367.6" r="2.45"/>
<circle class="gy" cx="479.9" cy="365.4" r="2.45"/>
<circle class="gy" cx="455.2" cy="336.4" r="2.45"/>
<circle class="gy" cx="454.2" cy="350.2" r="2.45"/>
<circle class="gy" cx="459" cy="354.9" r="2.45"/>
<circle class="gy" cx="463.9" cy="346.5" r="2.45"/>
<circle class="gy" cx="471" cy="379.9" r="2.45"/>
<circle class="gy" cx="463.2" cy="393.6" r="2.45"/>
<circle class="gy" cx="450.3" cy="357.8" r="2.45"/>
<circle class="gy" cx="461.6" cy="396.2" r="2.45"/>
<circle class="gy" cx="460.1" cy="352.5" r="2.45"/>
<circle class="gy" cx="445.5" cy="372.5" r="2.45"/>
<circle class="gy" cx="474.5" cy="362.6" r="2.45"/>
<circle class="gy" cx="458.9" cy="389.4" r="2.45"/>
<circle class="gy" cx="460.1" cy="385.2" r="2.45"/>
<circle class="gy" cx="473.5" cy="402" r="2.45"/>
<circle class="gy" cx="484" cy="376.7" r="2.45"/>
<circle class="gy" cx="462.1" cy="387.5" r="2.45"/>
<circle class="gy" cx="459.4" cy="376.1" r="2.45"/>
<circle class="gy" cx="470.9" cy="373.8" r="2.45"/>
<circle class="gy" cx="457.8" cy="345.6" r="2.45"/>
<circle class="gy" cx="457.6" cy="366.8" r="2.45"/>
<circle class="gy" cx="472.8" cy="356.4" r="2.45"/>
<circle class="gy" cx="467.9" cy="389" r="2.45"/>
<circle class="gy" cx="471.5" cy="395.4" r="2.45"/>
<circle class="gy" cx="468.5" cy="367.6" r="2.45"/>
<circle class="gy" cx="471.4" cy="361.7" r="2.45"/>
<circle class="gy" cx="467.4" cy="366.8" r="2.45"/>
<circle class="gy" cx="471.9" cy="380.6" r="2.45"/>
<circle class="gy" cx="455.5" cy="358.9" r="2.45"/>
<circle class="gy" cx="470.7" cy="386.1" r="2.45"/>
<circle class="gy" cx="472.5" cy="356.9" r="2.45"/>
<circle class="gy" cx="474" cy="389.5" r="2.45"/>
<circle class="gy" cx="455.1" cy="351.3" r="2.45"/>
<circle class="gy" cx="461.9" cy="362.1" r="2.45"/>
<circle class="gy" cx="453.7" cy="338.6" r="2.45"/>
<circle class="gy" cx="464.4" cy="377.5" r="2.45"/>
<circle class="gy" cx="465.3" cy="398.9" r="2.45"/>
<circle class="gy" cx="465.1" cy="381.5" r="2.45"/>
<circle class="gy" cx="457.5" cy="349" r="2.45"/>
<circle class="gy" cx="465.9" cy="368.7" r="2.45"/>
<circle class="gy" cx="480.1" cy="362.5" r="2.45"/>
<circle class="gy" cx="470.4" cy="360.3" r="2.45"/>
<circle class="gy" cx="453.8" cy="348.9" r="2.45"/>
<circle class="gy" cx="461" cy="376.5" r="2.45"/>
<circle class="gy" cx="476.5" cy="372.1" r="2.45"/>
<polygon class="gys" points="485.8,372 486.7,374.5 489.4,374.6 487.3,376.3 488,378.9 485.8,377.4 483.6,378.9 484.3,376.3 482.2,374.6 484.9,374.5"/>
<circle class="gy" cx="458.8" cy="372.4" r="2.45"/>
<circle class="gy" cx="465.4" cy="378.1" r="2.45"/>
<circle class="gy" cx="469.7" cy="365" r="2.45"/>
<polygon class="gys" points="469.3,329.9 470.2,332.4 472.9,332.5 470.8,334.2 471.5,336.8 469.3,335.3 467.1,336.8 467.8,334.2 465.7,332.5 468.4,332.4"/>
<circle class="gy" cx="459.6" cy="370.5" r="2.45"/>
<circle class="gy" cx="466.8" cy="345" r="2.45"/>
<polygon class="gys" points="484.3,400.9 485.2,403.4 487.9,403.5 485.8,405.2 486.5,407.8 484.3,406.3 482.1,407.8 482.8,405.2 480.7,403.5 483.4,403.4"/>
<polygon class="gys" points="465.4,408.2 466.3,410.7 469,410.8 466.9,412.5 467.6,415.1 465.4,413.6 463.2,415.1 463.9,412.5 461.8,410.8 464.5,410.7"/>
<circle class="gy" cx="453.7" cy="373.2" r="2.45"/>
<circle class="gy" cx="455.5" cy="352.6" r="2.45"/>
<polygon class="gys" points="466,356.2 466.9,358.7 469.6,358.8 467.5,360.5 468.2,363.1 466,361.6 463.8,363.1 464.5,360.5 462.4,358.8 465.1,358.7"/>
<circle class="gy" cx="459" cy="389.3" r="2.45"/>
<polygon class="gys" points="494,381.9 494.9,384.4 497.6,384.5 495.5,386.2 496.2,388.8 494,387.3 491.8,388.8 492.5,386.2 490.4,384.5 493.1,384.4"/>
<circle class="gy" cx="444" cy="377.5" r="2.45"/>
<polygon class="gys" points="486.9,408.2 487.8,410.7 490.5,410.8 488.4,412.5 489.1,415.1 486.9,413.6 484.7,415.1 485.4,412.5 483.3,410.8 486,410.7"/>
<circle class="gy" cx="457.6" cy="345.3" r="2.45"/>
<polygon class="gys" points="476,348.2 476.9,350.7 479.6,350.8 477.5,352.5 478.2,355.1 476,353.6 473.8,355.1 474.5,352.5 472.4,350.8 475.1,350.7"/>
<polygon class="gys" points="468,380.2 468.9,382.7 471.6,382.8 469.5,384.5 470.2,387.1 468,385.6 465.8,387.1 466.5,384.5 464.4,382.8 467.1,382.7"/>
<circle class="gy" cx="460.3" cy="382.9" r="2.45"/>
<polygon class="gys" points="457.7,327 458.6,329.5 461.3,329.6 459.2,331.3 459.9,333.9 457.7,332.4 455.5,333.9 456.2,331.3 454.1,329.6 456.8,329.5"/>
<circle class="gy" cx="463.9" cy="375.9" r="2.45"/>
<circle class="gy" cx="452.6" cy="344.2" r="2.45"/>
<circle class="gy" cx="469.5" cy="350.9" r="2.45"/>
<polygon class="gys" points="470,334.2 470.9,336.7 473.6,336.8 471.5,338.5 472.2,341.1 470,339.6 467.8,341.1 468.5,338.5 466.4,336.8 469.1,336.7"/>
<circle class="gy" cx="463.7" cy="350.1" r="2.45"/>
<circle class="gy" cx="468.5" cy="376.5" r="2.45"/>
<polygon class="gys" points="445.9,349.6 446.8,352.1 449.5,352.2 447.4,353.9 448.1,356.5 445.9,355 443.7,356.5 444.4,353.9 442.3,352.2 445,352.1"/>
<circle class="gy" cx="475.2" cy="396.7" r="2.45"/>
<polygon class="gys" points="481,361.2 481.9,363.7 484.6,363.8 482.5,365.5 483.2,368.1 481,366.6 478.8,368.1 479.5,365.5 477.4,363.8 480.1,363.7"/>
<circle class="gy" cx="446.1" cy="387.9" r="2.45"/>
<polygon class="gys" points="491.3,387.8 492.2,390.3 494.9,390.4 492.8,392.1 493.5,394.7 491.3,393.2 489.1,394.7 489.8,392.1 487.7,390.4 490.4,390.3"/>
<polygon class="gys" points="470.4,403.2 471.3,405.7 474,405.8 471.9,407.5 472.6,410.1 470.4,408.6 468.2,410.1 468.9,407.5 466.8,405.8 469.5,405.7"/>
<circle class="gy" cx="461.1" cy="374.6" r="2.45"/>
<polygon class="gys" points="458,342.2 458.9,344.7 461.6,344.8 459.5,346.5 460.2,349.1 458,347.6 455.8,349.1 456.5,346.5 454.4,344.8 457.1,344.7"/>
<circle class="gy" cx="479.6" cy="385.6" r="2.45"/>
<circle class="gn" cx="338.2" cy="413.5" r="2.45"/>
<circle class="gn" cx="341.1" cy="398.8" r="2.45"/>
<circle class="gn" cx="327" cy="409.6" r="2.45"/>
<circle class="gn" cx="340.9" cy="421.3" r="2.45"/>
<circle class="gn" cx="366.6" cy="395.7" r="2.45"/>
<circle class="gn" cx="355.4" cy="391.6" r="2.45"/>
<circle class="gn" cx="349.7" cy="429.2" r="2.45"/>
<circle class="gn" cx="350" cy="394.5" r="2.45"/>
<circle class="gn" cx="323.5" cy="394.8" r="2.45"/>
<circle class="gn" cx="346.5" cy="407.5" r="2.45"/>
<circle class="gn" cx="341.2" cy="411.7" r="2.45"/>
<circle class="gn" cx="349.9" cy="355.2" r="2.45"/>
<circle class="gn" cx="354" cy="398.4" r="2.45"/>
<circle class="gn" cx="333.4" cy="418.2" r="2.45"/>
<circle class="gn" cx="342.2" cy="418.2" r="2.45"/>
<circle class="gn" cx="333.4" cy="437.4" r="2.45"/>
<circle class="gn" cx="352.9" cy="412.5" r="2.45"/>
<circle class="gn" cx="347" cy="359.8" r="2.45"/>
<circle class="gn" cx="351" cy="416.8" r="2.45"/>
<circle class="gn" cx="312.7" cy="361" r="2.45"/>
<circle class="gn" cx="341" cy="399.3" r="2.45"/>
<circle class="gn" cx="342.7" cy="388.2" r="2.45"/>
<circle class="gn" cx="333.1" cy="381.3" r="2.45"/>
<circle class="gn" cx="351" cy="369.5" r="2.45"/>
<circle class="gn" cx="347.8" cy="407" r="2.45"/>
<circle class="gn" cx="359" cy="392.8" r="2.45"/>
<circle class="gn" cx="353.6" cy="387.9" r="2.45"/>
<circle class="gn" cx="339.1" cy="381.2" r="2.45"/>
<circle class="gn" cx="331.6" cy="419.1" r="2.45"/>
<circle class="gn" cx="352.3" cy="406" r="2.45"/>
<circle class="gn" cx="345.4" cy="392.2" r="2.45"/>
<circle class="gn" cx="331.1" cy="377.8" r="2.45"/>
<circle class="gn" cx="341" cy="436" r="2.45"/>
<circle class="gn" cx="346.8" cy="392.1" r="2.45"/>
<circle class="gn" cx="341.9" cy="372.5" r="2.45"/>
<circle class="gn" cx="350.3" cy="368.6" r="2.45"/>
<circle class="gn" cx="329.8" cy="374" r="2.45"/>
<circle class="gn" cx="333.8" cy="384.2" r="2.45"/>
<circle class="gn" cx="337.3" cy="416.4" r="2.45"/>
<circle class="gn" cx="337.4" cy="403.9" r="2.45"/>
<circle class="gn" cx="353.3" cy="380.5" r="2.45"/>
<circle class="gn" cx="357.3" cy="414.5" r="2.45"/>
<circle class="gn" cx="338.1" cy="422.2" r="2.45"/>
<circle class="gn" cx="340.6" cy="429.4" r="2.45"/>
<circle class="gn" cx="343.6" cy="390.3" r="2.45"/>
<circle class="gn" cx="351.6" cy="426.8" r="2.45"/>
<circle class="gn" cx="343.7" cy="417.5" r="2.45"/>
<circle class="gn" cx="325.7" cy="402.6" r="2.45"/>
<circle class="gn" cx="349.7" cy="385.6" r="2.45"/>
<circle class="gn" cx="322.8" cy="417.4" r="2.45"/>
<circle class="gn" cx="337.1" cy="394.5" r="2.45"/>
<circle class="gn" cx="352.6" cy="430.6" r="2.45"/>
<circle class="gn" cx="342.5" cy="370.6" r="2.45"/>
<circle class="gn" cx="323.3" cy="394.1" r="2.45"/>
<circle class="gn" cx="343.6" cy="390.7" r="2.45"/>
<circle class="gn" cx="361.3" cy="375.4" r="2.45"/>
<circle class="gn" cx="340.9" cy="367.1" r="2.45"/>
<circle class="gn" cx="351.4" cy="388" r="2.45"/>
<circle class="gn" cx="338.6" cy="406.9" r="2.45"/>
<circle class="gn" cx="343.5" cy="417" r="2.45"/>
<circle class="gn" cx="349.3" cy="405.2" r="2.45"/>
<circle class="gn" cx="345" cy="393.9" r="2.45"/>
<circle class="gn" cx="330.4" cy="393.7" r="2.45"/>
<circle class="gn" cx="333.9" cy="416.7" r="2.45"/>
<circle class="gn" cx="351.8" cy="413.2" r="2.45"/>
<circle class="gn" cx="346.5" cy="404.7" r="2.45"/>
<circle class="gn" cx="336.4" cy="418.9" r="2.45"/>
<circle class="gn" cx="344.9" cy="391.2" r="2.45"/>
<circle class="gn" cx="331.1" cy="392.7" r="2.45"/>
<circle class="gn" cx="344.3" cy="374" r="2.45"/>
<circle class="gn" cx="345.5" cy="370.1" r="2.45"/>
<circle class="gn" cx="345" cy="433" r="2.45"/>
<circle class="gn" cx="345.9" cy="375.6" r="2.45"/>
<circle class="gn" cx="326.2" cy="376.1" r="2.45"/>
<circle class="gn" cx="353" cy="371.3" r="2.45"/>
<circle class="gn" cx="335.7" cy="400.6" r="2.45"/>
<circle class="gn" cx="340.8" cy="378.8" r="2.45"/>
<circle class="gn" cx="345.5" cy="419.4" r="2.45"/>
<circle class="gn" cx="329.5" cy="379.6" r="2.45"/>
<circle class="gn" cx="336.3" cy="399.3" r="2.45"/>
<circle class="gn" cx="348.1" cy="414.3" r="2.45"/>
<circle class="gn" cx="354" cy="402.5" r="2.45"/>
<circle class="gn" cx="341.2" cy="412" r="2.45"/>
<circle class="gn" cx="350.1" cy="405.3" r="2.45"/>
<circle class="gn" cx="346.4" cy="411.4" r="2.45"/>
<circle class="gn" cx="349.8" cy="402" r="2.45"/>
<circle class="gn" cx="353.7" cy="390.9" r="2.45"/>
<circle class="gn" cx="340.8" cy="377.1" r="2.45"/>
<circle class="gn" cx="357.6" cy="382.6" r="2.45"/>
<circle class="gn" cx="336.5" cy="396.3" r="2.45"/>
<circle class="gn" cx="348.1" cy="425.5" r="2.45"/>
<circle class="gn" cx="330.7" cy="400" r="2.45"/>
<circle class="gn" cx="326.8" cy="397.9" r="2.45"/>
<circle class="gn" cx="341.7" cy="381" r="2.45"/>
<circle class="gn" cx="328.1" cy="374.7" r="2.45"/>
<circle class="gn" cx="362.1" cy="386.6" r="2.45"/>
<circle class="gn" cx="356.2" cy="389.8" r="2.45"/>
<circle class="gn" cx="322" cy="400.2" r="2.45"/>
<circle class="gn" cx="348.2" cy="408.9" r="2.45"/>
<circle class="gn" cx="359.3" cy="411.5" r="2.45"/>
<circle class="gn" cx="356.5" cy="377" r="2.45"/>
<circle class="gn" cx="347.6" cy="368.8" r="2.45"/>
<circle class="gn" cx="346.8" cy="381.2" r="2.45"/>
<circle class="gn" cx="337.2" cy="425.2" r="2.45"/>
<circle class="gn" cx="347.8" cy="393.3" r="2.45"/>
<circle class="gn" cx="359.9" cy="393.4" r="2.45"/>
<circle class="gn" cx="337" cy="369.8" r="2.45"/>
<circle class="gn" cx="339.6" cy="381.3" r="2.45"/>
<circle class="gn" cx="347.7" cy="386.1" r="2.45"/>
<circle class="gn" cx="345.2" cy="370.8" r="2.45"/>
<circle class="gn" cx="359.8" cy="395.6" r="2.45"/>
<circle class="gn" cx="343.3" cy="383" r="2.45"/>
<circle class="gn" cx="349.8" cy="416.2" r="2.45"/>
<circle class="gn" cx="331.3" cy="404.1" r="2.45"/>
<circle class="gn" cx="336.8" cy="425" r="2.45"/>
<circle class="gn" cx="327.6" cy="386.5" r="2.45"/>
<circle class="gn" cx="325.1" cy="396.2" r="2.45"/>
<circle class="gn" cx="359.5" cy="391.1" r="2.45"/>
<circle class="gn" cx="319.7" cy="393.4" r="2.45"/>
<circle class="gn" cx="331.5" cy="423.8" r="2.45"/>
<circle class="gn" cx="355.6" cy="411.1" r="2.45"/>
<circle class="gn" cx="364.4" cy="370.6" r="2.45"/>
<circle class="gn" cx="328.2" cy="378.4" r="2.45"/>
<circle class="gn" cx="332.6" cy="348.4" r="2.45"/>
<circle class="gn" cx="337.9" cy="415" r="2.45"/>
<circle class="gn" cx="326.5" cy="396.6" r="2.45"/>
<circle class="gn" cx="338.4" cy="369.3" r="2.45"/>
<circle class="gn" cx="336.2" cy="418.7" r="2.45"/>
<circle class="gn" cx="342" cy="413" r="2.45"/>
<circle class="gn" cx="333.7" cy="404.3" r="2.45"/>
<circle class="gn" cx="337.9" cy="383.2" r="2.45"/>
<circle class="gn" cx="330.3" cy="388.6" r="2.45"/>
<circle class="gn" cx="354.8" cy="378.1" r="2.45"/>
<circle class="gn" cx="330.2" cy="400.3" r="2.45"/>
<circle class="gn" cx="329.1" cy="381.6" r="2.45"/>
<circle class="gn" cx="338.9" cy="379.6" r="2.45"/>
<circle class="gn" cx="347" cy="417.8" r="2.45"/>
<circle class="gn" cx="332.1" cy="390.4" r="2.45"/>
<circle class="gn" cx="362.9" cy="405.9" r="2.45"/>
<circle class="gn" cx="332.6" cy="369" r="2.45"/>
<circle class="gn" cx="337.1" cy="366.9" r="2.45"/>
<circle class="gn" cx="331.7" cy="412.9" r="2.45"/>
<circle class="gn" cx="354.3" cy="382.3" r="2.45"/>
<circle class="gn" cx="328.1" cy="409.7" r="2.45"/>
<circle class="gn" cx="335.3" cy="387.2" r="2.45"/>
<circle class="gn" cx="353.1" cy="420.2" r="2.45"/>
<circle class="gn" cx="346.5" cy="426.5" r="2.45"/>
<circle class="gn" cx="364.7" cy="406" r="2.45"/>
<circle class="gn" cx="353.8" cy="372.4" r="2.45"/>
<circle class="gn" cx="345.6" cy="412.4" r="2.45"/>
<circle class="gn" cx="345.3" cy="438.1" r="2.45"/>
<circle class="gn" cx="330.2" cy="401.4" r="2.45"/>
<circle class="gn" cx="345.2" cy="408.1" r="2.45"/>
<circle class="gn" cx="333.8" cy="394.3" r="2.45"/>
<circle class="gn" cx="327.4" cy="380" r="2.45"/>
<circle class="gn" cx="346.8" cy="422.6" r="2.45"/>
<circle class="gn" cx="325.3" cy="393.4" r="2.45"/>
<circle class="gn" cx="331.8" cy="400.5" r="2.45"/>
<circle class="gn" cx="351.9" cy="421.8" r="2.45"/>
<circle class="gn" cx="360.4" cy="404.6" r="2.45"/>
<circle class="gn" cx="360.8" cy="382.6" r="2.45"/>
<circle class="gn" cx="350.1" cy="400.9" r="2.45"/>
<circle class="gn" cx="355.5" cy="411.2" r="2.45"/>
<circle class="gn" cx="341.2" cy="410.2" r="2.45"/>
<circle class="gn" cx="351.3" cy="407.7" r="2.45"/>
<circle class="gn" cx="341" cy="392.1" r="2.45"/>
<circle class="gn" cx="339.7" cy="413.1" r="2.45"/>
<circle class="gn" cx="333.9" cy="407.3" r="2.45"/>
<circle class="gn" cx="334.1" cy="391.4" r="2.45"/>
<circle class="gn" cx="336.7" cy="409.6" r="2.45"/>
<circle class="gn" cx="319.5" cy="412.2" r="2.45"/>
<circle class="gn" cx="338.6" cy="416.8" r="2.45"/>
<circle class="gn" cx="335.9" cy="385.1" r="2.45"/>
<circle class="gn" cx="351.1" cy="367.9" r="2.45"/>
<circle class="gn" cx="325.4" cy="410.2" r="2.45"/>
<circle class="gn" cx="349.4" cy="392.4" r="2.45"/>
<circle class="gn" cx="349.7" cy="392.7" r="2.45"/>
<circle class="gn" cx="328.6" cy="377.2" r="2.45"/>
<circle class="gn" cx="346" cy="419.9" r="2.45"/>
<circle class="gn" cx="327.1" cy="419.1" r="2.45"/>
<circle class="gn" cx="331.6" cy="424.9" r="2.45"/>
<circle class="gn" cx="319" cy="404.3" r="2.45"/>
<circle class="gn" cx="333.9" cy="360.6" r="2.45"/>
<circle class="gn" cx="353.2" cy="370.3" r="2.45"/>
<circle class="gn" cx="323.9" cy="387.2" r="2.45"/>
<circle class="gn" cx="358.6" cy="382.4" r="2.45"/>
<circle class="gn" cx="355.7" cy="416.4" r="2.45"/>
<circle class="gn" cx="339.8" cy="404.9" r="2.45"/>
<circle class="gn" cx="334.6" cy="388.8" r="2.45"/>
<circle class="gn" cx="331.5" cy="376.1" r="2.45"/>
<circle class="gn" cx="346.1" cy="414.5" r="2.45"/>
<circle class="gn" cx="347.4" cy="399.7" r="2.45"/>
<circle class="gn" cx="330" cy="409.8" r="2.45"/>
<circle class="gn" cx="344.6" cy="372.7" r="2.45"/>
<circle class="gn" cx="357.6" cy="364.7" r="2.45"/>
<circle class="gn" cx="335.5" cy="380.1" r="2.45"/>
<circle class="gn" cx="336.4" cy="367.1" r="2.45"/>
<circle class="gn" cx="336.2" cy="428.2" r="2.45"/>
<circle class="gn" cx="344.1" cy="388.3" r="2.45"/>
<circle class="gn" cx="335.2" cy="413.7" r="2.45"/>
<circle class="gn" cx="356.2" cy="365.4" r="2.45"/>
<circle class="gn" cx="364.8" cy="415.7" r="2.45"/>
<circle class="gn" cx="338.7" cy="429.2" r="2.45"/>
<circle class="gn" cx="325.4" cy="373.8" r="2.45"/>
<circle class="gn" cx="354.7" cy="382.8" r="2.45"/>
<circle class="gn" cx="331.4" cy="419.2" r="2.45"/>
<circle class="gn" cx="348.2" cy="421.3" r="2.45"/>
<circle class="gn" cx="348.1" cy="426.9" r="2.45"/>
<circle class="gn" cx="342" cy="378" r="2.45"/>
<circle class="gn" cx="344.1" cy="393" r="2.45"/>
<circle class="gn" cx="345.9" cy="367.2" r="2.45"/>
<circle class="gn" cx="353.8" cy="397.6" r="2.45"/>
<circle class="gn" cx="352.5" cy="420" r="2.45"/>
<circle class="gn" cx="349.6" cy="389.9" r="2.45"/>
<circle class="gn" cx="350.5" cy="410.9" r="2.45"/>
<circle class="gn" cx="331.2" cy="393.6" r="2.45"/>
<circle class="gn" cx="337.2" cy="401.3" r="2.45"/>
<circle class="gn" cx="343.4" cy="385.9" r="2.45"/>
<circle class="gn" cx="349.3" cy="412.2" r="2.45"/>
<circle class="gn" cx="336.9" cy="393.2" r="2.45"/>
<circle class="gn" cx="323.3" cy="406.7" r="2.45"/>
<circle class="gn" cx="344.1" cy="404.5" r="2.45"/>
<circle class="gn" cx="335" cy="405.3" r="2.45"/>
<circle class="gn" cx="351.6" cy="418.4" r="2.45"/>
<circle class="gn" cx="339.3" cy="367.4" r="2.45"/>
<circle class="gn" cx="358" cy="407.8" r="2.45"/>
<circle class="gn" cx="333.9" cy="404.6" r="2.45"/>
<circle class="gn" cx="330.7" cy="423.6" r="2.45"/>
<circle class="gn" cx="345.6" cy="364.3" r="2.45"/>
<circle class="gn" cx="334.5" cy="403.3" r="2.45"/>
<circle class="gn" cx="353.3" cy="411.4" r="2.45"/>
<circle class="gn" cx="344.5" cy="419.9" r="2.45"/>
<circle class="gn" cx="341.2" cy="368.4" r="2.45"/>
<circle class="gn" cx="347.7" cy="414.4" r="2.45"/>
<circle class="gn" cx="333.9" cy="425.6" r="2.45"/>
<circle class="gn" cx="357.3" cy="412.2" r="2.45"/>
<circle class="gn" cx="339.1" cy="431.8" r="2.45"/>
<circle class="gn" cx="352.8" cy="402.1" r="2.45"/>
<circle class="gn" cx="342.6" cy="367.5" r="2.45"/>
<circle class="gn" cx="356.4" cy="395.3" r="2.45"/>
<circle class="gn" cx="350.4" cy="371" r="2.45"/>
<circle class="gn" cx="335.7" cy="412.1" r="2.45"/>
<circle class="gn" cx="351.2" cy="371.4" r="2.45"/>
<circle class="gn" cx="330" cy="406.8" r="2.45"/>
<circle class="gn" cx="341.4" cy="390.3" r="2.45"/>
<circle class="gn" cx="334.7" cy="404.5" r="2.45"/>
<circle class="gn" cx="362.2" cy="395.9" r="2.45"/>
<circle class="gn" cx="342.6" cy="402.5" r="2.45"/>
<circle class="gn" cx="326" cy="384.1" r="2.45"/>
<circle class="gn" cx="347.4" cy="400.9" r="2.45"/>
<circle class="gn" cx="342.8" cy="378.5" r="2.45"/>
<circle class="gn" cx="352.4" cy="383" r="2.45"/>
<circle class="gn" cx="342.5" cy="396.2" r="2.45"/>
<circle class="gn" cx="337.2" cy="374.1" r="2.45"/>
<circle class="gn" cx="322.5" cy="390.4" r="2.45"/>
<circle class="gn" cx="323.5" cy="408.3" r="2.45"/>
<circle class="gn" cx="347.1" cy="387.9" r="2.45"/>
<circle class="gn" cx="331.8" cy="382.1" r="2.45"/>
<circle class="gn" cx="325.2" cy="410.3" r="2.45"/>
<circle class="gn" cx="343.8" cy="378.6" r="2.45"/>
<circle class="gn" cx="342.2" cy="390.2" r="2.45"/>
<circle class="gn" cx="334.9" cy="427.3" r="2.45"/>
<circle class="gn" cx="340.3" cy="363" r="2.45"/>
<circle class="gn" cx="360.7" cy="383.3" r="2.45"/>
<circle class="gn" cx="352.4" cy="359.5" r="2.45"/>
<circle class="gn" cx="342" cy="418.4" r="2.45"/>
<circle class="gn" cx="338.7" cy="394.7" r="2.45"/>
<circle class="gn" cx="345.9" cy="353.6" r="2.45"/>
<circle class="gn" cx="343.8" cy="420.8" r="2.45"/>
<circle class="gn" cx="331.2" cy="381" r="2.45"/>
<circle class="gn" cx="353.2" cy="408.8" r="2.45"/>
<circle class="gn" cx="328.5" cy="400.4" r="2.45"/>
<circle class="gn" cx="330.1" cy="396.3" r="2.45"/>
<circle class="gn" cx="336.7" cy="420.5" r="2.45"/>
<circle class="gn" cx="330.5" cy="409.7" r="2.45"/>
<circle class="gn" cx="353.3" cy="408.5" r="2.45"/>
<circle class="gn" cx="344.9" cy="384.9" r="2.45"/>
<circle class="gn" cx="347.7" cy="399.4" r="2.45"/>
<circle class="gn" cx="326.5" cy="379.8" r="2.45"/>
<circle class="gn" cx="337.7" cy="368.5" r="2.45"/>
<circle class="gn" cx="351.3" cy="431.3" r="2.45"/>
<polygon class="gns" points="351.2,404.1 352.2,406.6 354.8,406.7 352.7,408.3 353.5,410.9 351.2,409.4 349,410.9 349.7,408.3 347.6,406.7 350.3,406.6"/>
<circle class="gn" cx="325.9" cy="409.9" r="2.45"/>
<polygon class="gns" points="324,388.6 324.9,391.1 327.6,391.2 325.5,392.9 326.2,395.5 324,394 321.7,395.5 322.4,392.9 320.3,391.2 323,391.1"/>
<polygon class="gns" points="360.5,367.6 361.4,370.1 364.1,370.2 362,371.9 362.7,374.4 360.5,373 358.2,374.4 359,371.9 356.9,370.2 359.5,370.1"/>
<circle class="gn" cx="353.6" cy="396.4" r="2.45"/>
<polygon class="gns" points="346,374.2 346.9,376.7 349.6,376.8 347.5,378.5 348.2,381.1 346,379.6 343.8,381.1 344.5,378.5 342.4,376.8 345.1,376.7"/>
<circle class="gn" cx="358.5" cy="371.9" r="2.45"/>
<circle class="gn" cx="340.5" cy="376.5" r="2.45"/>
<polygon class="gns" points="318,421.2 318.9,423.7 321.6,423.8 319.5,425.5 320.2,428.1 318,426.6 315.8,428.1 316.5,425.5 314.4,423.8 317.1,423.7"/>
<circle class="gn" cx="327.7" cy="394" r="2.45"/>
<circle class="gn" cx="355.3" cy="382.2" r="2.45"/>
<circle class="gn" cx="324.3" cy="403.3" r="2.45"/>
<polygon class="gns" points="325.3,403.1 326.3,405.6 329,405.7 326.9,407.4 327.6,409.9 325.3,408.5 323.1,409.9 323.8,407.4 321.7,405.7 324.4,405.6"/>
<circle class="gn" cx="344.8" cy="405.6" r="2.45"/>
<polygon class="gns" points="321.4,367.4 322.3,369.9 325,370 322.9,371.7 323.6,374.3 321.4,372.8 319.1,374.3 319.8,371.7 317.7,370 320.4,369.9"/>
<circle class="gn" cx="341.4" cy="384.3" r="2.45"/>
<polygon class="gns" points="363.4,387.8 364.3,390.3 367,390.4 364.9,392.1 365.6,394.7 363.4,393.2 361.1,394.7 361.8,392.1 359.7,390.4 362.4,390.3"/>
<polygon class="gns" points="321.8,391.7 322.8,394.2 325.5,394.3 323.4,396 324.1,398.5 321.8,397.1 319.6,398.5 320.3,396 318.2,394.3 320.9,394.2"/>
<circle class="gn" cx="333.4" cy="420.2" r="2.45"/>
<circle class="gn" cx="348.8" cy="391" r="2.45"/>
<circle class="gn" cx="336.9" cy="367.2" r="2.45"/>
<polygon class="gns" points="344.4,380.3 345.3,382.8 348,382.9 345.9,384.6 346.6,387.2 344.4,385.7 342.1,387.2 342.8,384.6 340.7,382.9 343.4,382.8"/>
<circle class="gn" cx="325.1" cy="421.3" r="2.45"/>
<polygon class="gns" points="323.1,392.8 324,395.3 326.7,395.4 324.6,397.1 325.3,399.7 323.1,398.2 320.8,399.7 321.6,397.1 319.5,395.4 322.1,395.3"/>
<polygon class="gns" points="363.2,365 364.2,367.5 366.9,367.6 364.8,369.3 365.5,371.9 363.2,370.4 361,371.9 361.7,369.3 359.6,367.6 362.3,367.5"/>
<polygon class="gns" points="323.7,404.5 324.6,407 327.3,407.1 325.2,408.8 325.9,411.4 323.7,409.9 321.4,411.4 322.1,408.8 320.1,407.1 322.7,407"/>
<polygon class="gns" points="329.9,407.1 330.9,409.6 333.5,409.7 331.4,411.4 332.2,414 329.9,412.5 327.7,414 328.4,411.4 326.3,409.7 329,409.6"/>
<circle class="gn" cx="345.9" cy="414.5" r="2.45"/>
<circle class="gn" cx="339.9" cy="390.6" r="2.45"/>
<polygon class="gns" points="322.2,363.1 323.2,365.7 325.8,365.8 323.8,367.4 324.5,370 322.2,368.5 320,370 320.7,367.4 318.6,365.8 321.3,365.7"/>
<polygon class="gns" points="361.9,367.7 362.8,370.2 365.5,370.3 363.4,372 364.1,374.6 361.9,373.1 359.6,374.6 360.4,372 358.3,370.3 360.9,370.2"/>
<circle class="gn" cx="336.2" cy="395.9" r="2.45"/>
<polygon class="gns" points="316.4,387.2 317.4,389.7 320.1,389.8 318,391.5 318.7,394.1 316.4,392.6 314.2,394.1 314.9,391.5 312.8,389.8 315.5,389.7"/>
<polygon class="gns" points="333.5,372.7 334.4,375.2 337.1,375.3 335,377 335.7,379.6 333.5,378.1 331.2,379.6 331.9,377 329.8,375.3 332.5,375.2"/>
<polygon class="gns" points="345,396.4 345.9,398.9 348.6,399 346.5,400.7 347.2,403.2 345,401.8 342.7,403.2 343.4,400.7 341.3,399 344,398.9"/>
<polygon class="gns" points="314.5,333.6 315.4,336.1 318.1,336.2 316,337.9 316.7,340.5 314.5,339 312.3,340.5 313,337.9 310.9,336.2 313.6,336.1"/>
<polygon class="gns" points="317.6,389.5 318.5,392 321.2,392.1 319.1,393.8 319.8,396.4 317.6,394.9 315.4,396.4 316.1,393.8 314,392.1 316.7,392"/>
<polygon class="gns" points="359.6,387.7 360.6,390.2 363.2,390.3 361.1,391.9 361.9,394.5 359.6,393 357.4,394.5 358.1,391.9 356,390.3 358.7,390.2"/>
<polygon class="gns" points="331.1,376.6 332.1,379.1 334.7,379.2 332.6,380.9 333.3,383.4 331.1,382 328.9,383.4 329.6,380.9 327.5,379.2 330.2,379.1"/>
<circle class="gn" cx="335.7" cy="406.8" r="2.45"/>
<polygon class="gns" points="362.6,389.6 363.5,392.1 366.2,392.2 364.1,393.9 364.8,396.4 362.6,395 360.4,396.4 361.1,393.9 359,392.2 361.7,392.1"/>
<polygon class="gns" points="318.4,393.4 319.3,395.9 322,396 319.9,397.7 320.6,400.3 318.4,398.8 316.2,400.3 316.9,397.7 314.8,396 317.5,395.9"/>
<circle class="gn" cx="344.6" cy="382.1" r="2.45"/>
<polygon class="gns" points="333,394.2 333.9,396.7 336.6,396.8 334.5,398.5 335.2,401.1 333,399.6 330.8,401.1 331.5,398.5 329.4,396.8 332.1,396.7"/>
<polygon class="gns" points="365,376.5 365.9,379.1 368.6,379.2 366.5,380.8 367.2,383.4 365,381.9 362.8,383.4 363.5,380.8 361.4,379.2 364.1,379.1"/>
<polygon class="gns" points="345,391.2 345.9,393.7 348.6,393.8 346.5,395.5 347.2,398.1 345,396.6 342.8,398.1 343.5,395.5 341.4,393.8 344.1,393.7"/>
<polygon class="gns" points="363.9,360.5 364.9,363 367.5,363.1 365.4,364.8 366.2,367.3 363.9,365.9 361.7,367.3 362.4,364.8 360.3,363.1 363,363"/>
<polygon class="gns" points="352,384.2 352.9,386.7 355.6,386.8 353.5,388.5 354.2,391.1 352,389.6 349.8,391.1 350.5,388.5 348.4,386.8 351.1,386.7"/>
<polygon class="gns" points="345.4,417.8 346.3,420.3 349,420.4 346.9,422.1 347.6,424.7 345.4,423.2 343.1,424.7 343.8,422.1 341.7,420.4 344.4,420.3"/>
<polygon class="gns" points="328.3,375.7 329.3,378.3 331.9,378.4 329.8,380 330.6,382.6 328.3,381.1 326.1,382.6 326.8,380 324.7,378.4 327.4,378.3"/>
<circle class="gn" cx="365.5" cy="373.5" r="2.45"/>
<polygon class="gns" points="337.9,374.9 338.8,377.4 341.5,377.5 339.4,379.1 340.1,381.7 337.9,380.2 335.6,381.7 336.4,379.1 334.3,377.5 336.9,377.4"/>
<polygon class="gns" points="327.1,392.3 328,394.8 330.7,394.9 328.6,396.6 329.3,399.1 327.1,397.7 324.9,399.1 325.6,396.6 323.5,394.9 326.2,394.8"/>
<polygon class="gns" points="331.2,374.6 332.2,377.1 334.8,377.3 332.7,378.9 333.4,381.5 331.2,380 329,381.5 329.7,378.9 327.6,377.3 330.3,377.1"/>
<polygon class="gns" points="330,392.8 330.9,395.3 333.6,395.4 331.5,397.1 332.2,399.6 330,398.2 327.7,399.6 328.4,397.1 326.3,395.4 329,395.3"/>
<polygon class="gns" points="334.5,386.5 335.5,389.1 338.2,389.2 336.1,390.8 336.8,393.4 334.5,391.9 332.3,393.4 333,390.8 330.9,389.2 333.6,389.1"/>
<circle class="gn" cx="337.9" cy="416.1" r="2.45"/>
<polygon class="gns" points="363.7,374 364.7,376.5 367.4,376.6 365.3,378.3 366,380.9 363.7,379.4 361.5,380.9 362.2,378.3 360.1,376.6 362.8,376.5"/>
<polygon class="gns" points="326.5,380.9 327.5,383.4 330.1,383.5 328,385.2 328.7,387.8 326.5,386.3 324.3,387.8 325,385.2 322.9,383.5 325.6,383.4"/>
<polygon class="gns" points="323.8,385.4 324.7,387.9 327.4,388.1 325.3,389.7 326,392.3 323.8,390.8 321.6,392.3 322.3,389.7 320.2,388.1 322.9,387.9"/>
<circle class="gn" cx="323.3" cy="411.8" r="2.45"/>
<polygon class="gns" points="326.5,403 327.5,405.5 330.1,405.6 328,407.3 328.8,409.9 326.5,408.4 324.3,409.9 325,407.3 322.9,405.6 325.6,405.5"/>
<circle class="gn" cx="341.8" cy="366.5" r="2.45"/>
<polygon class="gns" points="327.6,383.9 328.6,386.4 331.2,386.5 329.1,388.2 329.9,390.8 327.6,389.3 325.4,390.8 326.1,388.2 324,386.5 326.7,386.4"/>
<polygon class="gns" points="352.7,396.4 353.7,398.9 356.4,399.1 354.3,400.7 355,403.3 352.7,401.8 350.5,403.3 351.2,400.7 349.1,399.1 351.8,398.9"/>
<polygon class="gns" points="316.1,396.1 317,398.6 319.7,398.7 317.6,400.4 318.3,403 316.1,401.5 313.9,403 314.6,400.4 312.5,398.7 315.2,398.6"/>
<polygon class="gns" points="316.4,390.2 317.3,392.8 320,392.9 317.9,394.5 318.6,397.1 316.4,395.6 314.1,397.1 314.8,394.5 312.7,392.9 315.4,392.8"/>
<polygon class="gns" points="319.7,370.7 320.7,373.2 323.3,373.3 321.2,375 322,377.5 319.7,376.1 317.5,377.5 318.2,375 316.1,373.3 318.8,373.2"/>
<polygon class="gns" points="331.3,394.3 332.3,396.8 334.9,396.9 332.8,398.6 333.6,401.1 331.3,399.7 329.1,401.1 329.8,398.6 327.7,396.9 330.4,396.8"/>
<polygon class="gns" points="340,408.2 340.9,410.7 343.6,410.8 341.5,412.5 342.2,415.1 340,413.6 337.8,415.1 338.5,412.5 336.4,410.8 339.1,410.7"/>
<circle class="gn" cx="352.7" cy="373.8" r="2.45"/>
<polygon class="gns" points="323.7,380.4 324.7,382.9 327.3,383.1 325.2,384.7 326,387.3 323.7,385.8 321.5,387.3 322.2,384.7 320.1,383.1 322.8,382.9"/>
<polygon class="gns" points="344.5,364.3 345.4,366.8 348.1,366.9 346,368.6 346.7,371.2 344.5,369.7 342.3,371.2 343,368.6 340.9,366.9 343.6,366.8"/>
<polygon class="gns" points="364.7,374.4 365.6,377 368.3,377.1 366.2,378.7 366.9,381.3 364.7,379.8 362.4,381.3 363.2,378.7 361.1,377.1 363.7,377"/>
<polygon class="gns" points="364.1,392.2 365.1,394.8 367.7,394.9 365.6,396.5 366.4,399.1 364.1,397.6 361.9,399.1 362.6,396.5 360.5,394.9 363.2,394.8"/>
<polygon class="gns" points="328.4,394.9 329.4,397.4 332,397.5 329.9,399.2 330.6,401.8 328.4,400.3 326.2,401.8 326.9,399.2 324.8,397.5 327.5,397.4"/>
<polygon class="gns" points="355.4,388.4 356.3,391 359,391.1 356.9,392.7 357.6,395.3 355.4,393.8 353.2,395.3 353.9,392.7 351.8,391.1 354.5,391"/>
<polygon class="gns" points="337.2,399.5 338.1,402 340.8,402.1 338.7,403.7 339.4,406.3 337.2,404.8 334.9,406.3 335.7,403.7 333.6,402.1 336.2,402"/>
<circle class="gn" cx="343.9" cy="416.9" r="2.45"/>
<polygon class="gns" points="359.2,366.5 360.2,369 362.8,369.1 360.8,370.7 361.5,373.3 359.2,371.8 357,373.3 357.7,370.7 355.6,369.1 358.3,369"/>
<circle class="pu" cx="408.1" cy="384.9" r="2.45"/>
<circle class="pu" cx="424.4" cy="380.8" r="2.45"/>
<circle class="pu" cx="424.5" cy="419.9" r="2.45"/>
<circle class="pu" cx="416.7" cy="398.1" r="2.45"/>
<circle class="pu" cx="419.8" cy="421.7" r="2.45"/>
<circle class="pu" cx="409.3" cy="392.7" r="2.45"/>
<circle class="pu" cx="417.6" cy="407.2" r="2.45"/>
<circle class="pu" cx="425" cy="394.4" r="2.45"/>
<circle class="pu" cx="424.3" cy="415.4" r="2.45"/>
<circle class="pu" cx="409" cy="407.3" r="2.45"/>
<circle class="pu" cx="415.3" cy="389.7" r="2.45"/>
<circle class="pu" cx="425.1" cy="381.9" r="2.45"/>
<circle class="pu" cx="420" cy="411.5" r="2.45"/>
<circle class="pu" cx="424.4" cy="400.1" r="2.45"/>
<circle class="pu" cx="420.1" cy="417.3" r="2.45"/>
<circle class="pu" cx="421.7" cy="378.2" r="2.45"/>
<circle class="pu" cx="416.9" cy="399.5" r="2.45"/>
<circle class="pu" cx="431.9" cy="405.9" r="2.45"/>
<circle class="pu" cx="417.2" cy="422.1" r="2.45"/>
<circle class="pu" cx="424.6" cy="411.3" r="2.45"/>
<circle class="pu" cx="429.9" cy="392.5" r="2.45"/>
<circle class="pu" cx="412.4" cy="404.7" r="2.45"/>
<circle class="pu" cx="417.4" cy="388.4" r="2.45"/>
<circle class="pu" cx="416.8" cy="373.1" r="2.45"/>
<circle class="pu" cx="425.3" cy="389.4" r="2.45"/>
<circle class="pu" cx="418" cy="392.9" r="2.45"/>
<circle class="pu" cx="415.5" cy="387.9" r="2.45"/>
<circle class="pu" cx="430.8" cy="398.9" r="2.45"/>
<circle class="pu" cx="422.6" cy="433" r="2.45"/>
<circle class="pu" cx="409.3" cy="384.6" r="2.45"/>
<circle class="pu" cx="427.1" cy="419.6" r="2.45"/>
<circle class="pu" cx="420.4" cy="398.8" r="2.45"/>
<circle class="pu" cx="417.9" cy="374.5" r="2.45"/>
<circle class="pu" cx="418.2" cy="396.1" r="2.45"/>
<circle class="pu" cx="413.4" cy="403.3" r="2.45"/>
<circle class="pu" cx="422.1" cy="392.6" r="2.45"/>
<circle class="pu" cx="419.6" cy="417.7" r="2.45"/>
<circle class="pu" cx="421.9" cy="394.9" r="2.45"/>
<circle class="pu" cx="420.3" cy="393.9" r="2.45"/>
<circle class="pu" cx="427.1" cy="384.6" r="2.45"/>
<circle class="pu" cx="419.1" cy="388.7" r="2.45"/>
<circle class="pu" cx="412.5" cy="378.2" r="2.45"/>
<circle class="pu" cx="429.2" cy="413.7" r="2.45"/>
<circle class="pu" cx="420.9" cy="385.9" r="2.45"/>
<circle class="pu" cx="413.5" cy="414" r="2.45"/>
<circle class="pu" cx="414.9" cy="387" r="2.45"/>
<circle class="pu" cx="424.9" cy="391.3" r="2.45"/>
<circle class="pu" cx="414.1" cy="414.7" r="2.45"/>
<circle class="pu" cx="425.4" cy="414.5" r="2.45"/>
<circle class="pu" cx="424.1" cy="390.9" r="2.45"/>
<circle class="pu" cx="413.3" cy="391.6" r="2.45"/>
<circle class="pu" cx="415.8" cy="372.8" r="2.45"/>
<circle class="pu" cx="420.9" cy="388.4" r="2.45"/>
<circle class="pu" cx="435.4" cy="414.4" r="2.45"/>
<circle class="pu" cx="411.2" cy="376.7" r="2.45"/>
<circle class="pu" cx="428.3" cy="392.5" r="2.45"/>
<circle class="pu" cx="423.9" cy="403.2" r="2.45"/>
<circle class="pu" cx="415.6" cy="393" r="2.45"/>
<circle class="pu" cx="431.6" cy="408.8" r="2.45"/>
<circle class="pu" cx="422.4" cy="428.1" r="2.45"/>
<circle class="pu" cx="419.5" cy="430.3" r="2.45"/>
<circle class="pu" cx="422.6" cy="403.4" r="2.45"/>
<circle class="pu" cx="430.2" cy="408.7" r="2.45"/>
<circle class="pu" cx="413.8" cy="411.8" r="2.45"/>
<circle class="pu" cx="412" cy="428" r="2.45"/>
<circle class="pu" cx="409.9" cy="391.8" r="2.45"/>
<circle class="pu" cx="429.4" cy="388.5" r="2.45"/>
<circle class="pu" cx="417.3" cy="402.6" r="2.45"/>
<circle class="pu" cx="425.3" cy="396.1" r="2.45"/>
<circle class="pu" cx="410.3" cy="394.6" r="2.45"/>
<circle class="pu" cx="422.8" cy="423.8" r="2.45"/>
<circle class="pu" cx="410.8" cy="396.4" r="2.45"/>
<circle class="pu" cx="411.3" cy="406.4" r="2.45"/>
<circle class="pu" cx="432.2" cy="396.8" r="2.45"/>
<circle class="pu" cx="423.9" cy="416.5" r="2.45"/>
<circle class="pu" cx="432.1" cy="399.8" r="2.45"/>
<circle class="pu" cx="423.7" cy="379.9" r="2.45"/>
<circle class="pu" cx="416.4" cy="407.1" r="2.45"/>
<circle class="pu" cx="426" cy="403.6" r="2.45"/>
<circle class="pu" cx="414.9" cy="376.7" r="2.45"/>
<circle class="pu" cx="407.3" cy="391.3" r="2.45"/>
<circle class="pu" cx="417.6" cy="380.9" r="2.45"/>
<circle class="pu" cx="425.6" cy="383.7" r="2.45"/>
<circle class="pu" cx="417.7" cy="406.4" r="2.45"/>
<circle class="pu" cx="415.9" cy="416.4" r="2.45"/>
<circle class="pu" cx="424" cy="375.8" r="2.45"/>
<circle class="pu" cx="413.4" cy="389.2" r="2.45"/>
<circle class="pu" cx="412.5" cy="415.5" r="2.45"/>
<circle class="pu" cx="426.9" cy="419.1" r="2.45"/>
<circle class="pu" cx="423.9" cy="382.6" r="2.45"/>
<circle class="pu" cx="411.4" cy="409.1" r="2.45"/>
<circle class="pu" cx="427.3" cy="413.5" r="2.45"/>
<circle class="pu" cx="429.4" cy="400.5" r="2.45"/>
<circle class="pu" cx="420.4" cy="419.6" r="2.45"/>
<circle class="pu" cx="416.5" cy="402.1" r="2.45"/>
<circle class="pu" cx="423.6" cy="418.7" r="2.45"/>
<circle class="pu" cx="414.6" cy="413.3" r="2.45"/>
<circle class="pu" cx="419.3" cy="416" r="2.45"/>
<circle class="pu" cx="424.7" cy="395.9" r="2.45"/>
<circle class="pu" cx="415.9" cy="399" r="2.45"/>
<circle class="pu" cx="422.1" cy="402.7" r="2.45"/>
<circle class="pu" cx="430.2" cy="394.9" r="2.45"/>
<circle class="pu" cx="423.5" cy="384.3" r="2.45"/>
<circle class="pu" cx="408.5" cy="380" r="2.45"/>
<circle class="pu" cx="412.1" cy="387.2" r="2.45"/>
<circle class="pu" cx="427.5" cy="409.2" r="2.45"/>
<circle class="pu" cx="425.6" cy="377.7" r="2.45"/>
<circle class="pu" cx="429.2" cy="406.4" r="2.45"/>
<circle class="pu" cx="412.3" cy="377.9" r="2.45"/>
<circle class="pu" cx="419.6" cy="400.8" r="2.45"/>
<circle class="pu" cx="413.7" cy="386.1" r="2.45"/>
<circle class="pu" cx="409.6" cy="405" r="2.45"/>
<circle class="pu" cx="412.8" cy="387.9" r="2.45"/>
<circle class="pu" cx="421.1" cy="382.8" r="2.45"/>
<circle class="pu" cx="414.7" cy="381.3" r="2.45"/>
<circle class="pu" cx="412.6" cy="405.6" r="2.45"/>
<circle class="pu" cx="415.4" cy="395.5" r="2.45"/>
<circle class="pu" cx="427.9" cy="397" r="2.45"/>
<circle class="pu" cx="420.2" cy="384.9" r="2.45"/>
<circle class="pu" cx="422" cy="395" r="2.45"/>
<circle class="pu" cx="426" cy="414.4" r="2.45"/>
<circle class="pu" cx="418" cy="384" r="2.45"/>
<circle class="pu" cx="410.2" cy="395.4" r="2.45"/>
<circle class="pu" cx="406.7" cy="385" r="2.45"/>
<circle class="pu" cx="425.3" cy="412.4" r="2.45"/>
<circle class="pu" cx="415.2" cy="373.7" r="2.45"/>
<circle class="pu" cx="409.8" cy="377.1" r="2.45"/>
<circle class="pu" cx="420.6" cy="388.9" r="2.45"/>
<circle class="pu" cx="429.2" cy="387" r="2.45"/>
<circle class="pu" cx="418.8" cy="415.5" r="2.45"/>
<circle class="pu" cx="434.4" cy="416.2" r="2.45"/>
<circle class="pu" cx="417.7" cy="384" r="2.45"/>
<circle class="pu" cx="416.6" cy="377.4" r="2.45"/>
<circle class="pu" cx="417.7" cy="420.4" r="2.45"/>
<circle class="pu" cx="422" cy="386.5" r="2.45"/>
<circle class="pu" cx="412" cy="391.3" r="2.45"/>
<circle class="pu" cx="427.1" cy="385.2" r="2.45"/>
<circle class="pu" cx="415.1" cy="390.6" r="2.45"/>
<circle class="pu" cx="418.2" cy="373.2" r="2.45"/>
<circle class="pu" cx="420.5" cy="376.9" r="2.45"/>
<circle class="pu" cx="420.2" cy="406.3" r="2.45"/>
<circle class="pu" cx="411.5" cy="402.8" r="2.45"/>
<circle class="pu" cx="409.9" cy="405" r="2.45"/>
<circle class="pu" cx="424.2" cy="381.7" r="2.45"/>
<circle class="pu" cx="407.3" cy="405.7" r="2.45"/>
<circle class="pu" cx="412.4" cy="422.7" r="2.45"/>
<circle class="pu" cx="431.9" cy="402.9" r="2.45"/>
<circle class="pu" cx="417" cy="432" r="2.45"/>
<circle class="pu" cx="436" cy="389" r="2.45"/>
<circle class="pu" cx="418.4" cy="405.7" r="2.45"/>
<circle class="pu" cx="414.4" cy="375.9" r="2.45"/>
<circle class="pu" cx="425.9" cy="408.5" r="2.45"/>
<circle class="pu" cx="418.4" cy="395.4" r="2.45"/>
<circle class="pu" cx="424.9" cy="397.2" r="2.45"/>
<circle class="pu" cx="423" cy="417.2" r="2.45"/>
<circle class="pu" cx="431" cy="399.3" r="2.45"/>
<circle class="pu" cx="414.6" cy="398.1" r="2.45"/>
<circle class="pu" cx="428.4" cy="402.4" r="2.45"/>
<circle class="pu" cx="418.2" cy="405.1" r="2.45"/>
<circle class="pu" cx="416.7" cy="401.5" r="2.45"/>
<circle class="pu" cx="424.1" cy="408.7" r="2.45"/>
<circle class="pu" cx="424.8" cy="391.1" r="2.45"/>
<circle class="pu" cx="427.1" cy="413.7" r="2.45"/>
<circle class="pu" cx="408.2" cy="404.6" r="2.45"/>
<circle class="pu" cx="417.9" cy="415.9" r="2.45"/>
<circle class="pu" cx="414.7" cy="405.9" r="2.45"/>
<circle class="pu" cx="425" cy="394.3" r="2.45"/>
<circle class="pu" cx="409.4" cy="401.6" r="2.45"/>
<circle class="pu" cx="419.2" cy="406.4" r="2.45"/>
<circle class="pu" cx="416.5" cy="386.8" r="2.45"/>
<circle class="pu" cx="411" cy="410.9" r="2.45"/>
<circle class="pu" cx="420.8" cy="375.6" r="2.45"/>
<circle class="pu" cx="410.3" cy="396.9" r="2.45"/>
<circle class="pu" cx="419.9" cy="396.6" r="2.45"/>
<circle class="pu" cx="413.4" cy="411.2" r="2.45"/>
<circle class="pu" cx="412.7" cy="412.2" r="2.45"/>
<circle class="pu" cx="431.3" cy="401.6" r="2.45"/>
<circle class="pu" cx="430.8" cy="404.4" r="2.45"/>
<circle class="pu" cx="427.2" cy="391.1" r="2.45"/>
<circle class="pu" cx="423.7" cy="387.2" r="2.45"/>
<circle class="pu" cx="418.4" cy="377.3" r="2.45"/>
<circle class="pu" cx="409.7" cy="369.5" r="2.45"/>
<circle class="pu" cx="412.9" cy="385.8" r="2.45"/>
<circle class="pu" cx="422.7" cy="379.3" r="2.45"/>
<circle class="pu" cx="416.8" cy="390.6" r="2.45"/>
<circle class="pu" cx="430.6" cy="414.5" r="2.45"/>
<circle class="pu" cx="421.5" cy="408.6" r="2.45"/>
<circle class="pu" cx="402" cy="383" r="2.45"/>
<circle class="pu" cx="415.2" cy="382.3" r="2.45"/>
<circle class="pu" cx="414.4" cy="389.4" r="2.45"/>
<circle class="pu" cx="415" cy="395.5" r="2.45"/>
<circle class="pu" cx="413.8" cy="396.5" r="2.45"/>
<circle class="pu" cx="418.6" cy="401.5" r="2.45"/>
<circle class="pu" cx="408.2" cy="387.3" r="2.45"/>
<circle class="pu" cx="413.3" cy="385.7" r="2.45"/>
<circle class="pu" cx="415.1" cy="392.1" r="2.45"/>
<circle class="pu" cx="413.4" cy="367.4" r="2.45"/>
<circle class="pu" cx="409.9" cy="389.5" r="2.45"/>
<circle class="pu" cx="427.2" cy="378.3" r="2.45"/>
<circle class="pu" cx="425.2" cy="403.3" r="2.45"/>
<circle class="pu" cx="407.1" cy="387.4" r="2.45"/>
<circle class="pu" cx="416.7" cy="363.5" r="2.45"/>
<circle class="pu" cx="410.5" cy="388.3" r="2.45"/>
<circle class="pu" cx="410.7" cy="382.3" r="2.45"/>
<circle class="pu" cx="417" cy="405.3" r="2.45"/>
<circle class="pu" cx="412.5" cy="377.5" r="2.45"/>
<polygon class="pus" points="420.7,399.3 421.7,401.9 424.3,402 422.2,403.6 422.9,406.2 420.7,404.7 418.5,406.2 419.2,403.6 417.1,402 419.8,401.9"/>
<circle class="pu" cx="421.2" cy="381.5" r="2.45"/>
<circle class="pu" cx="419.7" cy="393.1" r="2.45"/>
<circle class="pu" cx="418.6" cy="410.6" r="2.45"/>
<polygon class="pus" points="427.7,400.8 428.7,403.3 431.4,403.4 429.3,405.1 430,407.7 427.7,406.2 425.5,407.7 426.2,405.1 424.1,403.4 426.8,403.3"/>
<circle class="pu" cx="425.1" cy="411.3" r="2.45"/>
<circle class="pu" cx="424.2" cy="385.7" r="2.45"/>
<polygon class="pus" points="428.8,385.6 429.7,388.1 432.4,388.2 430.3,389.9 431,392.5 428.8,391 426.6,392.5 427.3,389.9 425.2,388.2 427.9,388.1"/>
<polygon class="pus" points="423.7,374.3 424.6,376.8 427.3,376.9 425.2,378.6 425.9,381.1 423.7,379.7 421.4,381.1 422.1,378.6 420.1,376.9 422.7,376.8"/>
<circle class="pu" cx="419.6" cy="415.9" r="2.45"/>
<polygon class="pus" points="418.7,404.5 419.7,407 422.3,407.1 420.2,408.8 420.9,411.4 418.7,409.9 416.5,411.4 417.2,408.8 415.1,407.1 417.8,407"/>
<circle class="pu" cx="416.3" cy="396.6" r="2.45"/>
<circle class="pu" cx="424.6" cy="388.9" r="2.45"/>
<polygon class="pus" points="417.2,400.5 418.2,403 420.8,403.1 418.7,404.8 419.5,407.4 417.2,405.9 415,407.4 415.7,404.8 413.6,403.1 416.3,403"/>
<polygon class="pus" points="416.6,374.1 417.5,376.6 420.2,376.8 418.1,378.4 418.8,381 416.6,379.5 414.3,381 415,378.4 412.9,376.8 415.6,376.6"/>
<circle class="pu" cx="419.9" cy="389.6" r="2.45"/>
<polygon class="pus" points="416.2,364 417.1,366.5 419.8,366.6 417.7,368.3 418.4,370.9 416.2,369.4 413.9,370.9 414.6,368.3 412.5,366.6 415.2,366.5"/>
<circle class="pu" cx="419" cy="372.5" r="2.45"/>
<circle class="pu" cx="430.1" cy="392.3" r="2.45"/>
<polygon class="pus" points="421,372.3 422,374.8 424.6,374.9 422.6,376.6 423.3,379.2 421,377.7 418.8,379.2 419.5,376.6 417.4,374.9 420.1,374.8"/>
<polygon class="pus" points="415.7,361.1 416.7,363.6 419.3,363.8 417.2,365.4 417.9,368 415.7,366.5 413.5,368 414.2,365.4 412.1,363.8 414.8,363.6"/>
<polygon class="pus" points="421,388.3 421.9,390.8 424.6,390.9 422.5,392.5 423.2,395.1 421,393.6 418.7,395.1 419.4,392.5 417.4,390.9 420,390.8"/>
<polygon class="pus" points="421.1,382.2 422,384.7 424.7,384.8 422.6,386.5 423.3,389.1 421.1,387.6 418.9,389.1 419.6,386.5 417.5,384.8 420.2,384.7"/>
<circle class="pu" cx="415.8" cy="417" r="2.45"/>
<polygon class="pus" points="418.6,359.9 419.5,362.5 422.2,362.6 420.1,364.2 420.8,366.8 418.6,365.3 416.4,366.8 417.1,364.2 415,362.6 417.7,362.5"/>
<polygon class="pus" points="424.9,357.8 425.8,360.4 428.5,360.5 426.4,362.1 427.1,364.7 424.9,363.2 422.7,364.7 423.4,362.1 421.3,360.5 423.9,360.4"/>
<polygon class="pus" points="424.6,370.6 425.5,373.1 428.2,373.2 426.1,374.9 426.8,377.4 424.6,376 422.3,377.4 423.1,374.9 421,373.2 423.6,373.1"/>
<polygon class="pus" points="424.4,359.7 425.4,362.2 428,362.3 425.9,364 426.7,366.6 424.4,365.1 422.2,366.6 422.9,364 420.8,362.3 423.5,362.2"/>
<polygon class="pus" points="416.3,358.3 417.3,360.8 420,360.9 417.9,362.6 418.6,365.1 416.3,363.7 414.1,365.1 414.8,362.6 412.7,360.9 415.4,360.8"/>
<circle class="pu" cx="425.6" cy="403.8" r="2.45"/>
<circle class="pu" cx="423.5" cy="381.7" r="2.45"/>
<polygon class="pus" points="428,400.9 428.9,403.4 431.6,403.5 429.5,405.2 430.2,407.8 428,406.3 425.7,407.8 426.5,405.2 424.4,403.5 427,403.4"/>
<polygon class="pus" points="424.9,394.8 425.8,397.3 428.5,397.4 426.4,399.1 427.1,401.7 424.9,400.2 422.6,401.7 423.4,399.1 421.3,397.4 423.9,397.3"/>
<polygon class="pus" points="419.7,402.8 420.7,405.3 423.3,405.5 421.2,407.1 421.9,409.7 419.7,408.2 417.5,409.7 418.2,407.1 416.1,405.5 418.8,405.3"/>
<circle class="pu" cx="424.4" cy="385.6" r="2.45"/>
<polygon class="pus" points="412,358.3 412.9,360.8 415.6,361 413.5,362.6 414.2,365.2 412,363.7 409.8,365.2 410.5,362.6 408.4,361 411.1,360.8"/>
<polygon class="pus" points="416.8,361.1 417.7,363.6 420.4,363.8 418.3,365.4 419,368 416.8,366.5 414.6,368 415.3,365.4 413.2,363.8 415.8,363.6"/>
<circle class="or" cx="394.7" cy="333.2" r="2.45"/>
<circle class="or" cx="382.5" cy="346.7" r="2.45"/>
<circle class="or" cx="389.6" cy="280" r="2.45"/>
<circle class="or" cx="374.1" cy="343.3" r="2.45"/>
<circle class="or" cx="396.6" cy="337.9" r="2.45"/>
<circle class="rd" cx="401.2" cy="309.4" r="2.45"/>
<circle class="or" cx="383" cy="328.1" r="2.45"/>
<circle class="rd" cx="406.6" cy="320.8" r="2.45"/>
<circle class="rd" cx="402.4" cy="342.5" r="2.45"/>
<circle class="rd" cx="414.7" cy="304.5" r="2.45"/>
<circle class="or" cx="402.6" cy="322.1" r="2.45"/>
<circle class="or" cx="390.6" cy="315.5" r="2.45"/>
<circle class="rd" cx="404.8" cy="361.4" r="2.45"/>
<circle class="rd" cx="400.8" cy="307.7" r="2.45"/>
<circle class="rd" cx="414.1" cy="354.2" r="2.45"/>
<circle class="or" cx="390" cy="318.5" r="2.45"/>
<circle class="or" cx="402" cy="344.3" r="2.45"/>
<circle class="rd" cx="405.3" cy="326.8" r="2.45"/>
<circle class="or" cx="403.8" cy="320.7" r="2.45"/>
<circle class="or" cx="386.9" cy="315.9" r="2.45"/>
<circle class="rd" cx="411.4" cy="321.1" r="2.45"/>
<circle class="or" cx="383.3" cy="320.8" r="2.45"/>
<circle class="rd" cx="389.5" cy="310.5" r="2.45"/>
<circle class="or" cx="378.9" cy="326.3" r="2.45"/>
<circle class="rd" cx="408.6" cy="335.9" r="2.45"/>
<circle class="or" cx="385.2" cy="337.3" r="2.45"/>
<circle class="rd" cx="414.2" cy="336.4" r="2.45"/>
<circle class="rd" cx="401.8" cy="346.5" r="2.45"/>
<circle class="or" cx="395.5" cy="316.8" r="2.45"/>
<circle class="or" cx="385.1" cy="312.9" r="2.45"/>
<circle class="or" cx="383" cy="303.1" r="2.45"/>
<circle class="or" cx="381.1" cy="335.2" r="2.45"/>
<circle class="rd" cx="398" cy="308.5" r="2.45"/>
<circle class="or" cx="382.8" cy="302.2" r="2.45"/>
<circle class="or" cx="380.8" cy="338.3" r="2.45"/>
<circle class="or" cx="382.3" cy="299.1" r="2.45"/>
<circle class="or" cx="382.2" cy="323.6" r="2.45"/>
<circle class="or" cx="386.5" cy="330.2" r="2.45"/>
<circle class="rd" cx="407.4" cy="349" r="2.45"/>
<circle class="rd" cx="401.1" cy="345.7" r="2.45"/>
<circle class="or" cx="379.6" cy="333.6" r="2.45"/>
<circle class="or" cx="392.5" cy="327.7" r="2.45"/>
<circle class="rd" cx="418.3" cy="322.6" r="2.45"/>
<circle class="rd" cx="411.2" cy="343" r="2.45"/>
<circle class="or" cx="395.3" cy="317.7" r="2.45"/>
<circle class="rd" cx="407" cy="350.6" r="2.45"/>
<circle class="or" cx="387" cy="339.2" r="2.45"/>
<circle class="or" cx="379" cy="317.6" r="2.45"/>
<circle class="rd" cx="411" cy="315.7" r="2.45"/>
<circle class="or" cx="395.4" cy="324.5" r="2.45"/>
<circle class="rd" cx="412.6" cy="342.8" r="2.45"/>
<circle class="rd" cx="400.1" cy="308.4" r="2.45"/>
<circle class="or" cx="396.6" cy="335.9" r="2.45"/>
<circle class="or" cx="372.4" cy="331.7" r="2.45"/>
<circle class="rd" cx="413.2" cy="322.4" r="2.45"/>
<circle class="rd" cx="412.3" cy="352" r="2.45"/>
<circle class="or" cx="370.1" cy="315.8" r="2.45"/>
<circle class="rd" cx="404.8" cy="319.4" r="2.45"/>
<circle class="or" cx="384.5" cy="312.9" r="2.45"/>
<circle class="rd" cx="407.9" cy="338.7" r="2.45"/>
<circle class="or" cx="369.1" cy="331.2" r="2.45"/>
<circle class="rd" cx="413.6" cy="324.6" r="2.45"/>
<circle class="rd" cx="410.2" cy="312.4" r="2.45"/>
<circle class="or" cx="378.6" cy="346" r="2.45"/>
<circle class="rd" cx="401.6" cy="315.8" r="2.45"/>
<circle class="rd" cx="401.8" cy="315.4" r="2.45"/>
<circle class="or" cx="372" cy="328.6" r="2.45"/>
<circle class="or" cx="391.9" cy="330.7" r="2.45"/>
<circle class="rd" cx="394.3" cy="334.2" r="2.45"/>
<circle class="rd" cx="417.4" cy="335.9" r="2.45"/>
<circle class="rd" cx="409.1" cy="312" r="2.45"/>
<circle class="or" cx="390.3" cy="346.6" r="2.45"/>
<circle class="rd" cx="420.4" cy="317.3" r="2.45"/>
<circle class="or" cx="396.9" cy="325.1" r="2.45"/>
<circle class="or" cx="378" cy="345.3" r="2.45"/>
<circle class="rd" cx="399.2" cy="327.3" r="2.45"/>
<circle class="or" cx="376.2" cy="295" r="2.45"/>
<circle class="rd" cx="405.2" cy="316.6" r="2.45"/>
<circle class="rd" cx="417.2" cy="351.6" r="2.45"/>
<circle class="rd" cx="408.5" cy="330.1" r="2.45"/>
<circle class="rd" cx="415.6" cy="318.8" r="2.45"/>
<circle class="rd" cx="411.2" cy="319" r="2.45"/>
<circle class="or" cx="379.2" cy="318.1" r="2.45"/>
<circle class="rd" cx="400.9" cy="328.4" r="2.45"/>
<circle class="or" cx="390.7" cy="302.7" r="2.45"/>
<circle class="or" cx="390.7" cy="323" r="2.45"/>
<circle class="rd" cx="412.6" cy="343.3" r="2.45"/>
<circle class="rd" cx="400.4" cy="329.1" r="2.45"/>
<circle class="or" cx="390.3" cy="338.1" r="2.45"/>
<circle class="rd" cx="409.3" cy="333.9" r="2.45"/>
<circle class="or" cx="387" cy="320.9" r="2.45"/>
<circle class="rd" cx="408.5" cy="339.9" r="2.45"/>
<circle class="rd" cx="399.9" cy="334.9" r="2.45"/>
<circle class="or" cx="397.2" cy="319" r="2.45"/>
<circle class="rd" cx="396.6" cy="329.8" r="2.45"/>
<circle class="or" cx="376.4" cy="303.9" r="2.45"/>
<circle class="or" cx="385.5" cy="305.8" r="2.45"/>
<circle class="rd" cx="408.3" cy="326.9" r="2.45"/>
<circle class="rd" cx="415.8" cy="339.3" r="2.45"/>
<circle class="rd" cx="403.3" cy="303.2" r="2.45"/>
<circle class="or" cx="394.5" cy="338.7" r="2.45"/>
<circle class="rd" cx="403.6" cy="333.5" r="2.45"/>
<circle class="or" cx="384.7" cy="314.4" r="2.45"/>
<circle class="or" cx="387.7" cy="334.3" r="2.45"/>
<circle class="or" cx="384.1" cy="309.9" r="2.45"/>
<circle class="rd" cx="414.6" cy="327.3" r="2.45"/>
<circle class="or" cx="374.9" cy="304.6" r="2.45"/>
<circle class="rd" cx="403.4" cy="345.6" r="2.45"/>
<circle class="rd" cx="412.3" cy="327.7" r="2.45"/>
<circle class="rd" cx="403.4" cy="316.1" r="2.45"/>
<circle class="or" cx="387.8" cy="369.7" r="2.45"/>
<circle class="rd" cx="401.5" cy="350.5" r="2.45"/>
<circle class="rd" cx="403.5" cy="334" r="2.45"/>
<circle class="or" cx="381.3" cy="302.7" r="2.45"/>
<circle class="or" cx="382.7" cy="299.6" r="2.45"/>
<circle class="or" cx="372.2" cy="311.8" r="2.45"/>
<circle class="rd" cx="399.4" cy="321.1" r="2.45"/>
<circle class="or" cx="395.4" cy="337.8" r="2.45"/>
<circle class="rd" cx="404.2" cy="324" r="2.45"/>
<circle class="rd" cx="395.6" cy="308.7" r="2.45"/>
<circle class="or" cx="377.5" cy="341.7" r="2.45"/>
<circle class="rd" cx="413.6" cy="305.8" r="2.45"/>
<circle class="or" cx="388.2" cy="297.7" r="2.45"/>
<circle class="or" cx="377.7" cy="325" r="2.45"/>
<circle class="rd" cx="406.1" cy="331" r="2.45"/>
<circle class="or" cx="372.5" cy="318.1" r="2.45"/>
<circle class="or" cx="401.1" cy="306" r="2.45"/>
<circle class="or" cx="376" cy="336.2" r="2.45"/>
<circle class="or" cx="378.6" cy="314" r="2.45"/>
<circle class="or" cx="377" cy="334.3" r="2.45"/>
<circle class="rd" cx="402.5" cy="349.1" r="2.45"/>
<circle class="rd" cx="411" cy="328" r="2.45"/>
<circle class="or" cx="375.3" cy="343.3" r="2.45"/>
<circle class="or" cx="394.9" cy="334.8" r="2.45"/>
<circle class="rd" cx="420.6" cy="318.3" r="2.45"/>
<circle class="rd" cx="395.6" cy="324.9" r="2.45"/>
<circle class="rd" cx="403.9" cy="311.6" r="2.45"/>
<circle class="rd" cx="390.4" cy="315.4" r="2.45"/>
<circle class="rd" cx="397.6" cy="315.9" r="2.45"/>
<circle class="or" cx="376.3" cy="317.9" r="2.45"/>
<circle class="rd" cx="396.2" cy="342.7" r="2.45"/>
<circle class="or" cx="370.3" cy="317.1" r="2.45"/>
<circle class="or" cx="373.3" cy="336.7" r="2.45"/>
<circle class="rd" cx="414.3" cy="355.2" r="2.45"/>
<circle class="rd" cx="409.5" cy="350.5" r="2.45"/>
<circle class="or" cx="381.5" cy="349.5" r="2.45"/>
<circle class="or" cx="383.4" cy="333.8" r="2.45"/>
<circle class="or" cx="374.3" cy="311.8" r="2.45"/>
<circle class="or" cx="385.3" cy="319.8" r="2.45"/>
<circle class="or" cx="394.2" cy="345" r="2.45"/>
<circle class="or" cx="398.2" cy="331" r="2.45"/>
<circle class="rd" cx="400" cy="318.8" r="2.45"/>
<circle class="rd" cx="412.7" cy="337.2" r="2.45"/>
<circle class="or" cx="384.9" cy="302.5" r="2.45"/>
<circle class="rd" cx="396.9" cy="306.5" r="2.45"/>
<circle class="or" cx="375" cy="364" r="2.45"/>
<circle class="rd" cx="408.5" cy="318.1" r="2.45"/>
<circle class="or" cx="377.7" cy="318.6" r="2.45"/>
<circle class="rd" cx="404.8" cy="346.4" r="2.45"/>
<circle class="or" cx="378.2" cy="329.3" r="2.45"/>
<circle class="or" cx="390.2" cy="323.1" r="2.45"/>
<circle class="rd" cx="409.4" cy="360" r="2.45"/>
<circle class="or" cx="368" cy="304" r="2.45"/>
<circle class="or" cx="397.9" cy="326.5" r="2.45"/>
<circle class="rd" cx="385.5" cy="364" r="2.45"/>
<circle class="rd" cx="404.7" cy="338.5" r="2.45"/>
<circle class="or" cx="404.6" cy="320.7" r="2.45"/>
<circle class="or" cx="370.2" cy="326.3" r="2.45"/>
<circle class="rd" cx="403" cy="309.7" r="2.45"/>
<circle class="rd" cx="401.7" cy="343.6" r="2.45"/>
<circle class="or" cx="394.2" cy="332.8" r="2.45"/>
<circle class="or" cx="396.9" cy="329.3" r="2.45"/>
<circle class="or" cx="395" cy="319.9" r="2.45"/>
<circle class="rd" cx="392.2" cy="327.7" r="2.45"/>
<circle class="rd" cx="402" cy="321.5" r="2.45"/>
<circle class="or" cx="391.3" cy="347.2" r="2.45"/>
<circle class="or" cx="393.1" cy="326.4" r="2.45"/>
<circle class="rd" cx="403.3" cy="343.2" r="2.45"/>
<circle class="rd" cx="391" cy="308.7" r="2.45"/>
<circle class="or" cx="372" cy="339" r="2.45"/>
<circle class="or" cx="365.6" cy="314.5" r="2.45"/>
<circle class="or" cx="386.6" cy="339.4" r="2.45"/>
<circle class="or" cx="385.6" cy="350.7" r="2.45"/>
<circle class="or" cx="382.1" cy="314.7" r="2.45"/>
<circle class="rd" cx="393.1" cy="316.5" r="2.45"/>
<circle class="or" cx="401.7" cy="319.3" r="2.45"/>
<circle class="or" cx="397.7" cy="309.2" r="2.45"/>
<circle class="rd" cx="402.8" cy="339.3" r="2.45"/>
<circle class="rd" cx="409" cy="354.5" r="2.45"/>
<circle class="rd" cx="412.9" cy="360.9" r="2.45"/>
<circle class="rd" cx="416.1" cy="328.9" r="2.45"/>
<circle class="rd" cx="413" cy="317.1" r="2.45"/>
<circle class="or" cx="384.1" cy="316.9" r="2.45"/>
<circle class="or" cx="387.5" cy="313.8" r="2.45"/>
<circle class="rd" cx="391.8" cy="332.2" r="2.45"/>
<circle class="or" cx="378.6" cy="357.3" r="2.45"/>
<circle class="rd" cx="398.8" cy="322.3" r="2.45"/>
<circle class="rd" cx="424" cy="333" r="2.45"/>
<circle class="or" cx="395.1" cy="324.5" r="2.45"/>
<circle class="rd" cx="407.5" cy="322.4" r="2.45"/>
<circle class="or" cx="391.4" cy="337.9" r="2.45"/>
<circle class="or" cx="394.5" cy="324.4" r="2.45"/>
<circle class="or" cx="368.3" cy="334.2" r="2.45"/>
<circle class="or" cx="381.2" cy="331.1" r="2.45"/>
<circle class="rd" cx="412.4" cy="365.4" r="2.45"/>
<circle class="rd" cx="402.4" cy="309.3" r="2.45"/>
<circle class="rd" cx="397.1" cy="314.1" r="2.45"/>
<circle class="or" cx="373.2" cy="330.9" r="2.45"/>
<circle class="rd" cx="410.5" cy="358.1" r="2.45"/>
<circle class="rd" cx="393.5" cy="312.4" r="2.45"/>
<circle class="rd" cx="392.4" cy="317.4" r="2.45"/>
<circle class="rd" cx="411.5" cy="322.9" r="2.45"/>
<circle class="or" cx="384.9" cy="320" r="2.45"/>
<circle class="or" cx="378.1" cy="319.7" r="2.45"/>
<circle class="or" cx="386.7" cy="324.5" r="2.45"/>
<circle class="or" cx="372" cy="321.9" r="2.45"/>
<circle class="rd" cx="400.6" cy="318.5" r="2.45"/>
<circle class="or" cx="383.9" cy="322.4" r="2.45"/>
<circle class="rd" cx="412.3" cy="314.7" r="2.45"/>
<circle class="or" cx="383.6" cy="341.5" r="2.45"/>
<circle class="or" cx="397.2" cy="340.5" r="2.45"/>
<circle class="rd" cx="404.6" cy="346.6" r="2.45"/>
<circle class="or" cx="379.8" cy="334.5" r="2.45"/>
<circle class="rd" cx="392.7" cy="310.9" r="2.45"/>
<circle class="or" cx="391.6" cy="336.1" r="2.45"/>
<circle class="rd" cx="397.9" cy="344.8" r="2.45"/>
<circle class="rd" cx="406.4" cy="318.9" r="2.45"/>
<circle class="rd" cx="404" cy="318.4" r="2.45"/>
<circle class="rd" cx="411" cy="350.5" r="2.45"/>
<circle class="rd" cx="413.2" cy="327.3" r="2.45"/>
<circle class="rd" cx="415.3" cy="338.2" r="2.45"/>
<circle class="or" cx="377.3" cy="327.5" r="2.45"/>
<circle class="or" cx="388.9" cy="329.3" r="2.45"/>
<circle class="or" cx="393.3" cy="321" r="2.45"/>
<circle class="rd" cx="419.2" cy="338.8" r="2.45"/>
<circle class="rd" cx="415.4" cy="328.8" r="2.45"/>
<circle class="rd" cx="414.1" cy="354.1" r="2.45"/>
<circle class="or" cx="381.3" cy="334.3" r="2.45"/>
<circle class="rd" cx="399.1" cy="349.6" r="2.45"/>
<circle class="or" cx="370.5" cy="331.8" r="2.45"/>
<circle class="rd" cx="406.6" cy="302.4" r="2.45"/>
<circle class="rd" cx="407.8" cy="341.7" r="2.45"/>
<circle class="or" cx="393" cy="332.6" r="2.45"/>
<circle class="rd" cx="419.5" cy="335.5" r="2.45"/>
<circle class="rd" cx="419" cy="344.5" r="2.45"/>
<circle class="or" cx="379.7" cy="334.8" r="2.45"/>
<circle class="or" cx="365.4" cy="315.3" r="2.45"/>
<circle class="or" cx="375.5" cy="312.7" r="2.45"/>
<circle class="rd" cx="393.6" cy="326.5" r="2.45"/>
<circle class="or" cx="381.9" cy="329.5" r="2.45"/>
<circle class="or" cx="385.1" cy="317.6" r="2.45"/>
<circle class="rd" cx="393.9" cy="323.9" r="2.45"/>
<circle class="rd" cx="408.7" cy="323.5" r="2.45"/>
<circle class="or" cx="388.5" cy="309.6" r="2.45"/>
<circle class="rd" cx="409.1" cy="313.6" r="2.45"/>
<circle class="or" cx="389.6" cy="286" r="2.45"/>
<circle class="rd" cx="412.1" cy="314.9" r="2.45"/>
<circle class="rd" cx="409.8" cy="366.1" r="2.45"/>
<circle class="rd" cx="400.6" cy="310.6" r="2.45"/>
<circle class="rd" cx="409.6" cy="332.2" r="2.45"/>
<circle class="rd" cx="398.6" cy="327.8" r="2.45"/>
<circle class="or" cx="395.4" cy="334.4" r="2.45"/>
<circle class="or" cx="396.4" cy="337" r="2.45"/>
<circle class="rd" cx="416" cy="326.7" r="2.45"/>
<circle class="rd" cx="401.2" cy="317.8" r="2.45"/>
<circle class="rd" cx="416.4" cy="320.6" r="2.45"/>
<circle class="rd" cx="392.1" cy="342.2" r="2.45"/>
<circle class="rd" cx="402.2" cy="338.8" r="2.45"/>
<circle class="rd" cx="412.9" cy="334.1" r="2.45"/>
<circle class="rd" cx="400.7" cy="321.2" r="2.45"/>
<circle class="rd" cx="398.1" cy="342.7" r="2.45"/>
<circle class="rd" cx="416.4" cy="350.8" r="2.45"/>
<circle class="or" cx="383.2" cy="331.1" r="2.45"/>
<circle class="rd" cx="401.4" cy="322.6" r="2.45"/>
<circle class="or" cx="384" cy="314.2" r="2.45"/>
<circle class="rd" cx="388.9" cy="325.1" r="2.45"/>
<circle class="or" cx="382.3" cy="326.3" r="2.45"/>
<circle class="rd" cx="394.6" cy="326.3" r="2.45"/>
<circle class="rd" cx="393.4" cy="317.8" r="2.45"/>
<circle class="or" cx="380.3" cy="314.4" r="2.45"/>
<circle class="rd" cx="410.6" cy="342.9" r="2.45"/>
<circle class="rd" cx="413.6" cy="329.8" r="2.45"/>
<circle class="rd" cx="404.2" cy="354.7" r="2.45"/>
<circle class="or" cx="389.6" cy="330" r="2.45"/>
<circle class="or" cx="384.6" cy="355.7" r="2.45"/>
<circle class="rd" cx="402.1" cy="349.7" r="2.45"/>
<circle class="or" cx="398" cy="339" r="2.45"/>
<circle class="or" cx="389.9" cy="305.7" r="2.45"/>
<circle class="or" cx="390.5" cy="330.8" r="2.45"/>
<circle class="rd" cx="411.3" cy="354.2" r="2.45"/>
<circle class="or" cx="372.7" cy="323.6" r="2.45"/>
<circle class="or" cx="374" cy="321.3" r="2.45"/>
<circle class="or" cx="377.8" cy="337.6" r="2.45"/>
<circle class="or" cx="382.9" cy="331.6" r="2.45"/>
<circle class="or" cx="372.3" cy="326" r="2.45"/>
<circle class="rd" cx="398.2" cy="333.9" r="2.45"/>
<circle class="rd" cx="399.2" cy="345.1" r="2.45"/>
<circle class="or" cx="386.2" cy="330.4" r="2.45"/>
<circle class="or" cx="378.8" cy="302.6" r="2.45"/>
<circle class="or" cx="388.5" cy="343.8" r="2.45"/>
<circle class="or" cx="371.2" cy="329.4" r="2.45"/>
<circle class="rd" cx="426" cy="310" r="2.45"/>
<circle class="or" cx="392.6" cy="337.4" r="2.45"/>
<circle class="or" cx="389.6" cy="334.1" r="2.45"/>
<circle class="rd" cx="407.6" cy="324.8" r="2.45"/>
<circle class="or" cx="384.4" cy="341.4" r="2.45"/>
<circle class="rd" cx="407.5" cy="321.8" r="2.45"/>
<circle class="rd" cx="414.2" cy="352.8" r="2.45"/>
<circle class="rd" cx="407.5" cy="303.7" r="2.45"/>
<circle class="or" cx="403.1" cy="325.4" r="2.45"/>
<circle class="rd" cx="396" cy="322.2" r="2.45"/>
<circle class="rd" cx="410.9" cy="317.9" r="2.45"/>
<circle class="rd" cx="404.6" cy="324" r="2.45"/>
<circle class="rd" cx="395.9" cy="318.9" r="2.45"/>
<circle class="or" cx="378.1" cy="336.2" r="2.45"/>
<circle class="rd" cx="416.8" cy="330.8" r="2.45"/>
<circle class="or" cx="385.9" cy="334.7" r="2.45"/>
<circle class="rd" cx="400.6" cy="321.5" r="2.45"/>
<circle class="rd" cx="402.4" cy="302.4" r="2.45"/>
<circle class="or" cx="389.7" cy="338.5" r="2.45"/>
<circle class="or" cx="378.5" cy="310.6" r="2.45"/>
<circle class="or" cx="399.9" cy="325.5" r="2.45"/>
<circle class="or" cx="388.1" cy="323.7" r="2.45"/>
<circle class="or" cx="392.1" cy="325.9" r="2.45"/>
<circle class="rd" cx="408.1" cy="352.3" r="2.45"/>
<circle class="rd" cx="400.9" cy="305.2" r="2.45"/>
<circle class="rd" cx="402.1" cy="321.9" r="2.45"/>
<circle class="or" cx="390.1" cy="342.7" r="2.45"/>
<circle class="rd" cx="405.7" cy="317.8" r="2.45"/>
<circle class="or" cx="389.9" cy="330" r="2.45"/>
<circle class="rd" cx="406.8" cy="335.7" r="2.45"/>
<circle class="or" cx="382" cy="340" r="2.45"/>
<circle class="or" cx="383.7" cy="310.3" r="2.45"/>
<circle class="or" cx="388.7" cy="326.3" r="2.45"/>
<circle class="or" cx="388.7" cy="341.4" r="2.45"/>
<circle class="rd" cx="397.1" cy="334.9" r="2.45"/>
<circle class="rd" cx="399.4" cy="349.4" r="2.45"/>
<circle class="rd" cx="405.6" cy="338.2" r="2.45"/>
<circle class="rd" cx="404.9" cy="355.6" r="2.45"/>
<circle class="or" cx="384.1" cy="327.9" r="2.45"/>
<circle class="or" cx="384.9" cy="351.9" r="2.45"/>
<circle class="rd" cx="404.4" cy="365.4" r="2.45"/>
<circle class="or" cx="385.5" cy="315.1" r="2.45"/>
<circle class="rd" cx="414.7" cy="338.2" r="2.45"/>
<circle class="or" cx="378.5" cy="333.7" r="2.45"/>
<circle class="rd" cx="397.1" cy="324.8" r="2.45"/>
<circle class="or" cx="386.6" cy="300.4" r="2.45"/>
<circle class="or" cx="402.4" cy="332.4" r="2.45"/>
<circle class="or" cx="390.3" cy="338.9" r="2.45"/>
<circle class="rd" cx="404.1" cy="336.1" r="2.45"/>
<circle class="rd" cx="397.6" cy="341.2" r="2.45"/>
<circle class="rd" cx="409.4" cy="320.1" r="2.45"/>
<circle class="or" cx="381.4" cy="297.5" r="2.45"/>
<circle class="rd" cx="408.6" cy="337" r="2.45"/>
<circle class="rd" cx="397.3" cy="323.8" r="2.45"/>
<circle class="rd" cx="392.1" cy="324.4" r="2.45"/>
<circle class="or" cx="383.5" cy="336.8" r="2.45"/>
<circle class="rd" cx="405.8" cy="338.9" r="2.45"/>
<circle class="or" cx="390.2" cy="347.4" r="2.45"/>
<circle class="rd" cx="403.5" cy="352.9" r="2.45"/>
<circle class="or" cx="379" cy="331.4" r="2.45"/>
<circle class="rd" cx="410.6" cy="327.1" r="2.45"/>
<circle class="or" cx="373" cy="313.4" r="2.45"/>
<circle class="or" cx="389.3" cy="322.6" r="2.45"/>
<circle class="or" cx="370.3" cy="348" r="2.45"/>
<circle class="or" cx="392.7" cy="343" r="2.45"/>
<circle class="rd" cx="409.2" cy="323" r="2.45"/>
<circle class="rd" cx="404.9" cy="321.8" r="2.45"/>
<circle class="or" cx="395.8" cy="339.3" r="2.45"/>
<circle class="rd" cx="411.2" cy="321.1" r="2.45"/>
<circle class="or" cx="385.2" cy="306.6" r="2.45"/>
<circle class="rd" cx="419.9" cy="330.5" r="2.45"/>
<circle class="or" cx="393.2" cy="324.6" r="2.45"/>
<circle class="rd" cx="402" cy="346.1" r="2.45"/>
<circle class="rd" cx="405.1" cy="303.5" r="2.45"/>
<circle class="or" cx="382.9" cy="310.7" r="2.45"/>
<circle class="or" cx="369.5" cy="324.7" r="2.45"/>
<circle class="or" cx="369.5" cy="316.3" r="2.45"/>
<circle class="or" cx="372.8" cy="318.8" r="2.45"/>
<circle class="or" cx="377.8" cy="329.2" r="2.45"/>
<circle class="rd" cx="394.5" cy="315.8" r="2.45"/>
<circle class="or" cx="384.6" cy="351.1" r="2.45"/>
<circle class="rd" cx="398.4" cy="301.6" r="2.45"/>
<circle class="or" cx="371.2" cy="332.7" r="2.45"/>
<circle class="or" cx="398.9" cy="314.7" r="2.45"/>
<circle class="or" cx="396.1" cy="337.5" r="2.45"/>
<circle class="or" cx="378.2" cy="318.7" r="2.45"/>
<circle class="rd" cx="398.4" cy="335.7" r="2.45"/>
<circle class="rd" cx="415.9" cy="337.8" r="2.45"/>
<circle class="rd" cx="414.3" cy="345.9" r="2.45"/>
<circle class="or" cx="379.3" cy="299.6" r="2.45"/>
<circle class="or" cx="377.3" cy="338.1" r="2.45"/>
<circle class="rd" cx="406.3" cy="317.8" r="2.45"/>
<circle class="or" cx="378.3" cy="324.3" r="2.45"/>
<circle class="or" cx="382.6" cy="340.7" r="2.45"/>
<circle class="or" cx="381.5" cy="320.2" r="2.45"/>
<circle class="rd" cx="399" cy="335.2" r="2.45"/>
<circle class="rd" cx="410.9" cy="328.3" r="2.45"/>
<circle class="or" cx="392.8" cy="319" r="2.45"/>
<circle class="rd" cx="392.7" cy="326.2" r="2.45"/>
<circle class="rd" cx="389.9" cy="318.2" r="2.45"/>
<circle class="or" cx="381.8" cy="333.3" r="2.45"/>
<circle class="or" cx="381.8" cy="323.9" r="2.45"/>
<circle class="or" cx="368.5" cy="310.6" r="2.45"/>
<circle class="or" cx="385.1" cy="315" r="2.45"/>
<circle class="rd" cx="402" cy="371" r="2.45"/>
<circle class="or" cx="389.6" cy="311.9" r="2.45"/>
<circle class="or" cx="391.8" cy="339.1" r="2.45"/>
<circle class="or" cx="375.8" cy="321.9" r="2.45"/>
<circle class="rd" cx="410" cy="314.4" r="2.45"/>
<circle class="rd" cx="404.6" cy="340.4" r="2.45"/>
<circle class="or" cx="380.7" cy="320.5" r="2.45"/>
<circle class="or" cx="386.2" cy="323" r="2.45"/>
<circle class="or" cx="368.6" cy="338.9" r="2.45"/>
<circle class="rd" cx="410.7" cy="340" r="2.45"/>
<circle class="or" cx="372.5" cy="318.8" r="2.45"/>
<circle class="or" cx="392.8" cy="328.6" r="2.45"/>
<circle class="rd" cx="405.3" cy="325.5" r="2.45"/>
<circle class="rd" cx="396.8" cy="349.3" r="2.45"/>
<circle class="rd" cx="406.2" cy="337" r="2.45"/>
<circle class="rd" cx="404.9" cy="358.3" r="2.45"/>
<circle class="or" cx="392.2" cy="333.5" r="2.45"/>
<circle class="or" cx="374.6" cy="335.9" r="2.45"/>
<circle class="rd" cx="410.9" cy="337.9" r="2.45"/>
<circle class="rd" cx="412.4" cy="344" r="2.45"/>
<circle class="rd" cx="400.7" cy="339.2" r="2.45"/>
<circle class="or" cx="374.8" cy="327.1" r="2.45"/>
<circle class="rd" cx="397.9" cy="308.4" r="2.45"/>
<circle class="rd" cx="398.1" cy="301.5" r="2.45"/>
<circle class="rd" cx="408.1" cy="341.8" r="2.45"/>
<circle class="or" cx="398.9" cy="325.1" r="2.45"/>
<circle class="rd" cx="405.1" cy="350.7" r="2.45"/>
<circle class="or" cx="389.6" cy="293.7" r="2.45"/>
<circle class="or" cx="375.7" cy="300" r="2.45"/>
<circle class="rd" cx="406.6" cy="324.5" r="2.45"/>
<circle class="rd" cx="407.1" cy="304.9" r="2.45"/>
<circle class="or" cx="384.8" cy="331.7" r="2.45"/>
<circle class="rd" cx="415.5" cy="344.5" r="2.45"/>
<circle class="or" cx="389.3" cy="314.4" r="2.45"/>
<circle class="or" cx="373.8" cy="310.4" r="2.45"/>
<circle class="or" cx="398.4" cy="340.3" r="2.45"/>
<circle class="or" cx="388.2" cy="346.2" r="2.45"/>
<circle class="or" cx="394.7" cy="316.6" r="2.45"/>
<circle class="or" cx="377.2" cy="315.7" r="2.45"/>
<circle class="rd" cx="402.3" cy="320.5" r="2.45"/>
<circle class="rd" cx="410" cy="333.2" r="2.45"/>
<circle class="or" cx="393.4" cy="337.2" r="2.45"/>
<circle class="rd" cx="401.9" cy="318.2" r="2.45"/>
<circle class="rd" cx="412" cy="294" r="2.45"/>
<circle class="rd" cx="414.7" cy="354.1" r="2.45"/>
<circle class="or" cx="387.9" cy="312.1" r="2.45"/>
<circle class="or" cx="397.5" cy="342.7" r="2.45"/>
<circle class="rd" cx="393" cy="320.6" r="2.45"/>
<circle class="rd" cx="396.3" cy="300.7" r="2.45"/>
<circle class="rd" cx="397.3" cy="308.3" r="2.45"/>
<circle class="or" cx="389.7" cy="330.5" r="2.45"/>
<circle class="or" cx="396" cy="316.6" r="2.45"/>
<circle class="or" cx="380.3" cy="336.3" r="2.45"/>
<circle class="rd" cx="397.7" cy="317.8" r="2.45"/>
<circle class="rd" cx="395" cy="310.7" r="2.45"/>
<circle class="rd" cx="395.5" cy="332.5" r="2.45"/>
<circle class="rd" cx="395.6" cy="304.8" r="2.45"/>
<circle class="or" cx="382" cy="351.6" r="2.45"/>
<circle class="rd" cx="395.1" cy="327.7" r="2.45"/>
<circle class="rd" cx="401.3" cy="326.8" r="2.45"/>
<circle class="or" cx="374.8" cy="326.7" r="2.45"/>
<circle class="or" cx="397.8" cy="299" r="2.45"/>
<circle class="or" cx="396.3" cy="305.1" r="2.45"/>
<circle class="or" cx="381.9" cy="343" r="2.45"/>
<circle class="or" cx="391.4" cy="337.7" r="2.45"/>
<circle class="rd" cx="414.5" cy="342.3" r="2.45"/>
<circle class="rd" cx="399.3" cy="339.3" r="2.45"/>
<circle class="or" cx="386.9" cy="328.4" r="2.45"/>
<circle class="or" cx="386.1" cy="298.1" r="2.45"/>
<circle class="rd" cx="398" cy="377" r="2.45"/>
<circle class="rd" cx="420.8" cy="350.1" r="2.45"/>
<circle class="or" cx="391.2" cy="323.4" r="2.45"/>
<circle class="rd" cx="415.1" cy="318.8" r="2.45"/>
<circle class="or" cx="389.6" cy="306" r="2.45"/>
<circle class="rd" cx="391.7" cy="320.2" r="2.45"/>
<circle class="or" cx="376.8" cy="331.7" r="2.45"/>
<circle class="or" cx="383.5" cy="309.6" r="2.45"/>
<circle class="or" cx="385.9" cy="345.2" r="2.45"/>
<circle class="or" cx="384.6" cy="310.8" r="2.45"/>
<circle class="or" cx="377.9" cy="312.8" r="2.45"/>
<circle class="rd" cx="404.2" cy="317.4" r="2.45"/>
<circle class="rd" cx="407.8" cy="307.1" r="2.45"/>
<circle class="rd" cx="406.8" cy="336.1" r="2.45"/>
<circle class="rd" cx="409.9" cy="306.9" r="2.45"/>
<circle class="rd" cx="399.1" cy="323" r="2.45"/>
<circle class="rd" cx="409.1" cy="318.7" r="2.45"/>
<circle class="or" cx="388" cy="324.3" r="2.45"/>
<circle class="rd" cx="406" cy="349.4" r="2.45"/>
<circle class="rd" cx="407.9" cy="337.4" r="2.45"/>
<circle class="or" cx="375.3" cy="344.4" r="2.45"/>
<circle class="rd" cx="404.2" cy="338.6" r="2.45"/>
<circle class="or" cx="389" cy="291.5" r="2.45"/>
<circle class="or" cx="384.8" cy="322.5" r="2.45"/>
<polygon class="rds" points="406.8,331 407.7,333.5 410.4,333.7 408.3,335.3 409,337.9 406.8,336.4 404.5,337.9 405.3,335.3 403.2,333.7 405.8,333.5"/>
<polygon class="rds" points="413.3,328.8 414.2,331.3 416.9,331.4 414.8,333.1 415.5,335.6 413.3,334.2 411,335.6 411.8,333.1 409.7,331.4 412.3,331.3"/>
<polygon class="rds" points="409.2,341.1 410.1,343.6 412.8,343.7 410.7,345.3 411.4,347.9 409.2,346.4 407,347.9 407.7,345.3 405.6,343.7 408.3,343.6"/>
<polygon class="rds" points="410.2,329.1 411.2,331.6 413.8,331.7 411.7,333.4 412.5,336 410.2,334.5 408,336 408.7,333.4 406.6,331.7 409.3,331.6"/>
<polygon class="rds" points="410.8,344.4 411.8,346.9 414.4,347 412.4,348.7 413.1,351.3 410.8,349.8 408.6,351.3 409.3,348.7 407.2,347 409.9,346.9"/>
<polygon class="rds" points="408.2,319.2 409.2,321.7 411.8,321.8 409.8,323.5 410.5,326.1 408.2,324.6 406,326.1 406.7,323.5 404.6,321.8 407.3,321.7"/>
<polygon class="rds" points="413.5,334.1 414.4,336.6 417.1,336.7 415,338.4 415.7,341 413.5,339.5 411.3,341 412,338.4 409.9,336.7 412.6,336.6"/>
<polygon class="rds" points="405.3,336.6 406.2,339.2 408.9,339.3 406.8,340.9 407.5,343.5 405.3,342 403,343.5 403.7,340.9 401.6,339.3 404.3,339.2"/>
<polygon class="rds" points="411.9,337.3 412.8,339.8 415.5,339.9 413.4,341.6 414.1,344.1 411.9,342.7 409.6,344.1 410.3,341.6 408.2,339.9 410.9,339.8"/>
<polygon class="ors" points="392,296.2 392.9,298.7 395.6,298.8 393.5,300.5 394.2,303.1 392,301.6 389.8,303.1 390.5,300.5 388.4,298.8 391.1,298.7"/>
<polygon class="rds" points="414.8,330.6 415.7,333.1 418.4,333.2 416.3,334.9 417,337.5 414.8,336 412.6,337.5 413.3,334.9 411.2,333.2 413.9,333.1"/>
<polygon class="rds" points="403.8,331 404.8,333.5 407.4,333.6 405.3,335.3 406.1,337.9 403.8,336.4 401.6,337.9 402.3,335.3 400.2,333.6 402.9,333.5"/>
<polygon class="rds" points="405.3,344.7 406.2,347.2 408.9,347.4 406.8,349 407.5,351.6 405.3,350.1 403.1,351.6 403.8,349 401.7,347.4 404.3,347.2"/>
<polygon class="rds" points="413,326.7 413.9,329.2 416.6,329.3 414.5,331 415.2,333.6 413,332.1 410.7,333.6 411.5,331 409.4,329.3 412,329.2"/>
<polygon class="rds" points="411.2,330.1 412.1,332.6 414.8,332.7 412.7,334.4 413.4,336.9 411.2,335.5 409,336.9 409.7,334.4 407.6,332.7 410.3,332.6"/>
<polygon class="rds" points="413.8,340.4 414.7,342.9 417.4,343 415.3,344.7 416,347.3 413.8,345.8 411.6,347.3 412.3,344.7 410.2,343 412.9,342.9"/>
<polygon class="rds" points="408.2,326.4 409.1,328.9 411.8,329 409.7,330.7 410.4,333.3 408.2,331.8 405.9,333.3 406.6,330.7 404.5,329 407.2,328.9"/>
<polygon class="rds" points="412.2,335.9 413.2,338.4 415.8,338.5 413.7,340.2 414.5,342.8 412.2,341.3 410,342.8 410.7,340.2 408.6,338.5 411.3,338.4"/>
<polygon class="rds" points="411.9,340.9 412.9,343.4 415.5,343.5 413.4,345.2 414.2,347.8 411.9,346.3 409.7,347.8 410.4,345.2 408.3,343.5 411,343.4"/>
<polygon class="rds" points="408.9,333.8 409.9,336.3 412.6,336.4 410.5,338.1 411.2,340.7 408.9,339.2 406.7,340.7 407.4,338.1 405.3,336.4 408,336.3"/>
<polygon class="rds" points="405.6,336.8 406.5,339.3 409.2,339.4 407.1,341.1 407.8,343.7 405.6,342.2 403.3,343.7 404,341.1 402,339.4 404.6,339.3"/>
<polygon class="rds" points="405.2,347.4 406.1,349.9 408.8,350 406.7,351.7 407.4,354.3 405.2,352.8 403,354.3 403.7,351.7 401.6,350 404.3,349.9"/>
<polygon class="ors" points="383,311.2 383.9,313.7 386.6,313.8 384.5,315.5 385.2,318.1 383,316.6 380.8,318.1 381.5,315.5 379.4,313.8 382.1,313.7"/>
<polygon class="ors" points="390,326.2 390.9,328.7 393.6,328.8 391.5,330.5 392.2,333.1 390,331.6 387.8,333.1 388.5,330.5 386.4,328.8 389.1,328.7"/>
<polygon class="rds" points="416.5,339.7 417.5,342.2 420.2,342.3 418.1,344 418.8,346.6 416.5,345.1 414.3,346.6 415,344 412.9,342.3 415.6,342.2"/>
<polygon class="rds" points="416.4,343.6 417.4,346.1 420.1,346.2 418,347.9 418.7,350.5 416.4,349 414.2,350.5 414.9,347.9 412.8,346.2 415.5,346.1"/>
<polygon class="rds" points="410.9,353.1 411.9,355.6 414.6,355.7 412.5,357.4 413.2,359.9 410.9,358.5 408.7,359.9 409.4,357.4 407.3,355.7 410,355.6"/>
<polygon class="rds" points="402.2,332.8 403.1,335.3 405.8,335.4 403.7,337.1 404.4,339.7 402.2,338.2 399.9,339.7 400.7,337.1 398.6,335.4 401.2,335.3"/>
<polygon class="ors" points="385,348.2 385.9,350.7 388.6,350.8 386.5,352.5 387.2,355.1 385,353.6 382.8,355.1 383.5,352.5 381.4,350.8 384.1,350.7"/>
<polygon class="ors" points="378,341.2 378.9,343.7 381.6,343.8 379.5,345.5 380.2,348.1 378,346.6 375.8,348.1 376.5,345.5 374.4,343.8 377.1,343.7"/>
<polygon class="rds" points="414.3,346.2 415.3,348.7 417.9,348.8 415.8,350.5 416.6,353.1 414.3,351.6 412.1,353.1 412.8,350.5 410.7,348.8 413.4,348.7"/>
<rect x="510.2" y="269.2" width="36.2" height="15.6" fill="#000"/>
<rect x="507.7" y="266.5" width="36.2" height="15.6" fill="#f3f7d3" stroke="#a9ac96" stroke-width="0.7"/>
<text x="525.8" y="278.9" font-size="10.8" text-anchor="middle" textLength="32.5" lengthAdjust="spacingAndGlyphs">Achaia</text>
<text class="pl" x="295.5" y="294.8">d)</text>
<text class="ax" transform="translate(280.2,387.2) rotate(86.5)" font-size="10" text-anchor="middle" textLength="93.5" lengthAdjust="spacingAndGlyphs">Canonical Variable 3</text>
<text class="tk" transform="translate(286.3,291) rotate(-4)" font-size="6.8" text-anchor="middle">6</text>
<text class="tk" transform="translate(287.3,321) rotate(-4)" font-size="6.8" text-anchor="middle">4</text>
<text class="tk" transform="translate(288.3,351.5) rotate(-4)" font-size="6.8" text-anchor="middle">2</text>
<text class="tk" transform="translate(289.8,381.5) rotate(-4)" font-size="6.8" text-anchor="middle">0</text>
<text class="tk" transform="translate(290.5,411.5) rotate(-4)" font-size="6.8" text-anchor="middle">-2</text>
<text class="tk" transform="translate(291.5,441) rotate(-4)" font-size="6.8" text-anchor="middle">-4</text>
<text class="tk" transform="translate(292.8,470) rotate(-4)" font-size="6.8" text-anchor="middle">-6</text>
<text class="tk" transform="translate(306.9,481) rotate(14) skewX(-25)" font-size="5.5" text-anchor="middle">-10</text>
<text class="tk" transform="translate(332.3,486.7) rotate(14) skewX(-25)" font-size="5.5" text-anchor="middle">-5</text>
<text class="tk" transform="translate(359.6,491.5) rotate(14) skewX(-25)" font-size="5.5" text-anchor="middle">0</text>
<text class="tk" transform="translate(387,496.8) rotate(14) skewX(-25)" font-size="5.5" text-anchor="middle">5</text>
<text class="tk" transform="translate(414.6,502.5) rotate(14) skewX(-25)" font-size="5.5" text-anchor="middle">10</text>
<text class="tk" transform="translate(443,508.5) rotate(14) skewX(-25)" font-size="5.5" text-anchor="middle">15</text>
<text class="tk" transform="translate(471,515.4) rotate(14) skewX(-25)" font-size="5.5" text-anchor="middle">20</text>
<text class="ax2" transform="translate(373.5,503.5) rotate(11.6) skewX(-25)" font-size="7" text-anchor="middle" textLength="93" lengthAdjust="spacingAndGlyphs">Canonical Variable 1</text>
<text class="tk" transform="translate(484.9,512.5)" font-size="4.5" text-anchor="middle">-8</text>
<text class="tk" transform="translate(493.5,502.2)" font-size="4.5" text-anchor="middle">-6</text>
<text class="tk" transform="translate(502.2,493)" font-size="4.5" text-anchor="middle">-4</text>
<text class="tk" transform="translate(509,484)" font-size="4.5" text-anchor="middle">-2</text>
<text class="tk" transform="translate(516.5,475)" font-size="4.5" text-anchor="middle">0</text>
<text class="tk" transform="translate(524.2,466.7)" font-size="4.5" text-anchor="middle">2</text>
<text class="tk" transform="translate(531.2,458.5)" font-size="4.5" text-anchor="middle">4</text>
<text class="tk" transform="translate(538.2,450.8)" font-size="4.5" text-anchor="middle">6</text>
<text class="tk" transform="translate(544.3,443.8)" font-size="4.5" text-anchor="middle">8</text>
<text class="ax2" transform="translate(529.5,478.3) rotate(-44.7)" font-size="7" text-anchor="middle" textLength="44.8" lengthAdjust="spacingAndGlyphs">Canonical Variable 2</text>
<circle class="gy L" cx="40.7" cy="540.8" r="4.9"/>
<polygon class="gys L" points="66.9,534.5 68.5,539 73.4,539.2 69.6,542.2 70.9,546.8 66.9,544.1 62.9,546.8 64.2,542.2 60.4,539.2 65.3,539"/>
<text x="83.5" y="544.5" font-size="11.5" textLength="37.4" lengthAdjust="spacingAndGlyphs">EVOOs</text>
<circle class="gn L" cx="137.5" cy="540.8" r="4.9"/>
<polygon class="gns L" points="162.5,534.5 164.1,539 169,539.2 165.2,542.2 166.5,546.8 162.5,544.1 158.5,546.8 159.8,542.2 156,539.2 160.9,539"/>
<text x="180" y="544.5" font-size="11.5" textLength="25" lengthAdjust="spacingAndGlyphs">Corn</text>
<circle class="or L" cx="222.5" cy="540.8" r="4.9"/>
<polygon class="ors L" points="245,534.5 246.6,539 251.5,539.2 247.7,542.2 249,546.8 245,544.1 241,546.8 242.3,542.2 238.5,539.2 243.4,539"/>
<text x="261" y="544.5" font-size="11.5" textLength="41.5" lengthAdjust="spacingAndGlyphs">Pomace</text>
<circle class="rd L" cx="319" cy="540.8" r="4.9"/>
<polygon class="rds L" points="345,534.5 346.6,539 351.5,539.2 347.7,542.2 349,546.8 345,544.1 341,546.8 342.3,542.2 338.5,539.2 343.4,539"/>
<text x="360" y="544.5" font-size="11.5" textLength="42.5" lengthAdjust="spacingAndGlyphs">Soybean</text>
<circle class="pu L" cx="420" cy="540.8" r="4.9"/>
<polygon class="pus L" points="446,534.5 447.6,539 452.5,539.2 448.7,542.2 450,546.8 446,544.1 442,546.8 443.3,542.2 439.5,539.2 444.4,539"/>
<text x="461" y="544.5" font-size="11.5" textLength="50" lengthAdjust="spacingAndGlyphs">Sunflower</text>
<text x="35.5" y="563.5" font-size="10.8" textLength="265.5" lengthAdjust="spacingAndGlyphs">(Cross-validation: “circles” / External validation: “stars”)</text>
</svg>
</body></html>
